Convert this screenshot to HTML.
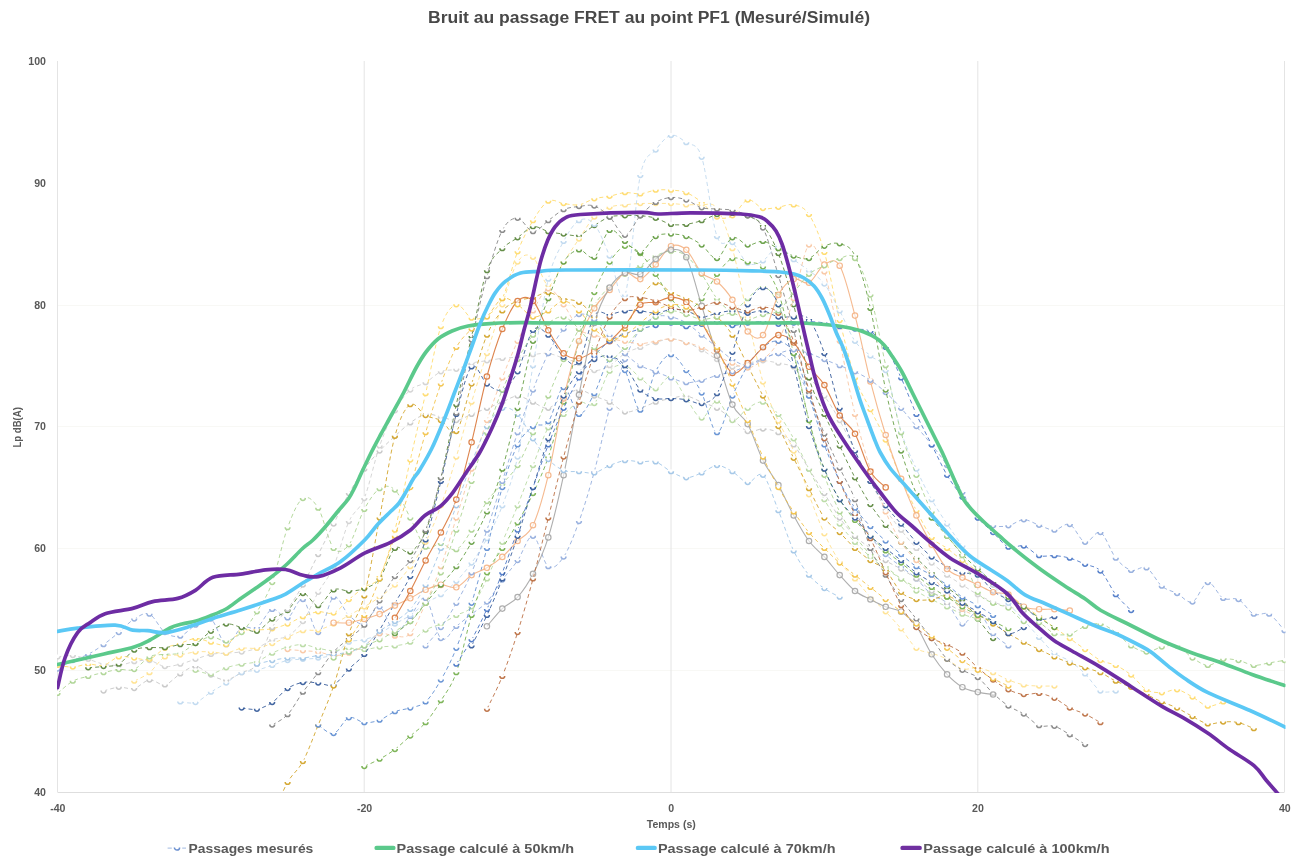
<!DOCTYPE html>
<html><head><meta charset="utf-8"><title>Chart</title>
<style>
html,body{margin:0;padding:0;background:#fff;}
body{width:1299px;height:866px;overflow:hidden;position:relative;font-family:"Liberation Sans",sans-serif;}
svg{position:absolute;left:0;top:0;will-change:transform;}
text{font-family:"Liberation Sans",sans-serif;font-weight:bold;fill:#595959;}
</style></head><body>
<svg width="1299" height="866" viewBox="0 0 1299 866">
<defs><clipPath id="cp"><rect x="57" y="40" width="1228.5" height="753"/></clipPath></defs>
<g clip-path="url(#cp)">
<line x1="57.5" x2="1284.5" y1="670.5" y2="670.5" stroke="#f8f8f5" stroke-width="1"/>
<line x1="57.5" x2="1284.5" y1="548.5" y2="548.5" stroke="#f8f8f5" stroke-width="1"/>
<line x1="57.5" x2="1284.5" y1="426.5" y2="426.5" stroke="#f8f8f5" stroke-width="1"/>
<line x1="57.5" x2="1284.5" y1="305.5" y2="305.5" stroke="#f8f8f5" stroke-width="1"/>
<line x1="57.5" x2="57.5" y1="61.0" y2="792.0" stroke="#e4e4e4" stroke-width="1"/>
<line x1="364.2" x2="364.2" y1="61.0" y2="792.0" stroke="#e4e4e4" stroke-width="1"/>
<line x1="671.0" x2="671.0" y1="61.0" y2="792.0" stroke="#e4e4e4" stroke-width="1"/>
<line x1="977.8" x2="977.8" y1="61.0" y2="792.0" stroke="#e4e4e4" stroke-width="1"/>
<line x1="1284.5" x2="1284.5" y1="61.0" y2="792.0" stroke="#e4e4e4" stroke-width="1"/>
<line x1="57.5" x2="1284.5" y1="792.5" y2="792.5" stroke="#dedede" stroke-width="1"/>
<path d="M57.5,668.9C60.1,667.5 67.7,662.9 72.8,660.4C78.0,658.0 83.1,657.0 88.2,654.3C93.3,651.7 98.4,648.2 103.5,644.6C108.6,640.9 113.7,636.7 118.8,632.4C124.0,628.1 129.1,622.0 134.2,619.0C139.3,616.0 144.4,611.9 149.5,614.1C154.6,616.4 159.8,628.7 164.9,632.4C170.0,636.1 175.1,637.3 180.2,636.1C185.3,634.8 190.4,627.9 195.5,625.1C200.7,622.2 205.8,615.7 210.9,619.0C216.0,622.2 221.1,643.2 226.2,644.6C231.3,646.0 236.4,630.4 241.6,627.5C246.7,624.7 251.8,630.6 256.9,627.5C262.0,624.5 267.1,610.9 272.2,609.2C277.3,607.6 282.4,619.4 287.6,617.8C292.7,616.2 297.8,597.1 302.9,599.5C308.0,601.9 313.1,632.8 318.2,632.4C323.4,632.0 328.5,599.9 333.6,597.1C338.7,594.2 343.8,610.9 348.9,615.3C354.0,619.8 359.1,625.3 364.2,623.9C369.4,622.4 374.5,605.4 379.6,606.8C384.7,608.2 389.8,630.8 394.9,632.4C400.0,634.0 405.1,622.2 410.3,616.6C415.4,610.9 420.5,594.6 425.6,598.3C430.7,601.9 435.8,633.8 440.9,638.5C446.1,643.2 451.2,630.4 456.3,626.3C461.4,622.2 466.5,618.2 471.6,614.1C476.7,610.1 481.8,607.6 486.9,601.9C492.1,596.3 497.2,586.9 502.3,580.0C507.4,573.1 512.5,567.8 517.6,560.5C522.7,553.2 527.9,535.1 533.0,536.1C538.1,537.2 543.2,563.2 548.3,566.6C553.4,570.1 558.5,564.4 563.6,556.9C568.8,549.3 573.9,535.7 579.0,521.5C584.1,507.3 589.2,490.5 594.3,471.6C599.4,452.7 604.5,426.9 609.6,408.2C614.8,389.5 619.9,372.7 625.0,359.5C630.1,346.3 635.2,336.1 640.3,329.0C645.4,321.9 650.6,318.9 655.7,316.9C660.8,314.8 665.9,315.8 671.0,316.9C676.1,317.9 681.2,319.9 686.3,322.9C691.4,326.0 696.6,331.1 701.7,335.1C706.8,339.2 711.9,343.2 717.0,347.3C722.1,351.4 727.2,356.4 732.4,359.5C737.5,362.5 742.6,365.6 747.7,365.6C752.8,365.6 757.9,361.5 763.0,359.5C768.1,357.5 773.2,352.4 778.4,353.4C783.5,354.4 788.6,358.5 793.7,365.6C798.8,372.7 803.9,383.9 809.0,396.0C814.1,408.2 819.3,424.5 824.4,438.7C829.5,452.9 834.6,469.1 839.7,481.3C844.8,493.5 849.9,502.6 855.0,511.8C860.2,520.9 865.3,529.0 870.4,536.1C875.5,543.3 880.6,549.3 885.7,554.4C890.8,559.5 896.0,562.5 901.1,566.6C906.2,570.7 911.3,574.1 916.4,578.8C921.5,583.5 926.6,590.6 931.7,594.6C936.8,598.7 942.0,598.3 947.1,603.2C952.2,608.0 957.3,622.4 962.4,623.9C967.5,625.3 972.6,610.1 977.8,611.7C982.9,613.3 988.0,627.9 993.1,633.6C998.2,639.3 1005.9,643.8 1008.4,645.8" fill="none" stroke="#8faadc" stroke-width="0.95" stroke-dasharray="4 3" stroke-opacity="0.9"/>
<circle cx="57.5" cy="668.9" r="2.3" fill="#fff"/><path d="M55.1,668.5a2.4,2.4 0 0 0 4.8,0" fill="none" stroke="#8faadc" stroke-width="1.5" stroke-opacity="0.9"/>
<circle cx="72.8" cy="660.4" r="2.3" fill="#fff"/><path d="M70.4,660.0a2.4,2.4 0 0 0 4.8,0" fill="none" stroke="#8faadc" stroke-width="1.5" stroke-opacity="0.9"/>
<circle cx="88.2" cy="654.3" r="2.3" fill="#fff"/><path d="M85.8,653.9a2.4,2.4 0 0 0 4.8,0" fill="none" stroke="#8faadc" stroke-width="1.5" stroke-opacity="0.9"/>
<circle cx="103.5" cy="644.6" r="2.3" fill="#fff"/><path d="M101.1,644.2a2.4,2.4 0 0 0 4.8,0" fill="none" stroke="#8faadc" stroke-width="1.5" stroke-opacity="0.9"/>
<circle cx="118.8" cy="632.4" r="2.3" fill="#fff"/><path d="M116.4,632.0a2.4,2.4 0 0 0 4.8,0" fill="none" stroke="#8faadc" stroke-width="1.5" stroke-opacity="0.9"/>
<circle cx="134.2" cy="619.0" r="2.3" fill="#fff"/><path d="M131.8,618.6a2.4,2.4 0 0 0 4.8,0" fill="none" stroke="#8faadc" stroke-width="1.5" stroke-opacity="0.9"/>
<circle cx="149.5" cy="614.1" r="2.3" fill="#fff"/><path d="M147.1,613.7a2.4,2.4 0 0 0 4.8,0" fill="none" stroke="#8faadc" stroke-width="1.5" stroke-opacity="0.9"/>
<circle cx="164.9" cy="632.4" r="2.3" fill="#fff"/><path d="M162.5,632.0a2.4,2.4 0 0 0 4.8,0" fill="none" stroke="#8faadc" stroke-width="1.5" stroke-opacity="0.9"/>
<circle cx="180.2" cy="636.1" r="2.3" fill="#fff"/><path d="M177.8,635.7a2.4,2.4 0 0 0 4.8,0" fill="none" stroke="#8faadc" stroke-width="1.5" stroke-opacity="0.9"/>
<circle cx="195.5" cy="625.1" r="2.3" fill="#fff"/><path d="M193.1,624.7a2.4,2.4 0 0 0 4.8,0" fill="none" stroke="#8faadc" stroke-width="1.5" stroke-opacity="0.9"/>
<circle cx="210.9" cy="619.0" r="2.3" fill="#fff"/><path d="M208.5,618.6a2.4,2.4 0 0 0 4.8,0" fill="none" stroke="#8faadc" stroke-width="1.5" stroke-opacity="0.9"/>
<circle cx="226.2" cy="644.6" r="2.3" fill="#fff"/><path d="M223.8,644.2a2.4,2.4 0 0 0 4.8,0" fill="none" stroke="#8faadc" stroke-width="1.5" stroke-opacity="0.9"/>
<circle cx="241.6" cy="627.5" r="2.3" fill="#fff"/><path d="M239.2,627.1a2.4,2.4 0 0 0 4.8,0" fill="none" stroke="#8faadc" stroke-width="1.5" stroke-opacity="0.9"/>
<circle cx="256.9" cy="627.5" r="2.3" fill="#fff"/><path d="M254.5,627.1a2.4,2.4 0 0 0 4.8,0" fill="none" stroke="#8faadc" stroke-width="1.5" stroke-opacity="0.9"/>
<circle cx="272.2" cy="609.2" r="2.3" fill="#fff"/><path d="M269.8,608.9a2.4,2.4 0 0 0 4.8,0" fill="none" stroke="#8faadc" stroke-width="1.5" stroke-opacity="0.9"/>
<circle cx="287.6" cy="617.8" r="2.3" fill="#fff"/><path d="M285.2,617.4a2.4,2.4 0 0 0 4.8,0" fill="none" stroke="#8faadc" stroke-width="1.5" stroke-opacity="0.9"/>
<circle cx="302.9" cy="599.5" r="2.3" fill="#fff"/><path d="M300.5,599.1a2.4,2.4 0 0 0 4.8,0" fill="none" stroke="#8faadc" stroke-width="1.5" stroke-opacity="0.9"/>
<circle cx="318.2" cy="632.4" r="2.3" fill="#fff"/><path d="M315.8,632.0a2.4,2.4 0 0 0 4.8,0" fill="none" stroke="#8faadc" stroke-width="1.5" stroke-opacity="0.9"/>
<circle cx="333.6" cy="597.1" r="2.3" fill="#fff"/><path d="M331.2,596.7a2.4,2.4 0 0 0 4.8,0" fill="none" stroke="#8faadc" stroke-width="1.5" stroke-opacity="0.9"/>
<circle cx="348.9" cy="615.3" r="2.3" fill="#fff"/><path d="M346.5,614.9a2.4,2.4 0 0 0 4.8,0" fill="none" stroke="#8faadc" stroke-width="1.5" stroke-opacity="0.9"/>
<circle cx="364.2" cy="623.9" r="2.3" fill="#fff"/><path d="M361.9,623.5a2.4,2.4 0 0 0 4.8,0" fill="none" stroke="#8faadc" stroke-width="1.5" stroke-opacity="0.9"/>
<circle cx="379.6" cy="606.8" r="2.3" fill="#fff"/><path d="M377.2,606.4a2.4,2.4 0 0 0 4.8,0" fill="none" stroke="#8faadc" stroke-width="1.5" stroke-opacity="0.9"/>
<circle cx="394.9" cy="632.4" r="2.3" fill="#fff"/><path d="M392.5,632.0a2.4,2.4 0 0 0 4.8,0" fill="none" stroke="#8faadc" stroke-width="1.5" stroke-opacity="0.9"/>
<circle cx="410.3" cy="616.6" r="2.3" fill="#fff"/><path d="M407.9,616.2a2.4,2.4 0 0 0 4.8,0" fill="none" stroke="#8faadc" stroke-width="1.5" stroke-opacity="0.9"/>
<circle cx="425.6" cy="598.3" r="2.3" fill="#fff"/><path d="M423.2,597.9a2.4,2.4 0 0 0 4.8,0" fill="none" stroke="#8faadc" stroke-width="1.5" stroke-opacity="0.9"/>
<circle cx="440.9" cy="638.5" r="2.3" fill="#fff"/><path d="M438.5,638.1a2.4,2.4 0 0 0 4.8,0" fill="none" stroke="#8faadc" stroke-width="1.5" stroke-opacity="0.9"/>
<circle cx="456.3" cy="626.3" r="2.3" fill="#fff"/><path d="M453.9,625.9a2.4,2.4 0 0 0 4.8,0" fill="none" stroke="#8faadc" stroke-width="1.5" stroke-opacity="0.9"/>
<circle cx="471.6" cy="614.1" r="2.3" fill="#fff"/><path d="M469.2,613.7a2.4,2.4 0 0 0 4.8,0" fill="none" stroke="#8faadc" stroke-width="1.5" stroke-opacity="0.9"/>
<circle cx="486.9" cy="601.9" r="2.3" fill="#fff"/><path d="M484.6,601.5a2.4,2.4 0 0 0 4.8,0" fill="none" stroke="#8faadc" stroke-width="1.5" stroke-opacity="0.9"/>
<circle cx="502.3" cy="580.0" r="2.3" fill="#fff"/><path d="M499.9,579.6a2.4,2.4 0 0 0 4.8,0" fill="none" stroke="#8faadc" stroke-width="1.5" stroke-opacity="0.9"/>
<circle cx="517.6" cy="560.5" r="2.3" fill="#fff"/><path d="M515.2,560.1a2.4,2.4 0 0 0 4.8,0" fill="none" stroke="#8faadc" stroke-width="1.5" stroke-opacity="0.9"/>
<circle cx="533.0" cy="536.1" r="2.3" fill="#fff"/><path d="M530.6,535.8a2.4,2.4 0 0 0 4.8,0" fill="none" stroke="#8faadc" stroke-width="1.5" stroke-opacity="0.9"/>
<circle cx="548.3" cy="566.6" r="2.3" fill="#fff"/><path d="M545.9,566.2a2.4,2.4 0 0 0 4.8,0" fill="none" stroke="#8faadc" stroke-width="1.5" stroke-opacity="0.9"/>
<circle cx="563.6" cy="556.9" r="2.3" fill="#fff"/><path d="M561.2,556.5a2.4,2.4 0 0 0 4.8,0" fill="none" stroke="#8faadc" stroke-width="1.5" stroke-opacity="0.9"/>
<circle cx="579.0" cy="521.5" r="2.3" fill="#fff"/><path d="M576.6,521.1a2.4,2.4 0 0 0 4.8,0" fill="none" stroke="#8faadc" stroke-width="1.5" stroke-opacity="0.9"/>
<circle cx="594.3" cy="471.6" r="2.3" fill="#fff"/><path d="M591.9,471.2a2.4,2.4 0 0 0 4.8,0" fill="none" stroke="#8faadc" stroke-width="1.5" stroke-opacity="0.9"/>
<circle cx="609.6" cy="408.2" r="2.3" fill="#fff"/><path d="M607.2,407.8a2.4,2.4 0 0 0 4.8,0" fill="none" stroke="#8faadc" stroke-width="1.5" stroke-opacity="0.9"/>
<circle cx="625.0" cy="359.5" r="2.3" fill="#fff"/><path d="M622.6,359.1a2.4,2.4 0 0 0 4.8,0" fill="none" stroke="#8faadc" stroke-width="1.5" stroke-opacity="0.9"/>
<circle cx="640.3" cy="329.0" r="2.3" fill="#fff"/><path d="M637.9,328.6a2.4,2.4 0 0 0 4.8,0" fill="none" stroke="#8faadc" stroke-width="1.5" stroke-opacity="0.9"/>
<circle cx="655.7" cy="316.9" r="2.3" fill="#fff"/><path d="M653.3,316.5a2.4,2.4 0 0 0 4.8,0" fill="none" stroke="#8faadc" stroke-width="1.5" stroke-opacity="0.9"/>
<circle cx="671.0" cy="316.9" r="2.3" fill="#fff"/><path d="M668.6,316.5a2.4,2.4 0 0 0 4.8,0" fill="none" stroke="#8faadc" stroke-width="1.5" stroke-opacity="0.9"/>
<circle cx="686.3" cy="322.9" r="2.3" fill="#fff"/><path d="M683.9,322.5a2.4,2.4 0 0 0 4.8,0" fill="none" stroke="#8faadc" stroke-width="1.5" stroke-opacity="0.9"/>
<circle cx="701.7" cy="335.1" r="2.3" fill="#fff"/><path d="M699.3,334.7a2.4,2.4 0 0 0 4.8,0" fill="none" stroke="#8faadc" stroke-width="1.5" stroke-opacity="0.9"/>
<circle cx="717.0" cy="347.3" r="2.3" fill="#fff"/><path d="M714.6,346.9a2.4,2.4 0 0 0 4.8,0" fill="none" stroke="#8faadc" stroke-width="1.5" stroke-opacity="0.9"/>
<circle cx="732.4" cy="359.5" r="2.3" fill="#fff"/><path d="M730.0,359.1a2.4,2.4 0 0 0 4.8,0" fill="none" stroke="#8faadc" stroke-width="1.5" stroke-opacity="0.9"/>
<circle cx="747.7" cy="365.6" r="2.3" fill="#fff"/><path d="M745.3,365.2a2.4,2.4 0 0 0 4.8,0" fill="none" stroke="#8faadc" stroke-width="1.5" stroke-opacity="0.9"/>
<circle cx="763.0" cy="359.5" r="2.3" fill="#fff"/><path d="M760.6,359.1a2.4,2.4 0 0 0 4.8,0" fill="none" stroke="#8faadc" stroke-width="1.5" stroke-opacity="0.9"/>
<circle cx="778.4" cy="353.4" r="2.3" fill="#fff"/><path d="M776.0,353.0a2.4,2.4 0 0 0 4.8,0" fill="none" stroke="#8faadc" stroke-width="1.5" stroke-opacity="0.9"/>
<circle cx="793.7" cy="365.6" r="2.3" fill="#fff"/><path d="M791.3,365.2a2.4,2.4 0 0 0 4.8,0" fill="none" stroke="#8faadc" stroke-width="1.5" stroke-opacity="0.9"/>
<circle cx="809.0" cy="396.0" r="2.3" fill="#fff"/><path d="M806.6,395.6a2.4,2.4 0 0 0 4.8,0" fill="none" stroke="#8faadc" stroke-width="1.5" stroke-opacity="0.9"/>
<circle cx="824.4" cy="438.7" r="2.3" fill="#fff"/><path d="M822.0,438.3a2.4,2.4 0 0 0 4.8,0" fill="none" stroke="#8faadc" stroke-width="1.5" stroke-opacity="0.9"/>
<circle cx="839.7" cy="481.3" r="2.3" fill="#fff"/><path d="M837.3,480.9a2.4,2.4 0 0 0 4.8,0" fill="none" stroke="#8faadc" stroke-width="1.5" stroke-opacity="0.9"/>
<circle cx="855.0" cy="511.8" r="2.3" fill="#fff"/><path d="M852.6,511.4a2.4,2.4 0 0 0 4.8,0" fill="none" stroke="#8faadc" stroke-width="1.5" stroke-opacity="0.9"/>
<circle cx="870.4" cy="536.1" r="2.3" fill="#fff"/><path d="M868.0,535.8a2.4,2.4 0 0 0 4.8,0" fill="none" stroke="#8faadc" stroke-width="1.5" stroke-opacity="0.9"/>
<circle cx="885.7" cy="554.4" r="2.3" fill="#fff"/><path d="M883.3,554.0a2.4,2.4 0 0 0 4.8,0" fill="none" stroke="#8faadc" stroke-width="1.5" stroke-opacity="0.9"/>
<circle cx="901.1" cy="566.6" r="2.3" fill="#fff"/><path d="M898.7,566.2a2.4,2.4 0 0 0 4.8,0" fill="none" stroke="#8faadc" stroke-width="1.5" stroke-opacity="0.9"/>
<circle cx="916.4" cy="578.8" r="2.3" fill="#fff"/><path d="M914.0,578.4a2.4,2.4 0 0 0 4.8,0" fill="none" stroke="#8faadc" stroke-width="1.5" stroke-opacity="0.9"/>
<circle cx="931.7" cy="594.6" r="2.3" fill="#fff"/><path d="M929.3,594.2a2.4,2.4 0 0 0 4.8,0" fill="none" stroke="#8faadc" stroke-width="1.5" stroke-opacity="0.9"/>
<circle cx="947.1" cy="603.2" r="2.3" fill="#fff"/><path d="M944.7,602.8a2.4,2.4 0 0 0 4.8,0" fill="none" stroke="#8faadc" stroke-width="1.5" stroke-opacity="0.9"/>
<circle cx="962.4" cy="623.9" r="2.3" fill="#fff"/><path d="M960.0,623.5a2.4,2.4 0 0 0 4.8,0" fill="none" stroke="#8faadc" stroke-width="1.5" stroke-opacity="0.9"/>
<circle cx="977.8" cy="611.7" r="2.3" fill="#fff"/><path d="M975.4,611.3a2.4,2.4 0 0 0 4.8,0" fill="none" stroke="#8faadc" stroke-width="1.5" stroke-opacity="0.9"/>
<circle cx="993.1" cy="633.6" r="2.3" fill="#fff"/><path d="M990.7,633.2a2.4,2.4 0 0 0 4.8,0" fill="none" stroke="#8faadc" stroke-width="1.5" stroke-opacity="0.9"/>
<circle cx="1008.4" cy="645.8" r="2.3" fill="#fff"/><path d="M1006.0,645.4a2.4,2.4 0 0 0 4.8,0" fill="none" stroke="#8faadc" stroke-width="1.5" stroke-opacity="0.9"/>
<path d="M57.5,656.8C60.1,656.6 67.7,655.1 72.8,655.5C78.0,656.0 83.1,657.8 88.2,659.2C93.3,660.6 98.4,663.1 103.5,664.1C108.6,665.1 113.7,665.7 118.8,665.3C124.0,664.9 129.1,662.5 134.2,661.6C139.3,660.8 144.4,659.6 149.5,660.4C154.6,661.2 159.8,665.9 164.9,666.5C170.0,667.1 175.1,665.3 180.2,664.1C185.3,662.9 190.4,660.8 195.5,659.2C200.7,657.6 205.8,655.3 210.9,654.3C216.0,653.3 221.1,653.5 226.2,653.1C231.3,652.7 236.4,652.7 241.6,651.9C246.7,651.1 251.8,650.3 256.9,648.2C262.0,646.2 267.1,641.7 272.2,639.7C277.3,637.7 282.4,639.1 287.6,636.1C292.7,633.0 297.8,628.7 302.9,621.4C308.0,614.1 313.1,601.3 318.2,592.2C323.4,583.1 328.5,578.4 333.6,566.6C338.7,554.8 343.8,532.9 348.9,521.5C354.0,510.2 359.1,511.0 364.2,498.4C369.4,485.8 374.5,460.6 379.6,446.0C384.7,431.4 389.8,420.0 394.9,410.7C400.0,401.3 405.1,394.6 410.3,389.9C415.4,385.3 420.5,385.7 425.6,382.6C430.7,379.6 435.8,373.9 440.9,371.7C446.1,369.4 451.2,370.7 456.3,369.2C461.4,367.8 466.5,364.6 471.6,363.1C476.7,361.7 481.8,361.5 486.9,360.7C492.1,359.9 497.2,358.9 502.3,358.3C507.4,357.7 512.5,357.7 517.6,357.1C522.7,356.4 527.9,355.2 533.0,354.6C538.1,354.0 543.2,352.8 548.3,353.4C553.4,354.0 558.5,356.6 563.6,358.3C568.8,359.9 573.9,361.1 579.0,363.1C584.1,365.2 589.2,370.1 594.3,370.5C599.4,370.9 604.5,368.4 609.6,365.6C614.8,362.7 619.9,356.4 625.0,353.4C630.1,350.4 635.2,349.1 640.3,347.3C645.4,345.5 650.6,343.9 655.7,342.4C660.8,341.0 665.9,338.8 671.0,338.8C676.1,338.8 681.2,340.6 686.3,342.4C691.4,344.3 696.6,346.9 701.7,349.7C706.8,352.6 711.9,356.6 717.0,359.5C722.1,362.3 727.2,366.2 732.4,366.8C737.5,367.4 742.6,364.2 747.7,363.1C752.8,362.1 757.9,360.7 763.0,360.7C768.1,360.7 773.2,362.1 778.4,363.1C783.5,364.2 788.6,364.4 793.7,366.8C798.8,369.2 803.9,372.9 809.0,377.8C814.1,382.6 819.3,388.9 824.4,396.0C829.5,403.1 834.6,411.3 839.7,420.4C844.8,429.5 849.9,440.7 855.0,450.9C860.2,461.0 865.3,471.6 870.4,481.3C875.5,491.1 880.6,501.2 885.7,509.3C890.8,517.5 896.0,523.6 901.1,530.1C906.2,536.6 911.3,542.9 916.4,548.3C921.5,553.8 926.6,558.5 931.7,563.0C936.8,567.4 942.0,571.5 947.1,575.1C952.2,578.8 957.3,581.6 962.4,584.9C967.5,588.1 972.6,591.8 977.8,594.6C982.9,597.5 988.0,599.9 993.1,601.9C998.2,604.0 1003.3,605.4 1008.4,606.8C1013.5,608.2 1018.7,609.0 1023.8,610.5C1028.9,611.9 1036.5,614.5 1039.1,615.3" fill="none" stroke="#cfcfcf" stroke-width="0.95" stroke-dasharray="4 3" stroke-opacity="0.9"/>
<circle cx="57.5" cy="656.8" r="2.3" fill="#fff"/><path d="M55.1,656.4a2.4,2.4 0 0 0 4.8,0" fill="none" stroke="#cfcfcf" stroke-width="1.5" stroke-opacity="0.9"/>
<circle cx="72.8" cy="655.5" r="2.3" fill="#fff"/><path d="M70.4,655.1a2.4,2.4 0 0 0 4.8,0" fill="none" stroke="#cfcfcf" stroke-width="1.5" stroke-opacity="0.9"/>
<circle cx="88.2" cy="659.2" r="2.3" fill="#fff"/><path d="M85.8,658.8a2.4,2.4 0 0 0 4.8,0" fill="none" stroke="#cfcfcf" stroke-width="1.5" stroke-opacity="0.9"/>
<circle cx="103.5" cy="664.1" r="2.3" fill="#fff"/><path d="M101.1,663.7a2.4,2.4 0 0 0 4.8,0" fill="none" stroke="#cfcfcf" stroke-width="1.5" stroke-opacity="0.9"/>
<circle cx="118.8" cy="665.3" r="2.3" fill="#fff"/><path d="M116.4,664.9a2.4,2.4 0 0 0 4.8,0" fill="none" stroke="#cfcfcf" stroke-width="1.5" stroke-opacity="0.9"/>
<circle cx="134.2" cy="661.6" r="2.3" fill="#fff"/><path d="M131.8,661.2a2.4,2.4 0 0 0 4.8,0" fill="none" stroke="#cfcfcf" stroke-width="1.5" stroke-opacity="0.9"/>
<circle cx="149.5" cy="660.4" r="2.3" fill="#fff"/><path d="M147.1,660.0a2.4,2.4 0 0 0 4.8,0" fill="none" stroke="#cfcfcf" stroke-width="1.5" stroke-opacity="0.9"/>
<circle cx="164.9" cy="666.5" r="2.3" fill="#fff"/><path d="M162.5,666.1a2.4,2.4 0 0 0 4.8,0" fill="none" stroke="#cfcfcf" stroke-width="1.5" stroke-opacity="0.9"/>
<circle cx="180.2" cy="664.1" r="2.3" fill="#fff"/><path d="M177.8,663.7a2.4,2.4 0 0 0 4.8,0" fill="none" stroke="#cfcfcf" stroke-width="1.5" stroke-opacity="0.9"/>
<circle cx="195.5" cy="659.2" r="2.3" fill="#fff"/><path d="M193.1,658.8a2.4,2.4 0 0 0 4.8,0" fill="none" stroke="#cfcfcf" stroke-width="1.5" stroke-opacity="0.9"/>
<circle cx="210.9" cy="654.3" r="2.3" fill="#fff"/><path d="M208.5,653.9a2.4,2.4 0 0 0 4.8,0" fill="none" stroke="#cfcfcf" stroke-width="1.5" stroke-opacity="0.9"/>
<circle cx="226.2" cy="653.1" r="2.3" fill="#fff"/><path d="M223.8,652.7a2.4,2.4 0 0 0 4.8,0" fill="none" stroke="#cfcfcf" stroke-width="1.5" stroke-opacity="0.9"/>
<circle cx="241.6" cy="651.9" r="2.3" fill="#fff"/><path d="M239.2,651.5a2.4,2.4 0 0 0 4.8,0" fill="none" stroke="#cfcfcf" stroke-width="1.5" stroke-opacity="0.9"/>
<circle cx="256.9" cy="648.2" r="2.3" fill="#fff"/><path d="M254.5,647.8a2.4,2.4 0 0 0 4.8,0" fill="none" stroke="#cfcfcf" stroke-width="1.5" stroke-opacity="0.9"/>
<circle cx="272.2" cy="639.7" r="2.3" fill="#fff"/><path d="M269.8,639.3a2.4,2.4 0 0 0 4.8,0" fill="none" stroke="#cfcfcf" stroke-width="1.5" stroke-opacity="0.9"/>
<circle cx="287.6" cy="636.1" r="2.3" fill="#fff"/><path d="M285.2,635.7a2.4,2.4 0 0 0 4.8,0" fill="none" stroke="#cfcfcf" stroke-width="1.5" stroke-opacity="0.9"/>
<circle cx="302.9" cy="621.4" r="2.3" fill="#fff"/><path d="M300.5,621.0a2.4,2.4 0 0 0 4.8,0" fill="none" stroke="#cfcfcf" stroke-width="1.5" stroke-opacity="0.9"/>
<circle cx="318.2" cy="592.2" r="2.3" fill="#fff"/><path d="M315.8,591.8a2.4,2.4 0 0 0 4.8,0" fill="none" stroke="#cfcfcf" stroke-width="1.5" stroke-opacity="0.9"/>
<circle cx="333.6" cy="566.6" r="2.3" fill="#fff"/><path d="M331.2,566.2a2.4,2.4 0 0 0 4.8,0" fill="none" stroke="#cfcfcf" stroke-width="1.5" stroke-opacity="0.9"/>
<circle cx="348.9" cy="521.5" r="2.3" fill="#fff"/><path d="M346.5,521.1a2.4,2.4 0 0 0 4.8,0" fill="none" stroke="#cfcfcf" stroke-width="1.5" stroke-opacity="0.9"/>
<circle cx="364.2" cy="498.4" r="2.3" fill="#fff"/><path d="M361.9,498.0a2.4,2.4 0 0 0 4.8,0" fill="none" stroke="#cfcfcf" stroke-width="1.5" stroke-opacity="0.9"/>
<circle cx="379.6" cy="446.0" r="2.3" fill="#fff"/><path d="M377.2,445.6a2.4,2.4 0 0 0 4.8,0" fill="none" stroke="#cfcfcf" stroke-width="1.5" stroke-opacity="0.9"/>
<circle cx="394.9" cy="410.7" r="2.3" fill="#fff"/><path d="M392.5,410.3a2.4,2.4 0 0 0 4.8,0" fill="none" stroke="#cfcfcf" stroke-width="1.5" stroke-opacity="0.9"/>
<circle cx="410.3" cy="389.9" r="2.3" fill="#fff"/><path d="M407.9,389.6a2.4,2.4 0 0 0 4.8,0" fill="none" stroke="#cfcfcf" stroke-width="1.5" stroke-opacity="0.9"/>
<circle cx="425.6" cy="382.6" r="2.3" fill="#fff"/><path d="M423.2,382.2a2.4,2.4 0 0 0 4.8,0" fill="none" stroke="#cfcfcf" stroke-width="1.5" stroke-opacity="0.9"/>
<circle cx="440.9" cy="371.7" r="2.3" fill="#fff"/><path d="M438.5,371.3a2.4,2.4 0 0 0 4.8,0" fill="none" stroke="#cfcfcf" stroke-width="1.5" stroke-opacity="0.9"/>
<circle cx="456.3" cy="369.2" r="2.3" fill="#fff"/><path d="M453.9,368.8a2.4,2.4 0 0 0 4.8,0" fill="none" stroke="#cfcfcf" stroke-width="1.5" stroke-opacity="0.9"/>
<circle cx="471.6" cy="363.1" r="2.3" fill="#fff"/><path d="M469.2,362.7a2.4,2.4 0 0 0 4.8,0" fill="none" stroke="#cfcfcf" stroke-width="1.5" stroke-opacity="0.9"/>
<circle cx="486.9" cy="360.7" r="2.3" fill="#fff"/><path d="M484.6,360.3a2.4,2.4 0 0 0 4.8,0" fill="none" stroke="#cfcfcf" stroke-width="1.5" stroke-opacity="0.9"/>
<circle cx="502.3" cy="358.3" r="2.3" fill="#fff"/><path d="M499.9,357.9a2.4,2.4 0 0 0 4.8,0" fill="none" stroke="#cfcfcf" stroke-width="1.5" stroke-opacity="0.9"/>
<circle cx="517.6" cy="357.1" r="2.3" fill="#fff"/><path d="M515.2,356.7a2.4,2.4 0 0 0 4.8,0" fill="none" stroke="#cfcfcf" stroke-width="1.5" stroke-opacity="0.9"/>
<circle cx="533.0" cy="354.6" r="2.3" fill="#fff"/><path d="M530.6,354.2a2.4,2.4 0 0 0 4.8,0" fill="none" stroke="#cfcfcf" stroke-width="1.5" stroke-opacity="0.9"/>
<circle cx="548.3" cy="353.4" r="2.3" fill="#fff"/><path d="M545.9,353.0a2.4,2.4 0 0 0 4.8,0" fill="none" stroke="#cfcfcf" stroke-width="1.5" stroke-opacity="0.9"/>
<circle cx="563.6" cy="358.3" r="2.3" fill="#fff"/><path d="M561.2,357.9a2.4,2.4 0 0 0 4.8,0" fill="none" stroke="#cfcfcf" stroke-width="1.5" stroke-opacity="0.9"/>
<circle cx="579.0" cy="363.1" r="2.3" fill="#fff"/><path d="M576.6,362.7a2.4,2.4 0 0 0 4.8,0" fill="none" stroke="#cfcfcf" stroke-width="1.5" stroke-opacity="0.9"/>
<circle cx="594.3" cy="370.5" r="2.3" fill="#fff"/><path d="M591.9,370.1a2.4,2.4 0 0 0 4.8,0" fill="none" stroke="#cfcfcf" stroke-width="1.5" stroke-opacity="0.9"/>
<circle cx="609.6" cy="365.6" r="2.3" fill="#fff"/><path d="M607.2,365.2a2.4,2.4 0 0 0 4.8,0" fill="none" stroke="#cfcfcf" stroke-width="1.5" stroke-opacity="0.9"/>
<circle cx="625.0" cy="353.4" r="2.3" fill="#fff"/><path d="M622.6,353.0a2.4,2.4 0 0 0 4.8,0" fill="none" stroke="#cfcfcf" stroke-width="1.5" stroke-opacity="0.9"/>
<circle cx="640.3" cy="347.3" r="2.3" fill="#fff"/><path d="M637.9,346.9a2.4,2.4 0 0 0 4.8,0" fill="none" stroke="#cfcfcf" stroke-width="1.5" stroke-opacity="0.9"/>
<circle cx="655.7" cy="342.4" r="2.3" fill="#fff"/><path d="M653.3,342.0a2.4,2.4 0 0 0 4.8,0" fill="none" stroke="#cfcfcf" stroke-width="1.5" stroke-opacity="0.9"/>
<circle cx="671.0" cy="338.8" r="2.3" fill="#fff"/><path d="M668.6,338.4a2.4,2.4 0 0 0 4.8,0" fill="none" stroke="#cfcfcf" stroke-width="1.5" stroke-opacity="0.9"/>
<circle cx="686.3" cy="342.4" r="2.3" fill="#fff"/><path d="M683.9,342.0a2.4,2.4 0 0 0 4.8,0" fill="none" stroke="#cfcfcf" stroke-width="1.5" stroke-opacity="0.9"/>
<circle cx="701.7" cy="349.7" r="2.3" fill="#fff"/><path d="M699.3,349.3a2.4,2.4 0 0 0 4.8,0" fill="none" stroke="#cfcfcf" stroke-width="1.5" stroke-opacity="0.9"/>
<circle cx="717.0" cy="359.5" r="2.3" fill="#fff"/><path d="M714.6,359.1a2.4,2.4 0 0 0 4.8,0" fill="none" stroke="#cfcfcf" stroke-width="1.5" stroke-opacity="0.9"/>
<circle cx="732.4" cy="366.8" r="2.3" fill="#fff"/><path d="M730.0,366.4a2.4,2.4 0 0 0 4.8,0" fill="none" stroke="#cfcfcf" stroke-width="1.5" stroke-opacity="0.9"/>
<circle cx="747.7" cy="363.1" r="2.3" fill="#fff"/><path d="M745.3,362.7a2.4,2.4 0 0 0 4.8,0" fill="none" stroke="#cfcfcf" stroke-width="1.5" stroke-opacity="0.9"/>
<circle cx="763.0" cy="360.7" r="2.3" fill="#fff"/><path d="M760.6,360.3a2.4,2.4 0 0 0 4.8,0" fill="none" stroke="#cfcfcf" stroke-width="1.5" stroke-opacity="0.9"/>
<circle cx="778.4" cy="363.1" r="2.3" fill="#fff"/><path d="M776.0,362.7a2.4,2.4 0 0 0 4.8,0" fill="none" stroke="#cfcfcf" stroke-width="1.5" stroke-opacity="0.9"/>
<circle cx="793.7" cy="366.8" r="2.3" fill="#fff"/><path d="M791.3,366.4a2.4,2.4 0 0 0 4.8,0" fill="none" stroke="#cfcfcf" stroke-width="1.5" stroke-opacity="0.9"/>
<circle cx="809.0" cy="377.8" r="2.3" fill="#fff"/><path d="M806.6,377.4a2.4,2.4 0 0 0 4.8,0" fill="none" stroke="#cfcfcf" stroke-width="1.5" stroke-opacity="0.9"/>
<circle cx="824.4" cy="396.0" r="2.3" fill="#fff"/><path d="M822.0,395.6a2.4,2.4 0 0 0 4.8,0" fill="none" stroke="#cfcfcf" stroke-width="1.5" stroke-opacity="0.9"/>
<circle cx="839.7" cy="420.4" r="2.3" fill="#fff"/><path d="M837.3,420.0a2.4,2.4 0 0 0 4.8,0" fill="none" stroke="#cfcfcf" stroke-width="1.5" stroke-opacity="0.9"/>
<circle cx="855.0" cy="450.9" r="2.3" fill="#fff"/><path d="M852.6,450.5a2.4,2.4 0 0 0 4.8,0" fill="none" stroke="#cfcfcf" stroke-width="1.5" stroke-opacity="0.9"/>
<circle cx="870.4" cy="481.3" r="2.3" fill="#fff"/><path d="M868.0,480.9a2.4,2.4 0 0 0 4.8,0" fill="none" stroke="#cfcfcf" stroke-width="1.5" stroke-opacity="0.9"/>
<circle cx="885.7" cy="509.3" r="2.3" fill="#fff"/><path d="M883.3,508.9a2.4,2.4 0 0 0 4.8,0" fill="none" stroke="#cfcfcf" stroke-width="1.5" stroke-opacity="0.9"/>
<circle cx="901.1" cy="530.1" r="2.3" fill="#fff"/><path d="M898.7,529.7a2.4,2.4 0 0 0 4.8,0" fill="none" stroke="#cfcfcf" stroke-width="1.5" stroke-opacity="0.9"/>
<circle cx="916.4" cy="548.3" r="2.3" fill="#fff"/><path d="M914.0,547.9a2.4,2.4 0 0 0 4.8,0" fill="none" stroke="#cfcfcf" stroke-width="1.5" stroke-opacity="0.9"/>
<circle cx="931.7" cy="563.0" r="2.3" fill="#fff"/><path d="M929.3,562.6a2.4,2.4 0 0 0 4.8,0" fill="none" stroke="#cfcfcf" stroke-width="1.5" stroke-opacity="0.9"/>
<circle cx="947.1" cy="575.1" r="2.3" fill="#fff"/><path d="M944.7,574.7a2.4,2.4 0 0 0 4.8,0" fill="none" stroke="#cfcfcf" stroke-width="1.5" stroke-opacity="0.9"/>
<circle cx="962.4" cy="584.9" r="2.3" fill="#fff"/><path d="M960.0,584.5a2.4,2.4 0 0 0 4.8,0" fill="none" stroke="#cfcfcf" stroke-width="1.5" stroke-opacity="0.9"/>
<circle cx="977.8" cy="594.6" r="2.3" fill="#fff"/><path d="M975.4,594.2a2.4,2.4 0 0 0 4.8,0" fill="none" stroke="#cfcfcf" stroke-width="1.5" stroke-opacity="0.9"/>
<circle cx="993.1" cy="601.9" r="2.3" fill="#fff"/><path d="M990.7,601.5a2.4,2.4 0 0 0 4.8,0" fill="none" stroke="#cfcfcf" stroke-width="1.5" stroke-opacity="0.9"/>
<circle cx="1008.4" cy="606.8" r="2.3" fill="#fff"/><path d="M1006.0,606.4a2.4,2.4 0 0 0 4.8,0" fill="none" stroke="#cfcfcf" stroke-width="1.5" stroke-opacity="0.9"/>
<circle cx="1023.8" cy="610.5" r="2.3" fill="#fff"/><path d="M1021.4,610.1a2.4,2.4 0 0 0 4.8,0" fill="none" stroke="#cfcfcf" stroke-width="1.5" stroke-opacity="0.9"/>
<circle cx="1039.1" cy="615.3" r="2.3" fill="#fff"/><path d="M1036.7,614.9a2.4,2.4 0 0 0 4.8,0" fill="none" stroke="#cfcfcf" stroke-width="1.5" stroke-opacity="0.9"/>
<path d="M57.5,665.3C60.1,665.6 67.7,667.2 72.8,667.0C78.0,666.8 83.1,664.4 88.2,664.1C93.3,663.8 98.4,666.5 103.5,665.3C108.6,664.1 113.7,658.0 118.8,656.8C124.0,655.5 129.1,657.6 134.2,658.0C139.3,658.4 144.4,660.8 149.5,659.2C154.6,657.6 159.8,650.9 164.9,648.2C170.0,645.6 175.1,645.0 180.2,643.4C185.3,641.7 190.4,638.7 195.5,638.5C200.7,638.3 205.8,641.1 210.9,642.1C216.0,643.2 221.1,646.4 226.2,644.6C231.3,642.8 236.4,633.6 241.6,631.2C246.7,628.7 251.8,630.4 256.9,630.0C262.0,629.6 267.1,629.8 272.2,628.7C277.3,627.7 282.4,625.9 287.6,623.9C292.7,621.8 297.8,618.6 302.9,616.6C308.0,614.5 313.1,612.3 318.2,611.7C323.4,611.1 328.5,614.9 333.6,612.9C338.7,610.9 343.8,603.8 348.9,599.5C354.0,595.2 359.1,591.2 364.2,587.3C369.4,583.5 374.5,585.9 379.6,576.4C384.7,566.8 389.8,549.5 394.9,530.1C400.0,510.7 405.1,482.7 410.3,460.0C415.4,437.3 420.5,415.8 425.6,393.6C430.7,371.4 435.8,341.4 440.9,326.6C446.1,311.8 451.2,306.1 456.3,304.7C461.4,303.2 466.5,316.2 471.6,318.1C476.7,319.9 481.8,318.9 486.9,315.6C492.1,312.4 497.2,309.2 502.3,298.6C507.4,287.9 512.5,264.7 517.6,251.7C522.7,238.7 527.9,229.0 533.0,220.6C538.1,212.2 543.2,204.0 548.3,201.1C553.4,198.3 558.5,202.9 563.6,203.5C568.8,204.2 573.9,205.6 579.0,204.8C584.1,204.0 589.2,200.1 594.3,198.7C599.4,197.3 604.5,197.3 609.6,196.2C614.8,195.2 619.9,193.0 625.0,192.6C630.1,192.2 635.2,194.2 640.3,193.8C645.4,193.4 650.6,190.8 655.7,190.1C660.8,189.5 665.9,189.7 671.0,190.1C676.1,190.5 681.2,190.5 686.3,192.6C691.4,194.6 696.6,198.3 701.7,202.3C706.8,206.4 711.9,214.7 717.0,216.9C722.1,219.2 727.2,218.6 732.4,215.7C737.5,212.9 742.6,201.1 747.7,199.9C752.8,198.7 757.9,207.2 763.0,208.4C768.1,209.6 773.2,207.8 778.4,207.2C783.5,206.6 788.6,203.5 793.7,204.8C798.8,206.0 803.9,206.6 809.0,214.5C814.1,222.4 819.3,234.6 824.4,252.3C829.5,269.9 834.6,299.6 839.7,320.5C844.8,341.4 849.9,362.9 855.0,377.8C860.2,392.6 865.3,399.1 870.4,409.4C875.5,419.8 880.6,428.3 885.7,439.9C890.8,451.5 896.0,467.1 901.1,478.9C906.2,490.7 911.3,500.8 916.4,510.6C921.5,520.3 926.6,531.1 931.7,537.4C936.8,543.7 942.0,544.5 947.1,548.3C952.2,552.2 957.3,556.7 962.4,560.5C967.5,564.4 972.6,567.4 977.8,571.5C982.9,575.5 988.0,581.0 993.1,584.9C998.2,588.7 1003.3,591.2 1008.4,594.6C1013.5,598.1 1018.7,601.9 1023.8,605.6C1028.9,609.2 1034.0,612.9 1039.1,616.6C1044.2,620.2 1049.3,623.9 1054.4,627.5C1059.5,631.2 1064.7,634.8 1069.8,638.5C1074.9,642.1 1080.0,645.8 1085.1,649.5C1090.2,653.1 1095.3,657.8 1100.5,660.4C1105.6,663.1 1110.7,662.9 1115.8,665.3C1120.9,667.7 1126.0,671.0 1131.1,675.0C1136.2,679.1 1141.4,686.7 1146.5,689.7C1151.6,692.6 1156.7,692.7 1161.8,692.7C1166.9,692.7 1172.0,688.9 1177.1,689.7C1182.2,690.4 1187.4,694.2 1192.5,697.0C1197.6,699.7 1202.7,705.3 1207.8,706.1C1212.9,706.9 1220.6,702.6 1223.2,701.8" fill="none" stroke="#ffd966" stroke-width="0.95" stroke-dasharray="4 3" stroke-opacity="0.9"/>
<circle cx="57.5" cy="665.3" r="2.3" fill="#fff"/><path d="M55.1,664.9a2.4,2.4 0 0 0 4.8,0" fill="none" stroke="#ffd966" stroke-width="1.5" stroke-opacity="0.9"/>
<circle cx="72.8" cy="667.0" r="2.3" fill="#fff"/><path d="M70.4,666.6a2.4,2.4 0 0 0 4.8,0" fill="none" stroke="#ffd966" stroke-width="1.5" stroke-opacity="0.9"/>
<circle cx="88.2" cy="664.1" r="2.3" fill="#fff"/><path d="M85.8,663.7a2.4,2.4 0 0 0 4.8,0" fill="none" stroke="#ffd966" stroke-width="1.5" stroke-opacity="0.9"/>
<circle cx="103.5" cy="665.3" r="2.3" fill="#fff"/><path d="M101.1,664.9a2.4,2.4 0 0 0 4.8,0" fill="none" stroke="#ffd966" stroke-width="1.5" stroke-opacity="0.9"/>
<circle cx="118.8" cy="656.8" r="2.3" fill="#fff"/><path d="M116.4,656.4a2.4,2.4 0 0 0 4.8,0" fill="none" stroke="#ffd966" stroke-width="1.5" stroke-opacity="0.9"/>
<circle cx="134.2" cy="658.0" r="2.3" fill="#fff"/><path d="M131.8,657.6a2.4,2.4 0 0 0 4.8,0" fill="none" stroke="#ffd966" stroke-width="1.5" stroke-opacity="0.9"/>
<circle cx="149.5" cy="659.2" r="2.3" fill="#fff"/><path d="M147.1,658.8a2.4,2.4 0 0 0 4.8,0" fill="none" stroke="#ffd966" stroke-width="1.5" stroke-opacity="0.9"/>
<circle cx="164.9" cy="648.2" r="2.3" fill="#fff"/><path d="M162.5,647.8a2.4,2.4 0 0 0 4.8,0" fill="none" stroke="#ffd966" stroke-width="1.5" stroke-opacity="0.9"/>
<circle cx="180.2" cy="643.4" r="2.3" fill="#fff"/><path d="M177.8,643.0a2.4,2.4 0 0 0 4.8,0" fill="none" stroke="#ffd966" stroke-width="1.5" stroke-opacity="0.9"/>
<circle cx="195.5" cy="638.5" r="2.3" fill="#fff"/><path d="M193.1,638.1a2.4,2.4 0 0 0 4.8,0" fill="none" stroke="#ffd966" stroke-width="1.5" stroke-opacity="0.9"/>
<circle cx="210.9" cy="642.1" r="2.3" fill="#fff"/><path d="M208.5,641.7a2.4,2.4 0 0 0 4.8,0" fill="none" stroke="#ffd966" stroke-width="1.5" stroke-opacity="0.9"/>
<circle cx="226.2" cy="644.6" r="2.3" fill="#fff"/><path d="M223.8,644.2a2.4,2.4 0 0 0 4.8,0" fill="none" stroke="#ffd966" stroke-width="1.5" stroke-opacity="0.9"/>
<circle cx="241.6" cy="631.2" r="2.3" fill="#fff"/><path d="M239.2,630.8a2.4,2.4 0 0 0 4.8,0" fill="none" stroke="#ffd966" stroke-width="1.5" stroke-opacity="0.9"/>
<circle cx="256.9" cy="630.0" r="2.3" fill="#fff"/><path d="M254.5,629.6a2.4,2.4 0 0 0 4.8,0" fill="none" stroke="#ffd966" stroke-width="1.5" stroke-opacity="0.9"/>
<circle cx="272.2" cy="628.7" r="2.3" fill="#fff"/><path d="M269.8,628.3a2.4,2.4 0 0 0 4.8,0" fill="none" stroke="#ffd966" stroke-width="1.5" stroke-opacity="0.9"/>
<circle cx="287.6" cy="623.9" r="2.3" fill="#fff"/><path d="M285.2,623.5a2.4,2.4 0 0 0 4.8,0" fill="none" stroke="#ffd966" stroke-width="1.5" stroke-opacity="0.9"/>
<circle cx="302.9" cy="616.6" r="2.3" fill="#fff"/><path d="M300.5,616.2a2.4,2.4 0 0 0 4.8,0" fill="none" stroke="#ffd966" stroke-width="1.5" stroke-opacity="0.9"/>
<circle cx="318.2" cy="611.7" r="2.3" fill="#fff"/><path d="M315.8,611.3a2.4,2.4 0 0 0 4.8,0" fill="none" stroke="#ffd966" stroke-width="1.5" stroke-opacity="0.9"/>
<circle cx="333.6" cy="612.9" r="2.3" fill="#fff"/><path d="M331.2,612.5a2.4,2.4 0 0 0 4.8,0" fill="none" stroke="#ffd966" stroke-width="1.5" stroke-opacity="0.9"/>
<circle cx="348.9" cy="599.5" r="2.3" fill="#fff"/><path d="M346.5,599.1a2.4,2.4 0 0 0 4.8,0" fill="none" stroke="#ffd966" stroke-width="1.5" stroke-opacity="0.9"/>
<circle cx="364.2" cy="587.3" r="2.3" fill="#fff"/><path d="M361.9,586.9a2.4,2.4 0 0 0 4.8,0" fill="none" stroke="#ffd966" stroke-width="1.5" stroke-opacity="0.9"/>
<circle cx="379.6" cy="576.4" r="2.3" fill="#fff"/><path d="M377.2,576.0a2.4,2.4 0 0 0 4.8,0" fill="none" stroke="#ffd966" stroke-width="1.5" stroke-opacity="0.9"/>
<circle cx="394.9" cy="530.1" r="2.3" fill="#fff"/><path d="M392.5,529.7a2.4,2.4 0 0 0 4.8,0" fill="none" stroke="#ffd966" stroke-width="1.5" stroke-opacity="0.9"/>
<circle cx="410.3" cy="460.0" r="2.3" fill="#fff"/><path d="M407.9,459.6a2.4,2.4 0 0 0 4.8,0" fill="none" stroke="#ffd966" stroke-width="1.5" stroke-opacity="0.9"/>
<circle cx="425.6" cy="393.6" r="2.3" fill="#fff"/><path d="M423.2,393.2a2.4,2.4 0 0 0 4.8,0" fill="none" stroke="#ffd966" stroke-width="1.5" stroke-opacity="0.9"/>
<circle cx="440.9" cy="326.6" r="2.3" fill="#fff"/><path d="M438.5,326.2a2.4,2.4 0 0 0 4.8,0" fill="none" stroke="#ffd966" stroke-width="1.5" stroke-opacity="0.9"/>
<circle cx="456.3" cy="304.7" r="2.3" fill="#fff"/><path d="M453.9,304.3a2.4,2.4 0 0 0 4.8,0" fill="none" stroke="#ffd966" stroke-width="1.5" stroke-opacity="0.9"/>
<circle cx="471.6" cy="318.1" r="2.3" fill="#fff"/><path d="M469.2,317.7a2.4,2.4 0 0 0 4.8,0" fill="none" stroke="#ffd966" stroke-width="1.5" stroke-opacity="0.9"/>
<circle cx="486.9" cy="315.6" r="2.3" fill="#fff"/><path d="M484.6,315.2a2.4,2.4 0 0 0 4.8,0" fill="none" stroke="#ffd966" stroke-width="1.5" stroke-opacity="0.9"/>
<circle cx="502.3" cy="298.6" r="2.3" fill="#fff"/><path d="M499.9,298.2a2.4,2.4 0 0 0 4.8,0" fill="none" stroke="#ffd966" stroke-width="1.5" stroke-opacity="0.9"/>
<circle cx="517.6" cy="251.7" r="2.3" fill="#fff"/><path d="M515.2,251.3a2.4,2.4 0 0 0 4.8,0" fill="none" stroke="#ffd966" stroke-width="1.5" stroke-opacity="0.9"/>
<circle cx="533.0" cy="220.6" r="2.3" fill="#fff"/><path d="M530.6,220.2a2.4,2.4 0 0 0 4.8,0" fill="none" stroke="#ffd966" stroke-width="1.5" stroke-opacity="0.9"/>
<circle cx="548.3" cy="201.1" r="2.3" fill="#fff"/><path d="M545.9,200.7a2.4,2.4 0 0 0 4.8,0" fill="none" stroke="#ffd966" stroke-width="1.5" stroke-opacity="0.9"/>
<circle cx="563.6" cy="203.5" r="2.3" fill="#fff"/><path d="M561.2,203.1a2.4,2.4 0 0 0 4.8,0" fill="none" stroke="#ffd966" stroke-width="1.5" stroke-opacity="0.9"/>
<circle cx="579.0" cy="204.8" r="2.3" fill="#fff"/><path d="M576.6,204.4a2.4,2.4 0 0 0 4.8,0" fill="none" stroke="#ffd966" stroke-width="1.5" stroke-opacity="0.9"/>
<circle cx="594.3" cy="198.7" r="2.3" fill="#fff"/><path d="M591.9,198.3a2.4,2.4 0 0 0 4.8,0" fill="none" stroke="#ffd966" stroke-width="1.5" stroke-opacity="0.9"/>
<circle cx="609.6" cy="196.2" r="2.3" fill="#fff"/><path d="M607.2,195.8a2.4,2.4 0 0 0 4.8,0" fill="none" stroke="#ffd966" stroke-width="1.5" stroke-opacity="0.9"/>
<circle cx="625.0" cy="192.6" r="2.3" fill="#fff"/><path d="M622.6,192.2a2.4,2.4 0 0 0 4.8,0" fill="none" stroke="#ffd966" stroke-width="1.5" stroke-opacity="0.9"/>
<circle cx="640.3" cy="193.8" r="2.3" fill="#fff"/><path d="M637.9,193.4a2.4,2.4 0 0 0 4.8,0" fill="none" stroke="#ffd966" stroke-width="1.5" stroke-opacity="0.9"/>
<circle cx="655.7" cy="190.1" r="2.3" fill="#fff"/><path d="M653.3,189.7a2.4,2.4 0 0 0 4.8,0" fill="none" stroke="#ffd966" stroke-width="1.5" stroke-opacity="0.9"/>
<circle cx="671.0" cy="190.1" r="2.3" fill="#fff"/><path d="M668.6,189.7a2.4,2.4 0 0 0 4.8,0" fill="none" stroke="#ffd966" stroke-width="1.5" stroke-opacity="0.9"/>
<circle cx="686.3" cy="192.6" r="2.3" fill="#fff"/><path d="M683.9,192.2a2.4,2.4 0 0 0 4.8,0" fill="none" stroke="#ffd966" stroke-width="1.5" stroke-opacity="0.9"/>
<circle cx="701.7" cy="202.3" r="2.3" fill="#fff"/><path d="M699.3,201.9a2.4,2.4 0 0 0 4.8,0" fill="none" stroke="#ffd966" stroke-width="1.5" stroke-opacity="0.9"/>
<circle cx="717.0" cy="216.9" r="2.3" fill="#fff"/><path d="M714.6,216.5a2.4,2.4 0 0 0 4.8,0" fill="none" stroke="#ffd966" stroke-width="1.5" stroke-opacity="0.9"/>
<circle cx="732.4" cy="215.7" r="2.3" fill="#fff"/><path d="M730.0,215.3a2.4,2.4 0 0 0 4.8,0" fill="none" stroke="#ffd966" stroke-width="1.5" stroke-opacity="0.9"/>
<circle cx="747.7" cy="199.9" r="2.3" fill="#fff"/><path d="M745.3,199.5a2.4,2.4 0 0 0 4.8,0" fill="none" stroke="#ffd966" stroke-width="1.5" stroke-opacity="0.9"/>
<circle cx="763.0" cy="208.4" r="2.3" fill="#fff"/><path d="M760.6,208.0a2.4,2.4 0 0 0 4.8,0" fill="none" stroke="#ffd966" stroke-width="1.5" stroke-opacity="0.9"/>
<circle cx="778.4" cy="207.2" r="2.3" fill="#fff"/><path d="M776.0,206.8a2.4,2.4 0 0 0 4.8,0" fill="none" stroke="#ffd966" stroke-width="1.5" stroke-opacity="0.9"/>
<circle cx="793.7" cy="204.8" r="2.3" fill="#fff"/><path d="M791.3,204.4a2.4,2.4 0 0 0 4.8,0" fill="none" stroke="#ffd966" stroke-width="1.5" stroke-opacity="0.9"/>
<circle cx="809.0" cy="214.5" r="2.3" fill="#fff"/><path d="M806.6,214.1a2.4,2.4 0 0 0 4.8,0" fill="none" stroke="#ffd966" stroke-width="1.5" stroke-opacity="0.9"/>
<circle cx="824.4" cy="252.3" r="2.3" fill="#fff"/><path d="M822.0,251.9a2.4,2.4 0 0 0 4.8,0" fill="none" stroke="#ffd966" stroke-width="1.5" stroke-opacity="0.9"/>
<circle cx="839.7" cy="320.5" r="2.3" fill="#fff"/><path d="M837.3,320.1a2.4,2.4 0 0 0 4.8,0" fill="none" stroke="#ffd966" stroke-width="1.5" stroke-opacity="0.9"/>
<circle cx="855.0" cy="377.8" r="2.3" fill="#fff"/><path d="M852.6,377.4a2.4,2.4 0 0 0 4.8,0" fill="none" stroke="#ffd966" stroke-width="1.5" stroke-opacity="0.9"/>
<circle cx="870.4" cy="409.4" r="2.3" fill="#fff"/><path d="M868.0,409.0a2.4,2.4 0 0 0 4.8,0" fill="none" stroke="#ffd966" stroke-width="1.5" stroke-opacity="0.9"/>
<circle cx="885.7" cy="439.9" r="2.3" fill="#fff"/><path d="M883.3,439.5a2.4,2.4 0 0 0 4.8,0" fill="none" stroke="#ffd966" stroke-width="1.5" stroke-opacity="0.9"/>
<circle cx="901.1" cy="478.9" r="2.3" fill="#fff"/><path d="M898.7,478.5a2.4,2.4 0 0 0 4.8,0" fill="none" stroke="#ffd966" stroke-width="1.5" stroke-opacity="0.9"/>
<circle cx="916.4" cy="510.6" r="2.3" fill="#fff"/><path d="M914.0,510.2a2.4,2.4 0 0 0 4.8,0" fill="none" stroke="#ffd966" stroke-width="1.5" stroke-opacity="0.9"/>
<circle cx="931.7" cy="537.4" r="2.3" fill="#fff"/><path d="M929.3,537.0a2.4,2.4 0 0 0 4.8,0" fill="none" stroke="#ffd966" stroke-width="1.5" stroke-opacity="0.9"/>
<circle cx="947.1" cy="548.3" r="2.3" fill="#fff"/><path d="M944.7,547.9a2.4,2.4 0 0 0 4.8,0" fill="none" stroke="#ffd966" stroke-width="1.5" stroke-opacity="0.9"/>
<circle cx="962.4" cy="560.5" r="2.3" fill="#fff"/><path d="M960.0,560.1a2.4,2.4 0 0 0 4.8,0" fill="none" stroke="#ffd966" stroke-width="1.5" stroke-opacity="0.9"/>
<circle cx="977.8" cy="571.5" r="2.3" fill="#fff"/><path d="M975.4,571.1a2.4,2.4 0 0 0 4.8,0" fill="none" stroke="#ffd966" stroke-width="1.5" stroke-opacity="0.9"/>
<circle cx="993.1" cy="584.9" r="2.3" fill="#fff"/><path d="M990.7,584.5a2.4,2.4 0 0 0 4.8,0" fill="none" stroke="#ffd966" stroke-width="1.5" stroke-opacity="0.9"/>
<circle cx="1008.4" cy="594.6" r="2.3" fill="#fff"/><path d="M1006.0,594.2a2.4,2.4 0 0 0 4.8,0" fill="none" stroke="#ffd966" stroke-width="1.5" stroke-opacity="0.9"/>
<circle cx="1023.8" cy="605.6" r="2.3" fill="#fff"/><path d="M1021.4,605.2a2.4,2.4 0 0 0 4.8,0" fill="none" stroke="#ffd966" stroke-width="1.5" stroke-opacity="0.9"/>
<circle cx="1039.1" cy="616.6" r="2.3" fill="#fff"/><path d="M1036.7,616.2a2.4,2.4 0 0 0 4.8,0" fill="none" stroke="#ffd966" stroke-width="1.5" stroke-opacity="0.9"/>
<circle cx="1054.4" cy="627.5" r="2.3" fill="#fff"/><path d="M1052.0,627.1a2.4,2.4 0 0 0 4.8,0" fill="none" stroke="#ffd966" stroke-width="1.5" stroke-opacity="0.9"/>
<circle cx="1069.8" cy="638.5" r="2.3" fill="#fff"/><path d="M1067.4,638.1a2.4,2.4 0 0 0 4.8,0" fill="none" stroke="#ffd966" stroke-width="1.5" stroke-opacity="0.9"/>
<circle cx="1085.1" cy="649.5" r="2.3" fill="#fff"/><path d="M1082.7,649.1a2.4,2.4 0 0 0 4.8,0" fill="none" stroke="#ffd966" stroke-width="1.5" stroke-opacity="0.9"/>
<circle cx="1100.5" cy="660.4" r="2.3" fill="#fff"/><path d="M1098.0,660.0a2.4,2.4 0 0 0 4.8,0" fill="none" stroke="#ffd966" stroke-width="1.5" stroke-opacity="0.9"/>
<circle cx="1115.8" cy="665.3" r="2.3" fill="#fff"/><path d="M1113.4,664.9a2.4,2.4 0 0 0 4.8,0" fill="none" stroke="#ffd966" stroke-width="1.5" stroke-opacity="0.9"/>
<circle cx="1131.1" cy="675.0" r="2.3" fill="#fff"/><path d="M1128.7,674.6a2.4,2.4 0 0 0 4.8,0" fill="none" stroke="#ffd966" stroke-width="1.5" stroke-opacity="0.9"/>
<circle cx="1146.5" cy="689.7" r="2.3" fill="#fff"/><path d="M1144.1,689.3a2.4,2.4 0 0 0 4.8,0" fill="none" stroke="#ffd966" stroke-width="1.5" stroke-opacity="0.9"/>
<circle cx="1161.8" cy="692.7" r="2.3" fill="#fff"/><path d="M1159.4,692.3a2.4,2.4 0 0 0 4.8,0" fill="none" stroke="#ffd966" stroke-width="1.5" stroke-opacity="0.9"/>
<circle cx="1177.1" cy="689.7" r="2.3" fill="#fff"/><path d="M1174.7,689.3a2.4,2.4 0 0 0 4.8,0" fill="none" stroke="#ffd966" stroke-width="1.5" stroke-opacity="0.9"/>
<circle cx="1192.5" cy="697.0" r="2.3" fill="#fff"/><path d="M1190.1,696.6a2.4,2.4 0 0 0 4.8,0" fill="none" stroke="#ffd966" stroke-width="1.5" stroke-opacity="0.9"/>
<circle cx="1207.8" cy="706.1" r="2.3" fill="#fff"/><path d="M1205.4,705.7a2.4,2.4 0 0 0 4.8,0" fill="none" stroke="#ffd966" stroke-width="1.5" stroke-opacity="0.9"/>
<circle cx="1223.2" cy="701.8" r="2.3" fill="#fff"/><path d="M1220.8,701.4a2.4,2.4 0 0 0 4.8,0" fill="none" stroke="#ffd966" stroke-width="1.5" stroke-opacity="0.9"/>
<path d="M57.5,693.3C60.1,691.3 67.7,684.0 72.8,681.1C78.0,678.3 83.1,677.7 88.2,676.3C93.3,674.8 98.4,673.7 103.5,672.6C108.6,671.5 113.7,670.0 118.8,669.4C124.0,668.9 129.1,671.5 134.2,669.4C139.3,667.3 144.4,659.3 149.5,656.8C154.6,654.2 159.8,654.9 164.9,654.3C170.0,653.7 175.1,654.9 180.2,653.1C185.3,651.3 190.4,646.1 195.5,643.4C200.7,640.6 205.8,637.1 210.9,636.7C216.0,636.3 221.1,641.6 226.2,640.9C231.3,640.2 236.4,637.3 241.6,632.4C246.7,627.5 251.8,620.0 256.9,611.7C262.0,603.4 267.1,596.5 272.2,582.4C277.3,568.4 282.4,541.6 287.6,527.6C292.7,513.6 297.8,501.6 302.9,498.4C308.0,495.1 313.1,499.8 318.2,508.1C323.4,516.5 328.5,542.2 333.6,548.3C338.7,554.4 343.8,551.2 348.9,544.7C354.0,538.2 359.1,518.7 364.2,509.3C369.4,500.0 374.5,491.9 379.6,488.6C384.7,485.4 389.8,485.0 394.9,489.9C400.0,494.7 405.1,508.3 410.3,517.9C415.4,527.4 420.5,542.9 425.6,547.1C430.7,551.4 435.8,543.1 440.9,543.5C446.1,543.9 451.2,551.8 456.3,549.6C461.4,547.3 466.5,538.1 471.6,530.1C476.7,522.0 481.8,509.1 486.9,501.4C492.1,493.7 497.2,489.8 502.3,483.8C507.4,477.8 512.5,474.0 517.6,465.5C522.7,457.0 527.9,444.2 533.0,432.6C538.1,421.0 543.2,408.2 548.3,396.0C553.4,383.9 558.5,370.7 563.6,359.5C568.8,348.3 573.9,338.2 579.0,329.0C584.1,319.9 589.2,311.8 594.3,304.7C599.4,297.6 604.5,291.5 609.6,286.4C614.8,281.3 619.9,277.7 625.0,274.2C630.1,270.8 635.2,268.7 640.3,265.7C645.4,262.6 650.6,258.4 655.7,255.9C660.8,253.5 665.9,251.1 671.0,251.1C676.1,251.1 681.2,252.1 686.3,255.9C691.4,259.8 696.6,267.1 701.7,274.2C706.8,281.3 711.9,292.5 717.0,298.6C722.1,304.7 727.2,310.8 732.4,310.8C737.5,310.8 742.6,302.6 747.7,298.6C752.8,294.5 757.9,285.4 763.0,286.4C768.1,287.4 773.2,293.5 778.4,304.7C783.5,315.8 788.6,334.1 793.7,353.4C798.8,372.7 803.9,400.1 809.0,420.4C814.1,440.7 819.3,460.0 824.4,475.2C829.5,490.5 834.6,501.6 839.7,511.8C844.8,521.9 849.9,529.0 855.0,536.1C860.2,543.3 865.3,549.3 870.4,554.4C875.5,559.5 880.6,562.5 885.7,566.6C890.8,570.7 896.0,575.3 901.1,578.8C906.2,582.2 911.3,584.9 916.4,587.3C921.5,589.8 926.6,591.8 931.7,593.4C936.8,595.0 942.0,595.2 947.1,597.1C952.2,598.9 959.9,603.2 962.4,604.4" fill="none" stroke="#a9d18e" stroke-width="0.95" stroke-dasharray="4 3" stroke-opacity="0.9"/>
<circle cx="57.5" cy="693.3" r="2.3" fill="#fff"/><path d="M55.1,692.9a2.4,2.4 0 0 0 4.8,0" fill="none" stroke="#a9d18e" stroke-width="1.5" stroke-opacity="0.9"/>
<circle cx="72.8" cy="681.1" r="2.3" fill="#fff"/><path d="M70.4,680.7a2.4,2.4 0 0 0 4.8,0" fill="none" stroke="#a9d18e" stroke-width="1.5" stroke-opacity="0.9"/>
<circle cx="88.2" cy="676.3" r="2.3" fill="#fff"/><path d="M85.8,675.9a2.4,2.4 0 0 0 4.8,0" fill="none" stroke="#a9d18e" stroke-width="1.5" stroke-opacity="0.9"/>
<circle cx="103.5" cy="672.6" r="2.3" fill="#fff"/><path d="M101.1,672.2a2.4,2.4 0 0 0 4.8,0" fill="none" stroke="#a9d18e" stroke-width="1.5" stroke-opacity="0.9"/>
<circle cx="118.8" cy="669.4" r="2.3" fill="#fff"/><path d="M116.4,669.0a2.4,2.4 0 0 0 4.8,0" fill="none" stroke="#a9d18e" stroke-width="1.5" stroke-opacity="0.9"/>
<circle cx="134.2" cy="669.4" r="2.3" fill="#fff"/><path d="M131.8,669.0a2.4,2.4 0 0 0 4.8,0" fill="none" stroke="#a9d18e" stroke-width="1.5" stroke-opacity="0.9"/>
<circle cx="149.5" cy="656.8" r="2.3" fill="#fff"/><path d="M147.1,656.4a2.4,2.4 0 0 0 4.8,0" fill="none" stroke="#a9d18e" stroke-width="1.5" stroke-opacity="0.9"/>
<circle cx="164.9" cy="654.3" r="2.3" fill="#fff"/><path d="M162.5,653.9a2.4,2.4 0 0 0 4.8,0" fill="none" stroke="#a9d18e" stroke-width="1.5" stroke-opacity="0.9"/>
<circle cx="180.2" cy="653.1" r="2.3" fill="#fff"/><path d="M177.8,652.7a2.4,2.4 0 0 0 4.8,0" fill="none" stroke="#a9d18e" stroke-width="1.5" stroke-opacity="0.9"/>
<circle cx="195.5" cy="643.4" r="2.3" fill="#fff"/><path d="M193.1,643.0a2.4,2.4 0 0 0 4.8,0" fill="none" stroke="#a9d18e" stroke-width="1.5" stroke-opacity="0.9"/>
<circle cx="210.9" cy="636.7" r="2.3" fill="#fff"/><path d="M208.5,636.3a2.4,2.4 0 0 0 4.8,0" fill="none" stroke="#a9d18e" stroke-width="1.5" stroke-opacity="0.9"/>
<circle cx="226.2" cy="640.9" r="2.3" fill="#fff"/><path d="M223.8,640.5a2.4,2.4 0 0 0 4.8,0" fill="none" stroke="#a9d18e" stroke-width="1.5" stroke-opacity="0.9"/>
<circle cx="241.6" cy="632.4" r="2.3" fill="#fff"/><path d="M239.2,632.0a2.4,2.4 0 0 0 4.8,0" fill="none" stroke="#a9d18e" stroke-width="1.5" stroke-opacity="0.9"/>
<circle cx="256.9" cy="611.7" r="2.3" fill="#fff"/><path d="M254.5,611.3a2.4,2.4 0 0 0 4.8,0" fill="none" stroke="#a9d18e" stroke-width="1.5" stroke-opacity="0.9"/>
<circle cx="272.2" cy="582.4" r="2.3" fill="#fff"/><path d="M269.8,582.0a2.4,2.4 0 0 0 4.8,0" fill="none" stroke="#a9d18e" stroke-width="1.5" stroke-opacity="0.9"/>
<circle cx="287.6" cy="527.6" r="2.3" fill="#fff"/><path d="M285.2,527.2a2.4,2.4 0 0 0 4.8,0" fill="none" stroke="#a9d18e" stroke-width="1.5" stroke-opacity="0.9"/>
<circle cx="302.9" cy="498.4" r="2.3" fill="#fff"/><path d="M300.5,498.0a2.4,2.4 0 0 0 4.8,0" fill="none" stroke="#a9d18e" stroke-width="1.5" stroke-opacity="0.9"/>
<circle cx="318.2" cy="508.1" r="2.3" fill="#fff"/><path d="M315.8,507.7a2.4,2.4 0 0 0 4.8,0" fill="none" stroke="#a9d18e" stroke-width="1.5" stroke-opacity="0.9"/>
<circle cx="333.6" cy="548.3" r="2.3" fill="#fff"/><path d="M331.2,547.9a2.4,2.4 0 0 0 4.8,0" fill="none" stroke="#a9d18e" stroke-width="1.5" stroke-opacity="0.9"/>
<circle cx="348.9" cy="544.7" r="2.3" fill="#fff"/><path d="M346.5,544.3a2.4,2.4 0 0 0 4.8,0" fill="none" stroke="#a9d18e" stroke-width="1.5" stroke-opacity="0.9"/>
<circle cx="364.2" cy="509.3" r="2.3" fill="#fff"/><path d="M361.9,508.9a2.4,2.4 0 0 0 4.8,0" fill="none" stroke="#a9d18e" stroke-width="1.5" stroke-opacity="0.9"/>
<circle cx="379.6" cy="488.6" r="2.3" fill="#fff"/><path d="M377.2,488.2a2.4,2.4 0 0 0 4.8,0" fill="none" stroke="#a9d18e" stroke-width="1.5" stroke-opacity="0.9"/>
<circle cx="394.9" cy="489.9" r="2.3" fill="#fff"/><path d="M392.5,489.5a2.4,2.4 0 0 0 4.8,0" fill="none" stroke="#a9d18e" stroke-width="1.5" stroke-opacity="0.9"/>
<circle cx="410.3" cy="517.9" r="2.3" fill="#fff"/><path d="M407.9,517.5a2.4,2.4 0 0 0 4.8,0" fill="none" stroke="#a9d18e" stroke-width="1.5" stroke-opacity="0.9"/>
<circle cx="425.6" cy="547.1" r="2.3" fill="#fff"/><path d="M423.2,546.7a2.4,2.4 0 0 0 4.8,0" fill="none" stroke="#a9d18e" stroke-width="1.5" stroke-opacity="0.9"/>
<circle cx="440.9" cy="543.5" r="2.3" fill="#fff"/><path d="M438.5,543.1a2.4,2.4 0 0 0 4.8,0" fill="none" stroke="#a9d18e" stroke-width="1.5" stroke-opacity="0.9"/>
<circle cx="456.3" cy="549.6" r="2.3" fill="#fff"/><path d="M453.9,549.2a2.4,2.4 0 0 0 4.8,0" fill="none" stroke="#a9d18e" stroke-width="1.5" stroke-opacity="0.9"/>
<circle cx="471.6" cy="530.1" r="2.3" fill="#fff"/><path d="M469.2,529.7a2.4,2.4 0 0 0 4.8,0" fill="none" stroke="#a9d18e" stroke-width="1.5" stroke-opacity="0.9"/>
<circle cx="486.9" cy="501.4" r="2.3" fill="#fff"/><path d="M484.6,501.0a2.4,2.4 0 0 0 4.8,0" fill="none" stroke="#a9d18e" stroke-width="1.5" stroke-opacity="0.9"/>
<circle cx="502.3" cy="483.8" r="2.3" fill="#fff"/><path d="M499.9,483.4a2.4,2.4 0 0 0 4.8,0" fill="none" stroke="#a9d18e" stroke-width="1.5" stroke-opacity="0.9"/>
<circle cx="517.6" cy="465.5" r="2.3" fill="#fff"/><path d="M515.2,465.1a2.4,2.4 0 0 0 4.8,0" fill="none" stroke="#a9d18e" stroke-width="1.5" stroke-opacity="0.9"/>
<circle cx="533.0" cy="432.6" r="2.3" fill="#fff"/><path d="M530.6,432.2a2.4,2.4 0 0 0 4.8,0" fill="none" stroke="#a9d18e" stroke-width="1.5" stroke-opacity="0.9"/>
<circle cx="548.3" cy="396.0" r="2.3" fill="#fff"/><path d="M545.9,395.6a2.4,2.4 0 0 0 4.8,0" fill="none" stroke="#a9d18e" stroke-width="1.5" stroke-opacity="0.9"/>
<circle cx="563.6" cy="359.5" r="2.3" fill="#fff"/><path d="M561.2,359.1a2.4,2.4 0 0 0 4.8,0" fill="none" stroke="#a9d18e" stroke-width="1.5" stroke-opacity="0.9"/>
<circle cx="579.0" cy="329.0" r="2.3" fill="#fff"/><path d="M576.6,328.6a2.4,2.4 0 0 0 4.8,0" fill="none" stroke="#a9d18e" stroke-width="1.5" stroke-opacity="0.9"/>
<circle cx="594.3" cy="304.7" r="2.3" fill="#fff"/><path d="M591.9,304.3a2.4,2.4 0 0 0 4.8,0" fill="none" stroke="#a9d18e" stroke-width="1.5" stroke-opacity="0.9"/>
<circle cx="609.6" cy="286.4" r="2.3" fill="#fff"/><path d="M607.2,286.0a2.4,2.4 0 0 0 4.8,0" fill="none" stroke="#a9d18e" stroke-width="1.5" stroke-opacity="0.9"/>
<circle cx="625.0" cy="274.2" r="2.3" fill="#fff"/><path d="M622.6,273.8a2.4,2.4 0 0 0 4.8,0" fill="none" stroke="#a9d18e" stroke-width="1.5" stroke-opacity="0.9"/>
<circle cx="640.3" cy="265.7" r="2.3" fill="#fff"/><path d="M637.9,265.3a2.4,2.4 0 0 0 4.8,0" fill="none" stroke="#a9d18e" stroke-width="1.5" stroke-opacity="0.9"/>
<circle cx="655.7" cy="255.9" r="2.3" fill="#fff"/><path d="M653.3,255.5a2.4,2.4 0 0 0 4.8,0" fill="none" stroke="#a9d18e" stroke-width="1.5" stroke-opacity="0.9"/>
<circle cx="671.0" cy="251.1" r="2.3" fill="#fff"/><path d="M668.6,250.7a2.4,2.4 0 0 0 4.8,0" fill="none" stroke="#a9d18e" stroke-width="1.5" stroke-opacity="0.9"/>
<circle cx="686.3" cy="255.9" r="2.3" fill="#fff"/><path d="M683.9,255.5a2.4,2.4 0 0 0 4.8,0" fill="none" stroke="#a9d18e" stroke-width="1.5" stroke-opacity="0.9"/>
<circle cx="701.7" cy="274.2" r="2.3" fill="#fff"/><path d="M699.3,273.8a2.4,2.4 0 0 0 4.8,0" fill="none" stroke="#a9d18e" stroke-width="1.5" stroke-opacity="0.9"/>
<circle cx="717.0" cy="298.6" r="2.3" fill="#fff"/><path d="M714.6,298.2a2.4,2.4 0 0 0 4.8,0" fill="none" stroke="#a9d18e" stroke-width="1.5" stroke-opacity="0.9"/>
<circle cx="732.4" cy="310.8" r="2.3" fill="#fff"/><path d="M730.0,310.4a2.4,2.4 0 0 0 4.8,0" fill="none" stroke="#a9d18e" stroke-width="1.5" stroke-opacity="0.9"/>
<circle cx="747.7" cy="298.6" r="2.3" fill="#fff"/><path d="M745.3,298.2a2.4,2.4 0 0 0 4.8,0" fill="none" stroke="#a9d18e" stroke-width="1.5" stroke-opacity="0.9"/>
<circle cx="763.0" cy="286.4" r="2.3" fill="#fff"/><path d="M760.6,286.0a2.4,2.4 0 0 0 4.8,0" fill="none" stroke="#a9d18e" stroke-width="1.5" stroke-opacity="0.9"/>
<circle cx="778.4" cy="304.7" r="2.3" fill="#fff"/><path d="M776.0,304.3a2.4,2.4 0 0 0 4.8,0" fill="none" stroke="#a9d18e" stroke-width="1.5" stroke-opacity="0.9"/>
<circle cx="793.7" cy="353.4" r="2.3" fill="#fff"/><path d="M791.3,353.0a2.4,2.4 0 0 0 4.8,0" fill="none" stroke="#a9d18e" stroke-width="1.5" stroke-opacity="0.9"/>
<circle cx="809.0" cy="420.4" r="2.3" fill="#fff"/><path d="M806.6,420.0a2.4,2.4 0 0 0 4.8,0" fill="none" stroke="#a9d18e" stroke-width="1.5" stroke-opacity="0.9"/>
<circle cx="824.4" cy="475.2" r="2.3" fill="#fff"/><path d="M822.0,474.8a2.4,2.4 0 0 0 4.8,0" fill="none" stroke="#a9d18e" stroke-width="1.5" stroke-opacity="0.9"/>
<circle cx="839.7" cy="511.8" r="2.3" fill="#fff"/><path d="M837.3,511.4a2.4,2.4 0 0 0 4.8,0" fill="none" stroke="#a9d18e" stroke-width="1.5" stroke-opacity="0.9"/>
<circle cx="855.0" cy="536.1" r="2.3" fill="#fff"/><path d="M852.6,535.8a2.4,2.4 0 0 0 4.8,0" fill="none" stroke="#a9d18e" stroke-width="1.5" stroke-opacity="0.9"/>
<circle cx="870.4" cy="554.4" r="2.3" fill="#fff"/><path d="M868.0,554.0a2.4,2.4 0 0 0 4.8,0" fill="none" stroke="#a9d18e" stroke-width="1.5" stroke-opacity="0.9"/>
<circle cx="885.7" cy="566.6" r="2.3" fill="#fff"/><path d="M883.3,566.2a2.4,2.4 0 0 0 4.8,0" fill="none" stroke="#a9d18e" stroke-width="1.5" stroke-opacity="0.9"/>
<circle cx="901.1" cy="578.8" r="2.3" fill="#fff"/><path d="M898.7,578.4a2.4,2.4 0 0 0 4.8,0" fill="none" stroke="#a9d18e" stroke-width="1.5" stroke-opacity="0.9"/>
<circle cx="916.4" cy="587.3" r="2.3" fill="#fff"/><path d="M914.0,586.9a2.4,2.4 0 0 0 4.8,0" fill="none" stroke="#a9d18e" stroke-width="1.5" stroke-opacity="0.9"/>
<circle cx="931.7" cy="593.4" r="2.3" fill="#fff"/><path d="M929.3,593.0a2.4,2.4 0 0 0 4.8,0" fill="none" stroke="#a9d18e" stroke-width="1.5" stroke-opacity="0.9"/>
<circle cx="947.1" cy="597.1" r="2.3" fill="#fff"/><path d="M944.7,596.7a2.4,2.4 0 0 0 4.8,0" fill="none" stroke="#a9d18e" stroke-width="1.5" stroke-opacity="0.9"/>
<circle cx="962.4" cy="604.4" r="2.3" fill="#fff"/><path d="M960.0,604.0a2.4,2.4 0 0 0 4.8,0" fill="none" stroke="#a9d18e" stroke-width="1.5" stroke-opacity="0.9"/>
<path d="M88.2,667.7C90.7,667.5 98.4,667.1 103.5,666.5C108.6,665.9 113.7,666.8 118.8,664.1C124.0,661.3 129.1,652.8 134.2,650.1C139.3,647.3 144.4,648.0 149.5,647.6C154.6,647.2 159.8,648.1 164.9,647.6C170.0,647.1 175.1,645.3 180.2,644.6C185.3,643.9 190.4,645.6 195.5,643.4C200.7,641.1 205.8,634.4 210.9,631.2C216.0,627.9 221.1,624.5 226.2,623.9C231.3,623.3 236.4,626.3 241.6,627.5C246.7,628.7 251.8,632.6 256.9,631.2C262.0,629.8 267.1,622.4 272.2,619.0C277.3,615.5 282.4,614.7 287.6,610.5C292.7,606.2 297.8,594.2 302.9,593.4C308.0,592.6 313.1,606.2 318.2,605.6C323.4,605.0 328.5,592.2 333.6,589.8C338.7,587.3 343.8,591.2 348.9,591.0C354.0,590.8 359.1,590.6 364.2,588.5C369.4,586.5 374.5,585.5 379.6,578.8C384.7,572.1 389.8,552.8 394.9,548.3C400.0,543.9 405.1,554.8 410.3,552.0C415.4,549.1 420.5,543.7 425.6,531.3C430.7,518.9 435.8,498.8 440.9,477.7C446.1,456.6 451.2,428.1 456.3,404.6C461.4,381.0 466.5,358.7 471.6,336.3C476.7,314.0 481.8,285.2 486.9,270.6C492.1,255.9 497.2,254.1 502.3,248.6C507.4,243.1 512.5,241.3 517.6,237.7C522.7,234.0 527.9,227.7 533.0,226.7C538.1,225.7 543.2,230.3 548.3,231.6C553.4,232.8 558.5,233.4 563.6,234.0C568.8,234.6 573.9,236.6 579.0,235.2C584.1,233.8 589.2,228.5 594.3,225.5C599.4,222.4 604.5,218.6 609.6,216.9C614.8,215.3 619.9,215.9 625.0,215.7C630.1,215.5 635.2,215.3 640.3,215.7C645.4,216.1 650.6,216.7 655.7,218.2C660.8,219.6 665.9,223.2 671.0,224.3C676.1,225.3 681.2,224.9 686.3,224.3C691.4,223.6 696.6,222.2 701.7,220.6C706.8,219.0 711.9,215.7 717.0,214.5C722.1,213.3 727.2,213.1 732.4,213.3C737.5,213.5 742.6,213.7 747.7,215.7C752.8,217.8 757.9,219.2 763.0,225.5C768.1,231.8 773.2,240.3 778.4,253.5C783.5,266.7 788.6,284.0 793.7,304.7C798.8,325.4 803.9,359.5 809.0,377.8C814.1,396.0 819.3,402.9 824.4,414.3C829.5,425.7 834.6,435.4 839.7,446.0C844.8,456.6 849.9,467.9 855.0,477.7C860.2,487.4 865.3,496.6 870.4,504.5C875.5,512.4 880.6,518.9 885.7,525.2C890.8,531.5 896.0,536.8 901.1,542.2C906.2,547.7 911.3,553.0 916.4,558.1C921.5,563.2 926.6,567.8 931.7,572.7C936.8,577.6 942.0,582.9 947.1,587.3C952.2,591.8 957.3,594.2 962.4,599.5C967.5,604.8 972.6,612.5 977.8,619.0C982.9,625.5 990.5,635.2 993.1,638.5" fill="none" stroke="#548235" stroke-width="0.95" stroke-dasharray="4 3" stroke-opacity="0.9"/>
<circle cx="88.2" cy="667.7" r="2.3" fill="#fff"/><path d="M85.8,667.3a2.4,2.4 0 0 0 4.8,0" fill="none" stroke="#548235" stroke-width="1.5" stroke-opacity="0.9"/>
<circle cx="103.5" cy="666.5" r="2.3" fill="#fff"/><path d="M101.1,666.1a2.4,2.4 0 0 0 4.8,0" fill="none" stroke="#548235" stroke-width="1.5" stroke-opacity="0.9"/>
<circle cx="118.8" cy="664.1" r="2.3" fill="#fff"/><path d="M116.4,663.7a2.4,2.4 0 0 0 4.8,0" fill="none" stroke="#548235" stroke-width="1.5" stroke-opacity="0.9"/>
<circle cx="134.2" cy="650.1" r="2.3" fill="#fff"/><path d="M131.8,649.7a2.4,2.4 0 0 0 4.8,0" fill="none" stroke="#548235" stroke-width="1.5" stroke-opacity="0.9"/>
<circle cx="149.5" cy="647.6" r="2.3" fill="#fff"/><path d="M147.1,647.2a2.4,2.4 0 0 0 4.8,0" fill="none" stroke="#548235" stroke-width="1.5" stroke-opacity="0.9"/>
<circle cx="164.9" cy="647.6" r="2.3" fill="#fff"/><path d="M162.5,647.2a2.4,2.4 0 0 0 4.8,0" fill="none" stroke="#548235" stroke-width="1.5" stroke-opacity="0.9"/>
<circle cx="180.2" cy="644.6" r="2.3" fill="#fff"/><path d="M177.8,644.2a2.4,2.4 0 0 0 4.8,0" fill="none" stroke="#548235" stroke-width="1.5" stroke-opacity="0.9"/>
<circle cx="195.5" cy="643.4" r="2.3" fill="#fff"/><path d="M193.1,643.0a2.4,2.4 0 0 0 4.8,0" fill="none" stroke="#548235" stroke-width="1.5" stroke-opacity="0.9"/>
<circle cx="210.9" cy="631.2" r="2.3" fill="#fff"/><path d="M208.5,630.8a2.4,2.4 0 0 0 4.8,0" fill="none" stroke="#548235" stroke-width="1.5" stroke-opacity="0.9"/>
<circle cx="226.2" cy="623.9" r="2.3" fill="#fff"/><path d="M223.8,623.5a2.4,2.4 0 0 0 4.8,0" fill="none" stroke="#548235" stroke-width="1.5" stroke-opacity="0.9"/>
<circle cx="241.6" cy="627.5" r="2.3" fill="#fff"/><path d="M239.2,627.1a2.4,2.4 0 0 0 4.8,0" fill="none" stroke="#548235" stroke-width="1.5" stroke-opacity="0.9"/>
<circle cx="256.9" cy="631.2" r="2.3" fill="#fff"/><path d="M254.5,630.8a2.4,2.4 0 0 0 4.8,0" fill="none" stroke="#548235" stroke-width="1.5" stroke-opacity="0.9"/>
<circle cx="272.2" cy="619.0" r="2.3" fill="#fff"/><path d="M269.8,618.6a2.4,2.4 0 0 0 4.8,0" fill="none" stroke="#548235" stroke-width="1.5" stroke-opacity="0.9"/>
<circle cx="287.6" cy="610.5" r="2.3" fill="#fff"/><path d="M285.2,610.1a2.4,2.4 0 0 0 4.8,0" fill="none" stroke="#548235" stroke-width="1.5" stroke-opacity="0.9"/>
<circle cx="302.9" cy="593.4" r="2.3" fill="#fff"/><path d="M300.5,593.0a2.4,2.4 0 0 0 4.8,0" fill="none" stroke="#548235" stroke-width="1.5" stroke-opacity="0.9"/>
<circle cx="318.2" cy="605.6" r="2.3" fill="#fff"/><path d="M315.8,605.2a2.4,2.4 0 0 0 4.8,0" fill="none" stroke="#548235" stroke-width="1.5" stroke-opacity="0.9"/>
<circle cx="333.6" cy="589.8" r="2.3" fill="#fff"/><path d="M331.2,589.4a2.4,2.4 0 0 0 4.8,0" fill="none" stroke="#548235" stroke-width="1.5" stroke-opacity="0.9"/>
<circle cx="348.9" cy="591.0" r="2.3" fill="#fff"/><path d="M346.5,590.6a2.4,2.4 0 0 0 4.8,0" fill="none" stroke="#548235" stroke-width="1.5" stroke-opacity="0.9"/>
<circle cx="364.2" cy="588.5" r="2.3" fill="#fff"/><path d="M361.9,588.1a2.4,2.4 0 0 0 4.8,0" fill="none" stroke="#548235" stroke-width="1.5" stroke-opacity="0.9"/>
<circle cx="379.6" cy="578.8" r="2.3" fill="#fff"/><path d="M377.2,578.4a2.4,2.4 0 0 0 4.8,0" fill="none" stroke="#548235" stroke-width="1.5" stroke-opacity="0.9"/>
<circle cx="394.9" cy="548.3" r="2.3" fill="#fff"/><path d="M392.5,547.9a2.4,2.4 0 0 0 4.8,0" fill="none" stroke="#548235" stroke-width="1.5" stroke-opacity="0.9"/>
<circle cx="410.3" cy="552.0" r="2.3" fill="#fff"/><path d="M407.9,551.6a2.4,2.4 0 0 0 4.8,0" fill="none" stroke="#548235" stroke-width="1.5" stroke-opacity="0.9"/>
<circle cx="425.6" cy="531.3" r="2.3" fill="#fff"/><path d="M423.2,530.9a2.4,2.4 0 0 0 4.8,0" fill="none" stroke="#548235" stroke-width="1.5" stroke-opacity="0.9"/>
<circle cx="440.9" cy="477.7" r="2.3" fill="#fff"/><path d="M438.5,477.3a2.4,2.4 0 0 0 4.8,0" fill="none" stroke="#548235" stroke-width="1.5" stroke-opacity="0.9"/>
<circle cx="456.3" cy="404.6" r="2.3" fill="#fff"/><path d="M453.9,404.2a2.4,2.4 0 0 0 4.8,0" fill="none" stroke="#548235" stroke-width="1.5" stroke-opacity="0.9"/>
<circle cx="471.6" cy="336.3" r="2.3" fill="#fff"/><path d="M469.2,335.9a2.4,2.4 0 0 0 4.8,0" fill="none" stroke="#548235" stroke-width="1.5" stroke-opacity="0.9"/>
<circle cx="486.9" cy="270.6" r="2.3" fill="#fff"/><path d="M484.6,270.2a2.4,2.4 0 0 0 4.8,0" fill="none" stroke="#548235" stroke-width="1.5" stroke-opacity="0.9"/>
<circle cx="502.3" cy="248.6" r="2.3" fill="#fff"/><path d="M499.9,248.2a2.4,2.4 0 0 0 4.8,0" fill="none" stroke="#548235" stroke-width="1.5" stroke-opacity="0.9"/>
<circle cx="517.6" cy="237.7" r="2.3" fill="#fff"/><path d="M515.2,237.3a2.4,2.4 0 0 0 4.8,0" fill="none" stroke="#548235" stroke-width="1.5" stroke-opacity="0.9"/>
<circle cx="533.0" cy="226.7" r="2.3" fill="#fff"/><path d="M530.6,226.3a2.4,2.4 0 0 0 4.8,0" fill="none" stroke="#548235" stroke-width="1.5" stroke-opacity="0.9"/>
<circle cx="548.3" cy="231.6" r="2.3" fill="#fff"/><path d="M545.9,231.2a2.4,2.4 0 0 0 4.8,0" fill="none" stroke="#548235" stroke-width="1.5" stroke-opacity="0.9"/>
<circle cx="563.6" cy="234.0" r="2.3" fill="#fff"/><path d="M561.2,233.6a2.4,2.4 0 0 0 4.8,0" fill="none" stroke="#548235" stroke-width="1.5" stroke-opacity="0.9"/>
<circle cx="579.0" cy="235.2" r="2.3" fill="#fff"/><path d="M576.6,234.8a2.4,2.4 0 0 0 4.8,0" fill="none" stroke="#548235" stroke-width="1.5" stroke-opacity="0.9"/>
<circle cx="594.3" cy="225.5" r="2.3" fill="#fff"/><path d="M591.9,225.1a2.4,2.4 0 0 0 4.8,0" fill="none" stroke="#548235" stroke-width="1.5" stroke-opacity="0.9"/>
<circle cx="609.6" cy="216.9" r="2.3" fill="#fff"/><path d="M607.2,216.5a2.4,2.4 0 0 0 4.8,0" fill="none" stroke="#548235" stroke-width="1.5" stroke-opacity="0.9"/>
<circle cx="625.0" cy="215.7" r="2.3" fill="#fff"/><path d="M622.6,215.3a2.4,2.4 0 0 0 4.8,0" fill="none" stroke="#548235" stroke-width="1.5" stroke-opacity="0.9"/>
<circle cx="640.3" cy="215.7" r="2.3" fill="#fff"/><path d="M637.9,215.3a2.4,2.4 0 0 0 4.8,0" fill="none" stroke="#548235" stroke-width="1.5" stroke-opacity="0.9"/>
<circle cx="655.7" cy="218.2" r="2.3" fill="#fff"/><path d="M653.3,217.8a2.4,2.4 0 0 0 4.8,0" fill="none" stroke="#548235" stroke-width="1.5" stroke-opacity="0.9"/>
<circle cx="671.0" cy="224.3" r="2.3" fill="#fff"/><path d="M668.6,223.9a2.4,2.4 0 0 0 4.8,0" fill="none" stroke="#548235" stroke-width="1.5" stroke-opacity="0.9"/>
<circle cx="686.3" cy="224.3" r="2.3" fill="#fff"/><path d="M683.9,223.9a2.4,2.4 0 0 0 4.8,0" fill="none" stroke="#548235" stroke-width="1.5" stroke-opacity="0.9"/>
<circle cx="701.7" cy="220.6" r="2.3" fill="#fff"/><path d="M699.3,220.2a2.4,2.4 0 0 0 4.8,0" fill="none" stroke="#548235" stroke-width="1.5" stroke-opacity="0.9"/>
<circle cx="717.0" cy="214.5" r="2.3" fill="#fff"/><path d="M714.6,214.1a2.4,2.4 0 0 0 4.8,0" fill="none" stroke="#548235" stroke-width="1.5" stroke-opacity="0.9"/>
<circle cx="732.4" cy="213.3" r="2.3" fill="#fff"/><path d="M730.0,212.9a2.4,2.4 0 0 0 4.8,0" fill="none" stroke="#548235" stroke-width="1.5" stroke-opacity="0.9"/>
<circle cx="747.7" cy="215.7" r="2.3" fill="#fff"/><path d="M745.3,215.3a2.4,2.4 0 0 0 4.8,0" fill="none" stroke="#548235" stroke-width="1.5" stroke-opacity="0.9"/>
<circle cx="763.0" cy="225.5" r="2.3" fill="#fff"/><path d="M760.6,225.1a2.4,2.4 0 0 0 4.8,0" fill="none" stroke="#548235" stroke-width="1.5" stroke-opacity="0.9"/>
<circle cx="778.4" cy="253.5" r="2.3" fill="#fff"/><path d="M776.0,253.1a2.4,2.4 0 0 0 4.8,0" fill="none" stroke="#548235" stroke-width="1.5" stroke-opacity="0.9"/>
<circle cx="793.7" cy="304.7" r="2.3" fill="#fff"/><path d="M791.3,304.3a2.4,2.4 0 0 0 4.8,0" fill="none" stroke="#548235" stroke-width="1.5" stroke-opacity="0.9"/>
<circle cx="809.0" cy="377.8" r="2.3" fill="#fff"/><path d="M806.6,377.4a2.4,2.4 0 0 0 4.8,0" fill="none" stroke="#548235" stroke-width="1.5" stroke-opacity="0.9"/>
<circle cx="824.4" cy="414.3" r="2.3" fill="#fff"/><path d="M822.0,413.9a2.4,2.4 0 0 0 4.8,0" fill="none" stroke="#548235" stroke-width="1.5" stroke-opacity="0.9"/>
<circle cx="839.7" cy="446.0" r="2.3" fill="#fff"/><path d="M837.3,445.6a2.4,2.4 0 0 0 4.8,0" fill="none" stroke="#548235" stroke-width="1.5" stroke-opacity="0.9"/>
<circle cx="855.0" cy="477.7" r="2.3" fill="#fff"/><path d="M852.6,477.3a2.4,2.4 0 0 0 4.8,0" fill="none" stroke="#548235" stroke-width="1.5" stroke-opacity="0.9"/>
<circle cx="870.4" cy="504.5" r="2.3" fill="#fff"/><path d="M868.0,504.1a2.4,2.4 0 0 0 4.8,0" fill="none" stroke="#548235" stroke-width="1.5" stroke-opacity="0.9"/>
<circle cx="885.7" cy="525.2" r="2.3" fill="#fff"/><path d="M883.3,524.8a2.4,2.4 0 0 0 4.8,0" fill="none" stroke="#548235" stroke-width="1.5" stroke-opacity="0.9"/>
<circle cx="901.1" cy="542.2" r="2.3" fill="#fff"/><path d="M898.7,541.8a2.4,2.4 0 0 0 4.8,0" fill="none" stroke="#548235" stroke-width="1.5" stroke-opacity="0.9"/>
<circle cx="916.4" cy="558.1" r="2.3" fill="#fff"/><path d="M914.0,557.7a2.4,2.4 0 0 0 4.8,0" fill="none" stroke="#548235" stroke-width="1.5" stroke-opacity="0.9"/>
<circle cx="931.7" cy="572.7" r="2.3" fill="#fff"/><path d="M929.3,572.3a2.4,2.4 0 0 0 4.8,0" fill="none" stroke="#548235" stroke-width="1.5" stroke-opacity="0.9"/>
<circle cx="947.1" cy="587.3" r="2.3" fill="#fff"/><path d="M944.7,586.9a2.4,2.4 0 0 0 4.8,0" fill="none" stroke="#548235" stroke-width="1.5" stroke-opacity="0.9"/>
<circle cx="962.4" cy="599.5" r="2.3" fill="#fff"/><path d="M960.0,599.1a2.4,2.4 0 0 0 4.8,0" fill="none" stroke="#548235" stroke-width="1.5" stroke-opacity="0.9"/>
<circle cx="977.8" cy="619.0" r="2.3" fill="#fff"/><path d="M975.4,618.6a2.4,2.4 0 0 0 4.8,0" fill="none" stroke="#548235" stroke-width="1.5" stroke-opacity="0.9"/>
<circle cx="993.1" cy="638.5" r="2.3" fill="#fff"/><path d="M990.7,638.1a2.4,2.4 0 0 0 4.8,0" fill="none" stroke="#548235" stroke-width="1.5" stroke-opacity="0.9"/>
<path d="M103.5,690.9C106.1,690.3 113.7,687.6 118.8,687.2C124.0,686.8 129.1,689.7 134.2,688.4C139.3,687.2 144.4,680.5 149.5,679.9C154.6,679.3 159.8,685.8 164.9,684.8C170.0,683.8 175.1,676.9 180.2,673.8C185.3,670.8 190.4,666.3 195.5,666.5C200.7,666.7 205.8,672.8 210.9,675.0C216.0,677.3 221.1,680.3 226.2,679.9C231.3,679.5 236.4,675.2 241.6,672.6C246.7,670.0 251.8,671.6 256.9,664.1C262.0,656.6 267.1,636.7 272.2,627.5C277.3,618.4 282.4,616.4 287.6,609.2C292.7,602.1 297.8,594.0 302.9,584.9C308.0,575.7 313.1,564.6 318.2,554.4C323.4,544.3 328.5,534.1 333.6,524.0C338.7,513.8 343.8,502.6 348.9,493.5C354.0,484.4 359.1,476.2 364.2,469.1C369.4,462.0 374.5,456.3 379.6,450.9C384.7,445.4 389.8,440.9 394.9,436.2C400.0,431.6 405.1,426.5 410.3,422.8C415.4,419.2 420.5,415.3 425.6,414.3C430.7,413.3 435.8,415.7 440.9,416.8C446.1,417.8 451.2,420.8 456.3,420.4C461.4,420.0 466.5,416.3 471.6,414.3C476.7,412.3 481.8,410.3 486.9,408.2C492.1,406.2 497.2,404.2 502.3,402.1C507.4,400.1 512.5,396.0 517.6,396.0C522.7,396.0 527.9,400.1 533.0,402.1C538.1,404.2 543.2,409.2 548.3,408.2C553.4,407.2 558.5,399.1 563.6,396.0C568.8,393.0 573.9,389.9 579.0,389.9C584.1,389.9 589.2,394.0 594.3,396.0C599.4,398.1 604.5,399.5 609.6,402.1C614.8,404.8 619.9,410.9 625.0,411.9C630.1,412.9 635.2,409.8 640.3,408.2C645.4,406.6 650.6,403.8 655.7,402.1C660.8,400.5 665.9,399.5 671.0,398.5C676.1,397.5 681.2,395.4 686.3,396.0C691.4,396.7 696.6,400.1 701.7,402.1C706.8,404.2 711.9,405.4 717.0,408.2C722.1,411.1 727.2,415.3 732.4,419.2C737.5,423.0 742.6,429.7 747.7,431.4C752.8,433.0 757.9,428.7 763.0,428.9C768.1,429.1 773.2,430.0 778.4,432.6C783.5,435.2 788.6,438.7 793.7,444.8C798.8,450.9 803.9,461.0 809.0,469.1C814.1,477.3 819.3,485.4 824.4,493.5C829.5,501.6 834.6,510.8 839.7,517.9C844.8,525.0 849.9,531.1 855.0,536.1C860.2,541.2 865.3,544.3 870.4,548.3C875.5,552.4 880.6,557.1 885.7,560.5C890.8,564.0 896.0,566.0 901.1,569.0C906.2,572.1 911.3,575.1 916.4,578.8C921.5,582.4 926.6,586.9 931.7,591.0C936.8,595.0 942.0,599.7 947.1,603.2C952.2,606.6 959.9,610.3 962.4,611.7" fill="none" stroke="#c4c4c4" stroke-width="0.95" stroke-dasharray="4 3" stroke-opacity="0.9"/>
<circle cx="103.5" cy="690.9" r="2.3" fill="#fff"/><path d="M101.1,690.5a2.4,2.4 0 0 0 4.8,0" fill="none" stroke="#c4c4c4" stroke-width="1.5" stroke-opacity="0.9"/>
<circle cx="118.8" cy="687.2" r="2.3" fill="#fff"/><path d="M116.4,686.8a2.4,2.4 0 0 0 4.8,0" fill="none" stroke="#c4c4c4" stroke-width="1.5" stroke-opacity="0.9"/>
<circle cx="134.2" cy="688.4" r="2.3" fill="#fff"/><path d="M131.8,688.0a2.4,2.4 0 0 0 4.8,0" fill="none" stroke="#c4c4c4" stroke-width="1.5" stroke-opacity="0.9"/>
<circle cx="149.5" cy="679.9" r="2.3" fill="#fff"/><path d="M147.1,679.5a2.4,2.4 0 0 0 4.8,0" fill="none" stroke="#c4c4c4" stroke-width="1.5" stroke-opacity="0.9"/>
<circle cx="164.9" cy="684.8" r="2.3" fill="#fff"/><path d="M162.5,684.4a2.4,2.4 0 0 0 4.8,0" fill="none" stroke="#c4c4c4" stroke-width="1.5" stroke-opacity="0.9"/>
<circle cx="180.2" cy="673.8" r="2.3" fill="#fff"/><path d="M177.8,673.4a2.4,2.4 0 0 0 4.8,0" fill="none" stroke="#c4c4c4" stroke-width="1.5" stroke-opacity="0.9"/>
<circle cx="195.5" cy="666.5" r="2.3" fill="#fff"/><path d="M193.1,666.1a2.4,2.4 0 0 0 4.8,0" fill="none" stroke="#c4c4c4" stroke-width="1.5" stroke-opacity="0.9"/>
<circle cx="210.9" cy="675.0" r="2.3" fill="#fff"/><path d="M208.5,674.6a2.4,2.4 0 0 0 4.8,0" fill="none" stroke="#c4c4c4" stroke-width="1.5" stroke-opacity="0.9"/>
<circle cx="226.2" cy="679.9" r="2.3" fill="#fff"/><path d="M223.8,679.5a2.4,2.4 0 0 0 4.8,0" fill="none" stroke="#c4c4c4" stroke-width="1.5" stroke-opacity="0.9"/>
<circle cx="241.6" cy="672.6" r="2.3" fill="#fff"/><path d="M239.2,672.2a2.4,2.4 0 0 0 4.8,0" fill="none" stroke="#c4c4c4" stroke-width="1.5" stroke-opacity="0.9"/>
<circle cx="256.9" cy="664.1" r="2.3" fill="#fff"/><path d="M254.5,663.7a2.4,2.4 0 0 0 4.8,0" fill="none" stroke="#c4c4c4" stroke-width="1.5" stroke-opacity="0.9"/>
<circle cx="272.2" cy="627.5" r="2.3" fill="#fff"/><path d="M269.8,627.1a2.4,2.4 0 0 0 4.8,0" fill="none" stroke="#c4c4c4" stroke-width="1.5" stroke-opacity="0.9"/>
<circle cx="287.6" cy="609.2" r="2.3" fill="#fff"/><path d="M285.2,608.9a2.4,2.4 0 0 0 4.8,0" fill="none" stroke="#c4c4c4" stroke-width="1.5" stroke-opacity="0.9"/>
<circle cx="302.9" cy="584.9" r="2.3" fill="#fff"/><path d="M300.5,584.5a2.4,2.4 0 0 0 4.8,0" fill="none" stroke="#c4c4c4" stroke-width="1.5" stroke-opacity="0.9"/>
<circle cx="318.2" cy="554.4" r="2.3" fill="#fff"/><path d="M315.8,554.0a2.4,2.4 0 0 0 4.8,0" fill="none" stroke="#c4c4c4" stroke-width="1.5" stroke-opacity="0.9"/>
<circle cx="333.6" cy="524.0" r="2.3" fill="#fff"/><path d="M331.2,523.6a2.4,2.4 0 0 0 4.8,0" fill="none" stroke="#c4c4c4" stroke-width="1.5" stroke-opacity="0.9"/>
<circle cx="348.9" cy="493.5" r="2.3" fill="#fff"/><path d="M346.5,493.1a2.4,2.4 0 0 0 4.8,0" fill="none" stroke="#c4c4c4" stroke-width="1.5" stroke-opacity="0.9"/>
<circle cx="364.2" cy="469.1" r="2.3" fill="#fff"/><path d="M361.9,468.7a2.4,2.4 0 0 0 4.8,0" fill="none" stroke="#c4c4c4" stroke-width="1.5" stroke-opacity="0.9"/>
<circle cx="379.6" cy="450.9" r="2.3" fill="#fff"/><path d="M377.2,450.5a2.4,2.4 0 0 0 4.8,0" fill="none" stroke="#c4c4c4" stroke-width="1.5" stroke-opacity="0.9"/>
<circle cx="394.9" cy="436.2" r="2.3" fill="#fff"/><path d="M392.5,435.8a2.4,2.4 0 0 0 4.8,0" fill="none" stroke="#c4c4c4" stroke-width="1.5" stroke-opacity="0.9"/>
<circle cx="410.3" cy="422.8" r="2.3" fill="#fff"/><path d="M407.9,422.4a2.4,2.4 0 0 0 4.8,0" fill="none" stroke="#c4c4c4" stroke-width="1.5" stroke-opacity="0.9"/>
<circle cx="425.6" cy="414.3" r="2.3" fill="#fff"/><path d="M423.2,413.9a2.4,2.4 0 0 0 4.8,0" fill="none" stroke="#c4c4c4" stroke-width="1.5" stroke-opacity="0.9"/>
<circle cx="440.9" cy="416.8" r="2.3" fill="#fff"/><path d="M438.5,416.4a2.4,2.4 0 0 0 4.8,0" fill="none" stroke="#c4c4c4" stroke-width="1.5" stroke-opacity="0.9"/>
<circle cx="456.3" cy="420.4" r="2.3" fill="#fff"/><path d="M453.9,420.0a2.4,2.4 0 0 0 4.8,0" fill="none" stroke="#c4c4c4" stroke-width="1.5" stroke-opacity="0.9"/>
<circle cx="471.6" cy="414.3" r="2.3" fill="#fff"/><path d="M469.2,413.9a2.4,2.4 0 0 0 4.8,0" fill="none" stroke="#c4c4c4" stroke-width="1.5" stroke-opacity="0.9"/>
<circle cx="486.9" cy="408.2" r="2.3" fill="#fff"/><path d="M484.6,407.8a2.4,2.4 0 0 0 4.8,0" fill="none" stroke="#c4c4c4" stroke-width="1.5" stroke-opacity="0.9"/>
<circle cx="502.3" cy="402.1" r="2.3" fill="#fff"/><path d="M499.9,401.7a2.4,2.4 0 0 0 4.8,0" fill="none" stroke="#c4c4c4" stroke-width="1.5" stroke-opacity="0.9"/>
<circle cx="517.6" cy="396.0" r="2.3" fill="#fff"/><path d="M515.2,395.6a2.4,2.4 0 0 0 4.8,0" fill="none" stroke="#c4c4c4" stroke-width="1.5" stroke-opacity="0.9"/>
<circle cx="533.0" cy="402.1" r="2.3" fill="#fff"/><path d="M530.6,401.7a2.4,2.4 0 0 0 4.8,0" fill="none" stroke="#c4c4c4" stroke-width="1.5" stroke-opacity="0.9"/>
<circle cx="548.3" cy="408.2" r="2.3" fill="#fff"/><path d="M545.9,407.8a2.4,2.4 0 0 0 4.8,0" fill="none" stroke="#c4c4c4" stroke-width="1.5" stroke-opacity="0.9"/>
<circle cx="563.6" cy="396.0" r="2.3" fill="#fff"/><path d="M561.2,395.6a2.4,2.4 0 0 0 4.8,0" fill="none" stroke="#c4c4c4" stroke-width="1.5" stroke-opacity="0.9"/>
<circle cx="579.0" cy="389.9" r="2.3" fill="#fff"/><path d="M576.6,389.6a2.4,2.4 0 0 0 4.8,0" fill="none" stroke="#c4c4c4" stroke-width="1.5" stroke-opacity="0.9"/>
<circle cx="594.3" cy="396.0" r="2.3" fill="#fff"/><path d="M591.9,395.6a2.4,2.4 0 0 0 4.8,0" fill="none" stroke="#c4c4c4" stroke-width="1.5" stroke-opacity="0.9"/>
<circle cx="609.6" cy="402.1" r="2.3" fill="#fff"/><path d="M607.2,401.7a2.4,2.4 0 0 0 4.8,0" fill="none" stroke="#c4c4c4" stroke-width="1.5" stroke-opacity="0.9"/>
<circle cx="625.0" cy="411.9" r="2.3" fill="#fff"/><path d="M622.6,411.5a2.4,2.4 0 0 0 4.8,0" fill="none" stroke="#c4c4c4" stroke-width="1.5" stroke-opacity="0.9"/>
<circle cx="640.3" cy="408.2" r="2.3" fill="#fff"/><path d="M637.9,407.8a2.4,2.4 0 0 0 4.8,0" fill="none" stroke="#c4c4c4" stroke-width="1.5" stroke-opacity="0.9"/>
<circle cx="655.7" cy="402.1" r="2.3" fill="#fff"/><path d="M653.3,401.7a2.4,2.4 0 0 0 4.8,0" fill="none" stroke="#c4c4c4" stroke-width="1.5" stroke-opacity="0.9"/>
<circle cx="671.0" cy="398.5" r="2.3" fill="#fff"/><path d="M668.6,398.1a2.4,2.4 0 0 0 4.8,0" fill="none" stroke="#c4c4c4" stroke-width="1.5" stroke-opacity="0.9"/>
<circle cx="686.3" cy="396.0" r="2.3" fill="#fff"/><path d="M683.9,395.6a2.4,2.4 0 0 0 4.8,0" fill="none" stroke="#c4c4c4" stroke-width="1.5" stroke-opacity="0.9"/>
<circle cx="701.7" cy="402.1" r="2.3" fill="#fff"/><path d="M699.3,401.7a2.4,2.4 0 0 0 4.8,0" fill="none" stroke="#c4c4c4" stroke-width="1.5" stroke-opacity="0.9"/>
<circle cx="717.0" cy="408.2" r="2.3" fill="#fff"/><path d="M714.6,407.8a2.4,2.4 0 0 0 4.8,0" fill="none" stroke="#c4c4c4" stroke-width="1.5" stroke-opacity="0.9"/>
<circle cx="732.4" cy="419.2" r="2.3" fill="#fff"/><path d="M730.0,418.8a2.4,2.4 0 0 0 4.8,0" fill="none" stroke="#c4c4c4" stroke-width="1.5" stroke-opacity="0.9"/>
<circle cx="747.7" cy="431.4" r="2.3" fill="#fff"/><path d="M745.3,431.0a2.4,2.4 0 0 0 4.8,0" fill="none" stroke="#c4c4c4" stroke-width="1.5" stroke-opacity="0.9"/>
<circle cx="763.0" cy="428.9" r="2.3" fill="#fff"/><path d="M760.6,428.5a2.4,2.4 0 0 0 4.8,0" fill="none" stroke="#c4c4c4" stroke-width="1.5" stroke-opacity="0.9"/>
<circle cx="778.4" cy="432.6" r="2.3" fill="#fff"/><path d="M776.0,432.2a2.4,2.4 0 0 0 4.8,0" fill="none" stroke="#c4c4c4" stroke-width="1.5" stroke-opacity="0.9"/>
<circle cx="793.7" cy="444.8" r="2.3" fill="#fff"/><path d="M791.3,444.4a2.4,2.4 0 0 0 4.8,0" fill="none" stroke="#c4c4c4" stroke-width="1.5" stroke-opacity="0.9"/>
<circle cx="809.0" cy="469.1" r="2.3" fill="#fff"/><path d="M806.6,468.7a2.4,2.4 0 0 0 4.8,0" fill="none" stroke="#c4c4c4" stroke-width="1.5" stroke-opacity="0.9"/>
<circle cx="824.4" cy="493.5" r="2.3" fill="#fff"/><path d="M822.0,493.1a2.4,2.4 0 0 0 4.8,0" fill="none" stroke="#c4c4c4" stroke-width="1.5" stroke-opacity="0.9"/>
<circle cx="839.7" cy="517.9" r="2.3" fill="#fff"/><path d="M837.3,517.5a2.4,2.4 0 0 0 4.8,0" fill="none" stroke="#c4c4c4" stroke-width="1.5" stroke-opacity="0.9"/>
<circle cx="855.0" cy="536.1" r="2.3" fill="#fff"/><path d="M852.6,535.8a2.4,2.4 0 0 0 4.8,0" fill="none" stroke="#c4c4c4" stroke-width="1.5" stroke-opacity="0.9"/>
<circle cx="870.4" cy="548.3" r="2.3" fill="#fff"/><path d="M868.0,547.9a2.4,2.4 0 0 0 4.8,0" fill="none" stroke="#c4c4c4" stroke-width="1.5" stroke-opacity="0.9"/>
<circle cx="885.7" cy="560.5" r="2.3" fill="#fff"/><path d="M883.3,560.1a2.4,2.4 0 0 0 4.8,0" fill="none" stroke="#c4c4c4" stroke-width="1.5" stroke-opacity="0.9"/>
<circle cx="901.1" cy="569.0" r="2.3" fill="#fff"/><path d="M898.7,568.6a2.4,2.4 0 0 0 4.8,0" fill="none" stroke="#c4c4c4" stroke-width="1.5" stroke-opacity="0.9"/>
<circle cx="916.4" cy="578.8" r="2.3" fill="#fff"/><path d="M914.0,578.4a2.4,2.4 0 0 0 4.8,0" fill="none" stroke="#c4c4c4" stroke-width="1.5" stroke-opacity="0.9"/>
<circle cx="931.7" cy="591.0" r="2.3" fill="#fff"/><path d="M929.3,590.6a2.4,2.4 0 0 0 4.8,0" fill="none" stroke="#c4c4c4" stroke-width="1.5" stroke-opacity="0.9"/>
<circle cx="947.1" cy="603.2" r="2.3" fill="#fff"/><path d="M944.7,602.8a2.4,2.4 0 0 0 4.8,0" fill="none" stroke="#c4c4c4" stroke-width="1.5" stroke-opacity="0.9"/>
<circle cx="962.4" cy="611.7" r="2.3" fill="#fff"/><path d="M960.0,611.3a2.4,2.4 0 0 0 4.8,0" fill="none" stroke="#c4c4c4" stroke-width="1.5" stroke-opacity="0.9"/>
<path d="M134.2,681.1C136.7,679.7 144.4,676.7 149.5,672.6C154.6,668.5 159.8,659.7 164.9,656.8C170.0,653.8 175.1,655.7 180.2,654.9C185.3,654.1 190.4,652.4 195.5,651.9C200.7,651.4 205.8,651.7 210.9,651.9C216.0,652.1 221.1,653.7 226.2,653.1C231.3,652.5 236.4,649.0 241.6,648.2C246.7,647.4 251.8,649.0 256.9,648.2C262.0,647.4 267.1,645.2 272.2,643.4C277.3,641.5 282.4,639.4 287.6,637.3C292.7,635.1 297.8,631.8 302.9,630.6C308.0,629.4 313.1,631.1 318.2,630.0C323.4,628.8 328.5,626.3 333.6,623.9C338.7,621.4 343.8,618.2 348.9,615.3C354.0,612.5 359.1,609.9 364.2,606.8C369.4,603.8 374.5,600.7 379.6,597.1C384.7,593.4 389.8,590.0 394.9,584.9C400.0,579.8 405.1,573.7 410.3,566.6C415.4,559.5 420.5,552.4 425.6,542.2C430.7,532.1 435.8,519.9 440.9,505.7C446.1,491.5 451.2,474.2 456.3,457.0C461.4,439.7 466.5,419.4 471.6,402.1C476.7,384.9 481.8,369.6 486.9,353.4C492.1,337.2 497.2,319.9 502.3,304.7C507.4,289.4 512.5,269.9 517.6,262.0C522.7,254.1 527.9,253.3 533.0,257.2C538.1,261.0 543.2,284.4 548.3,285.2C553.4,286.0 558.5,269.7 563.6,262.0C568.8,254.3 573.9,246.4 579.0,238.9C584.1,231.4 589.2,222.2 594.3,216.9C599.4,211.7 604.5,209.2 609.6,207.2C614.8,205.2 619.9,205.4 625.0,204.8C630.1,204.2 635.2,203.7 640.3,203.5C645.4,203.3 650.6,203.5 655.7,203.5C660.8,203.5 665.9,203.3 671.0,203.5C676.1,203.7 681.2,204.6 686.3,204.8C691.4,205.0 696.6,204.2 701.7,204.8C706.8,205.4 711.9,201.1 717.0,208.4C722.1,215.7 727.2,230.6 732.4,248.6C737.5,266.7 742.6,294.6 747.7,316.9C752.8,339.1 757.9,364.7 763.0,382.0C768.1,399.4 773.2,409.5 778.4,421.0C783.5,432.5 788.6,438.6 793.7,450.9C798.8,463.2 803.9,480.9 809.0,494.7C814.1,508.5 819.3,522.5 824.4,533.7C829.5,544.9 834.6,554.2 839.7,561.7C844.8,569.2 849.9,572.9 855.0,578.8C860.2,584.7 865.3,591.6 870.4,597.1C875.5,602.5 880.6,606.4 885.7,611.7C890.8,617.0 896.0,622.7 901.1,628.7C906.2,634.8 911.3,644.2 916.4,648.2C921.5,652.3 926.6,651.3 931.7,653.1C936.8,654.9 942.0,656.6 947.1,659.2C952.2,661.8 957.3,667.5 962.4,668.9C967.5,670.4 972.6,667.1 977.8,667.7C982.9,668.3 988.0,670.6 993.1,672.6C998.2,674.6 1003.3,677.9 1008.4,679.9C1013.5,681.9 1018.7,683.8 1023.8,684.8C1028.9,685.8 1034.0,685.8 1039.1,686.0C1044.2,686.2 1051.9,686.0 1054.4,686.0" fill="none" stroke="#ffe08a" stroke-width="0.95" stroke-dasharray="4 3" stroke-opacity="0.9"/>
<circle cx="134.2" cy="681.1" r="2.3" fill="#fff"/><path d="M131.8,680.7a2.4,2.4 0 0 0 4.8,0" fill="none" stroke="#ffe08a" stroke-width="1.5" stroke-opacity="0.9"/>
<circle cx="149.5" cy="672.6" r="2.3" fill="#fff"/><path d="M147.1,672.2a2.4,2.4 0 0 0 4.8,0" fill="none" stroke="#ffe08a" stroke-width="1.5" stroke-opacity="0.9"/>
<circle cx="164.9" cy="656.8" r="2.3" fill="#fff"/><path d="M162.5,656.4a2.4,2.4 0 0 0 4.8,0" fill="none" stroke="#ffe08a" stroke-width="1.5" stroke-opacity="0.9"/>
<circle cx="180.2" cy="654.9" r="2.3" fill="#fff"/><path d="M177.8,654.5a2.4,2.4 0 0 0 4.8,0" fill="none" stroke="#ffe08a" stroke-width="1.5" stroke-opacity="0.9"/>
<circle cx="195.5" cy="651.9" r="2.3" fill="#fff"/><path d="M193.1,651.5a2.4,2.4 0 0 0 4.8,0" fill="none" stroke="#ffe08a" stroke-width="1.5" stroke-opacity="0.9"/>
<circle cx="210.9" cy="651.9" r="2.3" fill="#fff"/><path d="M208.5,651.5a2.4,2.4 0 0 0 4.8,0" fill="none" stroke="#ffe08a" stroke-width="1.5" stroke-opacity="0.9"/>
<circle cx="226.2" cy="653.1" r="2.3" fill="#fff"/><path d="M223.8,652.7a2.4,2.4 0 0 0 4.8,0" fill="none" stroke="#ffe08a" stroke-width="1.5" stroke-opacity="0.9"/>
<circle cx="241.6" cy="648.2" r="2.3" fill="#fff"/><path d="M239.2,647.8a2.4,2.4 0 0 0 4.8,0" fill="none" stroke="#ffe08a" stroke-width="1.5" stroke-opacity="0.9"/>
<circle cx="256.9" cy="648.2" r="2.3" fill="#fff"/><path d="M254.5,647.8a2.4,2.4 0 0 0 4.8,0" fill="none" stroke="#ffe08a" stroke-width="1.5" stroke-opacity="0.9"/>
<circle cx="272.2" cy="643.4" r="2.3" fill="#fff"/><path d="M269.8,643.0a2.4,2.4 0 0 0 4.8,0" fill="none" stroke="#ffe08a" stroke-width="1.5" stroke-opacity="0.9"/>
<circle cx="287.6" cy="637.3" r="2.3" fill="#fff"/><path d="M285.2,636.9a2.4,2.4 0 0 0 4.8,0" fill="none" stroke="#ffe08a" stroke-width="1.5" stroke-opacity="0.9"/>
<circle cx="302.9" cy="630.6" r="2.3" fill="#fff"/><path d="M300.5,630.2a2.4,2.4 0 0 0 4.8,0" fill="none" stroke="#ffe08a" stroke-width="1.5" stroke-opacity="0.9"/>
<circle cx="318.2" cy="630.0" r="2.3" fill="#fff"/><path d="M315.8,629.6a2.4,2.4 0 0 0 4.8,0" fill="none" stroke="#ffe08a" stroke-width="1.5" stroke-opacity="0.9"/>
<circle cx="333.6" cy="623.9" r="2.3" fill="#fff"/><path d="M331.2,623.5a2.4,2.4 0 0 0 4.8,0" fill="none" stroke="#ffe08a" stroke-width="1.5" stroke-opacity="0.9"/>
<circle cx="348.9" cy="615.3" r="2.3" fill="#fff"/><path d="M346.5,614.9a2.4,2.4 0 0 0 4.8,0" fill="none" stroke="#ffe08a" stroke-width="1.5" stroke-opacity="0.9"/>
<circle cx="364.2" cy="606.8" r="2.3" fill="#fff"/><path d="M361.9,606.4a2.4,2.4 0 0 0 4.8,0" fill="none" stroke="#ffe08a" stroke-width="1.5" stroke-opacity="0.9"/>
<circle cx="379.6" cy="597.1" r="2.3" fill="#fff"/><path d="M377.2,596.7a2.4,2.4 0 0 0 4.8,0" fill="none" stroke="#ffe08a" stroke-width="1.5" stroke-opacity="0.9"/>
<circle cx="394.9" cy="584.9" r="2.3" fill="#fff"/><path d="M392.5,584.5a2.4,2.4 0 0 0 4.8,0" fill="none" stroke="#ffe08a" stroke-width="1.5" stroke-opacity="0.9"/>
<circle cx="410.3" cy="566.6" r="2.3" fill="#fff"/><path d="M407.9,566.2a2.4,2.4 0 0 0 4.8,0" fill="none" stroke="#ffe08a" stroke-width="1.5" stroke-opacity="0.9"/>
<circle cx="425.6" cy="542.2" r="2.3" fill="#fff"/><path d="M423.2,541.8a2.4,2.4 0 0 0 4.8,0" fill="none" stroke="#ffe08a" stroke-width="1.5" stroke-opacity="0.9"/>
<circle cx="440.9" cy="505.7" r="2.3" fill="#fff"/><path d="M438.5,505.3a2.4,2.4 0 0 0 4.8,0" fill="none" stroke="#ffe08a" stroke-width="1.5" stroke-opacity="0.9"/>
<circle cx="456.3" cy="457.0" r="2.3" fill="#fff"/><path d="M453.9,456.6a2.4,2.4 0 0 0 4.8,0" fill="none" stroke="#ffe08a" stroke-width="1.5" stroke-opacity="0.9"/>
<circle cx="471.6" cy="402.1" r="2.3" fill="#fff"/><path d="M469.2,401.7a2.4,2.4 0 0 0 4.8,0" fill="none" stroke="#ffe08a" stroke-width="1.5" stroke-opacity="0.9"/>
<circle cx="486.9" cy="353.4" r="2.3" fill="#fff"/><path d="M484.6,353.0a2.4,2.4 0 0 0 4.8,0" fill="none" stroke="#ffe08a" stroke-width="1.5" stroke-opacity="0.9"/>
<circle cx="502.3" cy="304.7" r="2.3" fill="#fff"/><path d="M499.9,304.3a2.4,2.4 0 0 0 4.8,0" fill="none" stroke="#ffe08a" stroke-width="1.5" stroke-opacity="0.9"/>
<circle cx="517.6" cy="262.0" r="2.3" fill="#fff"/><path d="M515.2,261.6a2.4,2.4 0 0 0 4.8,0" fill="none" stroke="#ffe08a" stroke-width="1.5" stroke-opacity="0.9"/>
<circle cx="533.0" cy="257.2" r="2.3" fill="#fff"/><path d="M530.6,256.8a2.4,2.4 0 0 0 4.8,0" fill="none" stroke="#ffe08a" stroke-width="1.5" stroke-opacity="0.9"/>
<circle cx="548.3" cy="285.2" r="2.3" fill="#fff"/><path d="M545.9,284.8a2.4,2.4 0 0 0 4.8,0" fill="none" stroke="#ffe08a" stroke-width="1.5" stroke-opacity="0.9"/>
<circle cx="563.6" cy="262.0" r="2.3" fill="#fff"/><path d="M561.2,261.6a2.4,2.4 0 0 0 4.8,0" fill="none" stroke="#ffe08a" stroke-width="1.5" stroke-opacity="0.9"/>
<circle cx="579.0" cy="238.9" r="2.3" fill="#fff"/><path d="M576.6,238.5a2.4,2.4 0 0 0 4.8,0" fill="none" stroke="#ffe08a" stroke-width="1.5" stroke-opacity="0.9"/>
<circle cx="594.3" cy="216.9" r="2.3" fill="#fff"/><path d="M591.9,216.5a2.4,2.4 0 0 0 4.8,0" fill="none" stroke="#ffe08a" stroke-width="1.5" stroke-opacity="0.9"/>
<circle cx="609.6" cy="207.2" r="2.3" fill="#fff"/><path d="M607.2,206.8a2.4,2.4 0 0 0 4.8,0" fill="none" stroke="#ffe08a" stroke-width="1.5" stroke-opacity="0.9"/>
<circle cx="625.0" cy="204.8" r="2.3" fill="#fff"/><path d="M622.6,204.4a2.4,2.4 0 0 0 4.8,0" fill="none" stroke="#ffe08a" stroke-width="1.5" stroke-opacity="0.9"/>
<circle cx="640.3" cy="203.5" r="2.3" fill="#fff"/><path d="M637.9,203.1a2.4,2.4 0 0 0 4.8,0" fill="none" stroke="#ffe08a" stroke-width="1.5" stroke-opacity="0.9"/>
<circle cx="655.7" cy="203.5" r="2.3" fill="#fff"/><path d="M653.3,203.1a2.4,2.4 0 0 0 4.8,0" fill="none" stroke="#ffe08a" stroke-width="1.5" stroke-opacity="0.9"/>
<circle cx="671.0" cy="203.5" r="2.3" fill="#fff"/><path d="M668.6,203.1a2.4,2.4 0 0 0 4.8,0" fill="none" stroke="#ffe08a" stroke-width="1.5" stroke-opacity="0.9"/>
<circle cx="686.3" cy="204.8" r="2.3" fill="#fff"/><path d="M683.9,204.4a2.4,2.4 0 0 0 4.8,0" fill="none" stroke="#ffe08a" stroke-width="1.5" stroke-opacity="0.9"/>
<circle cx="701.7" cy="204.8" r="2.3" fill="#fff"/><path d="M699.3,204.4a2.4,2.4 0 0 0 4.8,0" fill="none" stroke="#ffe08a" stroke-width="1.5" stroke-opacity="0.9"/>
<circle cx="717.0" cy="208.4" r="2.3" fill="#fff"/><path d="M714.6,208.0a2.4,2.4 0 0 0 4.8,0" fill="none" stroke="#ffe08a" stroke-width="1.5" stroke-opacity="0.9"/>
<circle cx="732.4" cy="248.6" r="2.3" fill="#fff"/><path d="M730.0,248.2a2.4,2.4 0 0 0 4.8,0" fill="none" stroke="#ffe08a" stroke-width="1.5" stroke-opacity="0.9"/>
<circle cx="747.7" cy="316.9" r="2.3" fill="#fff"/><path d="M745.3,316.5a2.4,2.4 0 0 0 4.8,0" fill="none" stroke="#ffe08a" stroke-width="1.5" stroke-opacity="0.9"/>
<circle cx="763.0" cy="382.0" r="2.3" fill="#fff"/><path d="M760.6,381.6a2.4,2.4 0 0 0 4.8,0" fill="none" stroke="#ffe08a" stroke-width="1.5" stroke-opacity="0.9"/>
<circle cx="778.4" cy="421.0" r="2.3" fill="#fff"/><path d="M776.0,420.6a2.4,2.4 0 0 0 4.8,0" fill="none" stroke="#ffe08a" stroke-width="1.5" stroke-opacity="0.9"/>
<circle cx="793.7" cy="450.9" r="2.3" fill="#fff"/><path d="M791.3,450.5a2.4,2.4 0 0 0 4.8,0" fill="none" stroke="#ffe08a" stroke-width="1.5" stroke-opacity="0.9"/>
<circle cx="809.0" cy="494.7" r="2.3" fill="#fff"/><path d="M806.6,494.3a2.4,2.4 0 0 0 4.8,0" fill="none" stroke="#ffe08a" stroke-width="1.5" stroke-opacity="0.9"/>
<circle cx="824.4" cy="533.7" r="2.3" fill="#fff"/><path d="M822.0,533.3a2.4,2.4 0 0 0 4.8,0" fill="none" stroke="#ffe08a" stroke-width="1.5" stroke-opacity="0.9"/>
<circle cx="839.7" cy="561.7" r="2.3" fill="#fff"/><path d="M837.3,561.3a2.4,2.4 0 0 0 4.8,0" fill="none" stroke="#ffe08a" stroke-width="1.5" stroke-opacity="0.9"/>
<circle cx="855.0" cy="578.8" r="2.3" fill="#fff"/><path d="M852.6,578.4a2.4,2.4 0 0 0 4.8,0" fill="none" stroke="#ffe08a" stroke-width="1.5" stroke-opacity="0.9"/>
<circle cx="870.4" cy="597.1" r="2.3" fill="#fff"/><path d="M868.0,596.7a2.4,2.4 0 0 0 4.8,0" fill="none" stroke="#ffe08a" stroke-width="1.5" stroke-opacity="0.9"/>
<circle cx="885.7" cy="611.7" r="2.3" fill="#fff"/><path d="M883.3,611.3a2.4,2.4 0 0 0 4.8,0" fill="none" stroke="#ffe08a" stroke-width="1.5" stroke-opacity="0.9"/>
<circle cx="901.1" cy="628.7" r="2.3" fill="#fff"/><path d="M898.7,628.3a2.4,2.4 0 0 0 4.8,0" fill="none" stroke="#ffe08a" stroke-width="1.5" stroke-opacity="0.9"/>
<circle cx="916.4" cy="648.2" r="2.3" fill="#fff"/><path d="M914.0,647.8a2.4,2.4 0 0 0 4.8,0" fill="none" stroke="#ffe08a" stroke-width="1.5" stroke-opacity="0.9"/>
<circle cx="931.7" cy="653.1" r="2.3" fill="#fff"/><path d="M929.3,652.7a2.4,2.4 0 0 0 4.8,0" fill="none" stroke="#ffe08a" stroke-width="1.5" stroke-opacity="0.9"/>
<circle cx="947.1" cy="659.2" r="2.3" fill="#fff"/><path d="M944.7,658.8a2.4,2.4 0 0 0 4.8,0" fill="none" stroke="#ffe08a" stroke-width="1.5" stroke-opacity="0.9"/>
<circle cx="962.4" cy="668.9" r="2.3" fill="#fff"/><path d="M960.0,668.5a2.4,2.4 0 0 0 4.8,0" fill="none" stroke="#ffe08a" stroke-width="1.5" stroke-opacity="0.9"/>
<circle cx="977.8" cy="667.7" r="2.3" fill="#fff"/><path d="M975.4,667.3a2.4,2.4 0 0 0 4.8,0" fill="none" stroke="#ffe08a" stroke-width="1.5" stroke-opacity="0.9"/>
<circle cx="993.1" cy="672.6" r="2.3" fill="#fff"/><path d="M990.7,672.2a2.4,2.4 0 0 0 4.8,0" fill="none" stroke="#ffe08a" stroke-width="1.5" stroke-opacity="0.9"/>
<circle cx="1008.4" cy="679.9" r="2.3" fill="#fff"/><path d="M1006.0,679.5a2.4,2.4 0 0 0 4.8,0" fill="none" stroke="#ffe08a" stroke-width="1.5" stroke-opacity="0.9"/>
<circle cx="1023.8" cy="684.8" r="2.3" fill="#fff"/><path d="M1021.4,684.4a2.4,2.4 0 0 0 4.8,0" fill="none" stroke="#ffe08a" stroke-width="1.5" stroke-opacity="0.9"/>
<circle cx="1039.1" cy="686.0" r="2.3" fill="#fff"/><path d="M1036.7,685.6a2.4,2.4 0 0 0 4.8,0" fill="none" stroke="#ffe08a" stroke-width="1.5" stroke-opacity="0.9"/>
<circle cx="1054.4" cy="686.0" r="2.3" fill="#fff"/><path d="M1052.0,685.6a2.4,2.4 0 0 0 4.8,0" fill="none" stroke="#ffe08a" stroke-width="1.5" stroke-opacity="0.9"/>
<path d="M180.2,701.8C182.8,701.9 190.4,704.1 195.5,702.5C200.7,700.8 205.8,695.3 210.9,692.1C216.0,688.8 221.1,686.2 226.2,683.0C231.3,679.7 236.4,674.7 241.6,672.6C246.7,670.5 251.8,671.4 256.9,670.2C262.0,668.9 267.1,666.9 272.2,665.3C277.3,663.7 282.4,661.4 287.6,660.4C292.7,659.4 297.8,659.6 302.9,659.2C308.0,658.8 313.1,658.8 318.2,658.0C323.4,657.2 328.5,657.0 333.6,654.3C338.7,651.7 343.8,644.6 348.9,642.1C354.0,639.7 359.1,641.1 364.2,639.7C369.4,638.3 374.5,636.3 379.6,633.6C384.7,631.0 389.8,626.9 394.9,623.9C400.0,620.8 405.1,618.8 410.3,615.3C415.4,611.9 420.5,606.6 425.6,603.2C430.7,599.7 435.8,598.3 440.9,594.6C446.1,591.0 451.2,586.5 456.3,581.2C461.4,575.9 466.5,570.1 471.6,563.0C476.7,555.8 481.8,548.1 486.9,538.6C492.1,529.0 497.2,519.3 502.3,505.7C507.4,492.1 512.5,480.3 517.6,457.0C522.7,433.6 527.9,395.2 533.0,365.6C538.1,335.9 543.2,299.8 548.3,279.1C553.4,258.4 558.5,251.1 563.6,241.3C568.8,231.6 573.9,223.4 579.0,220.6C584.1,217.8 589.2,218.4 594.3,224.3C599.4,230.1 604.5,244.2 609.6,255.9C614.8,267.7 619.9,308.3 625.0,294.9C630.1,281.5 635.2,199.7 640.3,175.5C645.4,151.4 650.6,156.6 655.7,149.9C660.8,143.2 665.9,136.5 671.0,135.3C676.1,134.1 681.2,139.0 686.3,142.6C691.4,146.3 696.6,141.6 701.7,157.2C706.8,172.9 711.9,222.2 717.0,236.4C722.1,250.7 727.2,238.1 732.4,242.5C737.5,247.0 742.6,260.2 747.7,263.2C752.8,266.3 757.9,263.6 763.0,260.8C768.1,258.0 773.2,246.4 778.4,246.2C783.5,246.0 788.6,255.5 793.7,259.6C798.8,263.6 803.9,266.5 809.0,270.6C814.1,274.6 819.3,277.3 824.4,284.0C829.5,290.7 834.6,301.2 839.7,310.8C844.8,320.3 849.9,333.7 855.0,341.2C860.2,348.7 865.3,351.0 870.4,355.8C875.5,360.7 880.6,357.9 885.7,370.5C890.8,383.0 896.0,414.9 901.1,431.4C906.2,447.8 911.3,457.8 916.4,469.1C921.5,480.5 926.6,490.5 931.7,499.6C936.8,508.7 942.0,516.3 947.1,524.0C952.2,531.7 957.3,538.8 962.4,545.9C967.5,553.0 972.6,560.1 977.8,566.6C982.9,573.1 988.0,578.8 993.1,584.9C998.2,591.0 1003.3,597.3 1008.4,603.2C1013.5,609.0 1018.7,614.5 1023.8,620.2C1028.9,625.9 1034.0,631.8 1039.1,637.3C1044.2,642.8 1049.3,649.2 1054.4,653.1C1059.5,657.1 1064.7,657.6 1069.8,661.0C1074.9,664.5 1080.0,668.8 1085.1,673.8C1090.2,678.8 1095.3,688.0 1100.5,690.9C1105.6,693.7 1113.2,690.9 1115.8,690.9" fill="none" stroke="#bdd7ee" stroke-width="0.95" stroke-dasharray="4 3" stroke-opacity="0.9"/>
<circle cx="180.2" cy="701.8" r="2.3" fill="#fff"/><path d="M177.8,701.4a2.4,2.4 0 0 0 4.8,0" fill="none" stroke="#bdd7ee" stroke-width="1.5" stroke-opacity="0.9"/>
<circle cx="195.5" cy="702.5" r="2.3" fill="#fff"/><path d="M193.1,702.1a2.4,2.4 0 0 0 4.8,0" fill="none" stroke="#bdd7ee" stroke-width="1.5" stroke-opacity="0.9"/>
<circle cx="210.9" cy="692.1" r="2.3" fill="#fff"/><path d="M208.5,691.7a2.4,2.4 0 0 0 4.8,0" fill="none" stroke="#bdd7ee" stroke-width="1.5" stroke-opacity="0.9"/>
<circle cx="226.2" cy="683.0" r="2.3" fill="#fff"/><path d="M223.8,682.6a2.4,2.4 0 0 0 4.8,0" fill="none" stroke="#bdd7ee" stroke-width="1.5" stroke-opacity="0.9"/>
<circle cx="241.6" cy="672.6" r="2.3" fill="#fff"/><path d="M239.2,672.2a2.4,2.4 0 0 0 4.8,0" fill="none" stroke="#bdd7ee" stroke-width="1.5" stroke-opacity="0.9"/>
<circle cx="256.9" cy="670.2" r="2.3" fill="#fff"/><path d="M254.5,669.8a2.4,2.4 0 0 0 4.8,0" fill="none" stroke="#bdd7ee" stroke-width="1.5" stroke-opacity="0.9"/>
<circle cx="272.2" cy="665.3" r="2.3" fill="#fff"/><path d="M269.8,664.9a2.4,2.4 0 0 0 4.8,0" fill="none" stroke="#bdd7ee" stroke-width="1.5" stroke-opacity="0.9"/>
<circle cx="287.6" cy="660.4" r="2.3" fill="#fff"/><path d="M285.2,660.0a2.4,2.4 0 0 0 4.8,0" fill="none" stroke="#bdd7ee" stroke-width="1.5" stroke-opacity="0.9"/>
<circle cx="302.9" cy="659.2" r="2.3" fill="#fff"/><path d="M300.5,658.8a2.4,2.4 0 0 0 4.8,0" fill="none" stroke="#bdd7ee" stroke-width="1.5" stroke-opacity="0.9"/>
<circle cx="318.2" cy="658.0" r="2.3" fill="#fff"/><path d="M315.8,657.6a2.4,2.4 0 0 0 4.8,0" fill="none" stroke="#bdd7ee" stroke-width="1.5" stroke-opacity="0.9"/>
<circle cx="333.6" cy="654.3" r="2.3" fill="#fff"/><path d="M331.2,653.9a2.4,2.4 0 0 0 4.8,0" fill="none" stroke="#bdd7ee" stroke-width="1.5" stroke-opacity="0.9"/>
<circle cx="348.9" cy="642.1" r="2.3" fill="#fff"/><path d="M346.5,641.7a2.4,2.4 0 0 0 4.8,0" fill="none" stroke="#bdd7ee" stroke-width="1.5" stroke-opacity="0.9"/>
<circle cx="364.2" cy="639.7" r="2.3" fill="#fff"/><path d="M361.9,639.3a2.4,2.4 0 0 0 4.8,0" fill="none" stroke="#bdd7ee" stroke-width="1.5" stroke-opacity="0.9"/>
<circle cx="379.6" cy="633.6" r="2.3" fill="#fff"/><path d="M377.2,633.2a2.4,2.4 0 0 0 4.8,0" fill="none" stroke="#bdd7ee" stroke-width="1.5" stroke-opacity="0.9"/>
<circle cx="394.9" cy="623.9" r="2.3" fill="#fff"/><path d="M392.5,623.5a2.4,2.4 0 0 0 4.8,0" fill="none" stroke="#bdd7ee" stroke-width="1.5" stroke-opacity="0.9"/>
<circle cx="410.3" cy="615.3" r="2.3" fill="#fff"/><path d="M407.9,614.9a2.4,2.4 0 0 0 4.8,0" fill="none" stroke="#bdd7ee" stroke-width="1.5" stroke-opacity="0.9"/>
<circle cx="425.6" cy="603.2" r="2.3" fill="#fff"/><path d="M423.2,602.8a2.4,2.4 0 0 0 4.8,0" fill="none" stroke="#bdd7ee" stroke-width="1.5" stroke-opacity="0.9"/>
<circle cx="440.9" cy="594.6" r="2.3" fill="#fff"/><path d="M438.5,594.2a2.4,2.4 0 0 0 4.8,0" fill="none" stroke="#bdd7ee" stroke-width="1.5" stroke-opacity="0.9"/>
<circle cx="456.3" cy="581.2" r="2.3" fill="#fff"/><path d="M453.9,580.8a2.4,2.4 0 0 0 4.8,0" fill="none" stroke="#bdd7ee" stroke-width="1.5" stroke-opacity="0.9"/>
<circle cx="471.6" cy="563.0" r="2.3" fill="#fff"/><path d="M469.2,562.6a2.4,2.4 0 0 0 4.8,0" fill="none" stroke="#bdd7ee" stroke-width="1.5" stroke-opacity="0.9"/>
<circle cx="486.9" cy="538.6" r="2.3" fill="#fff"/><path d="M484.6,538.2a2.4,2.4 0 0 0 4.8,0" fill="none" stroke="#bdd7ee" stroke-width="1.5" stroke-opacity="0.9"/>
<circle cx="502.3" cy="505.7" r="2.3" fill="#fff"/><path d="M499.9,505.3a2.4,2.4 0 0 0 4.8,0" fill="none" stroke="#bdd7ee" stroke-width="1.5" stroke-opacity="0.9"/>
<circle cx="517.6" cy="457.0" r="2.3" fill="#fff"/><path d="M515.2,456.6a2.4,2.4 0 0 0 4.8,0" fill="none" stroke="#bdd7ee" stroke-width="1.5" stroke-opacity="0.9"/>
<circle cx="533.0" cy="365.6" r="2.3" fill="#fff"/><path d="M530.6,365.2a2.4,2.4 0 0 0 4.8,0" fill="none" stroke="#bdd7ee" stroke-width="1.5" stroke-opacity="0.9"/>
<circle cx="548.3" cy="279.1" r="2.3" fill="#fff"/><path d="M545.9,278.7a2.4,2.4 0 0 0 4.8,0" fill="none" stroke="#bdd7ee" stroke-width="1.5" stroke-opacity="0.9"/>
<circle cx="563.6" cy="241.3" r="2.3" fill="#fff"/><path d="M561.2,240.9a2.4,2.4 0 0 0 4.8,0" fill="none" stroke="#bdd7ee" stroke-width="1.5" stroke-opacity="0.9"/>
<circle cx="579.0" cy="220.6" r="2.3" fill="#fff"/><path d="M576.6,220.2a2.4,2.4 0 0 0 4.8,0" fill="none" stroke="#bdd7ee" stroke-width="1.5" stroke-opacity="0.9"/>
<circle cx="594.3" cy="224.3" r="2.3" fill="#fff"/><path d="M591.9,223.9a2.4,2.4 0 0 0 4.8,0" fill="none" stroke="#bdd7ee" stroke-width="1.5" stroke-opacity="0.9"/>
<circle cx="609.6" cy="255.9" r="2.3" fill="#fff"/><path d="M607.2,255.5a2.4,2.4 0 0 0 4.8,0" fill="none" stroke="#bdd7ee" stroke-width="1.5" stroke-opacity="0.9"/>
<circle cx="625.0" cy="294.9" r="2.3" fill="#fff"/><path d="M622.6,294.5a2.4,2.4 0 0 0 4.8,0" fill="none" stroke="#bdd7ee" stroke-width="1.5" stroke-opacity="0.9"/>
<circle cx="640.3" cy="175.5" r="2.3" fill="#fff"/><path d="M637.9,175.1a2.4,2.4 0 0 0 4.8,0" fill="none" stroke="#bdd7ee" stroke-width="1.5" stroke-opacity="0.9"/>
<circle cx="655.7" cy="149.9" r="2.3" fill="#fff"/><path d="M653.3,149.5a2.4,2.4 0 0 0 4.8,0" fill="none" stroke="#bdd7ee" stroke-width="1.5" stroke-opacity="0.9"/>
<circle cx="671.0" cy="135.3" r="2.3" fill="#fff"/><path d="M668.6,134.9a2.4,2.4 0 0 0 4.8,0" fill="none" stroke="#bdd7ee" stroke-width="1.5" stroke-opacity="0.9"/>
<circle cx="686.3" cy="142.6" r="2.3" fill="#fff"/><path d="M683.9,142.2a2.4,2.4 0 0 0 4.8,0" fill="none" stroke="#bdd7ee" stroke-width="1.5" stroke-opacity="0.9"/>
<circle cx="701.7" cy="157.2" r="2.3" fill="#fff"/><path d="M699.3,156.8a2.4,2.4 0 0 0 4.8,0" fill="none" stroke="#bdd7ee" stroke-width="1.5" stroke-opacity="0.9"/>
<circle cx="717.0" cy="236.4" r="2.3" fill="#fff"/><path d="M714.6,236.0a2.4,2.4 0 0 0 4.8,0" fill="none" stroke="#bdd7ee" stroke-width="1.5" stroke-opacity="0.9"/>
<circle cx="732.4" cy="242.5" r="2.3" fill="#fff"/><path d="M730.0,242.1a2.4,2.4 0 0 0 4.8,0" fill="none" stroke="#bdd7ee" stroke-width="1.5" stroke-opacity="0.9"/>
<circle cx="747.7" cy="263.2" r="2.3" fill="#fff"/><path d="M745.3,262.8a2.4,2.4 0 0 0 4.8,0" fill="none" stroke="#bdd7ee" stroke-width="1.5" stroke-opacity="0.9"/>
<circle cx="763.0" cy="260.8" r="2.3" fill="#fff"/><path d="M760.6,260.4a2.4,2.4 0 0 0 4.8,0" fill="none" stroke="#bdd7ee" stroke-width="1.5" stroke-opacity="0.9"/>
<circle cx="778.4" cy="246.2" r="2.3" fill="#fff"/><path d="M776.0,245.8a2.4,2.4 0 0 0 4.8,0" fill="none" stroke="#bdd7ee" stroke-width="1.5" stroke-opacity="0.9"/>
<circle cx="793.7" cy="259.6" r="2.3" fill="#fff"/><path d="M791.3,259.2a2.4,2.4 0 0 0 4.8,0" fill="none" stroke="#bdd7ee" stroke-width="1.5" stroke-opacity="0.9"/>
<circle cx="809.0" cy="270.6" r="2.3" fill="#fff"/><path d="M806.6,270.2a2.4,2.4 0 0 0 4.8,0" fill="none" stroke="#bdd7ee" stroke-width="1.5" stroke-opacity="0.9"/>
<circle cx="824.4" cy="284.0" r="2.3" fill="#fff"/><path d="M822.0,283.6a2.4,2.4 0 0 0 4.8,0" fill="none" stroke="#bdd7ee" stroke-width="1.5" stroke-opacity="0.9"/>
<circle cx="839.7" cy="310.8" r="2.3" fill="#fff"/><path d="M837.3,310.4a2.4,2.4 0 0 0 4.8,0" fill="none" stroke="#bdd7ee" stroke-width="1.5" stroke-opacity="0.9"/>
<circle cx="855.0" cy="341.2" r="2.3" fill="#fff"/><path d="M852.6,340.8a2.4,2.4 0 0 0 4.8,0" fill="none" stroke="#bdd7ee" stroke-width="1.5" stroke-opacity="0.9"/>
<circle cx="870.4" cy="355.8" r="2.3" fill="#fff"/><path d="M868.0,355.4a2.4,2.4 0 0 0 4.8,0" fill="none" stroke="#bdd7ee" stroke-width="1.5" stroke-opacity="0.9"/>
<circle cx="885.7" cy="370.5" r="2.3" fill="#fff"/><path d="M883.3,370.1a2.4,2.4 0 0 0 4.8,0" fill="none" stroke="#bdd7ee" stroke-width="1.5" stroke-opacity="0.9"/>
<circle cx="901.1" cy="431.4" r="2.3" fill="#fff"/><path d="M898.7,431.0a2.4,2.4 0 0 0 4.8,0" fill="none" stroke="#bdd7ee" stroke-width="1.5" stroke-opacity="0.9"/>
<circle cx="916.4" cy="469.1" r="2.3" fill="#fff"/><path d="M914.0,468.7a2.4,2.4 0 0 0 4.8,0" fill="none" stroke="#bdd7ee" stroke-width="1.5" stroke-opacity="0.9"/>
<circle cx="931.7" cy="499.6" r="2.3" fill="#fff"/><path d="M929.3,499.2a2.4,2.4 0 0 0 4.8,0" fill="none" stroke="#bdd7ee" stroke-width="1.5" stroke-opacity="0.9"/>
<circle cx="947.1" cy="524.0" r="2.3" fill="#fff"/><path d="M944.7,523.6a2.4,2.4 0 0 0 4.8,0" fill="none" stroke="#bdd7ee" stroke-width="1.5" stroke-opacity="0.9"/>
<circle cx="962.4" cy="545.9" r="2.3" fill="#fff"/><path d="M960.0,545.5a2.4,2.4 0 0 0 4.8,0" fill="none" stroke="#bdd7ee" stroke-width="1.5" stroke-opacity="0.9"/>
<circle cx="977.8" cy="566.6" r="2.3" fill="#fff"/><path d="M975.4,566.2a2.4,2.4 0 0 0 4.8,0" fill="none" stroke="#bdd7ee" stroke-width="1.5" stroke-opacity="0.9"/>
<circle cx="993.1" cy="584.9" r="2.3" fill="#fff"/><path d="M990.7,584.5a2.4,2.4 0 0 0 4.8,0" fill="none" stroke="#bdd7ee" stroke-width="1.5" stroke-opacity="0.9"/>
<circle cx="1008.4" cy="603.2" r="2.3" fill="#fff"/><path d="M1006.0,602.8a2.4,2.4 0 0 0 4.8,0" fill="none" stroke="#bdd7ee" stroke-width="1.5" stroke-opacity="0.9"/>
<circle cx="1023.8" cy="620.2" r="2.3" fill="#fff"/><path d="M1021.4,619.8a2.4,2.4 0 0 0 4.8,0" fill="none" stroke="#bdd7ee" stroke-width="1.5" stroke-opacity="0.9"/>
<circle cx="1039.1" cy="637.3" r="2.3" fill="#fff"/><path d="M1036.7,636.9a2.4,2.4 0 0 0 4.8,0" fill="none" stroke="#bdd7ee" stroke-width="1.5" stroke-opacity="0.9"/>
<circle cx="1054.4" cy="653.1" r="2.3" fill="#fff"/><path d="M1052.0,652.7a2.4,2.4 0 0 0 4.8,0" fill="none" stroke="#bdd7ee" stroke-width="1.5" stroke-opacity="0.9"/>
<circle cx="1069.8" cy="661.0" r="2.3" fill="#fff"/><path d="M1067.4,660.6a2.4,2.4 0 0 0 4.8,0" fill="none" stroke="#bdd7ee" stroke-width="1.5" stroke-opacity="0.9"/>
<circle cx="1085.1" cy="673.8" r="2.3" fill="#fff"/><path d="M1082.7,673.4a2.4,2.4 0 0 0 4.8,0" fill="none" stroke="#bdd7ee" stroke-width="1.5" stroke-opacity="0.9"/>
<circle cx="1100.5" cy="690.9" r="2.3" fill="#fff"/><path d="M1098.0,690.5a2.4,2.4 0 0 0 4.8,0" fill="none" stroke="#bdd7ee" stroke-width="1.5" stroke-opacity="0.9"/>
<circle cx="1115.8" cy="690.9" r="2.3" fill="#fff"/><path d="M1113.4,690.5a2.4,2.4 0 0 0 4.8,0" fill="none" stroke="#bdd7ee" stroke-width="1.5" stroke-opacity="0.9"/>
<path d="M195.5,670.2C198.1,670.8 205.8,674.2 210.9,673.8C216.0,673.4 221.1,669.4 226.2,667.7C231.3,666.1 236.4,665.1 241.6,664.1C246.7,663.1 251.8,663.5 256.9,661.6C262.0,659.8 267.1,655.5 272.2,653.1C277.3,650.7 282.4,648.4 287.6,647.0C292.7,645.6 297.8,644.4 302.9,644.6C308.0,644.8 313.1,647.2 318.2,648.2C323.4,649.3 328.5,650.7 333.6,650.7C338.7,650.7 343.8,648.4 348.9,648.2C354.0,648.0 359.1,649.7 364.2,649.5C369.4,649.3 374.5,647.6 379.6,647.0C384.7,646.4 389.8,646.6 394.9,645.8C400.0,645.0 405.1,644.8 410.3,642.1C415.4,639.5 420.5,633.0 425.6,630.0C430.7,626.9 435.8,626.3 440.9,623.9C446.1,621.4 451.2,618.2 456.3,615.3C461.4,612.5 466.5,612.9 471.6,606.8C476.7,600.7 481.8,589.6 486.9,578.8C492.1,568.0 497.2,554.4 502.3,542.2C507.4,530.1 512.5,518.5 517.6,505.7C522.7,492.9 527.9,478.5 533.0,465.5C538.1,452.5 543.2,436.2 548.3,427.7C553.4,419.2 558.5,418.6 563.6,414.3C568.8,410.1 573.9,404.0 579.0,402.1C584.1,400.3 589.2,408.5 594.3,403.4C599.4,398.2 604.5,377.4 609.6,371.1C614.8,364.8 619.9,364.5 625.0,365.6C630.1,366.7 635.2,373.9 640.3,377.8C645.4,381.6 650.6,388.9 655.7,388.7C660.8,388.5 665.9,374.9 671.0,376.5C676.1,378.2 681.2,391.6 686.3,398.5C691.4,405.4 696.6,417.6 701.7,418.0C706.8,418.4 711.9,400.5 717.0,400.9C722.1,401.3 727.2,419.2 732.4,420.4C737.5,421.6 742.6,411.3 747.7,408.2C752.8,405.2 757.9,401.1 763.0,402.1C768.1,403.1 773.2,408.2 778.4,414.3C783.5,420.4 788.6,429.5 793.7,438.7C798.8,447.8 803.9,459.0 809.0,469.1C814.1,479.3 819.3,490.5 824.4,499.6C829.5,508.7 834.6,516.9 839.7,524.0C844.8,531.1 849.9,536.8 855.0,542.2C860.2,547.7 865.3,552.4 870.4,556.9C875.5,561.3 880.6,565.4 885.7,569.0C890.8,572.7 896.0,575.1 901.1,578.8C906.2,582.4 911.3,587.5 916.4,591.0C921.5,594.4 926.6,596.9 931.7,599.5C936.8,602.1 942.0,604.4 947.1,606.8C952.2,609.2 957.3,612.1 962.4,614.1C967.5,616.2 975.2,618.2 977.8,619.0" fill="none" stroke="#b5d89f" stroke-width="0.95" stroke-dasharray="4 3" stroke-opacity="0.9"/>
<circle cx="195.5" cy="670.2" r="2.3" fill="#fff"/><path d="M193.1,669.8a2.4,2.4 0 0 0 4.8,0" fill="none" stroke="#b5d89f" stroke-width="1.5" stroke-opacity="0.9"/>
<circle cx="210.9" cy="673.8" r="2.3" fill="#fff"/><path d="M208.5,673.4a2.4,2.4 0 0 0 4.8,0" fill="none" stroke="#b5d89f" stroke-width="1.5" stroke-opacity="0.9"/>
<circle cx="226.2" cy="667.7" r="2.3" fill="#fff"/><path d="M223.8,667.3a2.4,2.4 0 0 0 4.8,0" fill="none" stroke="#b5d89f" stroke-width="1.5" stroke-opacity="0.9"/>
<circle cx="241.6" cy="664.1" r="2.3" fill="#fff"/><path d="M239.2,663.7a2.4,2.4 0 0 0 4.8,0" fill="none" stroke="#b5d89f" stroke-width="1.5" stroke-opacity="0.9"/>
<circle cx="256.9" cy="661.6" r="2.3" fill="#fff"/><path d="M254.5,661.2a2.4,2.4 0 0 0 4.8,0" fill="none" stroke="#b5d89f" stroke-width="1.5" stroke-opacity="0.9"/>
<circle cx="272.2" cy="653.1" r="2.3" fill="#fff"/><path d="M269.8,652.7a2.4,2.4 0 0 0 4.8,0" fill="none" stroke="#b5d89f" stroke-width="1.5" stroke-opacity="0.9"/>
<circle cx="287.6" cy="647.0" r="2.3" fill="#fff"/><path d="M285.2,646.6a2.4,2.4 0 0 0 4.8,0" fill="none" stroke="#b5d89f" stroke-width="1.5" stroke-opacity="0.9"/>
<circle cx="302.9" cy="644.6" r="2.3" fill="#fff"/><path d="M300.5,644.2a2.4,2.4 0 0 0 4.8,0" fill="none" stroke="#b5d89f" stroke-width="1.5" stroke-opacity="0.9"/>
<circle cx="318.2" cy="648.2" r="2.3" fill="#fff"/><path d="M315.8,647.8a2.4,2.4 0 0 0 4.8,0" fill="none" stroke="#b5d89f" stroke-width="1.5" stroke-opacity="0.9"/>
<circle cx="333.6" cy="650.7" r="2.3" fill="#fff"/><path d="M331.2,650.3a2.4,2.4 0 0 0 4.8,0" fill="none" stroke="#b5d89f" stroke-width="1.5" stroke-opacity="0.9"/>
<circle cx="348.9" cy="648.2" r="2.3" fill="#fff"/><path d="M346.5,647.8a2.4,2.4 0 0 0 4.8,0" fill="none" stroke="#b5d89f" stroke-width="1.5" stroke-opacity="0.9"/>
<circle cx="364.2" cy="649.5" r="2.3" fill="#fff"/><path d="M361.9,649.1a2.4,2.4 0 0 0 4.8,0" fill="none" stroke="#b5d89f" stroke-width="1.5" stroke-opacity="0.9"/>
<circle cx="379.6" cy="647.0" r="2.3" fill="#fff"/><path d="M377.2,646.6a2.4,2.4 0 0 0 4.8,0" fill="none" stroke="#b5d89f" stroke-width="1.5" stroke-opacity="0.9"/>
<circle cx="394.9" cy="645.8" r="2.3" fill="#fff"/><path d="M392.5,645.4a2.4,2.4 0 0 0 4.8,0" fill="none" stroke="#b5d89f" stroke-width="1.5" stroke-opacity="0.9"/>
<circle cx="410.3" cy="642.1" r="2.3" fill="#fff"/><path d="M407.9,641.7a2.4,2.4 0 0 0 4.8,0" fill="none" stroke="#b5d89f" stroke-width="1.5" stroke-opacity="0.9"/>
<circle cx="425.6" cy="630.0" r="2.3" fill="#fff"/><path d="M423.2,629.6a2.4,2.4 0 0 0 4.8,0" fill="none" stroke="#b5d89f" stroke-width="1.5" stroke-opacity="0.9"/>
<circle cx="440.9" cy="623.9" r="2.3" fill="#fff"/><path d="M438.5,623.5a2.4,2.4 0 0 0 4.8,0" fill="none" stroke="#b5d89f" stroke-width="1.5" stroke-opacity="0.9"/>
<circle cx="456.3" cy="615.3" r="2.3" fill="#fff"/><path d="M453.9,614.9a2.4,2.4 0 0 0 4.8,0" fill="none" stroke="#b5d89f" stroke-width="1.5" stroke-opacity="0.9"/>
<circle cx="471.6" cy="606.8" r="2.3" fill="#fff"/><path d="M469.2,606.4a2.4,2.4 0 0 0 4.8,0" fill="none" stroke="#b5d89f" stroke-width="1.5" stroke-opacity="0.9"/>
<circle cx="486.9" cy="578.8" r="2.3" fill="#fff"/><path d="M484.6,578.4a2.4,2.4 0 0 0 4.8,0" fill="none" stroke="#b5d89f" stroke-width="1.5" stroke-opacity="0.9"/>
<circle cx="502.3" cy="542.2" r="2.3" fill="#fff"/><path d="M499.9,541.8a2.4,2.4 0 0 0 4.8,0" fill="none" stroke="#b5d89f" stroke-width="1.5" stroke-opacity="0.9"/>
<circle cx="517.6" cy="505.7" r="2.3" fill="#fff"/><path d="M515.2,505.3a2.4,2.4 0 0 0 4.8,0" fill="none" stroke="#b5d89f" stroke-width="1.5" stroke-opacity="0.9"/>
<circle cx="533.0" cy="465.5" r="2.3" fill="#fff"/><path d="M530.6,465.1a2.4,2.4 0 0 0 4.8,0" fill="none" stroke="#b5d89f" stroke-width="1.5" stroke-opacity="0.9"/>
<circle cx="548.3" cy="427.7" r="2.3" fill="#fff"/><path d="M545.9,427.3a2.4,2.4 0 0 0 4.8,0" fill="none" stroke="#b5d89f" stroke-width="1.5" stroke-opacity="0.9"/>
<circle cx="563.6" cy="414.3" r="2.3" fill="#fff"/><path d="M561.2,413.9a2.4,2.4 0 0 0 4.8,0" fill="none" stroke="#b5d89f" stroke-width="1.5" stroke-opacity="0.9"/>
<circle cx="579.0" cy="402.1" r="2.3" fill="#fff"/><path d="M576.6,401.7a2.4,2.4 0 0 0 4.8,0" fill="none" stroke="#b5d89f" stroke-width="1.5" stroke-opacity="0.9"/>
<circle cx="594.3" cy="403.4" r="2.3" fill="#fff"/><path d="M591.9,403.0a2.4,2.4 0 0 0 4.8,0" fill="none" stroke="#b5d89f" stroke-width="1.5" stroke-opacity="0.9"/>
<circle cx="609.6" cy="371.1" r="2.3" fill="#fff"/><path d="M607.2,370.7a2.4,2.4 0 0 0 4.8,0" fill="none" stroke="#b5d89f" stroke-width="1.5" stroke-opacity="0.9"/>
<circle cx="625.0" cy="365.6" r="2.3" fill="#fff"/><path d="M622.6,365.2a2.4,2.4 0 0 0 4.8,0" fill="none" stroke="#b5d89f" stroke-width="1.5" stroke-opacity="0.9"/>
<circle cx="640.3" cy="377.8" r="2.3" fill="#fff"/><path d="M637.9,377.4a2.4,2.4 0 0 0 4.8,0" fill="none" stroke="#b5d89f" stroke-width="1.5" stroke-opacity="0.9"/>
<circle cx="655.7" cy="388.7" r="2.3" fill="#fff"/><path d="M653.3,388.3a2.4,2.4 0 0 0 4.8,0" fill="none" stroke="#b5d89f" stroke-width="1.5" stroke-opacity="0.9"/>
<circle cx="671.0" cy="376.5" r="2.3" fill="#fff"/><path d="M668.6,376.1a2.4,2.4 0 0 0 4.8,0" fill="none" stroke="#b5d89f" stroke-width="1.5" stroke-opacity="0.9"/>
<circle cx="686.3" cy="398.5" r="2.3" fill="#fff"/><path d="M683.9,398.1a2.4,2.4 0 0 0 4.8,0" fill="none" stroke="#b5d89f" stroke-width="1.5" stroke-opacity="0.9"/>
<circle cx="701.7" cy="418.0" r="2.3" fill="#fff"/><path d="M699.3,417.6a2.4,2.4 0 0 0 4.8,0" fill="none" stroke="#b5d89f" stroke-width="1.5" stroke-opacity="0.9"/>
<circle cx="717.0" cy="400.9" r="2.3" fill="#fff"/><path d="M714.6,400.5a2.4,2.4 0 0 0 4.8,0" fill="none" stroke="#b5d89f" stroke-width="1.5" stroke-opacity="0.9"/>
<circle cx="732.4" cy="420.4" r="2.3" fill="#fff"/><path d="M730.0,420.0a2.4,2.4 0 0 0 4.8,0" fill="none" stroke="#b5d89f" stroke-width="1.5" stroke-opacity="0.9"/>
<circle cx="747.7" cy="408.2" r="2.3" fill="#fff"/><path d="M745.3,407.8a2.4,2.4 0 0 0 4.8,0" fill="none" stroke="#b5d89f" stroke-width="1.5" stroke-opacity="0.9"/>
<circle cx="763.0" cy="402.1" r="2.3" fill="#fff"/><path d="M760.6,401.7a2.4,2.4 0 0 0 4.8,0" fill="none" stroke="#b5d89f" stroke-width="1.5" stroke-opacity="0.9"/>
<circle cx="778.4" cy="414.3" r="2.3" fill="#fff"/><path d="M776.0,413.9a2.4,2.4 0 0 0 4.8,0" fill="none" stroke="#b5d89f" stroke-width="1.5" stroke-opacity="0.9"/>
<circle cx="793.7" cy="438.7" r="2.3" fill="#fff"/><path d="M791.3,438.3a2.4,2.4 0 0 0 4.8,0" fill="none" stroke="#b5d89f" stroke-width="1.5" stroke-opacity="0.9"/>
<circle cx="809.0" cy="469.1" r="2.3" fill="#fff"/><path d="M806.6,468.7a2.4,2.4 0 0 0 4.8,0" fill="none" stroke="#b5d89f" stroke-width="1.5" stroke-opacity="0.9"/>
<circle cx="824.4" cy="499.6" r="2.3" fill="#fff"/><path d="M822.0,499.2a2.4,2.4 0 0 0 4.8,0" fill="none" stroke="#b5d89f" stroke-width="1.5" stroke-opacity="0.9"/>
<circle cx="839.7" cy="524.0" r="2.3" fill="#fff"/><path d="M837.3,523.6a2.4,2.4 0 0 0 4.8,0" fill="none" stroke="#b5d89f" stroke-width="1.5" stroke-opacity="0.9"/>
<circle cx="855.0" cy="542.2" r="2.3" fill="#fff"/><path d="M852.6,541.8a2.4,2.4 0 0 0 4.8,0" fill="none" stroke="#b5d89f" stroke-width="1.5" stroke-opacity="0.9"/>
<circle cx="870.4" cy="556.9" r="2.3" fill="#fff"/><path d="M868.0,556.5a2.4,2.4 0 0 0 4.8,0" fill="none" stroke="#b5d89f" stroke-width="1.5" stroke-opacity="0.9"/>
<circle cx="885.7" cy="569.0" r="2.3" fill="#fff"/><path d="M883.3,568.6a2.4,2.4 0 0 0 4.8,0" fill="none" stroke="#b5d89f" stroke-width="1.5" stroke-opacity="0.9"/>
<circle cx="901.1" cy="578.8" r="2.3" fill="#fff"/><path d="M898.7,578.4a2.4,2.4 0 0 0 4.8,0" fill="none" stroke="#b5d89f" stroke-width="1.5" stroke-opacity="0.9"/>
<circle cx="916.4" cy="591.0" r="2.3" fill="#fff"/><path d="M914.0,590.6a2.4,2.4 0 0 0 4.8,0" fill="none" stroke="#b5d89f" stroke-width="1.5" stroke-opacity="0.9"/>
<circle cx="931.7" cy="599.5" r="2.3" fill="#fff"/><path d="M929.3,599.1a2.4,2.4 0 0 0 4.8,0" fill="none" stroke="#b5d89f" stroke-width="1.5" stroke-opacity="0.9"/>
<circle cx="947.1" cy="606.8" r="2.3" fill="#fff"/><path d="M944.7,606.4a2.4,2.4 0 0 0 4.8,0" fill="none" stroke="#b5d89f" stroke-width="1.5" stroke-opacity="0.9"/>
<circle cx="962.4" cy="614.1" r="2.3" fill="#fff"/><path d="M960.0,613.7a2.4,2.4 0 0 0 4.8,0" fill="none" stroke="#b5d89f" stroke-width="1.5" stroke-opacity="0.9"/>
<circle cx="977.8" cy="619.0" r="2.3" fill="#fff"/><path d="M975.4,618.6a2.4,2.4 0 0 0 4.8,0" fill="none" stroke="#b5d89f" stroke-width="1.5" stroke-opacity="0.9"/>
<path d="M241.6,707.9C244.1,708.1 251.8,710.1 256.9,709.2C262.0,708.2 267.1,705.9 272.2,702.5C277.3,699.0 282.4,691.8 287.6,688.4C292.7,685.1 297.8,683.3 302.9,682.4C308.0,681.4 313.1,682.6 318.2,683.0C323.4,683.4 328.5,687.1 333.6,684.8C338.7,682.5 343.8,674.0 348.9,668.9C354.0,663.9 359.1,660.8 364.2,654.3C369.4,647.8 374.5,638.5 379.6,630.0C384.7,621.4 389.8,612.1 394.9,603.2C400.0,594.2 405.1,586.9 410.3,576.4C415.4,565.8 420.5,555.6 425.6,539.8C430.7,524.0 435.8,502.2 440.9,481.3C446.1,460.4 451.2,433.4 456.3,414.3C461.4,395.2 466.5,371.9 471.6,366.8C476.7,361.7 481.8,380.0 486.9,383.9C492.1,387.7 497.2,392.0 502.3,389.9C507.4,387.9 512.5,381.6 517.6,371.7C522.7,361.7 527.9,336.3 533.0,330.3C538.1,324.2 543.2,330.7 548.3,335.1C553.4,339.6 558.5,352.6 563.6,357.1C568.8,361.5 573.9,368.8 579.0,361.9C584.1,355.0 589.2,323.6 594.3,315.6C599.4,307.7 604.5,315.2 609.6,314.4C614.8,313.6 619.9,311.4 625.0,310.8C630.1,310.1 635.2,310.4 640.3,310.8C645.4,311.2 650.6,313.4 655.7,313.2C660.8,313.0 665.9,309.9 671.0,309.5C676.1,309.1 681.2,309.5 686.3,310.8C691.4,312.0 696.6,316.4 701.7,316.9C706.8,317.3 711.9,314.2 717.0,313.2C722.1,312.2 727.2,310.8 732.4,310.8C737.5,310.8 742.6,313.2 747.7,313.2C752.8,313.2 757.9,310.1 763.0,310.8C768.1,311.4 773.2,315.8 778.4,316.9C783.5,317.9 788.6,316.4 793.7,316.9C798.8,317.3 803.9,313.2 809.0,319.3C814.1,325.4 819.3,338.6 824.4,353.4C829.5,368.2 834.6,392.0 839.7,408.2C844.8,424.5 849.9,438.7 855.0,450.9C860.2,463.1 865.3,472.2 870.4,481.3C875.5,490.5 880.6,498.6 885.7,505.7C890.8,512.8 896.0,517.9 901.1,524.0C906.2,530.1 911.3,536.8 916.4,542.2C921.5,547.7 926.6,552.8 931.7,556.9C936.8,560.9 942.0,564.0 947.1,566.6C952.2,569.2 957.3,571.3 962.4,572.7C967.5,574.1 972.6,572.1 977.8,575.1C982.9,578.2 988.0,586.9 993.1,591.0C998.2,595.0 1003.3,597.1 1008.4,599.5C1013.5,601.9 1018.7,602.3 1023.8,605.6C1028.9,608.8 1034.0,617.2 1039.1,619.0C1044.2,620.8 1051.9,617.0 1054.4,616.6" fill="none" stroke="#2f5597" stroke-width="0.95" stroke-dasharray="4 3" stroke-opacity="0.9"/>
<circle cx="241.6" cy="707.9" r="2.3" fill="#fff"/><path d="M239.2,707.5a2.4,2.4 0 0 0 4.8,0" fill="none" stroke="#2f5597" stroke-width="1.5" stroke-opacity="0.9"/>
<circle cx="256.9" cy="709.2" r="2.3" fill="#fff"/><path d="M254.5,708.8a2.4,2.4 0 0 0 4.8,0" fill="none" stroke="#2f5597" stroke-width="1.5" stroke-opacity="0.9"/>
<circle cx="272.2" cy="702.5" r="2.3" fill="#fff"/><path d="M269.8,702.1a2.4,2.4 0 0 0 4.8,0" fill="none" stroke="#2f5597" stroke-width="1.5" stroke-opacity="0.9"/>
<circle cx="287.6" cy="688.4" r="2.3" fill="#fff"/><path d="M285.2,688.0a2.4,2.4 0 0 0 4.8,0" fill="none" stroke="#2f5597" stroke-width="1.5" stroke-opacity="0.9"/>
<circle cx="302.9" cy="682.4" r="2.3" fill="#fff"/><path d="M300.5,682.0a2.4,2.4 0 0 0 4.8,0" fill="none" stroke="#2f5597" stroke-width="1.5" stroke-opacity="0.9"/>
<circle cx="318.2" cy="683.0" r="2.3" fill="#fff"/><path d="M315.8,682.6a2.4,2.4 0 0 0 4.8,0" fill="none" stroke="#2f5597" stroke-width="1.5" stroke-opacity="0.9"/>
<circle cx="333.6" cy="684.8" r="2.3" fill="#fff"/><path d="M331.2,684.4a2.4,2.4 0 0 0 4.8,0" fill="none" stroke="#2f5597" stroke-width="1.5" stroke-opacity="0.9"/>
<circle cx="348.9" cy="668.9" r="2.3" fill="#fff"/><path d="M346.5,668.5a2.4,2.4 0 0 0 4.8,0" fill="none" stroke="#2f5597" stroke-width="1.5" stroke-opacity="0.9"/>
<circle cx="364.2" cy="654.3" r="2.3" fill="#fff"/><path d="M361.9,653.9a2.4,2.4 0 0 0 4.8,0" fill="none" stroke="#2f5597" stroke-width="1.5" stroke-opacity="0.9"/>
<circle cx="379.6" cy="630.0" r="2.3" fill="#fff"/><path d="M377.2,629.6a2.4,2.4 0 0 0 4.8,0" fill="none" stroke="#2f5597" stroke-width="1.5" stroke-opacity="0.9"/>
<circle cx="394.9" cy="603.2" r="2.3" fill="#fff"/><path d="M392.5,602.8a2.4,2.4 0 0 0 4.8,0" fill="none" stroke="#2f5597" stroke-width="1.5" stroke-opacity="0.9"/>
<circle cx="410.3" cy="576.4" r="2.3" fill="#fff"/><path d="M407.9,576.0a2.4,2.4 0 0 0 4.8,0" fill="none" stroke="#2f5597" stroke-width="1.5" stroke-opacity="0.9"/>
<circle cx="425.6" cy="539.8" r="2.3" fill="#fff"/><path d="M423.2,539.4a2.4,2.4 0 0 0 4.8,0" fill="none" stroke="#2f5597" stroke-width="1.5" stroke-opacity="0.9"/>
<circle cx="440.9" cy="481.3" r="2.3" fill="#fff"/><path d="M438.5,480.9a2.4,2.4 0 0 0 4.8,0" fill="none" stroke="#2f5597" stroke-width="1.5" stroke-opacity="0.9"/>
<circle cx="456.3" cy="414.3" r="2.3" fill="#fff"/><path d="M453.9,413.9a2.4,2.4 0 0 0 4.8,0" fill="none" stroke="#2f5597" stroke-width="1.5" stroke-opacity="0.9"/>
<circle cx="471.6" cy="366.8" r="2.3" fill="#fff"/><path d="M469.2,366.4a2.4,2.4 0 0 0 4.8,0" fill="none" stroke="#2f5597" stroke-width="1.5" stroke-opacity="0.9"/>
<circle cx="486.9" cy="383.9" r="2.3" fill="#fff"/><path d="M484.6,383.5a2.4,2.4 0 0 0 4.8,0" fill="none" stroke="#2f5597" stroke-width="1.5" stroke-opacity="0.9"/>
<circle cx="502.3" cy="389.9" r="2.3" fill="#fff"/><path d="M499.9,389.6a2.4,2.4 0 0 0 4.8,0" fill="none" stroke="#2f5597" stroke-width="1.5" stroke-opacity="0.9"/>
<circle cx="517.6" cy="371.7" r="2.3" fill="#fff"/><path d="M515.2,371.3a2.4,2.4 0 0 0 4.8,0" fill="none" stroke="#2f5597" stroke-width="1.5" stroke-opacity="0.9"/>
<circle cx="533.0" cy="330.3" r="2.3" fill="#fff"/><path d="M530.6,329.9a2.4,2.4 0 0 0 4.8,0" fill="none" stroke="#2f5597" stroke-width="1.5" stroke-opacity="0.9"/>
<circle cx="548.3" cy="335.1" r="2.3" fill="#fff"/><path d="M545.9,334.7a2.4,2.4 0 0 0 4.8,0" fill="none" stroke="#2f5597" stroke-width="1.5" stroke-opacity="0.9"/>
<circle cx="563.6" cy="357.1" r="2.3" fill="#fff"/><path d="M561.2,356.7a2.4,2.4 0 0 0 4.8,0" fill="none" stroke="#2f5597" stroke-width="1.5" stroke-opacity="0.9"/>
<circle cx="579.0" cy="361.9" r="2.3" fill="#fff"/><path d="M576.6,361.5a2.4,2.4 0 0 0 4.8,0" fill="none" stroke="#2f5597" stroke-width="1.5" stroke-opacity="0.9"/>
<circle cx="594.3" cy="315.6" r="2.3" fill="#fff"/><path d="M591.9,315.2a2.4,2.4 0 0 0 4.8,0" fill="none" stroke="#2f5597" stroke-width="1.5" stroke-opacity="0.9"/>
<circle cx="609.6" cy="314.4" r="2.3" fill="#fff"/><path d="M607.2,314.0a2.4,2.4 0 0 0 4.8,0" fill="none" stroke="#2f5597" stroke-width="1.5" stroke-opacity="0.9"/>
<circle cx="625.0" cy="310.8" r="2.3" fill="#fff"/><path d="M622.6,310.4a2.4,2.4 0 0 0 4.8,0" fill="none" stroke="#2f5597" stroke-width="1.5" stroke-opacity="0.9"/>
<circle cx="640.3" cy="310.8" r="2.3" fill="#fff"/><path d="M637.9,310.4a2.4,2.4 0 0 0 4.8,0" fill="none" stroke="#2f5597" stroke-width="1.5" stroke-opacity="0.9"/>
<circle cx="655.7" cy="313.2" r="2.3" fill="#fff"/><path d="M653.3,312.8a2.4,2.4 0 0 0 4.8,0" fill="none" stroke="#2f5597" stroke-width="1.5" stroke-opacity="0.9"/>
<circle cx="671.0" cy="309.5" r="2.3" fill="#fff"/><path d="M668.6,309.1a2.4,2.4 0 0 0 4.8,0" fill="none" stroke="#2f5597" stroke-width="1.5" stroke-opacity="0.9"/>
<circle cx="686.3" cy="310.8" r="2.3" fill="#fff"/><path d="M683.9,310.4a2.4,2.4 0 0 0 4.8,0" fill="none" stroke="#2f5597" stroke-width="1.5" stroke-opacity="0.9"/>
<circle cx="701.7" cy="316.9" r="2.3" fill="#fff"/><path d="M699.3,316.5a2.4,2.4 0 0 0 4.8,0" fill="none" stroke="#2f5597" stroke-width="1.5" stroke-opacity="0.9"/>
<circle cx="717.0" cy="313.2" r="2.3" fill="#fff"/><path d="M714.6,312.8a2.4,2.4 0 0 0 4.8,0" fill="none" stroke="#2f5597" stroke-width="1.5" stroke-opacity="0.9"/>
<circle cx="732.4" cy="310.8" r="2.3" fill="#fff"/><path d="M730.0,310.4a2.4,2.4 0 0 0 4.8,0" fill="none" stroke="#2f5597" stroke-width="1.5" stroke-opacity="0.9"/>
<circle cx="747.7" cy="313.2" r="2.3" fill="#fff"/><path d="M745.3,312.8a2.4,2.4 0 0 0 4.8,0" fill="none" stroke="#2f5597" stroke-width="1.5" stroke-opacity="0.9"/>
<circle cx="763.0" cy="310.8" r="2.3" fill="#fff"/><path d="M760.6,310.4a2.4,2.4 0 0 0 4.8,0" fill="none" stroke="#2f5597" stroke-width="1.5" stroke-opacity="0.9"/>
<circle cx="778.4" cy="316.9" r="2.3" fill="#fff"/><path d="M776.0,316.5a2.4,2.4 0 0 0 4.8,0" fill="none" stroke="#2f5597" stroke-width="1.5" stroke-opacity="0.9"/>
<circle cx="793.7" cy="316.9" r="2.3" fill="#fff"/><path d="M791.3,316.5a2.4,2.4 0 0 0 4.8,0" fill="none" stroke="#2f5597" stroke-width="1.5" stroke-opacity="0.9"/>
<circle cx="809.0" cy="319.3" r="2.3" fill="#fff"/><path d="M806.6,318.9a2.4,2.4 0 0 0 4.8,0" fill="none" stroke="#2f5597" stroke-width="1.5" stroke-opacity="0.9"/>
<circle cx="824.4" cy="353.4" r="2.3" fill="#fff"/><path d="M822.0,353.0a2.4,2.4 0 0 0 4.8,0" fill="none" stroke="#2f5597" stroke-width="1.5" stroke-opacity="0.9"/>
<circle cx="839.7" cy="408.2" r="2.3" fill="#fff"/><path d="M837.3,407.8a2.4,2.4 0 0 0 4.8,0" fill="none" stroke="#2f5597" stroke-width="1.5" stroke-opacity="0.9"/>
<circle cx="855.0" cy="450.9" r="2.3" fill="#fff"/><path d="M852.6,450.5a2.4,2.4 0 0 0 4.8,0" fill="none" stroke="#2f5597" stroke-width="1.5" stroke-opacity="0.9"/>
<circle cx="870.4" cy="481.3" r="2.3" fill="#fff"/><path d="M868.0,480.9a2.4,2.4 0 0 0 4.8,0" fill="none" stroke="#2f5597" stroke-width="1.5" stroke-opacity="0.9"/>
<circle cx="885.7" cy="505.7" r="2.3" fill="#fff"/><path d="M883.3,505.3a2.4,2.4 0 0 0 4.8,0" fill="none" stroke="#2f5597" stroke-width="1.5" stroke-opacity="0.9"/>
<circle cx="901.1" cy="524.0" r="2.3" fill="#fff"/><path d="M898.7,523.6a2.4,2.4 0 0 0 4.8,0" fill="none" stroke="#2f5597" stroke-width="1.5" stroke-opacity="0.9"/>
<circle cx="916.4" cy="542.2" r="2.3" fill="#fff"/><path d="M914.0,541.8a2.4,2.4 0 0 0 4.8,0" fill="none" stroke="#2f5597" stroke-width="1.5" stroke-opacity="0.9"/>
<circle cx="931.7" cy="556.9" r="2.3" fill="#fff"/><path d="M929.3,556.5a2.4,2.4 0 0 0 4.8,0" fill="none" stroke="#2f5597" stroke-width="1.5" stroke-opacity="0.9"/>
<circle cx="947.1" cy="566.6" r="2.3" fill="#fff"/><path d="M944.7,566.2a2.4,2.4 0 0 0 4.8,0" fill="none" stroke="#2f5597" stroke-width="1.5" stroke-opacity="0.9"/>
<circle cx="962.4" cy="572.7" r="2.3" fill="#fff"/><path d="M960.0,572.3a2.4,2.4 0 0 0 4.8,0" fill="none" stroke="#2f5597" stroke-width="1.5" stroke-opacity="0.9"/>
<circle cx="977.8" cy="575.1" r="2.3" fill="#fff"/><path d="M975.4,574.7a2.4,2.4 0 0 0 4.8,0" fill="none" stroke="#2f5597" stroke-width="1.5" stroke-opacity="0.9"/>
<circle cx="993.1" cy="591.0" r="2.3" fill="#fff"/><path d="M990.7,590.6a2.4,2.4 0 0 0 4.8,0" fill="none" stroke="#2f5597" stroke-width="1.5" stroke-opacity="0.9"/>
<circle cx="1008.4" cy="599.5" r="2.3" fill="#fff"/><path d="M1006.0,599.1a2.4,2.4 0 0 0 4.8,0" fill="none" stroke="#2f5597" stroke-width="1.5" stroke-opacity="0.9"/>
<circle cx="1023.8" cy="605.6" r="2.3" fill="#fff"/><path d="M1021.4,605.2a2.4,2.4 0 0 0 4.8,0" fill="none" stroke="#2f5597" stroke-width="1.5" stroke-opacity="0.9"/>
<circle cx="1039.1" cy="619.0" r="2.3" fill="#fff"/><path d="M1036.7,618.6a2.4,2.4 0 0 0 4.8,0" fill="none" stroke="#2f5597" stroke-width="1.5" stroke-opacity="0.9"/>
<circle cx="1054.4" cy="616.6" r="2.3" fill="#fff"/><path d="M1052.0,616.2a2.4,2.4 0 0 0 4.8,0" fill="none" stroke="#2f5597" stroke-width="1.5" stroke-opacity="0.9"/>
<path d="M272.2,725.0C274.8,723.3 282.4,720.1 287.6,714.6C292.7,709.2 297.8,699.1 302.9,692.1C308.0,685.1 313.1,679.3 318.2,672.6C323.4,665.9 328.5,657.6 333.6,651.9C338.7,646.2 343.8,643.0 348.9,638.5C354.0,634.0 359.1,631.4 364.2,625.1C369.4,618.8 374.5,608.8 379.6,600.7C384.7,592.6 389.8,583.1 394.9,576.4C400.0,569.7 405.1,568.2 410.3,560.5C415.4,552.8 420.5,543.9 425.6,530.1C430.7,516.3 435.8,497.2 440.9,477.7C446.1,458.2 451.2,436.0 456.3,413.1C461.4,390.2 466.5,362.7 471.6,340.0C476.7,317.3 481.8,294.9 486.9,276.6C492.1,258.4 497.2,240.1 502.3,230.3C507.4,220.6 512.5,218.0 517.6,218.2C522.7,218.4 527.9,231.2 533.0,231.6C538.1,232.0 543.2,224.3 548.3,220.6C553.4,216.9 558.5,212.0 563.6,209.6C568.8,207.3 573.9,207.1 579.0,206.5C584.1,205.9 589.2,204.2 594.3,206.0C599.4,207.7 604.5,212.1 609.6,216.9C614.8,221.8 619.9,235.4 625.0,235.2C630.1,235.0 635.2,221.2 640.3,215.7C645.4,210.2 650.6,205.4 655.7,202.3C660.8,199.3 665.9,197.9 671.0,197.5C676.1,197.0 681.2,198.2 686.3,199.9C691.4,201.6 696.6,206.2 701.7,207.7C706.8,209.2 711.9,208.6 717.0,209.0C722.1,209.5 727.2,209.1 732.4,210.2C737.5,211.4 742.6,212.8 747.7,215.7C752.8,218.7 757.9,218.0 763.0,227.9C768.1,237.9 773.2,258.4 778.4,275.4C783.5,292.5 788.6,310.8 793.7,330.3C798.8,349.7 803.9,375.1 809.0,392.4C814.1,409.6 819.3,421.2 824.4,433.8C829.5,446.4 834.6,457.0 839.7,467.9C844.8,478.9 849.9,486.2 855.0,499.6C860.2,513.0 865.3,535.7 870.4,548.3C875.5,560.9 880.6,566.6 885.7,575.1C890.8,583.7 896.0,592.2 901.1,599.5C906.2,606.8 911.3,612.5 916.4,619.0C921.5,625.5 926.6,631.8 931.7,638.5C936.8,645.2 942.0,653.9 947.1,659.2C952.2,664.5 957.3,667.1 962.4,670.2C967.5,673.2 972.6,673.6 977.8,677.5C982.9,681.3 988.0,688.6 993.1,693.3C998.2,698.1 1003.3,702.5 1008.4,706.0C1013.5,709.4 1018.7,710.8 1023.8,714.0C1028.9,717.3 1034.0,723.6 1039.1,725.6C1044.2,727.6 1049.3,724.7 1054.4,726.2C1059.5,727.7 1064.7,731.7 1069.8,734.7C1074.9,737.8 1082.6,742.9 1085.1,744.5" fill="none" stroke="#7f7f7f" stroke-width="0.95" stroke-dasharray="4 3" stroke-opacity="0.9"/>
<circle cx="272.2" cy="725.0" r="2.3" fill="#fff"/><path d="M269.8,724.6a2.4,2.4 0 0 0 4.8,0" fill="none" stroke="#7f7f7f" stroke-width="1.5" stroke-opacity="0.9"/>
<circle cx="287.6" cy="714.6" r="2.3" fill="#fff"/><path d="M285.2,714.2a2.4,2.4 0 0 0 4.8,0" fill="none" stroke="#7f7f7f" stroke-width="1.5" stroke-opacity="0.9"/>
<circle cx="302.9" cy="692.1" r="2.3" fill="#fff"/><path d="M300.5,691.7a2.4,2.4 0 0 0 4.8,0" fill="none" stroke="#7f7f7f" stroke-width="1.5" stroke-opacity="0.9"/>
<circle cx="318.2" cy="672.6" r="2.3" fill="#fff"/><path d="M315.8,672.2a2.4,2.4 0 0 0 4.8,0" fill="none" stroke="#7f7f7f" stroke-width="1.5" stroke-opacity="0.9"/>
<circle cx="333.6" cy="651.9" r="2.3" fill="#fff"/><path d="M331.2,651.5a2.4,2.4 0 0 0 4.8,0" fill="none" stroke="#7f7f7f" stroke-width="1.5" stroke-opacity="0.9"/>
<circle cx="348.9" cy="638.5" r="2.3" fill="#fff"/><path d="M346.5,638.1a2.4,2.4 0 0 0 4.8,0" fill="none" stroke="#7f7f7f" stroke-width="1.5" stroke-opacity="0.9"/>
<circle cx="364.2" cy="625.1" r="2.3" fill="#fff"/><path d="M361.9,624.7a2.4,2.4 0 0 0 4.8,0" fill="none" stroke="#7f7f7f" stroke-width="1.5" stroke-opacity="0.9"/>
<circle cx="379.6" cy="600.7" r="2.3" fill="#fff"/><path d="M377.2,600.3a2.4,2.4 0 0 0 4.8,0" fill="none" stroke="#7f7f7f" stroke-width="1.5" stroke-opacity="0.9"/>
<circle cx="394.9" cy="576.4" r="2.3" fill="#fff"/><path d="M392.5,576.0a2.4,2.4 0 0 0 4.8,0" fill="none" stroke="#7f7f7f" stroke-width="1.5" stroke-opacity="0.9"/>
<circle cx="410.3" cy="560.5" r="2.3" fill="#fff"/><path d="M407.9,560.1a2.4,2.4 0 0 0 4.8,0" fill="none" stroke="#7f7f7f" stroke-width="1.5" stroke-opacity="0.9"/>
<circle cx="425.6" cy="530.1" r="2.3" fill="#fff"/><path d="M423.2,529.7a2.4,2.4 0 0 0 4.8,0" fill="none" stroke="#7f7f7f" stroke-width="1.5" stroke-opacity="0.9"/>
<circle cx="440.9" cy="477.7" r="2.3" fill="#fff"/><path d="M438.5,477.3a2.4,2.4 0 0 0 4.8,0" fill="none" stroke="#7f7f7f" stroke-width="1.5" stroke-opacity="0.9"/>
<circle cx="456.3" cy="413.1" r="2.3" fill="#fff"/><path d="M453.9,412.7a2.4,2.4 0 0 0 4.8,0" fill="none" stroke="#7f7f7f" stroke-width="1.5" stroke-opacity="0.9"/>
<circle cx="471.6" cy="340.0" r="2.3" fill="#fff"/><path d="M469.2,339.6a2.4,2.4 0 0 0 4.8,0" fill="none" stroke="#7f7f7f" stroke-width="1.5" stroke-opacity="0.9"/>
<circle cx="486.9" cy="276.6" r="2.3" fill="#fff"/><path d="M484.6,276.2a2.4,2.4 0 0 0 4.8,0" fill="none" stroke="#7f7f7f" stroke-width="1.5" stroke-opacity="0.9"/>
<circle cx="502.3" cy="230.3" r="2.3" fill="#fff"/><path d="M499.9,229.9a2.4,2.4 0 0 0 4.8,0" fill="none" stroke="#7f7f7f" stroke-width="1.5" stroke-opacity="0.9"/>
<circle cx="517.6" cy="218.2" r="2.3" fill="#fff"/><path d="M515.2,217.8a2.4,2.4 0 0 0 4.8,0" fill="none" stroke="#7f7f7f" stroke-width="1.5" stroke-opacity="0.9"/>
<circle cx="533.0" cy="231.6" r="2.3" fill="#fff"/><path d="M530.6,231.2a2.4,2.4 0 0 0 4.8,0" fill="none" stroke="#7f7f7f" stroke-width="1.5" stroke-opacity="0.9"/>
<circle cx="548.3" cy="220.6" r="2.3" fill="#fff"/><path d="M545.9,220.2a2.4,2.4 0 0 0 4.8,0" fill="none" stroke="#7f7f7f" stroke-width="1.5" stroke-opacity="0.9"/>
<circle cx="563.6" cy="209.6" r="2.3" fill="#fff"/><path d="M561.2,209.2a2.4,2.4 0 0 0 4.8,0" fill="none" stroke="#7f7f7f" stroke-width="1.5" stroke-opacity="0.9"/>
<circle cx="579.0" cy="206.5" r="2.3" fill="#fff"/><path d="M576.6,206.1a2.4,2.4 0 0 0 4.8,0" fill="none" stroke="#7f7f7f" stroke-width="1.5" stroke-opacity="0.9"/>
<circle cx="594.3" cy="206.0" r="2.3" fill="#fff"/><path d="M591.9,205.6a2.4,2.4 0 0 0 4.8,0" fill="none" stroke="#7f7f7f" stroke-width="1.5" stroke-opacity="0.9"/>
<circle cx="609.6" cy="216.9" r="2.3" fill="#fff"/><path d="M607.2,216.5a2.4,2.4 0 0 0 4.8,0" fill="none" stroke="#7f7f7f" stroke-width="1.5" stroke-opacity="0.9"/>
<circle cx="625.0" cy="235.2" r="2.3" fill="#fff"/><path d="M622.6,234.8a2.4,2.4 0 0 0 4.8,0" fill="none" stroke="#7f7f7f" stroke-width="1.5" stroke-opacity="0.9"/>
<circle cx="640.3" cy="215.7" r="2.3" fill="#fff"/><path d="M637.9,215.3a2.4,2.4 0 0 0 4.8,0" fill="none" stroke="#7f7f7f" stroke-width="1.5" stroke-opacity="0.9"/>
<circle cx="655.7" cy="202.3" r="2.3" fill="#fff"/><path d="M653.3,201.9a2.4,2.4 0 0 0 4.8,0" fill="none" stroke="#7f7f7f" stroke-width="1.5" stroke-opacity="0.9"/>
<circle cx="671.0" cy="197.5" r="2.3" fill="#fff"/><path d="M668.6,197.1a2.4,2.4 0 0 0 4.8,0" fill="none" stroke="#7f7f7f" stroke-width="1.5" stroke-opacity="0.9"/>
<circle cx="686.3" cy="199.9" r="2.3" fill="#fff"/><path d="M683.9,199.5a2.4,2.4 0 0 0 4.8,0" fill="none" stroke="#7f7f7f" stroke-width="1.5" stroke-opacity="0.9"/>
<circle cx="701.7" cy="207.7" r="2.3" fill="#fff"/><path d="M699.3,207.3a2.4,2.4 0 0 0 4.8,0" fill="none" stroke="#7f7f7f" stroke-width="1.5" stroke-opacity="0.9"/>
<circle cx="717.0" cy="209.0" r="2.3" fill="#fff"/><path d="M714.6,208.6a2.4,2.4 0 0 0 4.8,0" fill="none" stroke="#7f7f7f" stroke-width="1.5" stroke-opacity="0.9"/>
<circle cx="732.4" cy="210.2" r="2.3" fill="#fff"/><path d="M730.0,209.8a2.4,2.4 0 0 0 4.8,0" fill="none" stroke="#7f7f7f" stroke-width="1.5" stroke-opacity="0.9"/>
<circle cx="747.7" cy="215.7" r="2.3" fill="#fff"/><path d="M745.3,215.3a2.4,2.4 0 0 0 4.8,0" fill="none" stroke="#7f7f7f" stroke-width="1.5" stroke-opacity="0.9"/>
<circle cx="763.0" cy="227.9" r="2.3" fill="#fff"/><path d="M760.6,227.5a2.4,2.4 0 0 0 4.8,0" fill="none" stroke="#7f7f7f" stroke-width="1.5" stroke-opacity="0.9"/>
<circle cx="778.4" cy="275.4" r="2.3" fill="#fff"/><path d="M776.0,275.0a2.4,2.4 0 0 0 4.8,0" fill="none" stroke="#7f7f7f" stroke-width="1.5" stroke-opacity="0.9"/>
<circle cx="793.7" cy="330.3" r="2.3" fill="#fff"/><path d="M791.3,329.9a2.4,2.4 0 0 0 4.8,0" fill="none" stroke="#7f7f7f" stroke-width="1.5" stroke-opacity="0.9"/>
<circle cx="809.0" cy="392.4" r="2.3" fill="#fff"/><path d="M806.6,392.0a2.4,2.4 0 0 0 4.8,0" fill="none" stroke="#7f7f7f" stroke-width="1.5" stroke-opacity="0.9"/>
<circle cx="824.4" cy="433.8" r="2.3" fill="#fff"/><path d="M822.0,433.4a2.4,2.4 0 0 0 4.8,0" fill="none" stroke="#7f7f7f" stroke-width="1.5" stroke-opacity="0.9"/>
<circle cx="839.7" cy="467.9" r="2.3" fill="#fff"/><path d="M837.3,467.5a2.4,2.4 0 0 0 4.8,0" fill="none" stroke="#7f7f7f" stroke-width="1.5" stroke-opacity="0.9"/>
<circle cx="855.0" cy="499.6" r="2.3" fill="#fff"/><path d="M852.6,499.2a2.4,2.4 0 0 0 4.8,0" fill="none" stroke="#7f7f7f" stroke-width="1.5" stroke-opacity="0.9"/>
<circle cx="870.4" cy="548.3" r="2.3" fill="#fff"/><path d="M868.0,547.9a2.4,2.4 0 0 0 4.8,0" fill="none" stroke="#7f7f7f" stroke-width="1.5" stroke-opacity="0.9"/>
<circle cx="885.7" cy="575.1" r="2.3" fill="#fff"/><path d="M883.3,574.7a2.4,2.4 0 0 0 4.8,0" fill="none" stroke="#7f7f7f" stroke-width="1.5" stroke-opacity="0.9"/>
<circle cx="901.1" cy="599.5" r="2.3" fill="#fff"/><path d="M898.7,599.1a2.4,2.4 0 0 0 4.8,0" fill="none" stroke="#7f7f7f" stroke-width="1.5" stroke-opacity="0.9"/>
<circle cx="916.4" cy="619.0" r="2.3" fill="#fff"/><path d="M914.0,618.6a2.4,2.4 0 0 0 4.8,0" fill="none" stroke="#7f7f7f" stroke-width="1.5" stroke-opacity="0.9"/>
<circle cx="931.7" cy="638.5" r="2.3" fill="#fff"/><path d="M929.3,638.1a2.4,2.4 0 0 0 4.8,0" fill="none" stroke="#7f7f7f" stroke-width="1.5" stroke-opacity="0.9"/>
<circle cx="947.1" cy="659.2" r="2.3" fill="#fff"/><path d="M944.7,658.8a2.4,2.4 0 0 0 4.8,0" fill="none" stroke="#7f7f7f" stroke-width="1.5" stroke-opacity="0.9"/>
<circle cx="962.4" cy="670.2" r="2.3" fill="#fff"/><path d="M960.0,669.8a2.4,2.4 0 0 0 4.8,0" fill="none" stroke="#7f7f7f" stroke-width="1.5" stroke-opacity="0.9"/>
<circle cx="977.8" cy="677.5" r="2.3" fill="#fff"/><path d="M975.4,677.1a2.4,2.4 0 0 0 4.8,0" fill="none" stroke="#7f7f7f" stroke-width="1.5" stroke-opacity="0.9"/>
<circle cx="993.1" cy="693.3" r="2.3" fill="#fff"/><path d="M990.7,692.9a2.4,2.4 0 0 0 4.8,0" fill="none" stroke="#7f7f7f" stroke-width="1.5" stroke-opacity="0.9"/>
<circle cx="1008.4" cy="706.0" r="2.3" fill="#fff"/><path d="M1006.0,705.6a2.4,2.4 0 0 0 4.8,0" fill="none" stroke="#7f7f7f" stroke-width="1.5" stroke-opacity="0.9"/>
<circle cx="1023.8" cy="714.0" r="2.3" fill="#fff"/><path d="M1021.4,713.6a2.4,2.4 0 0 0 4.8,0" fill="none" stroke="#7f7f7f" stroke-width="1.5" stroke-opacity="0.9"/>
<circle cx="1039.1" cy="725.6" r="2.3" fill="#fff"/><path d="M1036.7,725.2a2.4,2.4 0 0 0 4.8,0" fill="none" stroke="#7f7f7f" stroke-width="1.5" stroke-opacity="0.9"/>
<circle cx="1054.4" cy="726.2" r="2.3" fill="#fff"/><path d="M1052.0,725.8a2.4,2.4 0 0 0 4.8,0" fill="none" stroke="#7f7f7f" stroke-width="1.5" stroke-opacity="0.9"/>
<circle cx="1069.8" cy="734.7" r="2.3" fill="#fff"/><path d="M1067.4,734.3a2.4,2.4 0 0 0 4.8,0" fill="none" stroke="#7f7f7f" stroke-width="1.5" stroke-opacity="0.9"/>
<circle cx="1085.1" cy="744.5" r="2.3" fill="#fff"/><path d="M1082.7,744.1a2.4,2.4 0 0 0 4.8,0" fill="none" stroke="#7f7f7f" stroke-width="1.5" stroke-opacity="0.9"/>
<path d="M272.2,816.4C274.8,810.7 282.4,791.4 287.6,782.3C292.7,773.1 297.8,771.1 302.9,761.5C308.0,752.0 313.1,737.6 318.2,725.0C323.4,712.4 328.5,701.2 333.6,686.0C338.7,670.8 343.8,648.6 348.9,633.6C354.0,618.6 359.1,615.1 364.2,595.8C369.4,576.6 374.5,544.5 379.6,517.9C384.7,491.3 389.8,455.1 394.9,436.2C400.0,417.4 405.1,408.0 410.3,404.6C415.4,401.1 420.5,412.9 425.6,415.5C430.7,418.2 435.8,417.8 440.9,420.4C446.1,423.0 451.2,437.5 456.3,431.4C461.4,425.3 466.5,399.9 471.6,383.9C476.7,367.8 481.8,347.3 486.9,335.1C492.1,322.9 497.2,316.4 502.3,310.8C507.4,305.1 512.5,303.2 517.6,301.0C522.7,298.8 527.9,298.8 533.0,297.4C538.1,295.9 543.2,292.3 548.3,292.5C553.4,292.7 558.5,297.0 563.6,298.6C568.8,300.2 573.9,299.2 579.0,302.2C584.1,305.3 589.2,310.4 594.3,316.9C599.4,323.3 604.5,339.2 609.6,341.2C614.8,343.2 619.9,336.1 625.0,329.0C630.1,321.9 635.2,306.3 640.3,298.6C645.4,290.9 650.6,283.8 655.7,282.7C660.8,281.7 665.9,289.8 671.0,292.5C676.1,295.1 681.2,296.1 686.3,298.6C691.4,301.0 696.6,304.1 701.7,307.1C706.8,310.1 711.9,312.2 717.0,316.9C722.1,321.5 727.2,327.0 732.4,335.1C737.5,343.2 742.6,355.4 747.7,365.6C752.8,375.7 757.9,385.9 763.0,396.0C768.1,406.2 773.2,416.1 778.4,426.5C783.5,436.9 788.6,447.8 793.7,458.2C798.8,468.5 803.9,478.7 809.0,488.6C814.1,498.6 819.3,510.6 824.4,517.9C829.5,525.2 834.6,527.4 839.7,532.5C844.8,537.6 849.9,543.7 855.0,548.3C860.2,553.0 865.3,556.9 870.4,560.5C875.5,564.2 880.6,565.0 885.7,570.3C890.8,575.5 896.0,587.3 901.1,592.2C906.2,597.1 911.3,598.3 916.4,599.5C921.5,600.7 926.6,600.1 931.7,599.5C936.8,598.9 942.0,595.0 947.1,595.8C952.2,596.7 957.3,601.3 962.4,604.4C967.5,607.4 972.6,610.9 977.8,614.1C982.9,617.4 988.0,620.6 993.1,623.9C998.2,627.1 1003.3,630.6 1008.4,633.6C1013.5,636.7 1018.7,639.5 1023.8,642.1C1028.9,644.8 1034.0,647.0 1039.1,649.5C1044.2,651.9 1049.3,654.5 1054.4,656.8C1059.5,659.0 1064.7,661.0 1069.8,662.9C1074.9,664.7 1080.0,666.1 1085.1,667.7C1090.2,669.4 1095.3,670.4 1100.5,672.6C1105.6,674.8 1110.7,678.7 1115.8,681.1C1120.9,683.6 1126.0,685.0 1131.1,687.2C1136.2,689.5 1141.4,692.1 1146.5,694.5C1151.6,697.0 1156.7,699.6 1161.8,701.8C1166.9,704.1 1172.0,705.5 1177.1,707.9C1182.2,710.4 1187.4,713.8 1192.5,716.5C1197.6,719.1 1202.7,722.9 1207.8,723.8C1212.9,724.7 1218.0,722.1 1223.2,721.9C1228.3,721.7 1233.4,721.4 1238.5,722.6C1243.6,723.7 1251.3,727.6 1253.8,728.6" fill="none" stroke="#d0a020" stroke-width="0.95" stroke-dasharray="4 3" stroke-opacity="0.9"/>
<circle cx="287.6" cy="782.3" r="2.3" fill="#fff"/><path d="M285.2,781.9a2.4,2.4 0 0 0 4.8,0" fill="none" stroke="#d0a020" stroke-width="1.5" stroke-opacity="0.9"/>
<circle cx="302.9" cy="761.5" r="2.3" fill="#fff"/><path d="M300.5,761.1a2.4,2.4 0 0 0 4.8,0" fill="none" stroke="#d0a020" stroke-width="1.5" stroke-opacity="0.9"/>
<circle cx="318.2" cy="725.0" r="2.3" fill="#fff"/><path d="M315.8,724.6a2.4,2.4 0 0 0 4.8,0" fill="none" stroke="#d0a020" stroke-width="1.5" stroke-opacity="0.9"/>
<circle cx="333.6" cy="686.0" r="2.3" fill="#fff"/><path d="M331.2,685.6a2.4,2.4 0 0 0 4.8,0" fill="none" stroke="#d0a020" stroke-width="1.5" stroke-opacity="0.9"/>
<circle cx="348.9" cy="633.6" r="2.3" fill="#fff"/><path d="M346.5,633.2a2.4,2.4 0 0 0 4.8,0" fill="none" stroke="#d0a020" stroke-width="1.5" stroke-opacity="0.9"/>
<circle cx="364.2" cy="595.8" r="2.3" fill="#fff"/><path d="M361.9,595.4a2.4,2.4 0 0 0 4.8,0" fill="none" stroke="#d0a020" stroke-width="1.5" stroke-opacity="0.9"/>
<circle cx="379.6" cy="517.9" r="2.3" fill="#fff"/><path d="M377.2,517.5a2.4,2.4 0 0 0 4.8,0" fill="none" stroke="#d0a020" stroke-width="1.5" stroke-opacity="0.9"/>
<circle cx="394.9" cy="436.2" r="2.3" fill="#fff"/><path d="M392.5,435.8a2.4,2.4 0 0 0 4.8,0" fill="none" stroke="#d0a020" stroke-width="1.5" stroke-opacity="0.9"/>
<circle cx="410.3" cy="404.6" r="2.3" fill="#fff"/><path d="M407.9,404.2a2.4,2.4 0 0 0 4.8,0" fill="none" stroke="#d0a020" stroke-width="1.5" stroke-opacity="0.9"/>
<circle cx="425.6" cy="415.5" r="2.3" fill="#fff"/><path d="M423.2,415.1a2.4,2.4 0 0 0 4.8,0" fill="none" stroke="#d0a020" stroke-width="1.5" stroke-opacity="0.9"/>
<circle cx="440.9" cy="420.4" r="2.3" fill="#fff"/><path d="M438.5,420.0a2.4,2.4 0 0 0 4.8,0" fill="none" stroke="#d0a020" stroke-width="1.5" stroke-opacity="0.9"/>
<circle cx="456.3" cy="431.4" r="2.3" fill="#fff"/><path d="M453.9,431.0a2.4,2.4 0 0 0 4.8,0" fill="none" stroke="#d0a020" stroke-width="1.5" stroke-opacity="0.9"/>
<circle cx="471.6" cy="383.9" r="2.3" fill="#fff"/><path d="M469.2,383.5a2.4,2.4 0 0 0 4.8,0" fill="none" stroke="#d0a020" stroke-width="1.5" stroke-opacity="0.9"/>
<circle cx="486.9" cy="335.1" r="2.3" fill="#fff"/><path d="M484.6,334.7a2.4,2.4 0 0 0 4.8,0" fill="none" stroke="#d0a020" stroke-width="1.5" stroke-opacity="0.9"/>
<circle cx="502.3" cy="310.8" r="2.3" fill="#fff"/><path d="M499.9,310.4a2.4,2.4 0 0 0 4.8,0" fill="none" stroke="#d0a020" stroke-width="1.5" stroke-opacity="0.9"/>
<circle cx="517.6" cy="301.0" r="2.3" fill="#fff"/><path d="M515.2,300.6a2.4,2.4 0 0 0 4.8,0" fill="none" stroke="#d0a020" stroke-width="1.5" stroke-opacity="0.9"/>
<circle cx="533.0" cy="297.4" r="2.3" fill="#fff"/><path d="M530.6,297.0a2.4,2.4 0 0 0 4.8,0" fill="none" stroke="#d0a020" stroke-width="1.5" stroke-opacity="0.9"/>
<circle cx="548.3" cy="292.5" r="2.3" fill="#fff"/><path d="M545.9,292.1a2.4,2.4 0 0 0 4.8,0" fill="none" stroke="#d0a020" stroke-width="1.5" stroke-opacity="0.9"/>
<circle cx="563.6" cy="298.6" r="2.3" fill="#fff"/><path d="M561.2,298.2a2.4,2.4 0 0 0 4.8,0" fill="none" stroke="#d0a020" stroke-width="1.5" stroke-opacity="0.9"/>
<circle cx="579.0" cy="302.2" r="2.3" fill="#fff"/><path d="M576.6,301.8a2.4,2.4 0 0 0 4.8,0" fill="none" stroke="#d0a020" stroke-width="1.5" stroke-opacity="0.9"/>
<circle cx="594.3" cy="316.9" r="2.3" fill="#fff"/><path d="M591.9,316.5a2.4,2.4 0 0 0 4.8,0" fill="none" stroke="#d0a020" stroke-width="1.5" stroke-opacity="0.9"/>
<circle cx="609.6" cy="341.2" r="2.3" fill="#fff"/><path d="M607.2,340.8a2.4,2.4 0 0 0 4.8,0" fill="none" stroke="#d0a020" stroke-width="1.5" stroke-opacity="0.9"/>
<circle cx="625.0" cy="329.0" r="2.3" fill="#fff"/><path d="M622.6,328.6a2.4,2.4 0 0 0 4.8,0" fill="none" stroke="#d0a020" stroke-width="1.5" stroke-opacity="0.9"/>
<circle cx="640.3" cy="298.6" r="2.3" fill="#fff"/><path d="M637.9,298.2a2.4,2.4 0 0 0 4.8,0" fill="none" stroke="#d0a020" stroke-width="1.5" stroke-opacity="0.9"/>
<circle cx="655.7" cy="282.7" r="2.3" fill="#fff"/><path d="M653.3,282.3a2.4,2.4 0 0 0 4.8,0" fill="none" stroke="#d0a020" stroke-width="1.5" stroke-opacity="0.9"/>
<circle cx="671.0" cy="292.5" r="2.3" fill="#fff"/><path d="M668.6,292.1a2.4,2.4 0 0 0 4.8,0" fill="none" stroke="#d0a020" stroke-width="1.5" stroke-opacity="0.9"/>
<circle cx="686.3" cy="298.6" r="2.3" fill="#fff"/><path d="M683.9,298.2a2.4,2.4 0 0 0 4.8,0" fill="none" stroke="#d0a020" stroke-width="1.5" stroke-opacity="0.9"/>
<circle cx="701.7" cy="307.1" r="2.3" fill="#fff"/><path d="M699.3,306.7a2.4,2.4 0 0 0 4.8,0" fill="none" stroke="#d0a020" stroke-width="1.5" stroke-opacity="0.9"/>
<circle cx="717.0" cy="316.9" r="2.3" fill="#fff"/><path d="M714.6,316.5a2.4,2.4 0 0 0 4.8,0" fill="none" stroke="#d0a020" stroke-width="1.5" stroke-opacity="0.9"/>
<circle cx="732.4" cy="335.1" r="2.3" fill="#fff"/><path d="M730.0,334.7a2.4,2.4 0 0 0 4.8,0" fill="none" stroke="#d0a020" stroke-width="1.5" stroke-opacity="0.9"/>
<circle cx="747.7" cy="365.6" r="2.3" fill="#fff"/><path d="M745.3,365.2a2.4,2.4 0 0 0 4.8,0" fill="none" stroke="#d0a020" stroke-width="1.5" stroke-opacity="0.9"/>
<circle cx="763.0" cy="396.0" r="2.3" fill="#fff"/><path d="M760.6,395.6a2.4,2.4 0 0 0 4.8,0" fill="none" stroke="#d0a020" stroke-width="1.5" stroke-opacity="0.9"/>
<circle cx="778.4" cy="426.5" r="2.3" fill="#fff"/><path d="M776.0,426.1a2.4,2.4 0 0 0 4.8,0" fill="none" stroke="#d0a020" stroke-width="1.5" stroke-opacity="0.9"/>
<circle cx="793.7" cy="458.2" r="2.3" fill="#fff"/><path d="M791.3,457.8a2.4,2.4 0 0 0 4.8,0" fill="none" stroke="#d0a020" stroke-width="1.5" stroke-opacity="0.9"/>
<circle cx="809.0" cy="488.6" r="2.3" fill="#fff"/><path d="M806.6,488.2a2.4,2.4 0 0 0 4.8,0" fill="none" stroke="#d0a020" stroke-width="1.5" stroke-opacity="0.9"/>
<circle cx="824.4" cy="517.9" r="2.3" fill="#fff"/><path d="M822.0,517.5a2.4,2.4 0 0 0 4.8,0" fill="none" stroke="#d0a020" stroke-width="1.5" stroke-opacity="0.9"/>
<circle cx="839.7" cy="532.5" r="2.3" fill="#fff"/><path d="M837.3,532.1a2.4,2.4 0 0 0 4.8,0" fill="none" stroke="#d0a020" stroke-width="1.5" stroke-opacity="0.9"/>
<circle cx="855.0" cy="548.3" r="2.3" fill="#fff"/><path d="M852.6,547.9a2.4,2.4 0 0 0 4.8,0" fill="none" stroke="#d0a020" stroke-width="1.5" stroke-opacity="0.9"/>
<circle cx="870.4" cy="560.5" r="2.3" fill="#fff"/><path d="M868.0,560.1a2.4,2.4 0 0 0 4.8,0" fill="none" stroke="#d0a020" stroke-width="1.5" stroke-opacity="0.9"/>
<circle cx="885.7" cy="570.3" r="2.3" fill="#fff"/><path d="M883.3,569.9a2.4,2.4 0 0 0 4.8,0" fill="none" stroke="#d0a020" stroke-width="1.5" stroke-opacity="0.9"/>
<circle cx="901.1" cy="592.2" r="2.3" fill="#fff"/><path d="M898.7,591.8a2.4,2.4 0 0 0 4.8,0" fill="none" stroke="#d0a020" stroke-width="1.5" stroke-opacity="0.9"/>
<circle cx="916.4" cy="599.5" r="2.3" fill="#fff"/><path d="M914.0,599.1a2.4,2.4 0 0 0 4.8,0" fill="none" stroke="#d0a020" stroke-width="1.5" stroke-opacity="0.9"/>
<circle cx="931.7" cy="599.5" r="2.3" fill="#fff"/><path d="M929.3,599.1a2.4,2.4 0 0 0 4.8,0" fill="none" stroke="#d0a020" stroke-width="1.5" stroke-opacity="0.9"/>
<circle cx="947.1" cy="595.8" r="2.3" fill="#fff"/><path d="M944.7,595.4a2.4,2.4 0 0 0 4.8,0" fill="none" stroke="#d0a020" stroke-width="1.5" stroke-opacity="0.9"/>
<circle cx="962.4" cy="604.4" r="2.3" fill="#fff"/><path d="M960.0,604.0a2.4,2.4 0 0 0 4.8,0" fill="none" stroke="#d0a020" stroke-width="1.5" stroke-opacity="0.9"/>
<circle cx="977.8" cy="614.1" r="2.3" fill="#fff"/><path d="M975.4,613.7a2.4,2.4 0 0 0 4.8,0" fill="none" stroke="#d0a020" stroke-width="1.5" stroke-opacity="0.9"/>
<circle cx="993.1" cy="623.9" r="2.3" fill="#fff"/><path d="M990.7,623.5a2.4,2.4 0 0 0 4.8,0" fill="none" stroke="#d0a020" stroke-width="1.5" stroke-opacity="0.9"/>
<circle cx="1008.4" cy="633.6" r="2.3" fill="#fff"/><path d="M1006.0,633.2a2.4,2.4 0 0 0 4.8,0" fill="none" stroke="#d0a020" stroke-width="1.5" stroke-opacity="0.9"/>
<circle cx="1023.8" cy="642.1" r="2.3" fill="#fff"/><path d="M1021.4,641.7a2.4,2.4 0 0 0 4.8,0" fill="none" stroke="#d0a020" stroke-width="1.5" stroke-opacity="0.9"/>
<circle cx="1039.1" cy="649.5" r="2.3" fill="#fff"/><path d="M1036.7,649.1a2.4,2.4 0 0 0 4.8,0" fill="none" stroke="#d0a020" stroke-width="1.5" stroke-opacity="0.9"/>
<circle cx="1054.4" cy="656.8" r="2.3" fill="#fff"/><path d="M1052.0,656.4a2.4,2.4 0 0 0 4.8,0" fill="none" stroke="#d0a020" stroke-width="1.5" stroke-opacity="0.9"/>
<circle cx="1069.8" cy="662.9" r="2.3" fill="#fff"/><path d="M1067.4,662.5a2.4,2.4 0 0 0 4.8,0" fill="none" stroke="#d0a020" stroke-width="1.5" stroke-opacity="0.9"/>
<circle cx="1085.1" cy="667.7" r="2.3" fill="#fff"/><path d="M1082.7,667.3a2.4,2.4 0 0 0 4.8,0" fill="none" stroke="#d0a020" stroke-width="1.5" stroke-opacity="0.9"/>
<circle cx="1100.5" cy="672.6" r="2.3" fill="#fff"/><path d="M1098.0,672.2a2.4,2.4 0 0 0 4.8,0" fill="none" stroke="#d0a020" stroke-width="1.5" stroke-opacity="0.9"/>
<circle cx="1115.8" cy="681.1" r="2.3" fill="#fff"/><path d="M1113.4,680.7a2.4,2.4 0 0 0 4.8,0" fill="none" stroke="#d0a020" stroke-width="1.5" stroke-opacity="0.9"/>
<circle cx="1131.1" cy="687.2" r="2.3" fill="#fff"/><path d="M1128.7,686.8a2.4,2.4 0 0 0 4.8,0" fill="none" stroke="#d0a020" stroke-width="1.5" stroke-opacity="0.9"/>
<circle cx="1146.5" cy="694.5" r="2.3" fill="#fff"/><path d="M1144.1,694.1a2.4,2.4 0 0 0 4.8,0" fill="none" stroke="#d0a020" stroke-width="1.5" stroke-opacity="0.9"/>
<circle cx="1161.8" cy="701.8" r="2.3" fill="#fff"/><path d="M1159.4,701.4a2.4,2.4 0 0 0 4.8,0" fill="none" stroke="#d0a020" stroke-width="1.5" stroke-opacity="0.9"/>
<circle cx="1177.1" cy="707.9" r="2.3" fill="#fff"/><path d="M1174.7,707.5a2.4,2.4 0 0 0 4.8,0" fill="none" stroke="#d0a020" stroke-width="1.5" stroke-opacity="0.9"/>
<circle cx="1192.5" cy="716.5" r="2.3" fill="#fff"/><path d="M1190.1,716.1a2.4,2.4 0 0 0 4.8,0" fill="none" stroke="#d0a020" stroke-width="1.5" stroke-opacity="0.9"/>
<circle cx="1207.8" cy="723.8" r="2.3" fill="#fff"/><path d="M1205.4,723.4a2.4,2.4 0 0 0 4.8,0" fill="none" stroke="#d0a020" stroke-width="1.5" stroke-opacity="0.9"/>
<circle cx="1223.2" cy="721.9" r="2.3" fill="#fff"/><path d="M1220.8,721.5a2.4,2.4 0 0 0 4.8,0" fill="none" stroke="#d0a020" stroke-width="1.5" stroke-opacity="0.9"/>
<circle cx="1238.5" cy="722.6" r="2.3" fill="#fff"/><path d="M1236.1,722.2a2.4,2.4 0 0 0 4.8,0" fill="none" stroke="#d0a020" stroke-width="1.5" stroke-opacity="0.9"/>
<circle cx="1253.8" cy="728.6" r="2.3" fill="#fff"/><path d="M1251.4,728.2a2.4,2.4 0 0 0 4.8,0" fill="none" stroke="#d0a020" stroke-width="1.5" stroke-opacity="0.9"/>
<path d="M287.6,649.5C290.1,649.7 297.8,650.3 302.9,650.7C308.0,651.1 313.1,651.1 318.2,651.9C323.4,652.7 328.5,655.3 333.6,655.5C338.7,655.7 343.8,654.7 348.9,653.1C354.0,651.5 359.1,649.0 364.2,645.8C369.4,642.6 374.5,635.2 379.6,633.6C384.7,632.0 389.8,636.1 394.9,636.1C400.0,636.1 405.1,639.1 410.3,633.6C415.4,628.1 420.5,614.3 425.6,603.2C430.7,592.0 435.8,580.8 440.9,566.6C446.1,552.4 451.2,534.1 456.3,517.9C461.4,501.6 466.5,485.4 471.6,469.1C476.7,452.9 481.8,435.6 486.9,420.4C492.1,405.2 497.2,391.0 502.3,377.8C507.4,364.6 512.5,352.4 517.6,341.2C522.7,330.0 527.9,319.5 533.0,310.8C538.1,302.0 543.2,289.8 548.3,288.8C553.4,287.8 558.5,298.0 563.6,304.7C568.8,311.4 573.9,324.0 579.0,329.0C584.1,334.1 589.2,333.5 594.3,335.1C599.4,336.7 604.5,337.8 609.6,338.8C614.8,339.8 619.9,340.4 625.0,341.2C630.1,342.0 635.2,343.7 640.3,343.7C645.4,343.7 650.6,342.0 655.7,341.2C660.8,340.4 665.9,338.6 671.0,338.8C676.1,339.0 681.2,341.0 686.3,342.4C691.4,343.9 696.6,345.1 701.7,347.3C706.8,349.5 711.9,353.2 717.0,355.8C722.1,358.5 727.2,361.1 732.4,363.1C737.5,365.2 742.6,368.6 747.7,368.0C752.8,367.4 757.9,364.0 763.0,359.5C768.1,355.0 773.2,351.4 778.4,341.2C783.5,331.1 788.6,314.6 793.7,298.6C798.8,282.5 803.9,249.4 809.0,245.0C814.1,240.5 819.3,255.7 824.4,271.8C829.5,287.8 834.6,317.5 839.7,341.2C844.8,365.0 849.9,393.0 855.0,414.3C860.2,435.6 865.3,452.9 870.4,469.1C875.5,485.4 880.6,499.6 885.7,511.8C890.8,524.0 896.0,534.1 901.1,542.2C906.2,550.4 911.3,555.0 916.4,560.5C921.5,566.0 926.6,569.5 931.7,575.1C936.8,580.8 942.0,588.9 947.1,594.6C952.2,600.3 957.3,605.6 962.4,609.2C967.5,612.9 975.2,615.3 977.8,616.6" fill="none" stroke="#f8c4a0" stroke-width="0.95" stroke-dasharray="4 3" stroke-opacity="0.9"/>
<circle cx="287.6" cy="649.5" r="2.3" fill="#fff"/><path d="M285.2,649.1a2.4,2.4 0 0 0 4.8,0" fill="none" stroke="#f8c4a0" stroke-width="1.5" stroke-opacity="0.9"/>
<circle cx="302.9" cy="650.7" r="2.3" fill="#fff"/><path d="M300.5,650.3a2.4,2.4 0 0 0 4.8,0" fill="none" stroke="#f8c4a0" stroke-width="1.5" stroke-opacity="0.9"/>
<circle cx="318.2" cy="651.9" r="2.3" fill="#fff"/><path d="M315.8,651.5a2.4,2.4 0 0 0 4.8,0" fill="none" stroke="#f8c4a0" stroke-width="1.5" stroke-opacity="0.9"/>
<circle cx="333.6" cy="655.5" r="2.3" fill="#fff"/><path d="M331.2,655.1a2.4,2.4 0 0 0 4.8,0" fill="none" stroke="#f8c4a0" stroke-width="1.5" stroke-opacity="0.9"/>
<circle cx="348.9" cy="653.1" r="2.3" fill="#fff"/><path d="M346.5,652.7a2.4,2.4 0 0 0 4.8,0" fill="none" stroke="#f8c4a0" stroke-width="1.5" stroke-opacity="0.9"/>
<circle cx="364.2" cy="645.8" r="2.3" fill="#fff"/><path d="M361.9,645.4a2.4,2.4 0 0 0 4.8,0" fill="none" stroke="#f8c4a0" stroke-width="1.5" stroke-opacity="0.9"/>
<circle cx="379.6" cy="633.6" r="2.3" fill="#fff"/><path d="M377.2,633.2a2.4,2.4 0 0 0 4.8,0" fill="none" stroke="#f8c4a0" stroke-width="1.5" stroke-opacity="0.9"/>
<circle cx="394.9" cy="636.1" r="2.3" fill="#fff"/><path d="M392.5,635.7a2.4,2.4 0 0 0 4.8,0" fill="none" stroke="#f8c4a0" stroke-width="1.5" stroke-opacity="0.9"/>
<circle cx="410.3" cy="633.6" r="2.3" fill="#fff"/><path d="M407.9,633.2a2.4,2.4 0 0 0 4.8,0" fill="none" stroke="#f8c4a0" stroke-width="1.5" stroke-opacity="0.9"/>
<circle cx="425.6" cy="603.2" r="2.3" fill="#fff"/><path d="M423.2,602.8a2.4,2.4 0 0 0 4.8,0" fill="none" stroke="#f8c4a0" stroke-width="1.5" stroke-opacity="0.9"/>
<circle cx="440.9" cy="566.6" r="2.3" fill="#fff"/><path d="M438.5,566.2a2.4,2.4 0 0 0 4.8,0" fill="none" stroke="#f8c4a0" stroke-width="1.5" stroke-opacity="0.9"/>
<circle cx="456.3" cy="517.9" r="2.3" fill="#fff"/><path d="M453.9,517.5a2.4,2.4 0 0 0 4.8,0" fill="none" stroke="#f8c4a0" stroke-width="1.5" stroke-opacity="0.9"/>
<circle cx="471.6" cy="469.1" r="2.3" fill="#fff"/><path d="M469.2,468.7a2.4,2.4 0 0 0 4.8,0" fill="none" stroke="#f8c4a0" stroke-width="1.5" stroke-opacity="0.9"/>
<circle cx="486.9" cy="420.4" r="2.3" fill="#fff"/><path d="M484.6,420.0a2.4,2.4 0 0 0 4.8,0" fill="none" stroke="#f8c4a0" stroke-width="1.5" stroke-opacity="0.9"/>
<circle cx="502.3" cy="377.8" r="2.3" fill="#fff"/><path d="M499.9,377.4a2.4,2.4 0 0 0 4.8,0" fill="none" stroke="#f8c4a0" stroke-width="1.5" stroke-opacity="0.9"/>
<circle cx="517.6" cy="341.2" r="2.3" fill="#fff"/><path d="M515.2,340.8a2.4,2.4 0 0 0 4.8,0" fill="none" stroke="#f8c4a0" stroke-width="1.5" stroke-opacity="0.9"/>
<circle cx="533.0" cy="310.8" r="2.3" fill="#fff"/><path d="M530.6,310.4a2.4,2.4 0 0 0 4.8,0" fill="none" stroke="#f8c4a0" stroke-width="1.5" stroke-opacity="0.9"/>
<circle cx="548.3" cy="288.8" r="2.3" fill="#fff"/><path d="M545.9,288.4a2.4,2.4 0 0 0 4.8,0" fill="none" stroke="#f8c4a0" stroke-width="1.5" stroke-opacity="0.9"/>
<circle cx="563.6" cy="304.7" r="2.3" fill="#fff"/><path d="M561.2,304.3a2.4,2.4 0 0 0 4.8,0" fill="none" stroke="#f8c4a0" stroke-width="1.5" stroke-opacity="0.9"/>
<circle cx="579.0" cy="329.0" r="2.3" fill="#fff"/><path d="M576.6,328.6a2.4,2.4 0 0 0 4.8,0" fill="none" stroke="#f8c4a0" stroke-width="1.5" stroke-opacity="0.9"/>
<circle cx="594.3" cy="335.1" r="2.3" fill="#fff"/><path d="M591.9,334.7a2.4,2.4 0 0 0 4.8,0" fill="none" stroke="#f8c4a0" stroke-width="1.5" stroke-opacity="0.9"/>
<circle cx="609.6" cy="338.8" r="2.3" fill="#fff"/><path d="M607.2,338.4a2.4,2.4 0 0 0 4.8,0" fill="none" stroke="#f8c4a0" stroke-width="1.5" stroke-opacity="0.9"/>
<circle cx="625.0" cy="341.2" r="2.3" fill="#fff"/><path d="M622.6,340.8a2.4,2.4 0 0 0 4.8,0" fill="none" stroke="#f8c4a0" stroke-width="1.5" stroke-opacity="0.9"/>
<circle cx="640.3" cy="343.7" r="2.3" fill="#fff"/><path d="M637.9,343.3a2.4,2.4 0 0 0 4.8,0" fill="none" stroke="#f8c4a0" stroke-width="1.5" stroke-opacity="0.9"/>
<circle cx="655.7" cy="341.2" r="2.3" fill="#fff"/><path d="M653.3,340.8a2.4,2.4 0 0 0 4.8,0" fill="none" stroke="#f8c4a0" stroke-width="1.5" stroke-opacity="0.9"/>
<circle cx="671.0" cy="338.8" r="2.3" fill="#fff"/><path d="M668.6,338.4a2.4,2.4 0 0 0 4.8,0" fill="none" stroke="#f8c4a0" stroke-width="1.5" stroke-opacity="0.9"/>
<circle cx="686.3" cy="342.4" r="2.3" fill="#fff"/><path d="M683.9,342.0a2.4,2.4 0 0 0 4.8,0" fill="none" stroke="#f8c4a0" stroke-width="1.5" stroke-opacity="0.9"/>
<circle cx="701.7" cy="347.3" r="2.3" fill="#fff"/><path d="M699.3,346.9a2.4,2.4 0 0 0 4.8,0" fill="none" stroke="#f8c4a0" stroke-width="1.5" stroke-opacity="0.9"/>
<circle cx="717.0" cy="355.8" r="2.3" fill="#fff"/><path d="M714.6,355.4a2.4,2.4 0 0 0 4.8,0" fill="none" stroke="#f8c4a0" stroke-width="1.5" stroke-opacity="0.9"/>
<circle cx="732.4" cy="363.1" r="2.3" fill="#fff"/><path d="M730.0,362.7a2.4,2.4 0 0 0 4.8,0" fill="none" stroke="#f8c4a0" stroke-width="1.5" stroke-opacity="0.9"/>
<circle cx="747.7" cy="368.0" r="2.3" fill="#fff"/><path d="M745.3,367.6a2.4,2.4 0 0 0 4.8,0" fill="none" stroke="#f8c4a0" stroke-width="1.5" stroke-opacity="0.9"/>
<circle cx="763.0" cy="359.5" r="2.3" fill="#fff"/><path d="M760.6,359.1a2.4,2.4 0 0 0 4.8,0" fill="none" stroke="#f8c4a0" stroke-width="1.5" stroke-opacity="0.9"/>
<circle cx="778.4" cy="341.2" r="2.3" fill="#fff"/><path d="M776.0,340.8a2.4,2.4 0 0 0 4.8,0" fill="none" stroke="#f8c4a0" stroke-width="1.5" stroke-opacity="0.9"/>
<circle cx="793.7" cy="298.6" r="2.3" fill="#fff"/><path d="M791.3,298.2a2.4,2.4 0 0 0 4.8,0" fill="none" stroke="#f8c4a0" stroke-width="1.5" stroke-opacity="0.9"/>
<circle cx="809.0" cy="245.0" r="2.3" fill="#fff"/><path d="M806.6,244.6a2.4,2.4 0 0 0 4.8,0" fill="none" stroke="#f8c4a0" stroke-width="1.5" stroke-opacity="0.9"/>
<circle cx="824.4" cy="271.8" r="2.3" fill="#fff"/><path d="M822.0,271.4a2.4,2.4 0 0 0 4.8,0" fill="none" stroke="#f8c4a0" stroke-width="1.5" stroke-opacity="0.9"/>
<circle cx="839.7" cy="341.2" r="2.3" fill="#fff"/><path d="M837.3,340.8a2.4,2.4 0 0 0 4.8,0" fill="none" stroke="#f8c4a0" stroke-width="1.5" stroke-opacity="0.9"/>
<circle cx="855.0" cy="414.3" r="2.3" fill="#fff"/><path d="M852.6,413.9a2.4,2.4 0 0 0 4.8,0" fill="none" stroke="#f8c4a0" stroke-width="1.5" stroke-opacity="0.9"/>
<circle cx="870.4" cy="469.1" r="2.3" fill="#fff"/><path d="M868.0,468.7a2.4,2.4 0 0 0 4.8,0" fill="none" stroke="#f8c4a0" stroke-width="1.5" stroke-opacity="0.9"/>
<circle cx="885.7" cy="511.8" r="2.3" fill="#fff"/><path d="M883.3,511.4a2.4,2.4 0 0 0 4.8,0" fill="none" stroke="#f8c4a0" stroke-width="1.5" stroke-opacity="0.9"/>
<circle cx="901.1" cy="542.2" r="2.3" fill="#fff"/><path d="M898.7,541.8a2.4,2.4 0 0 0 4.8,0" fill="none" stroke="#f8c4a0" stroke-width="1.5" stroke-opacity="0.9"/>
<circle cx="916.4" cy="560.5" r="2.3" fill="#fff"/><path d="M914.0,560.1a2.4,2.4 0 0 0 4.8,0" fill="none" stroke="#f8c4a0" stroke-width="1.5" stroke-opacity="0.9"/>
<circle cx="931.7" cy="575.1" r="2.3" fill="#fff"/><path d="M929.3,574.7a2.4,2.4 0 0 0 4.8,0" fill="none" stroke="#f8c4a0" stroke-width="1.5" stroke-opacity="0.9"/>
<circle cx="947.1" cy="594.6" r="2.3" fill="#fff"/><path d="M944.7,594.2a2.4,2.4 0 0 0 4.8,0" fill="none" stroke="#f8c4a0" stroke-width="1.5" stroke-opacity="0.9"/>
<circle cx="962.4" cy="609.2" r="2.3" fill="#fff"/><path d="M960.0,608.9a2.4,2.4 0 0 0 4.8,0" fill="none" stroke="#f8c4a0" stroke-width="1.5" stroke-opacity="0.9"/>
<circle cx="977.8" cy="616.6" r="2.3" fill="#fff"/><path d="M975.4,616.2a2.4,2.4 0 0 0 4.8,0" fill="none" stroke="#f8c4a0" stroke-width="1.5" stroke-opacity="0.9"/>
<path d="M318.2,725.0C320.8,726.4 328.5,734.7 333.6,733.5C338.7,732.3 343.8,719.5 348.9,717.7C354.0,715.9 359.1,722.1 364.2,722.6C369.4,723.0 374.5,721.9 379.6,720.1C384.7,718.3 389.8,713.6 394.9,711.6C400.0,709.6 405.1,709.6 410.3,707.9C415.4,706.3 420.5,706.5 425.6,701.8C430.7,697.2 435.8,688.8 440.9,679.9C446.1,671.0 451.2,661.0 456.3,648.2C461.4,635.4 466.5,619.8 471.6,603.2C476.7,586.5 481.8,567.6 486.9,548.3C492.1,529.0 497.2,504.7 502.3,487.4C507.4,470.2 512.5,454.9 517.6,444.8C522.7,434.6 527.9,430.4 533.0,426.5C538.1,422.6 543.2,428.1 548.3,421.6C553.4,415.1 558.5,388.7 563.6,387.5C568.8,386.3 573.9,413.3 579.0,414.3C584.1,415.3 589.2,402.7 594.3,393.6C599.4,384.5 604.5,363.3 609.6,359.5C614.8,355.6 619.9,362.0 625.0,370.5C630.1,378.9 635.2,410.0 640.3,410.1C645.4,410.2 650.6,380.3 655.7,371.1C660.8,361.8 665.9,354.7 671.0,354.6C676.1,354.5 681.2,364.1 686.3,370.5C691.4,376.9 696.6,382.6 701.7,393.0C706.8,403.4 711.9,432.1 717.0,432.6C722.1,433.1 727.2,407.2 732.4,396.0C737.5,384.9 742.6,373.7 747.7,365.6C752.8,357.5 757.9,351.4 763.0,347.3C768.1,343.2 773.2,340.2 778.4,341.2C783.5,342.2 788.6,344.3 793.7,353.4C798.8,362.5 803.9,380.8 809.0,396.0C814.1,411.3 819.3,430.6 824.4,444.8C829.5,459.0 834.6,470.8 839.7,481.3C844.8,491.9 849.9,500.6 855.0,508.1C860.2,515.6 865.3,520.9 870.4,526.4C875.5,531.9 880.6,536.4 885.7,541.0C890.8,545.7 896.0,550.2 901.1,554.4C906.2,558.7 911.3,563.2 916.4,566.6C921.5,570.1 926.6,572.1 931.7,575.1C936.8,578.2 942.0,581.2 947.1,584.9C952.2,588.5 957.3,593.6 962.4,597.1C967.5,600.5 972.6,602.5 977.8,605.6C982.9,608.6 990.5,613.7 993.1,615.3" fill="none" stroke="#5b8bd0" stroke-width="0.95" stroke-dasharray="4 3" stroke-opacity="0.9"/>
<circle cx="318.2" cy="725.0" r="2.3" fill="#fff"/><path d="M315.8,724.6a2.4,2.4 0 0 0 4.8,0" fill="none" stroke="#5b8bd0" stroke-width="1.5" stroke-opacity="0.9"/>
<circle cx="333.6" cy="733.5" r="2.3" fill="#fff"/><path d="M331.2,733.1a2.4,2.4 0 0 0 4.8,0" fill="none" stroke="#5b8bd0" stroke-width="1.5" stroke-opacity="0.9"/>
<circle cx="348.9" cy="717.7" r="2.3" fill="#fff"/><path d="M346.5,717.3a2.4,2.4 0 0 0 4.8,0" fill="none" stroke="#5b8bd0" stroke-width="1.5" stroke-opacity="0.9"/>
<circle cx="364.2" cy="722.6" r="2.3" fill="#fff"/><path d="M361.9,722.2a2.4,2.4 0 0 0 4.8,0" fill="none" stroke="#5b8bd0" stroke-width="1.5" stroke-opacity="0.9"/>
<circle cx="379.6" cy="720.1" r="2.3" fill="#fff"/><path d="M377.2,719.7a2.4,2.4 0 0 0 4.8,0" fill="none" stroke="#5b8bd0" stroke-width="1.5" stroke-opacity="0.9"/>
<circle cx="394.9" cy="711.6" r="2.3" fill="#fff"/><path d="M392.5,711.2a2.4,2.4 0 0 0 4.8,0" fill="none" stroke="#5b8bd0" stroke-width="1.5" stroke-opacity="0.9"/>
<circle cx="410.3" cy="707.9" r="2.3" fill="#fff"/><path d="M407.9,707.5a2.4,2.4 0 0 0 4.8,0" fill="none" stroke="#5b8bd0" stroke-width="1.5" stroke-opacity="0.9"/>
<circle cx="425.6" cy="701.8" r="2.3" fill="#fff"/><path d="M423.2,701.4a2.4,2.4 0 0 0 4.8,0" fill="none" stroke="#5b8bd0" stroke-width="1.5" stroke-opacity="0.9"/>
<circle cx="440.9" cy="679.9" r="2.3" fill="#fff"/><path d="M438.5,679.5a2.4,2.4 0 0 0 4.8,0" fill="none" stroke="#5b8bd0" stroke-width="1.5" stroke-opacity="0.9"/>
<circle cx="456.3" cy="648.2" r="2.3" fill="#fff"/><path d="M453.9,647.8a2.4,2.4 0 0 0 4.8,0" fill="none" stroke="#5b8bd0" stroke-width="1.5" stroke-opacity="0.9"/>
<circle cx="471.6" cy="603.2" r="2.3" fill="#fff"/><path d="M469.2,602.8a2.4,2.4 0 0 0 4.8,0" fill="none" stroke="#5b8bd0" stroke-width="1.5" stroke-opacity="0.9"/>
<circle cx="486.9" cy="548.3" r="2.3" fill="#fff"/><path d="M484.6,547.9a2.4,2.4 0 0 0 4.8,0" fill="none" stroke="#5b8bd0" stroke-width="1.5" stroke-opacity="0.9"/>
<circle cx="502.3" cy="487.4" r="2.3" fill="#fff"/><path d="M499.9,487.0a2.4,2.4 0 0 0 4.8,0" fill="none" stroke="#5b8bd0" stroke-width="1.5" stroke-opacity="0.9"/>
<circle cx="517.6" cy="444.8" r="2.3" fill="#fff"/><path d="M515.2,444.4a2.4,2.4 0 0 0 4.8,0" fill="none" stroke="#5b8bd0" stroke-width="1.5" stroke-opacity="0.9"/>
<circle cx="533.0" cy="426.5" r="2.3" fill="#fff"/><path d="M530.6,426.1a2.4,2.4 0 0 0 4.8,0" fill="none" stroke="#5b8bd0" stroke-width="1.5" stroke-opacity="0.9"/>
<circle cx="548.3" cy="421.6" r="2.3" fill="#fff"/><path d="M545.9,421.2a2.4,2.4 0 0 0 4.8,0" fill="none" stroke="#5b8bd0" stroke-width="1.5" stroke-opacity="0.9"/>
<circle cx="563.6" cy="387.5" r="2.3" fill="#fff"/><path d="M561.2,387.1a2.4,2.4 0 0 0 4.8,0" fill="none" stroke="#5b8bd0" stroke-width="1.5" stroke-opacity="0.9"/>
<circle cx="579.0" cy="414.3" r="2.3" fill="#fff"/><path d="M576.6,413.9a2.4,2.4 0 0 0 4.8,0" fill="none" stroke="#5b8bd0" stroke-width="1.5" stroke-opacity="0.9"/>
<circle cx="594.3" cy="393.6" r="2.3" fill="#fff"/><path d="M591.9,393.2a2.4,2.4 0 0 0 4.8,0" fill="none" stroke="#5b8bd0" stroke-width="1.5" stroke-opacity="0.9"/>
<circle cx="609.6" cy="359.5" r="2.3" fill="#fff"/><path d="M607.2,359.1a2.4,2.4 0 0 0 4.8,0" fill="none" stroke="#5b8bd0" stroke-width="1.5" stroke-opacity="0.9"/>
<circle cx="625.0" cy="370.5" r="2.3" fill="#fff"/><path d="M622.6,370.1a2.4,2.4 0 0 0 4.8,0" fill="none" stroke="#5b8bd0" stroke-width="1.5" stroke-opacity="0.9"/>
<circle cx="640.3" cy="410.1" r="2.3" fill="#fff"/><path d="M637.9,409.7a2.4,2.4 0 0 0 4.8,0" fill="none" stroke="#5b8bd0" stroke-width="1.5" stroke-opacity="0.9"/>
<circle cx="655.7" cy="371.1" r="2.3" fill="#fff"/><path d="M653.3,370.7a2.4,2.4 0 0 0 4.8,0" fill="none" stroke="#5b8bd0" stroke-width="1.5" stroke-opacity="0.9"/>
<circle cx="671.0" cy="354.6" r="2.3" fill="#fff"/><path d="M668.6,354.2a2.4,2.4 0 0 0 4.8,0" fill="none" stroke="#5b8bd0" stroke-width="1.5" stroke-opacity="0.9"/>
<circle cx="686.3" cy="370.5" r="2.3" fill="#fff"/><path d="M683.9,370.1a2.4,2.4 0 0 0 4.8,0" fill="none" stroke="#5b8bd0" stroke-width="1.5" stroke-opacity="0.9"/>
<circle cx="701.7" cy="393.0" r="2.3" fill="#fff"/><path d="M699.3,392.6a2.4,2.4 0 0 0 4.8,0" fill="none" stroke="#5b8bd0" stroke-width="1.5" stroke-opacity="0.9"/>
<circle cx="717.0" cy="432.6" r="2.3" fill="#fff"/><path d="M714.6,432.2a2.4,2.4 0 0 0 4.8,0" fill="none" stroke="#5b8bd0" stroke-width="1.5" stroke-opacity="0.9"/>
<circle cx="732.4" cy="396.0" r="2.3" fill="#fff"/><path d="M730.0,395.6a2.4,2.4 0 0 0 4.8,0" fill="none" stroke="#5b8bd0" stroke-width="1.5" stroke-opacity="0.9"/>
<circle cx="747.7" cy="365.6" r="2.3" fill="#fff"/><path d="M745.3,365.2a2.4,2.4 0 0 0 4.8,0" fill="none" stroke="#5b8bd0" stroke-width="1.5" stroke-opacity="0.9"/>
<circle cx="763.0" cy="347.3" r="2.3" fill="#fff"/><path d="M760.6,346.9a2.4,2.4 0 0 0 4.8,0" fill="none" stroke="#5b8bd0" stroke-width="1.5" stroke-opacity="0.9"/>
<circle cx="778.4" cy="341.2" r="2.3" fill="#fff"/><path d="M776.0,340.8a2.4,2.4 0 0 0 4.8,0" fill="none" stroke="#5b8bd0" stroke-width="1.5" stroke-opacity="0.9"/>
<circle cx="793.7" cy="353.4" r="2.3" fill="#fff"/><path d="M791.3,353.0a2.4,2.4 0 0 0 4.8,0" fill="none" stroke="#5b8bd0" stroke-width="1.5" stroke-opacity="0.9"/>
<circle cx="809.0" cy="396.0" r="2.3" fill="#fff"/><path d="M806.6,395.6a2.4,2.4 0 0 0 4.8,0" fill="none" stroke="#5b8bd0" stroke-width="1.5" stroke-opacity="0.9"/>
<circle cx="824.4" cy="444.8" r="2.3" fill="#fff"/><path d="M822.0,444.4a2.4,2.4 0 0 0 4.8,0" fill="none" stroke="#5b8bd0" stroke-width="1.5" stroke-opacity="0.9"/>
<circle cx="839.7" cy="481.3" r="2.3" fill="#fff"/><path d="M837.3,480.9a2.4,2.4 0 0 0 4.8,0" fill="none" stroke="#5b8bd0" stroke-width="1.5" stroke-opacity="0.9"/>
<circle cx="855.0" cy="508.1" r="2.3" fill="#fff"/><path d="M852.6,507.7a2.4,2.4 0 0 0 4.8,0" fill="none" stroke="#5b8bd0" stroke-width="1.5" stroke-opacity="0.9"/>
<circle cx="870.4" cy="526.4" r="2.3" fill="#fff"/><path d="M868.0,526.0a2.4,2.4 0 0 0 4.8,0" fill="none" stroke="#5b8bd0" stroke-width="1.5" stroke-opacity="0.9"/>
<circle cx="885.7" cy="541.0" r="2.3" fill="#fff"/><path d="M883.3,540.6a2.4,2.4 0 0 0 4.8,0" fill="none" stroke="#5b8bd0" stroke-width="1.5" stroke-opacity="0.9"/>
<circle cx="901.1" cy="554.4" r="2.3" fill="#fff"/><path d="M898.7,554.0a2.4,2.4 0 0 0 4.8,0" fill="none" stroke="#5b8bd0" stroke-width="1.5" stroke-opacity="0.9"/>
<circle cx="916.4" cy="566.6" r="2.3" fill="#fff"/><path d="M914.0,566.2a2.4,2.4 0 0 0 4.8,0" fill="none" stroke="#5b8bd0" stroke-width="1.5" stroke-opacity="0.9"/>
<circle cx="931.7" cy="575.1" r="2.3" fill="#fff"/><path d="M929.3,574.7a2.4,2.4 0 0 0 4.8,0" fill="none" stroke="#5b8bd0" stroke-width="1.5" stroke-opacity="0.9"/>
<circle cx="947.1" cy="584.9" r="2.3" fill="#fff"/><path d="M944.7,584.5a2.4,2.4 0 0 0 4.8,0" fill="none" stroke="#5b8bd0" stroke-width="1.5" stroke-opacity="0.9"/>
<circle cx="962.4" cy="597.1" r="2.3" fill="#fff"/><path d="M960.0,596.7a2.4,2.4 0 0 0 4.8,0" fill="none" stroke="#5b8bd0" stroke-width="1.5" stroke-opacity="0.9"/>
<circle cx="977.8" cy="605.6" r="2.3" fill="#fff"/><path d="M975.4,605.2a2.4,2.4 0 0 0 4.8,0" fill="none" stroke="#5b8bd0" stroke-width="1.5" stroke-opacity="0.9"/>
<circle cx="993.1" cy="615.3" r="2.3" fill="#fff"/><path d="M990.7,614.9a2.4,2.4 0 0 0 4.8,0" fill="none" stroke="#5b8bd0" stroke-width="1.5" stroke-opacity="0.9"/>
<path d="M364.2,766.4C366.8,765.2 374.5,761.9 379.6,759.1C384.7,756.3 389.8,753.2 394.9,749.4C400.0,745.5 405.1,740.4 410.3,736.0C415.4,731.5 420.5,728.4 425.6,722.6C430.7,716.7 435.8,709.0 440.9,700.6C446.1,692.3 451.2,686.8 456.3,672.6C461.4,658.4 466.5,632.0 471.6,615.3C476.7,598.7 481.8,583.9 486.9,572.7C492.1,561.5 497.2,556.7 502.3,548.3C507.4,540.0 512.5,531.9 517.6,522.7C522.7,513.6 527.9,504.5 533.0,493.5C538.1,482.5 543.2,472.2 548.3,457.0C553.4,441.7 558.5,421.4 563.6,402.1C568.8,382.8 573.9,359.5 579.0,341.2C584.1,322.9 589.2,305.7 594.3,292.5C599.4,279.3 604.5,269.7 609.6,262.0C614.8,254.3 619.9,247.6 625.0,246.2C630.1,244.8 635.2,248.8 640.3,253.5C645.4,258.2 650.6,266.7 655.7,274.2C660.8,281.7 665.9,292.5 671.0,298.6C676.1,304.7 681.2,310.8 686.3,310.8C691.4,310.8 696.6,304.7 701.7,298.6C706.8,292.5 711.9,280.9 717.0,274.2C722.1,267.5 727.2,260.4 732.4,258.4C737.5,256.3 742.6,260.6 747.7,262.0C752.8,263.4 757.9,261.8 763.0,266.9C768.1,272.0 773.2,278.1 778.4,292.5C783.5,306.9 788.6,332.1 793.7,353.4C798.8,374.7 803.9,401.1 809.0,420.4C814.1,439.7 819.3,455.9 824.4,469.1C829.5,482.3 834.6,491.1 839.7,499.6C844.8,508.1 849.9,514.2 855.0,520.3C860.2,526.4 865.3,531.1 870.4,536.1C875.5,541.2 880.6,546.3 885.7,550.8C890.8,555.2 896.0,558.9 901.1,563.0C906.2,567.0 911.3,571.1 916.4,575.1C921.5,579.2 926.6,583.7 931.7,587.3C936.8,591.0 942.0,593.8 947.1,597.1C952.2,600.3 957.3,603.8 962.4,606.8C967.5,609.9 972.6,612.9 977.8,615.3C982.9,617.8 988.0,619.2 993.1,621.4C998.2,623.7 1005.9,627.5 1008.4,628.7" fill="none" stroke="#70ad47" stroke-width="0.95" stroke-dasharray="4 3" stroke-opacity="0.9"/>
<circle cx="364.2" cy="766.4" r="2.3" fill="#fff"/><path d="M361.9,766.0a2.4,2.4 0 0 0 4.8,0" fill="none" stroke="#70ad47" stroke-width="1.5" stroke-opacity="0.9"/>
<circle cx="379.6" cy="759.1" r="2.3" fill="#fff"/><path d="M377.2,758.7a2.4,2.4 0 0 0 4.8,0" fill="none" stroke="#70ad47" stroke-width="1.5" stroke-opacity="0.9"/>
<circle cx="394.9" cy="749.4" r="2.3" fill="#fff"/><path d="M392.5,749.0a2.4,2.4 0 0 0 4.8,0" fill="none" stroke="#70ad47" stroke-width="1.5" stroke-opacity="0.9"/>
<circle cx="410.3" cy="736.0" r="2.3" fill="#fff"/><path d="M407.9,735.6a2.4,2.4 0 0 0 4.8,0" fill="none" stroke="#70ad47" stroke-width="1.5" stroke-opacity="0.9"/>
<circle cx="425.6" cy="722.6" r="2.3" fill="#fff"/><path d="M423.2,722.2a2.4,2.4 0 0 0 4.8,0" fill="none" stroke="#70ad47" stroke-width="1.5" stroke-opacity="0.9"/>
<circle cx="440.9" cy="700.6" r="2.3" fill="#fff"/><path d="M438.5,700.2a2.4,2.4 0 0 0 4.8,0" fill="none" stroke="#70ad47" stroke-width="1.5" stroke-opacity="0.9"/>
<circle cx="456.3" cy="672.6" r="2.3" fill="#fff"/><path d="M453.9,672.2a2.4,2.4 0 0 0 4.8,0" fill="none" stroke="#70ad47" stroke-width="1.5" stroke-opacity="0.9"/>
<circle cx="471.6" cy="615.3" r="2.3" fill="#fff"/><path d="M469.2,614.9a2.4,2.4 0 0 0 4.8,0" fill="none" stroke="#70ad47" stroke-width="1.5" stroke-opacity="0.9"/>
<circle cx="486.9" cy="572.7" r="2.3" fill="#fff"/><path d="M484.6,572.3a2.4,2.4 0 0 0 4.8,0" fill="none" stroke="#70ad47" stroke-width="1.5" stroke-opacity="0.9"/>
<circle cx="502.3" cy="548.3" r="2.3" fill="#fff"/><path d="M499.9,547.9a2.4,2.4 0 0 0 4.8,0" fill="none" stroke="#70ad47" stroke-width="1.5" stroke-opacity="0.9"/>
<circle cx="517.6" cy="522.7" r="2.3" fill="#fff"/><path d="M515.2,522.3a2.4,2.4 0 0 0 4.8,0" fill="none" stroke="#70ad47" stroke-width="1.5" stroke-opacity="0.9"/>
<circle cx="533.0" cy="493.5" r="2.3" fill="#fff"/><path d="M530.6,493.1a2.4,2.4 0 0 0 4.8,0" fill="none" stroke="#70ad47" stroke-width="1.5" stroke-opacity="0.9"/>
<circle cx="548.3" cy="457.0" r="2.3" fill="#fff"/><path d="M545.9,456.6a2.4,2.4 0 0 0 4.8,0" fill="none" stroke="#70ad47" stroke-width="1.5" stroke-opacity="0.9"/>
<circle cx="563.6" cy="402.1" r="2.3" fill="#fff"/><path d="M561.2,401.7a2.4,2.4 0 0 0 4.8,0" fill="none" stroke="#70ad47" stroke-width="1.5" stroke-opacity="0.9"/>
<circle cx="579.0" cy="341.2" r="2.3" fill="#fff"/><path d="M576.6,340.8a2.4,2.4 0 0 0 4.8,0" fill="none" stroke="#70ad47" stroke-width="1.5" stroke-opacity="0.9"/>
<circle cx="594.3" cy="292.5" r="2.3" fill="#fff"/><path d="M591.9,292.1a2.4,2.4 0 0 0 4.8,0" fill="none" stroke="#70ad47" stroke-width="1.5" stroke-opacity="0.9"/>
<circle cx="609.6" cy="262.0" r="2.3" fill="#fff"/><path d="M607.2,261.6a2.4,2.4 0 0 0 4.8,0" fill="none" stroke="#70ad47" stroke-width="1.5" stroke-opacity="0.9"/>
<circle cx="625.0" cy="246.2" r="2.3" fill="#fff"/><path d="M622.6,245.8a2.4,2.4 0 0 0 4.8,0" fill="none" stroke="#70ad47" stroke-width="1.5" stroke-opacity="0.9"/>
<circle cx="640.3" cy="253.5" r="2.3" fill="#fff"/><path d="M637.9,253.1a2.4,2.4 0 0 0 4.8,0" fill="none" stroke="#70ad47" stroke-width="1.5" stroke-opacity="0.9"/>
<circle cx="655.7" cy="274.2" r="2.3" fill="#fff"/><path d="M653.3,273.8a2.4,2.4 0 0 0 4.8,0" fill="none" stroke="#70ad47" stroke-width="1.5" stroke-opacity="0.9"/>
<circle cx="671.0" cy="298.6" r="2.3" fill="#fff"/><path d="M668.6,298.2a2.4,2.4 0 0 0 4.8,0" fill="none" stroke="#70ad47" stroke-width="1.5" stroke-opacity="0.9"/>
<circle cx="686.3" cy="310.8" r="2.3" fill="#fff"/><path d="M683.9,310.4a2.4,2.4 0 0 0 4.8,0" fill="none" stroke="#70ad47" stroke-width="1.5" stroke-opacity="0.9"/>
<circle cx="701.7" cy="298.6" r="2.3" fill="#fff"/><path d="M699.3,298.2a2.4,2.4 0 0 0 4.8,0" fill="none" stroke="#70ad47" stroke-width="1.5" stroke-opacity="0.9"/>
<circle cx="717.0" cy="274.2" r="2.3" fill="#fff"/><path d="M714.6,273.8a2.4,2.4 0 0 0 4.8,0" fill="none" stroke="#70ad47" stroke-width="1.5" stroke-opacity="0.9"/>
<circle cx="732.4" cy="258.4" r="2.3" fill="#fff"/><path d="M730.0,258.0a2.4,2.4 0 0 0 4.8,0" fill="none" stroke="#70ad47" stroke-width="1.5" stroke-opacity="0.9"/>
<circle cx="747.7" cy="262.0" r="2.3" fill="#fff"/><path d="M745.3,261.6a2.4,2.4 0 0 0 4.8,0" fill="none" stroke="#70ad47" stroke-width="1.5" stroke-opacity="0.9"/>
<circle cx="763.0" cy="266.9" r="2.3" fill="#fff"/><path d="M760.6,266.5a2.4,2.4 0 0 0 4.8,0" fill="none" stroke="#70ad47" stroke-width="1.5" stroke-opacity="0.9"/>
<circle cx="778.4" cy="292.5" r="2.3" fill="#fff"/><path d="M776.0,292.1a2.4,2.4 0 0 0 4.8,0" fill="none" stroke="#70ad47" stroke-width="1.5" stroke-opacity="0.9"/>
<circle cx="793.7" cy="353.4" r="2.3" fill="#fff"/><path d="M791.3,353.0a2.4,2.4 0 0 0 4.8,0" fill="none" stroke="#70ad47" stroke-width="1.5" stroke-opacity="0.9"/>
<circle cx="809.0" cy="420.4" r="2.3" fill="#fff"/><path d="M806.6,420.0a2.4,2.4 0 0 0 4.8,0" fill="none" stroke="#70ad47" stroke-width="1.5" stroke-opacity="0.9"/>
<circle cx="824.4" cy="469.1" r="2.3" fill="#fff"/><path d="M822.0,468.7a2.4,2.4 0 0 0 4.8,0" fill="none" stroke="#70ad47" stroke-width="1.5" stroke-opacity="0.9"/>
<circle cx="839.7" cy="499.6" r="2.3" fill="#fff"/><path d="M837.3,499.2a2.4,2.4 0 0 0 4.8,0" fill="none" stroke="#70ad47" stroke-width="1.5" stroke-opacity="0.9"/>
<circle cx="855.0" cy="520.3" r="2.3" fill="#fff"/><path d="M852.6,519.9a2.4,2.4 0 0 0 4.8,0" fill="none" stroke="#70ad47" stroke-width="1.5" stroke-opacity="0.9"/>
<circle cx="870.4" cy="536.1" r="2.3" fill="#fff"/><path d="M868.0,535.8a2.4,2.4 0 0 0 4.8,0" fill="none" stroke="#70ad47" stroke-width="1.5" stroke-opacity="0.9"/>
<circle cx="885.7" cy="550.8" r="2.3" fill="#fff"/><path d="M883.3,550.4a2.4,2.4 0 0 0 4.8,0" fill="none" stroke="#70ad47" stroke-width="1.5" stroke-opacity="0.9"/>
<circle cx="901.1" cy="563.0" r="2.3" fill="#fff"/><path d="M898.7,562.6a2.4,2.4 0 0 0 4.8,0" fill="none" stroke="#70ad47" stroke-width="1.5" stroke-opacity="0.9"/>
<circle cx="916.4" cy="575.1" r="2.3" fill="#fff"/><path d="M914.0,574.7a2.4,2.4 0 0 0 4.8,0" fill="none" stroke="#70ad47" stroke-width="1.5" stroke-opacity="0.9"/>
<circle cx="931.7" cy="587.3" r="2.3" fill="#fff"/><path d="M929.3,586.9a2.4,2.4 0 0 0 4.8,0" fill="none" stroke="#70ad47" stroke-width="1.5" stroke-opacity="0.9"/>
<circle cx="947.1" cy="597.1" r="2.3" fill="#fff"/><path d="M944.7,596.7a2.4,2.4 0 0 0 4.8,0" fill="none" stroke="#70ad47" stroke-width="1.5" stroke-opacity="0.9"/>
<circle cx="962.4" cy="606.8" r="2.3" fill="#fff"/><path d="M960.0,606.4a2.4,2.4 0 0 0 4.8,0" fill="none" stroke="#70ad47" stroke-width="1.5" stroke-opacity="0.9"/>
<circle cx="977.8" cy="615.3" r="2.3" fill="#fff"/><path d="M975.4,614.9a2.4,2.4 0 0 0 4.8,0" fill="none" stroke="#70ad47" stroke-width="1.5" stroke-opacity="0.9"/>
<circle cx="993.1" cy="621.4" r="2.3" fill="#fff"/><path d="M990.7,621.0a2.4,2.4 0 0 0 4.8,0" fill="none" stroke="#70ad47" stroke-width="1.5" stroke-opacity="0.9"/>
<circle cx="1008.4" cy="628.7" r="2.3" fill="#fff"/><path d="M1006.0,628.3a2.4,2.4 0 0 0 4.8,0" fill="none" stroke="#70ad47" stroke-width="1.5" stroke-opacity="0.9"/>
<path d="M333.6,622.7C336.1,622.7 343.8,623.3 348.9,622.7C354.0,622.0 359.1,620.4 364.2,619.0C369.4,617.6 374.5,616.4 379.6,614.1C384.7,611.9 389.8,608.2 394.9,605.6C400.0,603.0 405.1,600.9 410.3,598.3C415.4,595.6 420.5,592.0 425.6,589.8C430.7,587.5 435.8,585.3 440.9,584.9C446.1,584.5 451.2,588.9 456.3,587.3C461.4,585.7 466.5,578.4 471.6,575.1C476.7,571.9 481.8,570.9 486.9,567.8C492.1,564.8 497.2,561.3 502.3,556.9C507.4,552.4 512.5,546.3 517.6,541.0C522.7,535.7 527.9,536.1 533.0,525.2C538.1,514.2 543.2,496.4 548.3,475.2C553.4,454.1 558.5,420.8 563.6,398.5C568.8,376.1 573.9,356.2 579.0,341.2C584.1,326.2 589.2,316.8 594.3,308.3C599.4,299.8 604.5,295.9 609.6,290.0C614.8,284.2 619.9,274.8 625.0,273.0C630.1,271.2 635.2,280.5 640.3,279.1C645.4,277.7 650.6,269.9 655.7,264.5C660.8,259.0 665.9,248.6 671.0,246.2C676.1,243.8 681.2,245.4 686.3,249.8C691.4,254.3 696.6,267.7 701.7,273.0C706.8,278.3 711.9,277.1 717.0,281.5C722.1,286.0 727.2,291.5 732.4,299.8C737.5,308.1 742.6,325.6 747.7,331.5C752.8,337.4 757.9,341.2 763.0,335.1C768.1,329.0 773.2,304.3 778.4,294.9C783.5,285.6 788.6,281.1 793.7,279.1C798.8,277.1 803.9,285.2 809.0,282.7C814.1,280.3 819.3,267.3 824.4,264.5C829.5,261.6 834.6,257.2 839.7,265.7C844.8,274.2 849.9,296.3 855.0,315.6C860.2,334.9 865.3,361.5 870.4,381.4C875.5,401.3 880.6,418.8 885.7,435.0C890.8,451.3 896.0,465.5 901.1,478.9C906.2,492.3 911.3,504.5 916.4,515.4C921.5,526.4 926.6,535.7 931.7,544.7C936.8,553.6 942.0,563.6 947.1,569.0C952.2,574.5 957.3,574.9 962.4,577.6C967.5,580.2 972.6,582.4 977.8,584.9C982.9,587.3 988.0,590.6 993.1,592.2C998.2,593.8 1003.3,592.2 1008.4,594.6C1013.5,597.1 1018.7,604.4 1023.8,606.8C1028.9,609.2 1034.0,608.8 1039.1,609.2C1044.2,609.7 1049.3,609.0 1054.4,609.2C1059.5,609.5 1067.2,610.3 1069.8,610.5" fill="none" stroke="#f4b183" stroke-width="1.1" stroke-opacity="0.9"/>
<circle cx="333.6" cy="622.7" r="2.7" fill="#fff" fill-opacity="0.6" stroke="#f4b183" stroke-width="1.2" stroke-opacity="0.9"/>
<circle cx="348.9" cy="622.7" r="2.7" fill="#fff" fill-opacity="0.6" stroke="#f4b183" stroke-width="1.2" stroke-opacity="0.9"/>
<circle cx="364.2" cy="619.0" r="2.7" fill="#fff" fill-opacity="0.6" stroke="#f4b183" stroke-width="1.2" stroke-opacity="0.9"/>
<circle cx="379.6" cy="614.1" r="2.7" fill="#fff" fill-opacity="0.6" stroke="#f4b183" stroke-width="1.2" stroke-opacity="0.9"/>
<circle cx="394.9" cy="605.6" r="2.7" fill="#fff" fill-opacity="0.6" stroke="#f4b183" stroke-width="1.2" stroke-opacity="0.9"/>
<circle cx="410.3" cy="598.3" r="2.7" fill="#fff" fill-opacity="0.6" stroke="#f4b183" stroke-width="1.2" stroke-opacity="0.9"/>
<circle cx="425.6" cy="589.8" r="2.7" fill="#fff" fill-opacity="0.6" stroke="#f4b183" stroke-width="1.2" stroke-opacity="0.9"/>
<circle cx="440.9" cy="584.9" r="2.7" fill="#fff" fill-opacity="0.6" stroke="#f4b183" stroke-width="1.2" stroke-opacity="0.9"/>
<circle cx="456.3" cy="587.3" r="2.7" fill="#fff" fill-opacity="0.6" stroke="#f4b183" stroke-width="1.2" stroke-opacity="0.9"/>
<circle cx="471.6" cy="575.1" r="2.7" fill="#fff" fill-opacity="0.6" stroke="#f4b183" stroke-width="1.2" stroke-opacity="0.9"/>
<circle cx="486.9" cy="567.8" r="2.7" fill="#fff" fill-opacity="0.6" stroke="#f4b183" stroke-width="1.2" stroke-opacity="0.9"/>
<circle cx="502.3" cy="556.9" r="2.7" fill="#fff" fill-opacity="0.6" stroke="#f4b183" stroke-width="1.2" stroke-opacity="0.9"/>
<circle cx="517.6" cy="541.0" r="2.7" fill="#fff" fill-opacity="0.6" stroke="#f4b183" stroke-width="1.2" stroke-opacity="0.9"/>
<circle cx="533.0" cy="525.2" r="2.7" fill="#fff" fill-opacity="0.6" stroke="#f4b183" stroke-width="1.2" stroke-opacity="0.9"/>
<circle cx="548.3" cy="475.2" r="2.7" fill="#fff" fill-opacity="0.6" stroke="#f4b183" stroke-width="1.2" stroke-opacity="0.9"/>
<circle cx="563.6" cy="398.5" r="2.7" fill="#fff" fill-opacity="0.6" stroke="#f4b183" stroke-width="1.2" stroke-opacity="0.9"/>
<circle cx="579.0" cy="341.2" r="2.7" fill="#fff" fill-opacity="0.6" stroke="#f4b183" stroke-width="1.2" stroke-opacity="0.9"/>
<circle cx="594.3" cy="308.3" r="2.7" fill="#fff" fill-opacity="0.6" stroke="#f4b183" stroke-width="1.2" stroke-opacity="0.9"/>
<circle cx="609.6" cy="290.0" r="2.7" fill="#fff" fill-opacity="0.6" stroke="#f4b183" stroke-width="1.2" stroke-opacity="0.9"/>
<circle cx="625.0" cy="273.0" r="2.7" fill="#fff" fill-opacity="0.6" stroke="#f4b183" stroke-width="1.2" stroke-opacity="0.9"/>
<circle cx="640.3" cy="279.1" r="2.7" fill="#fff" fill-opacity="0.6" stroke="#f4b183" stroke-width="1.2" stroke-opacity="0.9"/>
<circle cx="655.7" cy="264.5" r="2.7" fill="#fff" fill-opacity="0.6" stroke="#f4b183" stroke-width="1.2" stroke-opacity="0.9"/>
<circle cx="671.0" cy="246.2" r="2.7" fill="#fff" fill-opacity="0.6" stroke="#f4b183" stroke-width="1.2" stroke-opacity="0.9"/>
<circle cx="686.3" cy="249.8" r="2.7" fill="#fff" fill-opacity="0.6" stroke="#f4b183" stroke-width="1.2" stroke-opacity="0.9"/>
<circle cx="701.7" cy="273.0" r="2.7" fill="#fff" fill-opacity="0.6" stroke="#f4b183" stroke-width="1.2" stroke-opacity="0.9"/>
<circle cx="717.0" cy="281.5" r="2.7" fill="#fff" fill-opacity="0.6" stroke="#f4b183" stroke-width="1.2" stroke-opacity="0.9"/>
<circle cx="732.4" cy="299.8" r="2.7" fill="#fff" fill-opacity="0.6" stroke="#f4b183" stroke-width="1.2" stroke-opacity="0.9"/>
<circle cx="747.7" cy="331.5" r="2.7" fill="#fff" fill-opacity="0.6" stroke="#f4b183" stroke-width="1.2" stroke-opacity="0.9"/>
<circle cx="763.0" cy="335.1" r="2.7" fill="#fff" fill-opacity="0.6" stroke="#f4b183" stroke-width="1.2" stroke-opacity="0.9"/>
<circle cx="778.4" cy="294.9" r="2.7" fill="#fff" fill-opacity="0.6" stroke="#f4b183" stroke-width="1.2" stroke-opacity="0.9"/>
<circle cx="793.7" cy="279.1" r="2.7" fill="#fff" fill-opacity="0.6" stroke="#f4b183" stroke-width="1.2" stroke-opacity="0.9"/>
<circle cx="809.0" cy="282.7" r="2.7" fill="#fff" fill-opacity="0.6" stroke="#f4b183" stroke-width="1.2" stroke-opacity="0.9"/>
<circle cx="824.4" cy="264.5" r="2.7" fill="#fff" fill-opacity="0.6" stroke="#f4b183" stroke-width="1.2" stroke-opacity="0.9"/>
<circle cx="839.7" cy="265.7" r="2.7" fill="#fff" fill-opacity="0.6" stroke="#f4b183" stroke-width="1.2" stroke-opacity="0.9"/>
<circle cx="855.0" cy="315.6" r="2.7" fill="#fff" fill-opacity="0.6" stroke="#f4b183" stroke-width="1.2" stroke-opacity="0.9"/>
<circle cx="870.4" cy="381.4" r="2.7" fill="#fff" fill-opacity="0.6" stroke="#f4b183" stroke-width="1.2" stroke-opacity="0.9"/>
<circle cx="885.7" cy="435.0" r="2.7" fill="#fff" fill-opacity="0.6" stroke="#f4b183" stroke-width="1.2" stroke-opacity="0.9"/>
<circle cx="901.1" cy="478.9" r="2.7" fill="#fff" fill-opacity="0.6" stroke="#f4b183" stroke-width="1.2" stroke-opacity="0.9"/>
<circle cx="916.4" cy="515.4" r="2.7" fill="#fff" fill-opacity="0.6" stroke="#f4b183" stroke-width="1.2" stroke-opacity="0.9"/>
<circle cx="931.7" cy="544.7" r="2.7" fill="#fff" fill-opacity="0.6" stroke="#f4b183" stroke-width="1.2" stroke-opacity="0.9"/>
<circle cx="947.1" cy="569.0" r="2.7" fill="#fff" fill-opacity="0.6" stroke="#f4b183" stroke-width="1.2" stroke-opacity="0.9"/>
<circle cx="962.4" cy="577.6" r="2.7" fill="#fff" fill-opacity="0.6" stroke="#f4b183" stroke-width="1.2" stroke-opacity="0.9"/>
<circle cx="977.8" cy="584.9" r="2.7" fill="#fff" fill-opacity="0.6" stroke="#f4b183" stroke-width="1.2" stroke-opacity="0.9"/>
<circle cx="993.1" cy="592.2" r="2.7" fill="#fff" fill-opacity="0.6" stroke="#f4b183" stroke-width="1.2" stroke-opacity="0.9"/>
<circle cx="1008.4" cy="594.6" r="2.7" fill="#fff" fill-opacity="0.6" stroke="#f4b183" stroke-width="1.2" stroke-opacity="0.9"/>
<circle cx="1023.8" cy="606.8" r="2.7" fill="#fff" fill-opacity="0.6" stroke="#f4b183" stroke-width="1.2" stroke-opacity="0.9"/>
<circle cx="1039.1" cy="609.2" r="2.7" fill="#fff" fill-opacity="0.6" stroke="#f4b183" stroke-width="1.2" stroke-opacity="0.9"/>
<circle cx="1054.4" cy="609.2" r="2.7" fill="#fff" fill-opacity="0.6" stroke="#f4b183" stroke-width="1.2" stroke-opacity="0.9"/>
<circle cx="1069.8" cy="610.5" r="2.7" fill="#fff" fill-opacity="0.6" stroke="#f4b183" stroke-width="1.2" stroke-opacity="0.9"/>
<path d="M394.9,617.8C397.5,613.3 405.1,600.5 410.3,591.0C415.4,581.4 420.5,570.3 425.6,560.5C430.7,550.8 435.8,542.6 440.9,532.5C446.1,522.3 451.2,514.6 456.3,499.6C461.4,484.6 466.5,462.8 471.6,442.3C476.7,421.8 481.8,395.4 486.9,376.5C492.1,357.7 497.2,341.6 502.3,329.0C507.4,316.4 512.5,305.7 517.6,301.0C522.7,296.3 527.9,296.1 533.0,301.0C538.1,305.9 543.2,321.5 548.3,330.3C553.4,339.0 558.5,348.7 563.6,353.4C568.8,358.1 573.9,358.7 579.0,358.3C584.1,357.9 589.2,353.8 594.3,351.0C599.4,348.1 604.5,345.5 609.6,341.2C614.8,337.0 619.9,331.5 625.0,325.4C630.1,319.3 635.2,308.5 640.3,304.7C645.4,300.8 650.6,303.4 655.7,302.2C660.8,301.0 665.9,297.4 671.0,297.4C676.1,297.4 681.2,298.0 686.3,302.2C691.4,306.5 696.6,315.0 701.7,322.9C706.8,330.9 711.9,341.4 717.0,349.7C722.1,358.1 727.2,370.7 732.4,372.9C737.5,375.1 742.6,367.4 747.7,363.1C752.8,358.9 757.9,352.0 763.0,347.3C768.1,342.6 773.2,335.9 778.4,335.1C783.5,334.3 788.6,337.2 793.7,342.4C798.8,347.7 803.9,359.7 809.0,366.8C814.1,373.9 819.3,377.0 824.4,385.1C829.5,393.2 834.6,407.4 839.7,415.5C844.8,423.7 849.9,424.5 855.0,433.8C860.2,443.2 865.3,462.6 870.4,471.6C875.5,480.5 883.2,484.8 885.7,487.4" fill="none" stroke="#d9773a" stroke-width="1.1" stroke-opacity="0.9"/>
<circle cx="394.9" cy="617.8" r="2.7" fill="#fff" fill-opacity="0.6" stroke="#d9773a" stroke-width="1.2" stroke-opacity="0.9"/>
<circle cx="410.3" cy="591.0" r="2.7" fill="#fff" fill-opacity="0.6" stroke="#d9773a" stroke-width="1.2" stroke-opacity="0.9"/>
<circle cx="425.6" cy="560.5" r="2.7" fill="#fff" fill-opacity="0.6" stroke="#d9773a" stroke-width="1.2" stroke-opacity="0.9"/>
<circle cx="440.9" cy="532.5" r="2.7" fill="#fff" fill-opacity="0.6" stroke="#d9773a" stroke-width="1.2" stroke-opacity="0.9"/>
<circle cx="456.3" cy="499.6" r="2.7" fill="#fff" fill-opacity="0.6" stroke="#d9773a" stroke-width="1.2" stroke-opacity="0.9"/>
<circle cx="471.6" cy="442.3" r="2.7" fill="#fff" fill-opacity="0.6" stroke="#d9773a" stroke-width="1.2" stroke-opacity="0.9"/>
<circle cx="486.9" cy="376.5" r="2.7" fill="#fff" fill-opacity="0.6" stroke="#d9773a" stroke-width="1.2" stroke-opacity="0.9"/>
<circle cx="502.3" cy="329.0" r="2.7" fill="#fff" fill-opacity="0.6" stroke="#d9773a" stroke-width="1.2" stroke-opacity="0.9"/>
<circle cx="517.6" cy="301.0" r="2.7" fill="#fff" fill-opacity="0.6" stroke="#d9773a" stroke-width="1.2" stroke-opacity="0.9"/>
<circle cx="533.0" cy="301.0" r="2.7" fill="#fff" fill-opacity="0.6" stroke="#d9773a" stroke-width="1.2" stroke-opacity="0.9"/>
<circle cx="548.3" cy="330.3" r="2.7" fill="#fff" fill-opacity="0.6" stroke="#d9773a" stroke-width="1.2" stroke-opacity="0.9"/>
<circle cx="563.6" cy="353.4" r="2.7" fill="#fff" fill-opacity="0.6" stroke="#d9773a" stroke-width="1.2" stroke-opacity="0.9"/>
<circle cx="579.0" cy="358.3" r="2.7" fill="#fff" fill-opacity="0.6" stroke="#d9773a" stroke-width="1.2" stroke-opacity="0.9"/>
<circle cx="594.3" cy="351.0" r="2.7" fill="#fff" fill-opacity="0.6" stroke="#d9773a" stroke-width="1.2" stroke-opacity="0.9"/>
<circle cx="609.6" cy="341.2" r="2.7" fill="#fff" fill-opacity="0.6" stroke="#d9773a" stroke-width="1.2" stroke-opacity="0.9"/>
<circle cx="625.0" cy="325.4" r="2.7" fill="#fff" fill-opacity="0.6" stroke="#d9773a" stroke-width="1.2" stroke-opacity="0.9"/>
<circle cx="640.3" cy="304.7" r="2.7" fill="#fff" fill-opacity="0.6" stroke="#d9773a" stroke-width="1.2" stroke-opacity="0.9"/>
<circle cx="655.7" cy="302.2" r="2.7" fill="#fff" fill-opacity="0.6" stroke="#d9773a" stroke-width="1.2" stroke-opacity="0.9"/>
<circle cx="671.0" cy="297.4" r="2.7" fill="#fff" fill-opacity="0.6" stroke="#d9773a" stroke-width="1.2" stroke-opacity="0.9"/>
<circle cx="686.3" cy="302.2" r="2.7" fill="#fff" fill-opacity="0.6" stroke="#d9773a" stroke-width="1.2" stroke-opacity="0.9"/>
<circle cx="701.7" cy="322.9" r="2.7" fill="#fff" fill-opacity="0.6" stroke="#d9773a" stroke-width="1.2" stroke-opacity="0.9"/>
<circle cx="717.0" cy="349.7" r="2.7" fill="#fff" fill-opacity="0.6" stroke="#d9773a" stroke-width="1.2" stroke-opacity="0.9"/>
<circle cx="732.4" cy="372.9" r="2.7" fill="#fff" fill-opacity="0.6" stroke="#d9773a" stroke-width="1.2" stroke-opacity="0.9"/>
<circle cx="747.7" cy="363.1" r="2.7" fill="#fff" fill-opacity="0.6" stroke="#d9773a" stroke-width="1.2" stroke-opacity="0.9"/>
<circle cx="763.0" cy="347.3" r="2.7" fill="#fff" fill-opacity="0.6" stroke="#d9773a" stroke-width="1.2" stroke-opacity="0.9"/>
<circle cx="778.4" cy="335.1" r="2.7" fill="#fff" fill-opacity="0.6" stroke="#d9773a" stroke-width="1.2" stroke-opacity="0.9"/>
<circle cx="793.7" cy="342.4" r="2.7" fill="#fff" fill-opacity="0.6" stroke="#d9773a" stroke-width="1.2" stroke-opacity="0.9"/>
<circle cx="809.0" cy="366.8" r="2.7" fill="#fff" fill-opacity="0.6" stroke="#d9773a" stroke-width="1.2" stroke-opacity="0.9"/>
<circle cx="824.4" cy="385.1" r="2.7" fill="#fff" fill-opacity="0.6" stroke="#d9773a" stroke-width="1.2" stroke-opacity="0.9"/>
<circle cx="839.7" cy="415.5" r="2.7" fill="#fff" fill-opacity="0.6" stroke="#d9773a" stroke-width="1.2" stroke-opacity="0.9"/>
<circle cx="855.0" cy="433.8" r="2.7" fill="#fff" fill-opacity="0.6" stroke="#d9773a" stroke-width="1.2" stroke-opacity="0.9"/>
<circle cx="870.4" cy="471.6" r="2.7" fill="#fff" fill-opacity="0.6" stroke="#d9773a" stroke-width="1.2" stroke-opacity="0.9"/>
<circle cx="885.7" cy="487.4" r="2.7" fill="#fff" fill-opacity="0.6" stroke="#d9773a" stroke-width="1.2" stroke-opacity="0.9"/>
<path d="M486.9,626.3C489.5,623.4 497.2,613.5 502.3,608.6C507.4,603.8 512.5,602.9 517.6,597.1C522.7,591.3 527.9,583.9 533.0,573.9C538.1,564.0 543.2,553.8 548.3,537.4C553.4,520.9 558.5,499.0 563.6,475.2C568.8,451.5 573.9,420.2 579.0,394.8C584.1,369.4 589.2,340.8 594.3,322.9C599.4,305.1 604.5,295.9 609.6,287.6C614.8,279.3 619.9,275.2 625.0,273.0C630.1,270.8 635.2,276.5 640.3,274.2C645.4,271.9 650.6,263.0 655.7,259.0C660.8,254.9 665.9,250.1 671.0,249.8C676.1,249.5 681.2,247.8 686.3,257.2C691.4,266.5 696.6,289.4 701.7,305.9C706.8,322.3 711.9,339.4 717.0,355.8C722.1,372.3 727.2,393.2 732.4,404.6C737.5,415.9 742.6,414.7 747.7,424.1C752.8,433.4 757.9,450.5 763.0,460.6C768.1,470.8 773.2,475.8 778.4,485.0C783.5,494.1 788.6,506.1 793.7,515.4C798.8,524.8 803.9,534.1 809.0,541.0C814.1,547.9 819.3,551.2 824.4,556.9C829.5,562.5 834.6,569.5 839.7,575.1C844.8,580.8 849.9,586.9 855.0,591.0C860.2,595.0 865.3,596.9 870.4,599.5C875.5,602.1 880.6,604.8 885.7,606.8C890.8,608.8 896.0,608.4 901.1,611.7C906.2,614.9 911.3,619.2 916.4,626.3C921.5,633.4 926.6,646.3 931.7,654.3C936.8,662.3 942.0,668.9 947.1,674.4C952.2,679.9 957.3,684.3 962.4,687.2C967.5,690.2 972.6,690.9 977.8,692.1C982.9,693.3 990.5,694.1 993.1,694.5" fill="none" stroke="#a5a5a5" stroke-width="1.1" stroke-opacity="0.9"/>
<circle cx="486.9" cy="626.3" r="2.7" fill="#fff" fill-opacity="0.6" stroke="#a5a5a5" stroke-width="1.2" stroke-opacity="0.9"/>
<circle cx="502.3" cy="608.6" r="2.7" fill="#fff" fill-opacity="0.6" stroke="#a5a5a5" stroke-width="1.2" stroke-opacity="0.9"/>
<circle cx="517.6" cy="597.1" r="2.7" fill="#fff" fill-opacity="0.6" stroke="#a5a5a5" stroke-width="1.2" stroke-opacity="0.9"/>
<circle cx="533.0" cy="573.9" r="2.7" fill="#fff" fill-opacity="0.6" stroke="#a5a5a5" stroke-width="1.2" stroke-opacity="0.9"/>
<circle cx="548.3" cy="537.4" r="2.7" fill="#fff" fill-opacity="0.6" stroke="#a5a5a5" stroke-width="1.2" stroke-opacity="0.9"/>
<circle cx="563.6" cy="475.2" r="2.7" fill="#fff" fill-opacity="0.6" stroke="#a5a5a5" stroke-width="1.2" stroke-opacity="0.9"/>
<circle cx="579.0" cy="394.8" r="2.7" fill="#fff" fill-opacity="0.6" stroke="#a5a5a5" stroke-width="1.2" stroke-opacity="0.9"/>
<circle cx="594.3" cy="322.9" r="2.7" fill="#fff" fill-opacity="0.6" stroke="#a5a5a5" stroke-width="1.2" stroke-opacity="0.9"/>
<circle cx="609.6" cy="287.6" r="2.7" fill="#fff" fill-opacity="0.6" stroke="#a5a5a5" stroke-width="1.2" stroke-opacity="0.9"/>
<circle cx="625.0" cy="273.0" r="2.7" fill="#fff" fill-opacity="0.6" stroke="#a5a5a5" stroke-width="1.2" stroke-opacity="0.9"/>
<circle cx="640.3" cy="274.2" r="2.7" fill="#fff" fill-opacity="0.6" stroke="#a5a5a5" stroke-width="1.2" stroke-opacity="0.9"/>
<circle cx="655.7" cy="259.0" r="2.7" fill="#fff" fill-opacity="0.6" stroke="#a5a5a5" stroke-width="1.2" stroke-opacity="0.9"/>
<circle cx="671.0" cy="249.8" r="2.7" fill="#fff" fill-opacity="0.6" stroke="#a5a5a5" stroke-width="1.2" stroke-opacity="0.9"/>
<circle cx="686.3" cy="257.2" r="2.7" fill="#fff" fill-opacity="0.6" stroke="#a5a5a5" stroke-width="1.2" stroke-opacity="0.9"/>
<circle cx="701.7" cy="305.9" r="2.7" fill="#fff" fill-opacity="0.6" stroke="#a5a5a5" stroke-width="1.2" stroke-opacity="0.9"/>
<circle cx="717.0" cy="355.8" r="2.7" fill="#fff" fill-opacity="0.6" stroke="#a5a5a5" stroke-width="1.2" stroke-opacity="0.9"/>
<circle cx="732.4" cy="404.6" r="2.7" fill="#fff" fill-opacity="0.6" stroke="#a5a5a5" stroke-width="1.2" stroke-opacity="0.9"/>
<circle cx="747.7" cy="424.1" r="2.7" fill="#fff" fill-opacity="0.6" stroke="#a5a5a5" stroke-width="1.2" stroke-opacity="0.9"/>
<circle cx="763.0" cy="460.6" r="2.7" fill="#fff" fill-opacity="0.6" stroke="#a5a5a5" stroke-width="1.2" stroke-opacity="0.9"/>
<circle cx="778.4" cy="485.0" r="2.7" fill="#fff" fill-opacity="0.6" stroke="#a5a5a5" stroke-width="1.2" stroke-opacity="0.9"/>
<circle cx="793.7" cy="515.4" r="2.7" fill="#fff" fill-opacity="0.6" stroke="#a5a5a5" stroke-width="1.2" stroke-opacity="0.9"/>
<circle cx="809.0" cy="541.0" r="2.7" fill="#fff" fill-opacity="0.6" stroke="#a5a5a5" stroke-width="1.2" stroke-opacity="0.9"/>
<circle cx="824.4" cy="556.9" r="2.7" fill="#fff" fill-opacity="0.6" stroke="#a5a5a5" stroke-width="1.2" stroke-opacity="0.9"/>
<circle cx="839.7" cy="575.1" r="2.7" fill="#fff" fill-opacity="0.6" stroke="#a5a5a5" stroke-width="1.2" stroke-opacity="0.9"/>
<circle cx="855.0" cy="591.0" r="2.7" fill="#fff" fill-opacity="0.6" stroke="#a5a5a5" stroke-width="1.2" stroke-opacity="0.9"/>
<circle cx="870.4" cy="599.5" r="2.7" fill="#fff" fill-opacity="0.6" stroke="#a5a5a5" stroke-width="1.2" stroke-opacity="0.9"/>
<circle cx="885.7" cy="606.8" r="2.7" fill="#fff" fill-opacity="0.6" stroke="#a5a5a5" stroke-width="1.2" stroke-opacity="0.9"/>
<circle cx="901.1" cy="611.7" r="2.7" fill="#fff" fill-opacity="0.6" stroke="#a5a5a5" stroke-width="1.2" stroke-opacity="0.9"/>
<circle cx="916.4" cy="626.3" r="2.7" fill="#fff" fill-opacity="0.6" stroke="#a5a5a5" stroke-width="1.2" stroke-opacity="0.9"/>
<circle cx="931.7" cy="654.3" r="2.7" fill="#fff" fill-opacity="0.6" stroke="#a5a5a5" stroke-width="1.2" stroke-opacity="0.9"/>
<circle cx="947.1" cy="674.4" r="2.7" fill="#fff" fill-opacity="0.6" stroke="#a5a5a5" stroke-width="1.2" stroke-opacity="0.9"/>
<circle cx="962.4" cy="687.2" r="2.7" fill="#fff" fill-opacity="0.6" stroke="#a5a5a5" stroke-width="1.2" stroke-opacity="0.9"/>
<circle cx="977.8" cy="692.1" r="2.7" fill="#fff" fill-opacity="0.6" stroke="#a5a5a5" stroke-width="1.2" stroke-opacity="0.9"/>
<circle cx="993.1" cy="694.5" r="2.7" fill="#fff" fill-opacity="0.6" stroke="#a5a5a5" stroke-width="1.2" stroke-opacity="0.9"/>
<path d="M486.9,709.2C489.5,703.7 497.2,689.1 502.3,676.3C507.4,663.5 512.5,648.6 517.6,632.4C522.7,616.2 527.9,597.9 533.0,578.8C538.1,559.7 543.2,538.2 548.3,517.9C553.4,497.6 558.5,476.2 563.6,457.0C568.8,437.7 573.9,419.4 579.0,402.1C584.1,384.9 589.2,367.6 594.3,353.4C599.4,339.2 604.5,326.0 609.6,316.9C614.8,307.7 619.9,301.8 625.0,298.6C630.1,295.3 635.2,297.0 640.3,297.4C645.4,297.8 650.6,299.4 655.7,301.0C660.8,302.6 665.9,305.5 671.0,307.1C676.1,308.7 681.2,310.8 686.3,310.8C691.4,310.8 696.6,308.5 701.7,307.1C706.8,305.7 711.9,302.2 717.0,302.2C722.1,302.2 727.2,305.7 732.4,307.1C737.5,308.5 742.6,310.8 747.7,310.8C752.8,310.8 757.9,306.7 763.0,307.1C768.1,307.5 773.2,307.5 778.4,313.2C783.5,318.9 788.6,328.4 793.7,341.2C798.8,354.0 803.9,373.7 809.0,389.9C814.1,406.2 819.3,423.5 824.4,438.7C829.5,453.9 834.6,468.7 839.7,481.3C844.8,493.9 849.9,504.7 855.0,514.2C860.2,523.8 865.3,528.8 870.4,538.6C875.5,548.3 880.6,561.5 885.7,572.7C890.8,583.9 896.0,596.5 901.1,605.6C906.2,614.7 911.3,622.0 916.4,627.5C921.5,633.0 926.6,635.6 931.7,638.5C936.8,641.3 942.0,642.1 947.1,644.6C952.2,647.0 957.3,649.3 962.4,653.1C967.5,657.0 972.6,663.3 977.8,667.7C982.9,672.2 988.0,676.3 993.1,679.9C998.2,683.6 1003.3,687.2 1008.4,689.7C1013.5,692.1 1018.7,693.9 1023.8,694.5C1028.9,695.1 1034.0,692.7 1039.1,693.3C1044.2,693.9 1049.3,695.8 1054.4,698.2C1059.5,700.6 1064.7,705.3 1069.8,707.9C1074.9,710.6 1080.0,711.6 1085.1,714.0C1090.2,716.5 1097.9,721.1 1100.5,722.6" fill="none" stroke="#b8683a" stroke-width="0.95" stroke-dasharray="4 3" stroke-opacity="0.9"/>
<circle cx="486.9" cy="709.2" r="2.3" fill="#fff"/><path d="M484.6,708.8a2.4,2.4 0 0 0 4.8,0" fill="none" stroke="#b8683a" stroke-width="1.5" stroke-opacity="0.9"/>
<circle cx="502.3" cy="676.3" r="2.3" fill="#fff"/><path d="M499.9,675.9a2.4,2.4 0 0 0 4.8,0" fill="none" stroke="#b8683a" stroke-width="1.5" stroke-opacity="0.9"/>
<circle cx="517.6" cy="632.4" r="2.3" fill="#fff"/><path d="M515.2,632.0a2.4,2.4 0 0 0 4.8,0" fill="none" stroke="#b8683a" stroke-width="1.5" stroke-opacity="0.9"/>
<circle cx="533.0" cy="578.8" r="2.3" fill="#fff"/><path d="M530.6,578.4a2.4,2.4 0 0 0 4.8,0" fill="none" stroke="#b8683a" stroke-width="1.5" stroke-opacity="0.9"/>
<circle cx="548.3" cy="517.9" r="2.3" fill="#fff"/><path d="M545.9,517.5a2.4,2.4 0 0 0 4.8,0" fill="none" stroke="#b8683a" stroke-width="1.5" stroke-opacity="0.9"/>
<circle cx="563.6" cy="457.0" r="2.3" fill="#fff"/><path d="M561.2,456.6a2.4,2.4 0 0 0 4.8,0" fill="none" stroke="#b8683a" stroke-width="1.5" stroke-opacity="0.9"/>
<circle cx="579.0" cy="402.1" r="2.3" fill="#fff"/><path d="M576.6,401.7a2.4,2.4 0 0 0 4.8,0" fill="none" stroke="#b8683a" stroke-width="1.5" stroke-opacity="0.9"/>
<circle cx="594.3" cy="353.4" r="2.3" fill="#fff"/><path d="M591.9,353.0a2.4,2.4 0 0 0 4.8,0" fill="none" stroke="#b8683a" stroke-width="1.5" stroke-opacity="0.9"/>
<circle cx="609.6" cy="316.9" r="2.3" fill="#fff"/><path d="M607.2,316.5a2.4,2.4 0 0 0 4.8,0" fill="none" stroke="#b8683a" stroke-width="1.5" stroke-opacity="0.9"/>
<circle cx="625.0" cy="298.6" r="2.3" fill="#fff"/><path d="M622.6,298.2a2.4,2.4 0 0 0 4.8,0" fill="none" stroke="#b8683a" stroke-width="1.5" stroke-opacity="0.9"/>
<circle cx="640.3" cy="297.4" r="2.3" fill="#fff"/><path d="M637.9,297.0a2.4,2.4 0 0 0 4.8,0" fill="none" stroke="#b8683a" stroke-width="1.5" stroke-opacity="0.9"/>
<circle cx="655.7" cy="301.0" r="2.3" fill="#fff"/><path d="M653.3,300.6a2.4,2.4 0 0 0 4.8,0" fill="none" stroke="#b8683a" stroke-width="1.5" stroke-opacity="0.9"/>
<circle cx="671.0" cy="307.1" r="2.3" fill="#fff"/><path d="M668.6,306.7a2.4,2.4 0 0 0 4.8,0" fill="none" stroke="#b8683a" stroke-width="1.5" stroke-opacity="0.9"/>
<circle cx="686.3" cy="310.8" r="2.3" fill="#fff"/><path d="M683.9,310.4a2.4,2.4 0 0 0 4.8,0" fill="none" stroke="#b8683a" stroke-width="1.5" stroke-opacity="0.9"/>
<circle cx="701.7" cy="307.1" r="2.3" fill="#fff"/><path d="M699.3,306.7a2.4,2.4 0 0 0 4.8,0" fill="none" stroke="#b8683a" stroke-width="1.5" stroke-opacity="0.9"/>
<circle cx="717.0" cy="302.2" r="2.3" fill="#fff"/><path d="M714.6,301.8a2.4,2.4 0 0 0 4.8,0" fill="none" stroke="#b8683a" stroke-width="1.5" stroke-opacity="0.9"/>
<circle cx="732.4" cy="307.1" r="2.3" fill="#fff"/><path d="M730.0,306.7a2.4,2.4 0 0 0 4.8,0" fill="none" stroke="#b8683a" stroke-width="1.5" stroke-opacity="0.9"/>
<circle cx="747.7" cy="310.8" r="2.3" fill="#fff"/><path d="M745.3,310.4a2.4,2.4 0 0 0 4.8,0" fill="none" stroke="#b8683a" stroke-width="1.5" stroke-opacity="0.9"/>
<circle cx="763.0" cy="307.1" r="2.3" fill="#fff"/><path d="M760.6,306.7a2.4,2.4 0 0 0 4.8,0" fill="none" stroke="#b8683a" stroke-width="1.5" stroke-opacity="0.9"/>
<circle cx="778.4" cy="313.2" r="2.3" fill="#fff"/><path d="M776.0,312.8a2.4,2.4 0 0 0 4.8,0" fill="none" stroke="#b8683a" stroke-width="1.5" stroke-opacity="0.9"/>
<circle cx="793.7" cy="341.2" r="2.3" fill="#fff"/><path d="M791.3,340.8a2.4,2.4 0 0 0 4.8,0" fill="none" stroke="#b8683a" stroke-width="1.5" stroke-opacity="0.9"/>
<circle cx="809.0" cy="389.9" r="2.3" fill="#fff"/><path d="M806.6,389.6a2.4,2.4 0 0 0 4.8,0" fill="none" stroke="#b8683a" stroke-width="1.5" stroke-opacity="0.9"/>
<circle cx="824.4" cy="438.7" r="2.3" fill="#fff"/><path d="M822.0,438.3a2.4,2.4 0 0 0 4.8,0" fill="none" stroke="#b8683a" stroke-width="1.5" stroke-opacity="0.9"/>
<circle cx="839.7" cy="481.3" r="2.3" fill="#fff"/><path d="M837.3,480.9a2.4,2.4 0 0 0 4.8,0" fill="none" stroke="#b8683a" stroke-width="1.5" stroke-opacity="0.9"/>
<circle cx="855.0" cy="514.2" r="2.3" fill="#fff"/><path d="M852.6,513.8a2.4,2.4 0 0 0 4.8,0" fill="none" stroke="#b8683a" stroke-width="1.5" stroke-opacity="0.9"/>
<circle cx="870.4" cy="538.6" r="2.3" fill="#fff"/><path d="M868.0,538.2a2.4,2.4 0 0 0 4.8,0" fill="none" stroke="#b8683a" stroke-width="1.5" stroke-opacity="0.9"/>
<circle cx="885.7" cy="572.7" r="2.3" fill="#fff"/><path d="M883.3,572.3a2.4,2.4 0 0 0 4.8,0" fill="none" stroke="#b8683a" stroke-width="1.5" stroke-opacity="0.9"/>
<circle cx="901.1" cy="605.6" r="2.3" fill="#fff"/><path d="M898.7,605.2a2.4,2.4 0 0 0 4.8,0" fill="none" stroke="#b8683a" stroke-width="1.5" stroke-opacity="0.9"/>
<circle cx="916.4" cy="627.5" r="2.3" fill="#fff"/><path d="M914.0,627.1a2.4,2.4 0 0 0 4.8,0" fill="none" stroke="#b8683a" stroke-width="1.5" stroke-opacity="0.9"/>
<circle cx="931.7" cy="638.5" r="2.3" fill="#fff"/><path d="M929.3,638.1a2.4,2.4 0 0 0 4.8,0" fill="none" stroke="#b8683a" stroke-width="1.5" stroke-opacity="0.9"/>
<circle cx="947.1" cy="644.6" r="2.3" fill="#fff"/><path d="M944.7,644.2a2.4,2.4 0 0 0 4.8,0" fill="none" stroke="#b8683a" stroke-width="1.5" stroke-opacity="0.9"/>
<circle cx="962.4" cy="653.1" r="2.3" fill="#fff"/><path d="M960.0,652.7a2.4,2.4 0 0 0 4.8,0" fill="none" stroke="#b8683a" stroke-width="1.5" stroke-opacity="0.9"/>
<circle cx="977.8" cy="667.7" r="2.3" fill="#fff"/><path d="M975.4,667.3a2.4,2.4 0 0 0 4.8,0" fill="none" stroke="#b8683a" stroke-width="1.5" stroke-opacity="0.9"/>
<circle cx="993.1" cy="679.9" r="2.3" fill="#fff"/><path d="M990.7,679.5a2.4,2.4 0 0 0 4.8,0" fill="none" stroke="#b8683a" stroke-width="1.5" stroke-opacity="0.9"/>
<circle cx="1008.4" cy="689.7" r="2.3" fill="#fff"/><path d="M1006.0,689.3a2.4,2.4 0 0 0 4.8,0" fill="none" stroke="#b8683a" stroke-width="1.5" stroke-opacity="0.9"/>
<circle cx="1023.8" cy="694.5" r="2.3" fill="#fff"/><path d="M1021.4,694.1a2.4,2.4 0 0 0 4.8,0" fill="none" stroke="#b8683a" stroke-width="1.5" stroke-opacity="0.9"/>
<circle cx="1039.1" cy="693.3" r="2.3" fill="#fff"/><path d="M1036.7,692.9a2.4,2.4 0 0 0 4.8,0" fill="none" stroke="#b8683a" stroke-width="1.5" stroke-opacity="0.9"/>
<circle cx="1054.4" cy="698.2" r="2.3" fill="#fff"/><path d="M1052.0,697.8a2.4,2.4 0 0 0 4.8,0" fill="none" stroke="#b8683a" stroke-width="1.5" stroke-opacity="0.9"/>
<circle cx="1069.8" cy="707.9" r="2.3" fill="#fff"/><path d="M1067.4,707.5a2.4,2.4 0 0 0 4.8,0" fill="none" stroke="#b8683a" stroke-width="1.5" stroke-opacity="0.9"/>
<circle cx="1085.1" cy="714.0" r="2.3" fill="#fff"/><path d="M1082.7,713.6a2.4,2.4 0 0 0 4.8,0" fill="none" stroke="#b8683a" stroke-width="1.5" stroke-opacity="0.9"/>
<circle cx="1100.5" cy="722.6" r="2.3" fill="#fff"/><path d="M1098.0,722.2a2.4,2.4 0 0 0 4.8,0" fill="none" stroke="#b8683a" stroke-width="1.5" stroke-opacity="0.9"/>
<path d="M425.6,645.8C428.2,642.8 435.8,634.6 440.9,627.5C446.1,620.4 451.2,612.3 456.3,603.2C461.4,594.0 466.5,584.9 471.6,572.7C476.7,560.5 481.8,545.3 486.9,530.1C492.1,514.8 497.2,497.6 502.3,481.3C507.4,465.1 512.5,447.8 517.6,432.6C522.7,417.4 527.9,403.1 533.0,389.9C538.1,376.8 543.2,363.6 548.3,353.4C553.4,343.2 558.5,335.5 563.6,329.0C568.8,322.5 573.9,316.0 579.0,314.4C584.1,312.8 589.2,315.8 594.3,319.3C599.4,322.7 604.5,329.4 609.6,335.1C614.8,340.8 619.9,348.3 625.0,353.4C630.1,358.5 635.2,362.5 640.3,365.6C645.4,368.6 650.6,369.6 655.7,371.7C660.8,373.7 665.9,375.9 671.0,377.8C676.1,379.6 681.2,382.2 686.3,382.6C691.4,383.0 696.6,381.4 701.7,380.2C706.8,379.0 711.9,376.8 717.0,375.3C722.1,373.9 727.2,373.3 732.4,371.7C737.5,370.1 742.6,367.8 747.7,365.6C752.8,363.3 757.9,360.3 763.0,358.3C768.1,356.2 773.2,354.8 778.4,353.4C783.5,352.0 788.6,349.7 793.7,349.7C798.8,349.7 803.9,351.8 809.0,353.4C814.1,355.0 819.3,357.5 824.4,359.5C829.5,361.5 834.6,363.6 839.7,365.6C844.8,367.6 849.9,369.2 855.0,371.7C860.2,374.1 865.3,376.8 870.4,380.2C875.5,383.7 880.6,387.7 885.7,392.4C890.8,397.1 896.0,402.5 901.1,408.2C906.2,413.9 911.3,420.4 916.4,426.5C921.5,432.6 926.6,438.3 931.7,444.8C936.8,451.3 942.0,457.6 947.1,465.5C952.2,473.4 957.3,483.6 962.4,492.3C967.5,501.0 972.6,512.3 977.8,517.9C982.9,523.4 988.0,524.4 993.1,525.7C998.2,527.0 1003.3,526.7 1008.4,525.7C1013.5,524.7 1018.7,519.8 1023.8,519.7C1028.9,519.6 1034.0,523.5 1039.1,525.2C1044.2,526.9 1049.3,530.2 1054.4,530.1C1059.5,529.9 1064.7,522.4 1069.8,524.5C1074.9,526.5 1080.0,540.9 1085.1,542.2C1090.2,543.6 1095.3,529.9 1100.5,532.5C1105.6,535.1 1110.7,551.8 1115.8,558.1C1120.9,564.4 1126.0,568.6 1131.1,570.3C1136.2,571.9 1141.4,565.2 1146.5,567.8C1151.6,570.5 1156.7,581.8 1161.8,586.1C1166.9,590.4 1172.0,590.8 1177.1,593.4C1182.2,596.1 1187.4,603.8 1192.5,601.9C1197.6,600.1 1202.7,583.1 1207.8,582.4C1212.9,581.8 1218.0,595.4 1223.2,598.3C1228.3,601.1 1233.4,596.9 1238.5,599.5C1243.6,602.1 1248.7,611.7 1253.8,614.1C1258.9,616.6 1264.0,611.4 1269.2,614.1C1274.3,616.9 1281.9,627.8 1284.5,630.6" fill="none" stroke="#8faadc" stroke-width="0.95" stroke-dasharray="4 3" stroke-opacity="0.9"/>
<circle cx="425.6" cy="645.8" r="2.3" fill="#fff"/><path d="M423.2,645.4a2.4,2.4 0 0 0 4.8,0" fill="none" stroke="#8faadc" stroke-width="1.5" stroke-opacity="0.9"/>
<circle cx="440.9" cy="627.5" r="2.3" fill="#fff"/><path d="M438.5,627.1a2.4,2.4 0 0 0 4.8,0" fill="none" stroke="#8faadc" stroke-width="1.5" stroke-opacity="0.9"/>
<circle cx="456.3" cy="603.2" r="2.3" fill="#fff"/><path d="M453.9,602.8a2.4,2.4 0 0 0 4.8,0" fill="none" stroke="#8faadc" stroke-width="1.5" stroke-opacity="0.9"/>
<circle cx="471.6" cy="572.7" r="2.3" fill="#fff"/><path d="M469.2,572.3a2.4,2.4 0 0 0 4.8,0" fill="none" stroke="#8faadc" stroke-width="1.5" stroke-opacity="0.9"/>
<circle cx="486.9" cy="530.1" r="2.3" fill="#fff"/><path d="M484.6,529.7a2.4,2.4 0 0 0 4.8,0" fill="none" stroke="#8faadc" stroke-width="1.5" stroke-opacity="0.9"/>
<circle cx="502.3" cy="481.3" r="2.3" fill="#fff"/><path d="M499.9,480.9a2.4,2.4 0 0 0 4.8,0" fill="none" stroke="#8faadc" stroke-width="1.5" stroke-opacity="0.9"/>
<circle cx="517.6" cy="432.6" r="2.3" fill="#fff"/><path d="M515.2,432.2a2.4,2.4 0 0 0 4.8,0" fill="none" stroke="#8faadc" stroke-width="1.5" stroke-opacity="0.9"/>
<circle cx="533.0" cy="389.9" r="2.3" fill="#fff"/><path d="M530.6,389.6a2.4,2.4 0 0 0 4.8,0" fill="none" stroke="#8faadc" stroke-width="1.5" stroke-opacity="0.9"/>
<circle cx="548.3" cy="353.4" r="2.3" fill="#fff"/><path d="M545.9,353.0a2.4,2.4 0 0 0 4.8,0" fill="none" stroke="#8faadc" stroke-width="1.5" stroke-opacity="0.9"/>
<circle cx="563.6" cy="329.0" r="2.3" fill="#fff"/><path d="M561.2,328.6a2.4,2.4 0 0 0 4.8,0" fill="none" stroke="#8faadc" stroke-width="1.5" stroke-opacity="0.9"/>
<circle cx="579.0" cy="314.4" r="2.3" fill="#fff"/><path d="M576.6,314.0a2.4,2.4 0 0 0 4.8,0" fill="none" stroke="#8faadc" stroke-width="1.5" stroke-opacity="0.9"/>
<circle cx="594.3" cy="319.3" r="2.3" fill="#fff"/><path d="M591.9,318.9a2.4,2.4 0 0 0 4.8,0" fill="none" stroke="#8faadc" stroke-width="1.5" stroke-opacity="0.9"/>
<circle cx="609.6" cy="335.1" r="2.3" fill="#fff"/><path d="M607.2,334.7a2.4,2.4 0 0 0 4.8,0" fill="none" stroke="#8faadc" stroke-width="1.5" stroke-opacity="0.9"/>
<circle cx="625.0" cy="353.4" r="2.3" fill="#fff"/><path d="M622.6,353.0a2.4,2.4 0 0 0 4.8,0" fill="none" stroke="#8faadc" stroke-width="1.5" stroke-opacity="0.9"/>
<circle cx="640.3" cy="365.6" r="2.3" fill="#fff"/><path d="M637.9,365.2a2.4,2.4 0 0 0 4.8,0" fill="none" stroke="#8faadc" stroke-width="1.5" stroke-opacity="0.9"/>
<circle cx="655.7" cy="371.7" r="2.3" fill="#fff"/><path d="M653.3,371.3a2.4,2.4 0 0 0 4.8,0" fill="none" stroke="#8faadc" stroke-width="1.5" stroke-opacity="0.9"/>
<circle cx="671.0" cy="377.8" r="2.3" fill="#fff"/><path d="M668.6,377.4a2.4,2.4 0 0 0 4.8,0" fill="none" stroke="#8faadc" stroke-width="1.5" stroke-opacity="0.9"/>
<circle cx="686.3" cy="382.6" r="2.3" fill="#fff"/><path d="M683.9,382.2a2.4,2.4 0 0 0 4.8,0" fill="none" stroke="#8faadc" stroke-width="1.5" stroke-opacity="0.9"/>
<circle cx="701.7" cy="380.2" r="2.3" fill="#fff"/><path d="M699.3,379.8a2.4,2.4 0 0 0 4.8,0" fill="none" stroke="#8faadc" stroke-width="1.5" stroke-opacity="0.9"/>
<circle cx="717.0" cy="375.3" r="2.3" fill="#fff"/><path d="M714.6,374.9a2.4,2.4 0 0 0 4.8,0" fill="none" stroke="#8faadc" stroke-width="1.5" stroke-opacity="0.9"/>
<circle cx="732.4" cy="371.7" r="2.3" fill="#fff"/><path d="M730.0,371.3a2.4,2.4 0 0 0 4.8,0" fill="none" stroke="#8faadc" stroke-width="1.5" stroke-opacity="0.9"/>
<circle cx="747.7" cy="365.6" r="2.3" fill="#fff"/><path d="M745.3,365.2a2.4,2.4 0 0 0 4.8,0" fill="none" stroke="#8faadc" stroke-width="1.5" stroke-opacity="0.9"/>
<circle cx="763.0" cy="358.3" r="2.3" fill="#fff"/><path d="M760.6,357.9a2.4,2.4 0 0 0 4.8,0" fill="none" stroke="#8faadc" stroke-width="1.5" stroke-opacity="0.9"/>
<circle cx="778.4" cy="353.4" r="2.3" fill="#fff"/><path d="M776.0,353.0a2.4,2.4 0 0 0 4.8,0" fill="none" stroke="#8faadc" stroke-width="1.5" stroke-opacity="0.9"/>
<circle cx="793.7" cy="349.7" r="2.3" fill="#fff"/><path d="M791.3,349.3a2.4,2.4 0 0 0 4.8,0" fill="none" stroke="#8faadc" stroke-width="1.5" stroke-opacity="0.9"/>
<circle cx="809.0" cy="353.4" r="2.3" fill="#fff"/><path d="M806.6,353.0a2.4,2.4 0 0 0 4.8,0" fill="none" stroke="#8faadc" stroke-width="1.5" stroke-opacity="0.9"/>
<circle cx="824.4" cy="359.5" r="2.3" fill="#fff"/><path d="M822.0,359.1a2.4,2.4 0 0 0 4.8,0" fill="none" stroke="#8faadc" stroke-width="1.5" stroke-opacity="0.9"/>
<circle cx="839.7" cy="365.6" r="2.3" fill="#fff"/><path d="M837.3,365.2a2.4,2.4 0 0 0 4.8,0" fill="none" stroke="#8faadc" stroke-width="1.5" stroke-opacity="0.9"/>
<circle cx="855.0" cy="371.7" r="2.3" fill="#fff"/><path d="M852.6,371.3a2.4,2.4 0 0 0 4.8,0" fill="none" stroke="#8faadc" stroke-width="1.5" stroke-opacity="0.9"/>
<circle cx="870.4" cy="380.2" r="2.3" fill="#fff"/><path d="M868.0,379.8a2.4,2.4 0 0 0 4.8,0" fill="none" stroke="#8faadc" stroke-width="1.5" stroke-opacity="0.9"/>
<circle cx="885.7" cy="392.4" r="2.3" fill="#fff"/><path d="M883.3,392.0a2.4,2.4 0 0 0 4.8,0" fill="none" stroke="#8faadc" stroke-width="1.5" stroke-opacity="0.9"/>
<circle cx="901.1" cy="408.2" r="2.3" fill="#fff"/><path d="M898.7,407.8a2.4,2.4 0 0 0 4.8,0" fill="none" stroke="#8faadc" stroke-width="1.5" stroke-opacity="0.9"/>
<circle cx="916.4" cy="426.5" r="2.3" fill="#fff"/><path d="M914.0,426.1a2.4,2.4 0 0 0 4.8,0" fill="none" stroke="#8faadc" stroke-width="1.5" stroke-opacity="0.9"/>
<circle cx="931.7" cy="444.8" r="2.3" fill="#fff"/><path d="M929.3,444.4a2.4,2.4 0 0 0 4.8,0" fill="none" stroke="#8faadc" stroke-width="1.5" stroke-opacity="0.9"/>
<circle cx="947.1" cy="465.5" r="2.3" fill="#fff"/><path d="M944.7,465.1a2.4,2.4 0 0 0 4.8,0" fill="none" stroke="#8faadc" stroke-width="1.5" stroke-opacity="0.9"/>
<circle cx="962.4" cy="492.3" r="2.3" fill="#fff"/><path d="M960.0,491.9a2.4,2.4 0 0 0 4.8,0" fill="none" stroke="#8faadc" stroke-width="1.5" stroke-opacity="0.9"/>
<circle cx="977.8" cy="517.9" r="2.3" fill="#fff"/><path d="M975.4,517.5a2.4,2.4 0 0 0 4.8,0" fill="none" stroke="#8faadc" stroke-width="1.5" stroke-opacity="0.9"/>
<circle cx="993.1" cy="525.7" r="2.3" fill="#fff"/><path d="M990.7,525.3a2.4,2.4 0 0 0 4.8,0" fill="none" stroke="#8faadc" stroke-width="1.5" stroke-opacity="0.9"/>
<circle cx="1008.4" cy="525.7" r="2.3" fill="#fff"/><path d="M1006.0,525.3a2.4,2.4 0 0 0 4.8,0" fill="none" stroke="#8faadc" stroke-width="1.5" stroke-opacity="0.9"/>
<circle cx="1023.8" cy="519.7" r="2.3" fill="#fff"/><path d="M1021.4,519.3a2.4,2.4 0 0 0 4.8,0" fill="none" stroke="#8faadc" stroke-width="1.5" stroke-opacity="0.9"/>
<circle cx="1039.1" cy="525.2" r="2.3" fill="#fff"/><path d="M1036.7,524.8a2.4,2.4 0 0 0 4.8,0" fill="none" stroke="#8faadc" stroke-width="1.5" stroke-opacity="0.9"/>
<circle cx="1054.4" cy="530.1" r="2.3" fill="#fff"/><path d="M1052.0,529.7a2.4,2.4 0 0 0 4.8,0" fill="none" stroke="#8faadc" stroke-width="1.5" stroke-opacity="0.9"/>
<circle cx="1069.8" cy="524.5" r="2.3" fill="#fff"/><path d="M1067.4,524.1a2.4,2.4 0 0 0 4.8,0" fill="none" stroke="#8faadc" stroke-width="1.5" stroke-opacity="0.9"/>
<circle cx="1085.1" cy="542.2" r="2.3" fill="#fff"/><path d="M1082.7,541.8a2.4,2.4 0 0 0 4.8,0" fill="none" stroke="#8faadc" stroke-width="1.5" stroke-opacity="0.9"/>
<circle cx="1100.5" cy="532.5" r="2.3" fill="#fff"/><path d="M1098.0,532.1a2.4,2.4 0 0 0 4.8,0" fill="none" stroke="#8faadc" stroke-width="1.5" stroke-opacity="0.9"/>
<circle cx="1115.8" cy="558.1" r="2.3" fill="#fff"/><path d="M1113.4,557.7a2.4,2.4 0 0 0 4.8,0" fill="none" stroke="#8faadc" stroke-width="1.5" stroke-opacity="0.9"/>
<circle cx="1131.1" cy="570.3" r="2.3" fill="#fff"/><path d="M1128.7,569.9a2.4,2.4 0 0 0 4.8,0" fill="none" stroke="#8faadc" stroke-width="1.5" stroke-opacity="0.9"/>
<circle cx="1146.5" cy="567.8" r="2.3" fill="#fff"/><path d="M1144.1,567.4a2.4,2.4 0 0 0 4.8,0" fill="none" stroke="#8faadc" stroke-width="1.5" stroke-opacity="0.9"/>
<circle cx="1161.8" cy="586.1" r="2.3" fill="#fff"/><path d="M1159.4,585.7a2.4,2.4 0 0 0 4.8,0" fill="none" stroke="#8faadc" stroke-width="1.5" stroke-opacity="0.9"/>
<circle cx="1177.1" cy="593.4" r="2.3" fill="#fff"/><path d="M1174.7,593.0a2.4,2.4 0 0 0 4.8,0" fill="none" stroke="#8faadc" stroke-width="1.5" stroke-opacity="0.9"/>
<circle cx="1192.5" cy="601.9" r="2.3" fill="#fff"/><path d="M1190.1,601.5a2.4,2.4 0 0 0 4.8,0" fill="none" stroke="#8faadc" stroke-width="1.5" stroke-opacity="0.9"/>
<circle cx="1207.8" cy="582.4" r="2.3" fill="#fff"/><path d="M1205.4,582.0a2.4,2.4 0 0 0 4.8,0" fill="none" stroke="#8faadc" stroke-width="1.5" stroke-opacity="0.9"/>
<circle cx="1223.2" cy="598.3" r="2.3" fill="#fff"/><path d="M1220.8,597.9a2.4,2.4 0 0 0 4.8,0" fill="none" stroke="#8faadc" stroke-width="1.5" stroke-opacity="0.9"/>
<circle cx="1238.5" cy="599.5" r="2.3" fill="#fff"/><path d="M1236.1,599.1a2.4,2.4 0 0 0 4.8,0" fill="none" stroke="#8faadc" stroke-width="1.5" stroke-opacity="0.9"/>
<circle cx="1253.8" cy="614.1" r="2.3" fill="#fff"/><path d="M1251.4,613.7a2.4,2.4 0 0 0 4.8,0" fill="none" stroke="#8faadc" stroke-width="1.5" stroke-opacity="0.9"/>
<circle cx="1269.2" cy="614.1" r="2.3" fill="#fff"/><path d="M1266.8,613.7a2.4,2.4 0 0 0 4.8,0" fill="none" stroke="#8faadc" stroke-width="1.5" stroke-opacity="0.9"/>
<circle cx="1284.5" cy="630.6" r="2.3" fill="#fff"/><path d="M1282.1,630.2a2.4,2.4 0 0 0 4.8,0" fill="none" stroke="#8faadc" stroke-width="1.5" stroke-opacity="0.9"/>
<path d="M456.3,664.1C458.8,660.0 466.5,648.8 471.6,639.7C476.7,630.6 481.8,620.4 486.9,609.2C492.1,598.1 497.2,585.9 502.3,572.7C507.4,559.5 512.5,544.3 517.6,530.1C522.7,515.8 527.9,501.6 533.0,487.4C538.1,473.2 543.2,458.0 548.3,444.8C553.4,431.6 558.5,419.4 563.6,408.2C568.8,397.1 573.9,386.5 579.0,377.8C584.1,369.0 589.2,361.9 594.3,355.8C599.4,349.7 604.5,344.9 609.6,341.2C614.8,337.6 619.9,335.9 625.0,333.9C630.1,331.9 635.2,330.5 640.3,329.0C645.4,327.6 650.6,326.4 655.7,325.4C660.8,324.4 665.9,322.7 671.0,322.9C676.1,323.1 681.2,326.4 686.3,326.6C691.4,326.8 696.6,325.0 701.7,324.2C706.8,323.3 711.9,321.5 717.0,321.7C722.1,321.9 727.2,325.2 732.4,325.4C737.5,325.6 742.6,323.6 747.7,322.9C752.8,322.3 757.9,321.5 763.0,321.7C768.1,321.9 773.2,324.0 778.4,324.2C783.5,324.4 788.6,323.3 793.7,322.9C798.8,322.5 803.9,321.7 809.0,321.7C814.1,321.7 819.3,322.1 824.4,322.9C829.5,323.8 834.6,325.6 839.7,326.6C844.8,327.6 849.9,328.2 855.0,329.0C860.2,329.8 865.3,328.4 870.4,331.5C875.5,334.5 880.6,339.6 885.7,347.3C890.8,355.0 896.0,366.6 901.1,377.8C906.2,388.9 911.3,403.1 916.4,414.3C921.5,425.5 926.6,434.6 931.7,444.8C936.8,454.9 942.0,466.5 947.1,475.2C952.2,484.0 957.3,490.1 962.4,497.2C967.5,504.3 972.6,512.0 977.8,517.9C982.9,523.8 988.0,527.6 993.1,532.5C998.2,537.4 1003.3,544.9 1008.4,547.1C1013.5,549.3 1018.7,544.5 1023.8,545.9C1028.9,547.3 1034.0,554.0 1039.1,555.6C1044.2,557.3 1049.3,555.2 1054.4,555.6C1059.5,556.0 1064.7,556.7 1069.8,558.1C1074.9,559.5 1080.0,562.0 1085.1,564.2C1090.2,566.3 1095.3,565.8 1100.5,570.9C1105.6,575.9 1110.7,588.0 1115.8,594.6C1120.9,601.2 1128.6,607.8 1131.1,610.5" fill="none" stroke="#4472c4" stroke-width="0.95" stroke-dasharray="4 3" stroke-opacity="0.9"/>
<circle cx="456.3" cy="664.1" r="2.3" fill="#fff"/><path d="M453.9,663.7a2.4,2.4 0 0 0 4.8,0" fill="none" stroke="#4472c4" stroke-width="1.5" stroke-opacity="0.9"/>
<circle cx="471.6" cy="639.7" r="2.3" fill="#fff"/><path d="M469.2,639.3a2.4,2.4 0 0 0 4.8,0" fill="none" stroke="#4472c4" stroke-width="1.5" stroke-opacity="0.9"/>
<circle cx="486.9" cy="609.2" r="2.3" fill="#fff"/><path d="M484.6,608.9a2.4,2.4 0 0 0 4.8,0" fill="none" stroke="#4472c4" stroke-width="1.5" stroke-opacity="0.9"/>
<circle cx="502.3" cy="572.7" r="2.3" fill="#fff"/><path d="M499.9,572.3a2.4,2.4 0 0 0 4.8,0" fill="none" stroke="#4472c4" stroke-width="1.5" stroke-opacity="0.9"/>
<circle cx="517.6" cy="530.1" r="2.3" fill="#fff"/><path d="M515.2,529.7a2.4,2.4 0 0 0 4.8,0" fill="none" stroke="#4472c4" stroke-width="1.5" stroke-opacity="0.9"/>
<circle cx="533.0" cy="487.4" r="2.3" fill="#fff"/><path d="M530.6,487.0a2.4,2.4 0 0 0 4.8,0" fill="none" stroke="#4472c4" stroke-width="1.5" stroke-opacity="0.9"/>
<circle cx="548.3" cy="444.8" r="2.3" fill="#fff"/><path d="M545.9,444.4a2.4,2.4 0 0 0 4.8,0" fill="none" stroke="#4472c4" stroke-width="1.5" stroke-opacity="0.9"/>
<circle cx="563.6" cy="408.2" r="2.3" fill="#fff"/><path d="M561.2,407.8a2.4,2.4 0 0 0 4.8,0" fill="none" stroke="#4472c4" stroke-width="1.5" stroke-opacity="0.9"/>
<circle cx="579.0" cy="377.8" r="2.3" fill="#fff"/><path d="M576.6,377.4a2.4,2.4 0 0 0 4.8,0" fill="none" stroke="#4472c4" stroke-width="1.5" stroke-opacity="0.9"/>
<circle cx="594.3" cy="355.8" r="2.3" fill="#fff"/><path d="M591.9,355.4a2.4,2.4 0 0 0 4.8,0" fill="none" stroke="#4472c4" stroke-width="1.5" stroke-opacity="0.9"/>
<circle cx="609.6" cy="341.2" r="2.3" fill="#fff"/><path d="M607.2,340.8a2.4,2.4 0 0 0 4.8,0" fill="none" stroke="#4472c4" stroke-width="1.5" stroke-opacity="0.9"/>
<circle cx="625.0" cy="333.9" r="2.3" fill="#fff"/><path d="M622.6,333.5a2.4,2.4 0 0 0 4.8,0" fill="none" stroke="#4472c4" stroke-width="1.5" stroke-opacity="0.9"/>
<circle cx="640.3" cy="329.0" r="2.3" fill="#fff"/><path d="M637.9,328.6a2.4,2.4 0 0 0 4.8,0" fill="none" stroke="#4472c4" stroke-width="1.5" stroke-opacity="0.9"/>
<circle cx="655.7" cy="325.4" r="2.3" fill="#fff"/><path d="M653.3,325.0a2.4,2.4 0 0 0 4.8,0" fill="none" stroke="#4472c4" stroke-width="1.5" stroke-opacity="0.9"/>
<circle cx="671.0" cy="322.9" r="2.3" fill="#fff"/><path d="M668.6,322.5a2.4,2.4 0 0 0 4.8,0" fill="none" stroke="#4472c4" stroke-width="1.5" stroke-opacity="0.9"/>
<circle cx="686.3" cy="326.6" r="2.3" fill="#fff"/><path d="M683.9,326.2a2.4,2.4 0 0 0 4.8,0" fill="none" stroke="#4472c4" stroke-width="1.5" stroke-opacity="0.9"/>
<circle cx="701.7" cy="324.2" r="2.3" fill="#fff"/><path d="M699.3,323.8a2.4,2.4 0 0 0 4.8,0" fill="none" stroke="#4472c4" stroke-width="1.5" stroke-opacity="0.9"/>
<circle cx="717.0" cy="321.7" r="2.3" fill="#fff"/><path d="M714.6,321.3a2.4,2.4 0 0 0 4.8,0" fill="none" stroke="#4472c4" stroke-width="1.5" stroke-opacity="0.9"/>
<circle cx="732.4" cy="325.4" r="2.3" fill="#fff"/><path d="M730.0,325.0a2.4,2.4 0 0 0 4.8,0" fill="none" stroke="#4472c4" stroke-width="1.5" stroke-opacity="0.9"/>
<circle cx="747.7" cy="322.9" r="2.3" fill="#fff"/><path d="M745.3,322.5a2.4,2.4 0 0 0 4.8,0" fill="none" stroke="#4472c4" stroke-width="1.5" stroke-opacity="0.9"/>
<circle cx="763.0" cy="321.7" r="2.3" fill="#fff"/><path d="M760.6,321.3a2.4,2.4 0 0 0 4.8,0" fill="none" stroke="#4472c4" stroke-width="1.5" stroke-opacity="0.9"/>
<circle cx="778.4" cy="324.2" r="2.3" fill="#fff"/><path d="M776.0,323.8a2.4,2.4 0 0 0 4.8,0" fill="none" stroke="#4472c4" stroke-width="1.5" stroke-opacity="0.9"/>
<circle cx="793.7" cy="322.9" r="2.3" fill="#fff"/><path d="M791.3,322.5a2.4,2.4 0 0 0 4.8,0" fill="none" stroke="#4472c4" stroke-width="1.5" stroke-opacity="0.9"/>
<circle cx="809.0" cy="321.7" r="2.3" fill="#fff"/><path d="M806.6,321.3a2.4,2.4 0 0 0 4.8,0" fill="none" stroke="#4472c4" stroke-width="1.5" stroke-opacity="0.9"/>
<circle cx="824.4" cy="322.9" r="2.3" fill="#fff"/><path d="M822.0,322.5a2.4,2.4 0 0 0 4.8,0" fill="none" stroke="#4472c4" stroke-width="1.5" stroke-opacity="0.9"/>
<circle cx="839.7" cy="326.6" r="2.3" fill="#fff"/><path d="M837.3,326.2a2.4,2.4 0 0 0 4.8,0" fill="none" stroke="#4472c4" stroke-width="1.5" stroke-opacity="0.9"/>
<circle cx="855.0" cy="329.0" r="2.3" fill="#fff"/><path d="M852.6,328.6a2.4,2.4 0 0 0 4.8,0" fill="none" stroke="#4472c4" stroke-width="1.5" stroke-opacity="0.9"/>
<circle cx="870.4" cy="331.5" r="2.3" fill="#fff"/><path d="M868.0,331.1a2.4,2.4 0 0 0 4.8,0" fill="none" stroke="#4472c4" stroke-width="1.5" stroke-opacity="0.9"/>
<circle cx="885.7" cy="347.3" r="2.3" fill="#fff"/><path d="M883.3,346.9a2.4,2.4 0 0 0 4.8,0" fill="none" stroke="#4472c4" stroke-width="1.5" stroke-opacity="0.9"/>
<circle cx="901.1" cy="377.8" r="2.3" fill="#fff"/><path d="M898.7,377.4a2.4,2.4 0 0 0 4.8,0" fill="none" stroke="#4472c4" stroke-width="1.5" stroke-opacity="0.9"/>
<circle cx="916.4" cy="414.3" r="2.3" fill="#fff"/><path d="M914.0,413.9a2.4,2.4 0 0 0 4.8,0" fill="none" stroke="#4472c4" stroke-width="1.5" stroke-opacity="0.9"/>
<circle cx="931.7" cy="444.8" r="2.3" fill="#fff"/><path d="M929.3,444.4a2.4,2.4 0 0 0 4.8,0" fill="none" stroke="#4472c4" stroke-width="1.5" stroke-opacity="0.9"/>
<circle cx="947.1" cy="475.2" r="2.3" fill="#fff"/><path d="M944.7,474.8a2.4,2.4 0 0 0 4.8,0" fill="none" stroke="#4472c4" stroke-width="1.5" stroke-opacity="0.9"/>
<circle cx="962.4" cy="497.2" r="2.3" fill="#fff"/><path d="M960.0,496.8a2.4,2.4 0 0 0 4.8,0" fill="none" stroke="#4472c4" stroke-width="1.5" stroke-opacity="0.9"/>
<circle cx="977.8" cy="517.9" r="2.3" fill="#fff"/><path d="M975.4,517.5a2.4,2.4 0 0 0 4.8,0" fill="none" stroke="#4472c4" stroke-width="1.5" stroke-opacity="0.9"/>
<circle cx="993.1" cy="532.5" r="2.3" fill="#fff"/><path d="M990.7,532.1a2.4,2.4 0 0 0 4.8,0" fill="none" stroke="#4472c4" stroke-width="1.5" stroke-opacity="0.9"/>
<circle cx="1008.4" cy="547.1" r="2.3" fill="#fff"/><path d="M1006.0,546.7a2.4,2.4 0 0 0 4.8,0" fill="none" stroke="#4472c4" stroke-width="1.5" stroke-opacity="0.9"/>
<circle cx="1023.8" cy="545.9" r="2.3" fill="#fff"/><path d="M1021.4,545.5a2.4,2.4 0 0 0 4.8,0" fill="none" stroke="#4472c4" stroke-width="1.5" stroke-opacity="0.9"/>
<circle cx="1039.1" cy="555.6" r="2.3" fill="#fff"/><path d="M1036.7,555.2a2.4,2.4 0 0 0 4.8,0" fill="none" stroke="#4472c4" stroke-width="1.5" stroke-opacity="0.9"/>
<circle cx="1054.4" cy="555.6" r="2.3" fill="#fff"/><path d="M1052.0,555.2a2.4,2.4 0 0 0 4.8,0" fill="none" stroke="#4472c4" stroke-width="1.5" stroke-opacity="0.9"/>
<circle cx="1069.8" cy="558.1" r="2.3" fill="#fff"/><path d="M1067.4,557.7a2.4,2.4 0 0 0 4.8,0" fill="none" stroke="#4472c4" stroke-width="1.5" stroke-opacity="0.9"/>
<circle cx="1085.1" cy="564.2" r="2.3" fill="#fff"/><path d="M1082.7,563.8a2.4,2.4 0 0 0 4.8,0" fill="none" stroke="#4472c4" stroke-width="1.5" stroke-opacity="0.9"/>
<circle cx="1100.5" cy="570.9" r="2.3" fill="#fff"/><path d="M1098.0,570.5a2.4,2.4 0 0 0 4.8,0" fill="none" stroke="#4472c4" stroke-width="1.5" stroke-opacity="0.9"/>
<circle cx="1115.8" cy="594.6" r="2.3" fill="#fff"/><path d="M1113.4,594.2a2.4,2.4 0 0 0 4.8,0" fill="none" stroke="#4472c4" stroke-width="1.5" stroke-opacity="0.9"/>
<circle cx="1131.1" cy="610.5" r="2.3" fill="#fff"/><path d="M1128.7,610.1a2.4,2.4 0 0 0 4.8,0" fill="none" stroke="#4472c4" stroke-width="1.5" stroke-opacity="0.9"/>
<path d="M256.9,664.1C259.4,663.5 267.1,661.4 272.2,660.4C277.3,659.4 282.4,658.4 287.6,658.0C292.7,657.6 297.8,658.4 302.9,658.0C308.0,657.6 313.1,656.2 318.2,655.5C323.4,654.9 328.5,654.9 333.6,654.3C338.7,653.7 343.8,653.3 348.9,651.9C354.0,650.5 359.1,649.3 364.2,645.8C369.4,642.3 374.5,635.2 379.6,631.2C384.7,627.1 389.8,625.1 394.9,621.4C400.0,617.8 405.1,615.3 410.3,609.2C415.4,603.2 420.5,595.0 425.6,584.9C430.7,574.7 435.8,561.5 440.9,548.3C446.1,535.1 451.2,519.9 456.3,505.7C461.4,491.5 466.5,476.2 471.6,463.1C476.7,449.9 481.8,435.6 486.9,426.5C492.1,417.4 497.2,410.3 502.3,408.2C507.4,406.2 512.5,409.2 517.6,414.3C522.7,419.4 527.9,431.2 533.0,438.7C538.1,446.2 543.2,454.1 548.3,459.4C553.4,464.7 558.5,468.3 563.6,470.4C568.8,472.4 573.9,471.2 579.0,471.6C584.1,472.0 589.2,473.8 594.3,472.8C599.4,471.8 604.5,467.5 609.6,465.5C614.8,463.5 619.9,461.2 625.0,460.6C630.1,460.0 635.2,461.6 640.3,461.8C645.4,462.0 650.6,460.2 655.7,461.8C660.8,463.5 665.9,468.9 671.0,471.6C676.1,474.2 681.2,477.5 686.3,477.7C691.4,477.9 696.6,474.8 701.7,472.8C706.8,470.8 711.9,465.7 717.0,465.5C722.1,465.3 727.2,468.7 732.4,471.6C737.5,474.4 742.6,481.9 747.7,482.5C752.8,483.2 757.9,470.6 763.0,475.2C768.1,479.9 773.2,498.0 778.4,510.6C783.5,523.2 788.6,540.0 793.7,550.8C798.8,561.5 803.9,568.8 809.0,575.1C814.1,581.4 819.3,584.9 824.4,588.5C829.5,592.2 837.2,595.6 839.7,597.1" fill="none" stroke="#9dc3e6" stroke-width="0.95" stroke-dasharray="4 3" stroke-opacity="0.9"/>
<circle cx="256.9" cy="664.1" r="2.3" fill="#fff"/><path d="M254.5,663.7a2.4,2.4 0 0 0 4.8,0" fill="none" stroke="#9dc3e6" stroke-width="1.5" stroke-opacity="0.9"/>
<circle cx="272.2" cy="660.4" r="2.3" fill="#fff"/><path d="M269.8,660.0a2.4,2.4 0 0 0 4.8,0" fill="none" stroke="#9dc3e6" stroke-width="1.5" stroke-opacity="0.9"/>
<circle cx="287.6" cy="658.0" r="2.3" fill="#fff"/><path d="M285.2,657.6a2.4,2.4 0 0 0 4.8,0" fill="none" stroke="#9dc3e6" stroke-width="1.5" stroke-opacity="0.9"/>
<circle cx="302.9" cy="658.0" r="2.3" fill="#fff"/><path d="M300.5,657.6a2.4,2.4 0 0 0 4.8,0" fill="none" stroke="#9dc3e6" stroke-width="1.5" stroke-opacity="0.9"/>
<circle cx="318.2" cy="655.5" r="2.3" fill="#fff"/><path d="M315.8,655.1a2.4,2.4 0 0 0 4.8,0" fill="none" stroke="#9dc3e6" stroke-width="1.5" stroke-opacity="0.9"/>
<circle cx="333.6" cy="654.3" r="2.3" fill="#fff"/><path d="M331.2,653.9a2.4,2.4 0 0 0 4.8,0" fill="none" stroke="#9dc3e6" stroke-width="1.5" stroke-opacity="0.9"/>
<circle cx="348.9" cy="651.9" r="2.3" fill="#fff"/><path d="M346.5,651.5a2.4,2.4 0 0 0 4.8,0" fill="none" stroke="#9dc3e6" stroke-width="1.5" stroke-opacity="0.9"/>
<circle cx="364.2" cy="645.8" r="2.3" fill="#fff"/><path d="M361.9,645.4a2.4,2.4 0 0 0 4.8,0" fill="none" stroke="#9dc3e6" stroke-width="1.5" stroke-opacity="0.9"/>
<circle cx="379.6" cy="631.2" r="2.3" fill="#fff"/><path d="M377.2,630.8a2.4,2.4 0 0 0 4.8,0" fill="none" stroke="#9dc3e6" stroke-width="1.5" stroke-opacity="0.9"/>
<circle cx="394.9" cy="621.4" r="2.3" fill="#fff"/><path d="M392.5,621.0a2.4,2.4 0 0 0 4.8,0" fill="none" stroke="#9dc3e6" stroke-width="1.5" stroke-opacity="0.9"/>
<circle cx="410.3" cy="609.2" r="2.3" fill="#fff"/><path d="M407.9,608.9a2.4,2.4 0 0 0 4.8,0" fill="none" stroke="#9dc3e6" stroke-width="1.5" stroke-opacity="0.9"/>
<circle cx="425.6" cy="584.9" r="2.3" fill="#fff"/><path d="M423.2,584.5a2.4,2.4 0 0 0 4.8,0" fill="none" stroke="#9dc3e6" stroke-width="1.5" stroke-opacity="0.9"/>
<circle cx="440.9" cy="548.3" r="2.3" fill="#fff"/><path d="M438.5,547.9a2.4,2.4 0 0 0 4.8,0" fill="none" stroke="#9dc3e6" stroke-width="1.5" stroke-opacity="0.9"/>
<circle cx="456.3" cy="505.7" r="2.3" fill="#fff"/><path d="M453.9,505.3a2.4,2.4 0 0 0 4.8,0" fill="none" stroke="#9dc3e6" stroke-width="1.5" stroke-opacity="0.9"/>
<circle cx="471.6" cy="463.1" r="2.3" fill="#fff"/><path d="M469.2,462.7a2.4,2.4 0 0 0 4.8,0" fill="none" stroke="#9dc3e6" stroke-width="1.5" stroke-opacity="0.9"/>
<circle cx="486.9" cy="426.5" r="2.3" fill="#fff"/><path d="M484.6,426.1a2.4,2.4 0 0 0 4.8,0" fill="none" stroke="#9dc3e6" stroke-width="1.5" stroke-opacity="0.9"/>
<circle cx="502.3" cy="408.2" r="2.3" fill="#fff"/><path d="M499.9,407.8a2.4,2.4 0 0 0 4.8,0" fill="none" stroke="#9dc3e6" stroke-width="1.5" stroke-opacity="0.9"/>
<circle cx="517.6" cy="414.3" r="2.3" fill="#fff"/><path d="M515.2,413.9a2.4,2.4 0 0 0 4.8,0" fill="none" stroke="#9dc3e6" stroke-width="1.5" stroke-opacity="0.9"/>
<circle cx="533.0" cy="438.7" r="2.3" fill="#fff"/><path d="M530.6,438.3a2.4,2.4 0 0 0 4.8,0" fill="none" stroke="#9dc3e6" stroke-width="1.5" stroke-opacity="0.9"/>
<circle cx="548.3" cy="459.4" r="2.3" fill="#fff"/><path d="M545.9,459.0a2.4,2.4 0 0 0 4.8,0" fill="none" stroke="#9dc3e6" stroke-width="1.5" stroke-opacity="0.9"/>
<circle cx="563.6" cy="470.4" r="2.3" fill="#fff"/><path d="M561.2,470.0a2.4,2.4 0 0 0 4.8,0" fill="none" stroke="#9dc3e6" stroke-width="1.5" stroke-opacity="0.9"/>
<circle cx="579.0" cy="471.6" r="2.3" fill="#fff"/><path d="M576.6,471.2a2.4,2.4 0 0 0 4.8,0" fill="none" stroke="#9dc3e6" stroke-width="1.5" stroke-opacity="0.9"/>
<circle cx="594.3" cy="472.8" r="2.3" fill="#fff"/><path d="M591.9,472.4a2.4,2.4 0 0 0 4.8,0" fill="none" stroke="#9dc3e6" stroke-width="1.5" stroke-opacity="0.9"/>
<circle cx="609.6" cy="465.5" r="2.3" fill="#fff"/><path d="M607.2,465.1a2.4,2.4 0 0 0 4.8,0" fill="none" stroke="#9dc3e6" stroke-width="1.5" stroke-opacity="0.9"/>
<circle cx="625.0" cy="460.6" r="2.3" fill="#fff"/><path d="M622.6,460.2a2.4,2.4 0 0 0 4.8,0" fill="none" stroke="#9dc3e6" stroke-width="1.5" stroke-opacity="0.9"/>
<circle cx="640.3" cy="461.8" r="2.3" fill="#fff"/><path d="M637.9,461.4a2.4,2.4 0 0 0 4.8,0" fill="none" stroke="#9dc3e6" stroke-width="1.5" stroke-opacity="0.9"/>
<circle cx="655.7" cy="461.8" r="2.3" fill="#fff"/><path d="M653.3,461.4a2.4,2.4 0 0 0 4.8,0" fill="none" stroke="#9dc3e6" stroke-width="1.5" stroke-opacity="0.9"/>
<circle cx="671.0" cy="471.6" r="2.3" fill="#fff"/><path d="M668.6,471.2a2.4,2.4 0 0 0 4.8,0" fill="none" stroke="#9dc3e6" stroke-width="1.5" stroke-opacity="0.9"/>
<circle cx="686.3" cy="477.7" r="2.3" fill="#fff"/><path d="M683.9,477.3a2.4,2.4 0 0 0 4.8,0" fill="none" stroke="#9dc3e6" stroke-width="1.5" stroke-opacity="0.9"/>
<circle cx="701.7" cy="472.8" r="2.3" fill="#fff"/><path d="M699.3,472.4a2.4,2.4 0 0 0 4.8,0" fill="none" stroke="#9dc3e6" stroke-width="1.5" stroke-opacity="0.9"/>
<circle cx="717.0" cy="465.5" r="2.3" fill="#fff"/><path d="M714.6,465.1a2.4,2.4 0 0 0 4.8,0" fill="none" stroke="#9dc3e6" stroke-width="1.5" stroke-opacity="0.9"/>
<circle cx="732.4" cy="471.6" r="2.3" fill="#fff"/><path d="M730.0,471.2a2.4,2.4 0 0 0 4.8,0" fill="none" stroke="#9dc3e6" stroke-width="1.5" stroke-opacity="0.9"/>
<circle cx="747.7" cy="482.5" r="2.3" fill="#fff"/><path d="M745.3,482.1a2.4,2.4 0 0 0 4.8,0" fill="none" stroke="#9dc3e6" stroke-width="1.5" stroke-opacity="0.9"/>
<circle cx="763.0" cy="475.2" r="2.3" fill="#fff"/><path d="M760.6,474.8a2.4,2.4 0 0 0 4.8,0" fill="none" stroke="#9dc3e6" stroke-width="1.5" stroke-opacity="0.9"/>
<circle cx="778.4" cy="510.6" r="2.3" fill="#fff"/><path d="M776.0,510.2a2.4,2.4 0 0 0 4.8,0" fill="none" stroke="#9dc3e6" stroke-width="1.5" stroke-opacity="0.9"/>
<circle cx="793.7" cy="550.8" r="2.3" fill="#fff"/><path d="M791.3,550.4a2.4,2.4 0 0 0 4.8,0" fill="none" stroke="#9dc3e6" stroke-width="1.5" stroke-opacity="0.9"/>
<circle cx="809.0" cy="575.1" r="2.3" fill="#fff"/><path d="M806.6,574.7a2.4,2.4 0 0 0 4.8,0" fill="none" stroke="#9dc3e6" stroke-width="1.5" stroke-opacity="0.9"/>
<circle cx="824.4" cy="588.5" r="2.3" fill="#fff"/><path d="M822.0,588.1a2.4,2.4 0 0 0 4.8,0" fill="none" stroke="#9dc3e6" stroke-width="1.5" stroke-opacity="0.9"/>
<circle cx="839.7" cy="597.1" r="2.3" fill="#fff"/><path d="M837.3,596.7a2.4,2.4 0 0 0 4.8,0" fill="none" stroke="#9dc3e6" stroke-width="1.5" stroke-opacity="0.9"/>
<path d="M471.6,645.8C474.2,640.7 481.8,626.5 486.9,615.3C492.1,604.2 497.2,592.0 502.3,578.8C507.4,565.6 512.5,551.4 517.6,536.1C522.7,520.9 527.9,503.7 533.0,487.4C538.1,471.2 543.2,453.9 548.3,438.7C553.4,423.5 558.5,407.2 563.6,396.0C568.8,384.9 573.9,377.8 579.0,371.7C584.1,365.6 589.2,362.1 594.3,359.5C599.4,356.9 604.5,354.8 609.6,355.8C614.8,356.9 619.9,359.9 625.0,365.6C630.1,371.3 635.2,384.5 640.3,389.9C645.4,395.4 650.6,397.1 655.7,398.5C660.8,399.9 665.9,398.3 671.0,398.5C676.1,398.7 681.2,398.9 686.3,399.7C691.4,400.5 696.6,404.4 701.7,403.4C706.8,402.3 711.9,402.1 717.0,393.6C722.1,385.1 727.2,367.0 732.4,352.2C737.5,337.4 742.6,315.4 747.7,304.7C752.8,293.9 757.9,287.6 763.0,287.6C768.1,287.6 773.2,291.7 778.4,304.7C783.5,317.7 788.6,345.3 793.7,365.6C798.8,385.9 803.9,409.2 809.0,426.5C814.1,443.8 819.3,457.0 824.4,469.1C829.5,481.3 834.6,491.5 839.7,499.6C844.8,507.7 849.9,511.8 855.0,517.9C860.2,524.0 865.3,531.1 870.4,536.1C875.5,541.2 880.6,544.3 885.7,548.3C890.8,552.4 896.0,556.5 901.1,560.5C906.2,564.6 911.3,569.0 916.4,572.7C921.5,576.4 926.6,579.4 931.7,582.4C936.8,585.5 942.0,587.5 947.1,591.0C952.2,594.4 957.3,599.7 962.4,603.2C967.5,606.6 972.6,608.6 977.8,611.7C982.9,614.7 988.0,617.8 993.1,621.4C998.2,625.1 1003.3,632.6 1008.4,633.6C1013.5,634.6 1021.2,628.5 1023.8,627.5" fill="none" stroke="#2f5597" stroke-width="0.95" stroke-dasharray="4 3" stroke-opacity="0.9"/>
<circle cx="471.6" cy="645.8" r="2.3" fill="#fff"/><path d="M469.2,645.4a2.4,2.4 0 0 0 4.8,0" fill="none" stroke="#2f5597" stroke-width="1.5" stroke-opacity="0.9"/>
<circle cx="486.9" cy="615.3" r="2.3" fill="#fff"/><path d="M484.6,614.9a2.4,2.4 0 0 0 4.8,0" fill="none" stroke="#2f5597" stroke-width="1.5" stroke-opacity="0.9"/>
<circle cx="502.3" cy="578.8" r="2.3" fill="#fff"/><path d="M499.9,578.4a2.4,2.4 0 0 0 4.8,0" fill="none" stroke="#2f5597" stroke-width="1.5" stroke-opacity="0.9"/>
<circle cx="517.6" cy="536.1" r="2.3" fill="#fff"/><path d="M515.2,535.8a2.4,2.4 0 0 0 4.8,0" fill="none" stroke="#2f5597" stroke-width="1.5" stroke-opacity="0.9"/>
<circle cx="533.0" cy="487.4" r="2.3" fill="#fff"/><path d="M530.6,487.0a2.4,2.4 0 0 0 4.8,0" fill="none" stroke="#2f5597" stroke-width="1.5" stroke-opacity="0.9"/>
<circle cx="548.3" cy="438.7" r="2.3" fill="#fff"/><path d="M545.9,438.3a2.4,2.4 0 0 0 4.8,0" fill="none" stroke="#2f5597" stroke-width="1.5" stroke-opacity="0.9"/>
<circle cx="563.6" cy="396.0" r="2.3" fill="#fff"/><path d="M561.2,395.6a2.4,2.4 0 0 0 4.8,0" fill="none" stroke="#2f5597" stroke-width="1.5" stroke-opacity="0.9"/>
<circle cx="579.0" cy="371.7" r="2.3" fill="#fff"/><path d="M576.6,371.3a2.4,2.4 0 0 0 4.8,0" fill="none" stroke="#2f5597" stroke-width="1.5" stroke-opacity="0.9"/>
<circle cx="594.3" cy="359.5" r="2.3" fill="#fff"/><path d="M591.9,359.1a2.4,2.4 0 0 0 4.8,0" fill="none" stroke="#2f5597" stroke-width="1.5" stroke-opacity="0.9"/>
<circle cx="609.6" cy="355.8" r="2.3" fill="#fff"/><path d="M607.2,355.4a2.4,2.4 0 0 0 4.8,0" fill="none" stroke="#2f5597" stroke-width="1.5" stroke-opacity="0.9"/>
<circle cx="625.0" cy="365.6" r="2.3" fill="#fff"/><path d="M622.6,365.2a2.4,2.4 0 0 0 4.8,0" fill="none" stroke="#2f5597" stroke-width="1.5" stroke-opacity="0.9"/>
<circle cx="640.3" cy="389.9" r="2.3" fill="#fff"/><path d="M637.9,389.6a2.4,2.4 0 0 0 4.8,0" fill="none" stroke="#2f5597" stroke-width="1.5" stroke-opacity="0.9"/>
<circle cx="655.7" cy="398.5" r="2.3" fill="#fff"/><path d="M653.3,398.1a2.4,2.4 0 0 0 4.8,0" fill="none" stroke="#2f5597" stroke-width="1.5" stroke-opacity="0.9"/>
<circle cx="671.0" cy="398.5" r="2.3" fill="#fff"/><path d="M668.6,398.1a2.4,2.4 0 0 0 4.8,0" fill="none" stroke="#2f5597" stroke-width="1.5" stroke-opacity="0.9"/>
<circle cx="686.3" cy="399.7" r="2.3" fill="#fff"/><path d="M683.9,399.3a2.4,2.4 0 0 0 4.8,0" fill="none" stroke="#2f5597" stroke-width="1.5" stroke-opacity="0.9"/>
<circle cx="701.7" cy="403.4" r="2.3" fill="#fff"/><path d="M699.3,403.0a2.4,2.4 0 0 0 4.8,0" fill="none" stroke="#2f5597" stroke-width="1.5" stroke-opacity="0.9"/>
<circle cx="717.0" cy="393.6" r="2.3" fill="#fff"/><path d="M714.6,393.2a2.4,2.4 0 0 0 4.8,0" fill="none" stroke="#2f5597" stroke-width="1.5" stroke-opacity="0.9"/>
<circle cx="732.4" cy="352.2" r="2.3" fill="#fff"/><path d="M730.0,351.8a2.4,2.4 0 0 0 4.8,0" fill="none" stroke="#2f5597" stroke-width="1.5" stroke-opacity="0.9"/>
<circle cx="747.7" cy="304.7" r="2.3" fill="#fff"/><path d="M745.3,304.3a2.4,2.4 0 0 0 4.8,0" fill="none" stroke="#2f5597" stroke-width="1.5" stroke-opacity="0.9"/>
<circle cx="763.0" cy="287.6" r="2.3" fill="#fff"/><path d="M760.6,287.2a2.4,2.4 0 0 0 4.8,0" fill="none" stroke="#2f5597" stroke-width="1.5" stroke-opacity="0.9"/>
<circle cx="778.4" cy="304.7" r="2.3" fill="#fff"/><path d="M776.0,304.3a2.4,2.4 0 0 0 4.8,0" fill="none" stroke="#2f5597" stroke-width="1.5" stroke-opacity="0.9"/>
<circle cx="793.7" cy="365.6" r="2.3" fill="#fff"/><path d="M791.3,365.2a2.4,2.4 0 0 0 4.8,0" fill="none" stroke="#2f5597" stroke-width="1.5" stroke-opacity="0.9"/>
<circle cx="809.0" cy="426.5" r="2.3" fill="#fff"/><path d="M806.6,426.1a2.4,2.4 0 0 0 4.8,0" fill="none" stroke="#2f5597" stroke-width="1.5" stroke-opacity="0.9"/>
<circle cx="824.4" cy="469.1" r="2.3" fill="#fff"/><path d="M822.0,468.7a2.4,2.4 0 0 0 4.8,0" fill="none" stroke="#2f5597" stroke-width="1.5" stroke-opacity="0.9"/>
<circle cx="839.7" cy="499.6" r="2.3" fill="#fff"/><path d="M837.3,499.2a2.4,2.4 0 0 0 4.8,0" fill="none" stroke="#2f5597" stroke-width="1.5" stroke-opacity="0.9"/>
<circle cx="855.0" cy="517.9" r="2.3" fill="#fff"/><path d="M852.6,517.5a2.4,2.4 0 0 0 4.8,0" fill="none" stroke="#2f5597" stroke-width="1.5" stroke-opacity="0.9"/>
<circle cx="870.4" cy="536.1" r="2.3" fill="#fff"/><path d="M868.0,535.8a2.4,2.4 0 0 0 4.8,0" fill="none" stroke="#2f5597" stroke-width="1.5" stroke-opacity="0.9"/>
<circle cx="885.7" cy="548.3" r="2.3" fill="#fff"/><path d="M883.3,547.9a2.4,2.4 0 0 0 4.8,0" fill="none" stroke="#2f5597" stroke-width="1.5" stroke-opacity="0.9"/>
<circle cx="901.1" cy="560.5" r="2.3" fill="#fff"/><path d="M898.7,560.1a2.4,2.4 0 0 0 4.8,0" fill="none" stroke="#2f5597" stroke-width="1.5" stroke-opacity="0.9"/>
<circle cx="916.4" cy="572.7" r="2.3" fill="#fff"/><path d="M914.0,572.3a2.4,2.4 0 0 0 4.8,0" fill="none" stroke="#2f5597" stroke-width="1.5" stroke-opacity="0.9"/>
<circle cx="931.7" cy="582.4" r="2.3" fill="#fff"/><path d="M929.3,582.0a2.4,2.4 0 0 0 4.8,0" fill="none" stroke="#2f5597" stroke-width="1.5" stroke-opacity="0.9"/>
<circle cx="947.1" cy="591.0" r="2.3" fill="#fff"/><path d="M944.7,590.6a2.4,2.4 0 0 0 4.8,0" fill="none" stroke="#2f5597" stroke-width="1.5" stroke-opacity="0.9"/>
<circle cx="962.4" cy="603.2" r="2.3" fill="#fff"/><path d="M960.0,602.8a2.4,2.4 0 0 0 4.8,0" fill="none" stroke="#2f5597" stroke-width="1.5" stroke-opacity="0.9"/>
<circle cx="977.8" cy="611.7" r="2.3" fill="#fff"/><path d="M975.4,611.3a2.4,2.4 0 0 0 4.8,0" fill="none" stroke="#2f5597" stroke-width="1.5" stroke-opacity="0.9"/>
<circle cx="993.1" cy="621.4" r="2.3" fill="#fff"/><path d="M990.7,621.0a2.4,2.4 0 0 0 4.8,0" fill="none" stroke="#2f5597" stroke-width="1.5" stroke-opacity="0.9"/>
<circle cx="1008.4" cy="633.6" r="2.3" fill="#fff"/><path d="M1006.0,633.2a2.4,2.4 0 0 0 4.8,0" fill="none" stroke="#2f5597" stroke-width="1.5" stroke-opacity="0.9"/>
<circle cx="1023.8" cy="627.5" r="2.3" fill="#fff"/><path d="M1021.4,627.1a2.4,2.4 0 0 0 4.8,0" fill="none" stroke="#2f5597" stroke-width="1.5" stroke-opacity="0.9"/>
<path d="M394.9,633.6C397.5,631.6 405.1,626.5 410.3,621.4C415.4,616.4 420.5,609.2 425.6,603.2C430.7,597.1 435.8,591.0 440.9,584.9C446.1,578.8 451.2,573.7 456.3,566.6C461.4,559.5 466.5,551.4 471.6,542.2C476.7,533.1 481.8,524.0 486.9,511.8C492.1,499.6 497.2,486.4 502.3,469.1C507.4,451.9 512.5,429.5 517.6,408.2C522.7,386.9 527.9,359.5 533.0,341.2C538.1,322.9 543.2,311.8 548.3,298.6C553.4,285.4 558.5,270.1 563.6,262.0C568.8,253.9 573.9,250.7 579.0,249.8C584.1,249.0 589.2,260.4 594.3,257.2C599.4,253.9 604.5,233.0 609.6,230.3C614.8,227.7 619.9,237.7 625.0,241.3C630.1,245.0 635.2,253.1 640.3,252.3C645.4,251.5 650.6,239.5 655.7,236.4C660.8,233.4 665.9,234.0 671.0,234.0C676.1,234.0 681.2,234.6 686.3,236.4C691.4,238.3 696.6,241.3 701.7,245.0C706.8,248.6 711.9,259.6 717.0,258.4C722.1,257.2 727.2,239.9 732.4,237.7C737.5,235.4 742.6,244.4 747.7,245.0C752.8,245.6 757.9,240.7 763.0,241.3C768.1,241.9 773.2,246.2 778.4,248.6C783.5,251.1 788.6,254.3 793.7,255.9C798.8,257.6 803.9,260.0 809.0,258.4C814.1,256.7 819.3,248.6 824.4,246.2C829.5,243.8 834.6,242.1 839.7,243.8C844.8,245.4 849.9,245.2 855.0,255.9C860.2,266.7 865.3,286.0 870.4,308.3C875.5,330.7 880.6,366.2 885.7,389.9C890.8,413.7 896.0,433.6 901.1,450.9C906.2,468.1 911.3,482.3 916.4,493.5C921.5,504.7 926.6,510.8 931.7,517.9C936.8,525.0 942.0,530.1 947.1,536.1C952.2,542.2 957.3,548.9 962.4,554.4C967.5,559.9 972.6,564.4 977.8,569.0C982.9,573.7 988.0,577.8 993.1,582.4C998.2,587.1 1003.3,593.0 1008.4,597.1C1013.5,601.1 1018.7,603.4 1023.8,606.8C1028.9,610.3 1034.0,614.3 1039.1,617.8C1044.2,621.2 1051.9,625.9 1054.4,627.5" fill="none" stroke="#5f9a3c" stroke-width="0.95" stroke-dasharray="4 3" stroke-opacity="0.9"/>
<circle cx="394.9" cy="633.6" r="2.3" fill="#fff"/><path d="M392.5,633.2a2.4,2.4 0 0 0 4.8,0" fill="none" stroke="#5f9a3c" stroke-width="1.5" stroke-opacity="0.9"/>
<circle cx="410.3" cy="621.4" r="2.3" fill="#fff"/><path d="M407.9,621.0a2.4,2.4 0 0 0 4.8,0" fill="none" stroke="#5f9a3c" stroke-width="1.5" stroke-opacity="0.9"/>
<circle cx="425.6" cy="603.2" r="2.3" fill="#fff"/><path d="M423.2,602.8a2.4,2.4 0 0 0 4.8,0" fill="none" stroke="#5f9a3c" stroke-width="1.5" stroke-opacity="0.9"/>
<circle cx="440.9" cy="584.9" r="2.3" fill="#fff"/><path d="M438.5,584.5a2.4,2.4 0 0 0 4.8,0" fill="none" stroke="#5f9a3c" stroke-width="1.5" stroke-opacity="0.9"/>
<circle cx="456.3" cy="566.6" r="2.3" fill="#fff"/><path d="M453.9,566.2a2.4,2.4 0 0 0 4.8,0" fill="none" stroke="#5f9a3c" stroke-width="1.5" stroke-opacity="0.9"/>
<circle cx="471.6" cy="542.2" r="2.3" fill="#fff"/><path d="M469.2,541.8a2.4,2.4 0 0 0 4.8,0" fill="none" stroke="#5f9a3c" stroke-width="1.5" stroke-opacity="0.9"/>
<circle cx="486.9" cy="511.8" r="2.3" fill="#fff"/><path d="M484.6,511.4a2.4,2.4 0 0 0 4.8,0" fill="none" stroke="#5f9a3c" stroke-width="1.5" stroke-opacity="0.9"/>
<circle cx="502.3" cy="469.1" r="2.3" fill="#fff"/><path d="M499.9,468.7a2.4,2.4 0 0 0 4.8,0" fill="none" stroke="#5f9a3c" stroke-width="1.5" stroke-opacity="0.9"/>
<circle cx="517.6" cy="408.2" r="2.3" fill="#fff"/><path d="M515.2,407.8a2.4,2.4 0 0 0 4.8,0" fill="none" stroke="#5f9a3c" stroke-width="1.5" stroke-opacity="0.9"/>
<circle cx="533.0" cy="341.2" r="2.3" fill="#fff"/><path d="M530.6,340.8a2.4,2.4 0 0 0 4.8,0" fill="none" stroke="#5f9a3c" stroke-width="1.5" stroke-opacity="0.9"/>
<circle cx="548.3" cy="298.6" r="2.3" fill="#fff"/><path d="M545.9,298.2a2.4,2.4 0 0 0 4.8,0" fill="none" stroke="#5f9a3c" stroke-width="1.5" stroke-opacity="0.9"/>
<circle cx="563.6" cy="262.0" r="2.3" fill="#fff"/><path d="M561.2,261.6a2.4,2.4 0 0 0 4.8,0" fill="none" stroke="#5f9a3c" stroke-width="1.5" stroke-opacity="0.9"/>
<circle cx="579.0" cy="249.8" r="2.3" fill="#fff"/><path d="M576.6,249.4a2.4,2.4 0 0 0 4.8,0" fill="none" stroke="#5f9a3c" stroke-width="1.5" stroke-opacity="0.9"/>
<circle cx="594.3" cy="257.2" r="2.3" fill="#fff"/><path d="M591.9,256.8a2.4,2.4 0 0 0 4.8,0" fill="none" stroke="#5f9a3c" stroke-width="1.5" stroke-opacity="0.9"/>
<circle cx="609.6" cy="230.3" r="2.3" fill="#fff"/><path d="M607.2,229.9a2.4,2.4 0 0 0 4.8,0" fill="none" stroke="#5f9a3c" stroke-width="1.5" stroke-opacity="0.9"/>
<circle cx="625.0" cy="241.3" r="2.3" fill="#fff"/><path d="M622.6,240.9a2.4,2.4 0 0 0 4.8,0" fill="none" stroke="#5f9a3c" stroke-width="1.5" stroke-opacity="0.9"/>
<circle cx="640.3" cy="252.3" r="2.3" fill="#fff"/><path d="M637.9,251.9a2.4,2.4 0 0 0 4.8,0" fill="none" stroke="#5f9a3c" stroke-width="1.5" stroke-opacity="0.9"/>
<circle cx="655.7" cy="236.4" r="2.3" fill="#fff"/><path d="M653.3,236.0a2.4,2.4 0 0 0 4.8,0" fill="none" stroke="#5f9a3c" stroke-width="1.5" stroke-opacity="0.9"/>
<circle cx="671.0" cy="234.0" r="2.3" fill="#fff"/><path d="M668.6,233.6a2.4,2.4 0 0 0 4.8,0" fill="none" stroke="#5f9a3c" stroke-width="1.5" stroke-opacity="0.9"/>
<circle cx="686.3" cy="236.4" r="2.3" fill="#fff"/><path d="M683.9,236.0a2.4,2.4 0 0 0 4.8,0" fill="none" stroke="#5f9a3c" stroke-width="1.5" stroke-opacity="0.9"/>
<circle cx="701.7" cy="245.0" r="2.3" fill="#fff"/><path d="M699.3,244.6a2.4,2.4 0 0 0 4.8,0" fill="none" stroke="#5f9a3c" stroke-width="1.5" stroke-opacity="0.9"/>
<circle cx="717.0" cy="258.4" r="2.3" fill="#fff"/><path d="M714.6,258.0a2.4,2.4 0 0 0 4.8,0" fill="none" stroke="#5f9a3c" stroke-width="1.5" stroke-opacity="0.9"/>
<circle cx="732.4" cy="237.7" r="2.3" fill="#fff"/><path d="M730.0,237.3a2.4,2.4 0 0 0 4.8,0" fill="none" stroke="#5f9a3c" stroke-width="1.5" stroke-opacity="0.9"/>
<circle cx="747.7" cy="245.0" r="2.3" fill="#fff"/><path d="M745.3,244.6a2.4,2.4 0 0 0 4.8,0" fill="none" stroke="#5f9a3c" stroke-width="1.5" stroke-opacity="0.9"/>
<circle cx="763.0" cy="241.3" r="2.3" fill="#fff"/><path d="M760.6,240.9a2.4,2.4 0 0 0 4.8,0" fill="none" stroke="#5f9a3c" stroke-width="1.5" stroke-opacity="0.9"/>
<circle cx="778.4" cy="248.6" r="2.3" fill="#fff"/><path d="M776.0,248.2a2.4,2.4 0 0 0 4.8,0" fill="none" stroke="#5f9a3c" stroke-width="1.5" stroke-opacity="0.9"/>
<circle cx="793.7" cy="255.9" r="2.3" fill="#fff"/><path d="M791.3,255.5a2.4,2.4 0 0 0 4.8,0" fill="none" stroke="#5f9a3c" stroke-width="1.5" stroke-opacity="0.9"/>
<circle cx="809.0" cy="258.4" r="2.3" fill="#fff"/><path d="M806.6,258.0a2.4,2.4 0 0 0 4.8,0" fill="none" stroke="#5f9a3c" stroke-width="1.5" stroke-opacity="0.9"/>
<circle cx="824.4" cy="246.2" r="2.3" fill="#fff"/><path d="M822.0,245.8a2.4,2.4 0 0 0 4.8,0" fill="none" stroke="#5f9a3c" stroke-width="1.5" stroke-opacity="0.9"/>
<circle cx="839.7" cy="243.8" r="2.3" fill="#fff"/><path d="M837.3,243.3a2.4,2.4 0 0 0 4.8,0" fill="none" stroke="#5f9a3c" stroke-width="1.5" stroke-opacity="0.9"/>
<circle cx="855.0" cy="255.9" r="2.3" fill="#fff"/><path d="M852.6,255.5a2.4,2.4 0 0 0 4.8,0" fill="none" stroke="#5f9a3c" stroke-width="1.5" stroke-opacity="0.9"/>
<circle cx="870.4" cy="308.3" r="2.3" fill="#fff"/><path d="M868.0,307.9a2.4,2.4 0 0 0 4.8,0" fill="none" stroke="#5f9a3c" stroke-width="1.5" stroke-opacity="0.9"/>
<circle cx="885.7" cy="389.9" r="2.3" fill="#fff"/><path d="M883.3,389.6a2.4,2.4 0 0 0 4.8,0" fill="none" stroke="#5f9a3c" stroke-width="1.5" stroke-opacity="0.9"/>
<circle cx="901.1" cy="450.9" r="2.3" fill="#fff"/><path d="M898.7,450.5a2.4,2.4 0 0 0 4.8,0" fill="none" stroke="#5f9a3c" stroke-width="1.5" stroke-opacity="0.9"/>
<circle cx="916.4" cy="493.5" r="2.3" fill="#fff"/><path d="M914.0,493.1a2.4,2.4 0 0 0 4.8,0" fill="none" stroke="#5f9a3c" stroke-width="1.5" stroke-opacity="0.9"/>
<circle cx="931.7" cy="517.9" r="2.3" fill="#fff"/><path d="M929.3,517.5a2.4,2.4 0 0 0 4.8,0" fill="none" stroke="#5f9a3c" stroke-width="1.5" stroke-opacity="0.9"/>
<circle cx="947.1" cy="536.1" r="2.3" fill="#fff"/><path d="M944.7,535.8a2.4,2.4 0 0 0 4.8,0" fill="none" stroke="#5f9a3c" stroke-width="1.5" stroke-opacity="0.9"/>
<circle cx="962.4" cy="554.4" r="2.3" fill="#fff"/><path d="M960.0,554.0a2.4,2.4 0 0 0 4.8,0" fill="none" stroke="#5f9a3c" stroke-width="1.5" stroke-opacity="0.9"/>
<circle cx="977.8" cy="569.0" r="2.3" fill="#fff"/><path d="M975.4,568.6a2.4,2.4 0 0 0 4.8,0" fill="none" stroke="#5f9a3c" stroke-width="1.5" stroke-opacity="0.9"/>
<circle cx="993.1" cy="582.4" r="2.3" fill="#fff"/><path d="M990.7,582.0a2.4,2.4 0 0 0 4.8,0" fill="none" stroke="#5f9a3c" stroke-width="1.5" stroke-opacity="0.9"/>
<circle cx="1008.4" cy="597.1" r="2.3" fill="#fff"/><path d="M1006.0,596.7a2.4,2.4 0 0 0 4.8,0" fill="none" stroke="#5f9a3c" stroke-width="1.5" stroke-opacity="0.9"/>
<circle cx="1023.8" cy="606.8" r="2.3" fill="#fff"/><path d="M1021.4,606.4a2.4,2.4 0 0 0 4.8,0" fill="none" stroke="#5f9a3c" stroke-width="1.5" stroke-opacity="0.9"/>
<circle cx="1039.1" cy="617.8" r="2.3" fill="#fff"/><path d="M1036.7,617.4a2.4,2.4 0 0 0 4.8,0" fill="none" stroke="#5f9a3c" stroke-width="1.5" stroke-opacity="0.9"/>
<circle cx="1054.4" cy="627.5" r="2.3" fill="#fff"/><path d="M1052.0,627.1a2.4,2.4 0 0 0 4.8,0" fill="none" stroke="#5f9a3c" stroke-width="1.5" stroke-opacity="0.9"/>
<path d="M333.6,658.0C336.1,657.0 343.8,653.9 348.9,651.9C354.0,649.9 359.1,647.8 364.2,645.8C369.4,643.8 374.5,642.1 379.6,639.7C384.7,637.3 389.8,634.2 394.9,631.2C400.0,628.1 405.1,626.1 410.3,621.4C415.4,616.8 420.5,611.3 425.6,603.2C430.7,595.0 435.8,584.9 440.9,572.7C446.1,560.5 451.2,545.3 456.3,530.1C461.4,514.8 466.5,497.6 471.6,481.3C476.7,465.1 481.8,447.8 486.9,432.6C492.1,417.4 497.2,402.1 502.3,389.9C507.4,377.8 512.5,368.6 517.6,359.5C522.7,350.4 527.9,341.2 533.0,335.1C538.1,329.0 543.2,326.0 548.3,322.9C553.4,319.9 558.5,315.8 563.6,316.9C568.8,317.9 573.9,324.0 579.0,329.0C584.1,334.1 589.2,342.2 594.3,347.3C599.4,352.4 604.5,359.5 609.6,359.5C614.8,359.5 619.9,352.4 625.0,347.3C630.1,342.2 635.2,334.1 640.3,329.0C645.4,324.0 650.6,319.9 655.7,316.9C660.8,313.8 665.9,311.2 671.0,310.8C676.1,310.4 681.2,313.0 686.3,314.4C691.4,315.8 696.6,318.9 701.7,319.3C706.8,319.7 711.9,317.9 717.0,316.9C722.1,315.8 727.2,312.8 732.4,313.2C737.5,313.6 742.6,319.1 747.7,319.3C752.8,319.5 757.9,315.8 763.0,314.4C768.1,313.0 773.2,314.4 778.4,310.8C783.5,307.1 788.6,298.6 793.7,292.5C798.8,286.4 803.9,278.7 809.0,274.2C814.1,269.7 819.3,268.3 824.4,265.7C829.5,263.0 834.6,259.6 839.7,258.4C844.8,257.2 849.9,252.3 855.0,258.4C860.2,264.5 865.3,277.1 870.4,294.9C875.5,312.8 880.6,342.6 885.7,365.6C890.8,388.5 896.0,414.3 901.1,432.6C906.2,450.9 911.3,462.0 916.4,475.2C921.5,488.4 926.6,501.6 931.7,511.8C936.8,521.9 942.0,528.8 947.1,536.1C952.2,543.5 957.3,546.3 962.4,555.6C967.5,565.0 972.6,584.3 977.8,592.2C982.9,600.1 988.0,600.5 993.1,603.2C998.2,605.8 1003.3,605.0 1008.4,608.0C1013.5,611.1 1018.7,619.0 1023.8,621.4C1028.9,623.9 1034.0,620.6 1039.1,622.7C1044.2,624.7 1049.3,631.7 1054.4,633.6C1059.5,635.5 1064.7,635.2 1069.8,634.0C1074.9,632.8 1080.0,628.0 1085.1,626.3C1090.2,624.6 1095.3,622.9 1100.5,623.9C1105.6,624.9 1110.7,628.7 1115.8,632.4C1120.9,636.1 1126.0,642.6 1131.1,645.8C1136.2,649.0 1141.4,651.7 1146.5,651.9C1151.6,652.1 1156.7,648.0 1161.8,647.0C1166.9,646.0 1172.0,644.0 1177.1,645.8C1182.2,647.6 1187.4,654.7 1192.5,658.0C1197.6,661.2 1202.7,665.1 1207.8,665.3C1212.9,665.5 1218.0,660.0 1223.2,659.2C1228.3,658.4 1233.4,659.4 1238.5,660.4C1243.6,661.4 1248.7,664.9 1253.8,665.3C1258.9,665.7 1264.0,663.7 1269.2,662.9C1274.3,662.0 1281.9,660.8 1284.5,660.4" fill="none" stroke="#a9d18e" stroke-width="0.95" stroke-dasharray="4 3" stroke-opacity="0.9"/>
<circle cx="333.6" cy="658.0" r="2.3" fill="#fff"/><path d="M331.2,657.6a2.4,2.4 0 0 0 4.8,0" fill="none" stroke="#a9d18e" stroke-width="1.5" stroke-opacity="0.9"/>
<circle cx="348.9" cy="651.9" r="2.3" fill="#fff"/><path d="M346.5,651.5a2.4,2.4 0 0 0 4.8,0" fill="none" stroke="#a9d18e" stroke-width="1.5" stroke-opacity="0.9"/>
<circle cx="364.2" cy="645.8" r="2.3" fill="#fff"/><path d="M361.9,645.4a2.4,2.4 0 0 0 4.8,0" fill="none" stroke="#a9d18e" stroke-width="1.5" stroke-opacity="0.9"/>
<circle cx="379.6" cy="639.7" r="2.3" fill="#fff"/><path d="M377.2,639.3a2.4,2.4 0 0 0 4.8,0" fill="none" stroke="#a9d18e" stroke-width="1.5" stroke-opacity="0.9"/>
<circle cx="394.9" cy="631.2" r="2.3" fill="#fff"/><path d="M392.5,630.8a2.4,2.4 0 0 0 4.8,0" fill="none" stroke="#a9d18e" stroke-width="1.5" stroke-opacity="0.9"/>
<circle cx="410.3" cy="621.4" r="2.3" fill="#fff"/><path d="M407.9,621.0a2.4,2.4 0 0 0 4.8,0" fill="none" stroke="#a9d18e" stroke-width="1.5" stroke-opacity="0.9"/>
<circle cx="425.6" cy="603.2" r="2.3" fill="#fff"/><path d="M423.2,602.8a2.4,2.4 0 0 0 4.8,0" fill="none" stroke="#a9d18e" stroke-width="1.5" stroke-opacity="0.9"/>
<circle cx="440.9" cy="572.7" r="2.3" fill="#fff"/><path d="M438.5,572.3a2.4,2.4 0 0 0 4.8,0" fill="none" stroke="#a9d18e" stroke-width="1.5" stroke-opacity="0.9"/>
<circle cx="456.3" cy="530.1" r="2.3" fill="#fff"/><path d="M453.9,529.7a2.4,2.4 0 0 0 4.8,0" fill="none" stroke="#a9d18e" stroke-width="1.5" stroke-opacity="0.9"/>
<circle cx="471.6" cy="481.3" r="2.3" fill="#fff"/><path d="M469.2,480.9a2.4,2.4 0 0 0 4.8,0" fill="none" stroke="#a9d18e" stroke-width="1.5" stroke-opacity="0.9"/>
<circle cx="486.9" cy="432.6" r="2.3" fill="#fff"/><path d="M484.6,432.2a2.4,2.4 0 0 0 4.8,0" fill="none" stroke="#a9d18e" stroke-width="1.5" stroke-opacity="0.9"/>
<circle cx="502.3" cy="389.9" r="2.3" fill="#fff"/><path d="M499.9,389.6a2.4,2.4 0 0 0 4.8,0" fill="none" stroke="#a9d18e" stroke-width="1.5" stroke-opacity="0.9"/>
<circle cx="517.6" cy="359.5" r="2.3" fill="#fff"/><path d="M515.2,359.1a2.4,2.4 0 0 0 4.8,0" fill="none" stroke="#a9d18e" stroke-width="1.5" stroke-opacity="0.9"/>
<circle cx="533.0" cy="335.1" r="2.3" fill="#fff"/><path d="M530.6,334.7a2.4,2.4 0 0 0 4.8,0" fill="none" stroke="#a9d18e" stroke-width="1.5" stroke-opacity="0.9"/>
<circle cx="548.3" cy="322.9" r="2.3" fill="#fff"/><path d="M545.9,322.5a2.4,2.4 0 0 0 4.8,0" fill="none" stroke="#a9d18e" stroke-width="1.5" stroke-opacity="0.9"/>
<circle cx="563.6" cy="316.9" r="2.3" fill="#fff"/><path d="M561.2,316.5a2.4,2.4 0 0 0 4.8,0" fill="none" stroke="#a9d18e" stroke-width="1.5" stroke-opacity="0.9"/>
<circle cx="579.0" cy="329.0" r="2.3" fill="#fff"/><path d="M576.6,328.6a2.4,2.4 0 0 0 4.8,0" fill="none" stroke="#a9d18e" stroke-width="1.5" stroke-opacity="0.9"/>
<circle cx="594.3" cy="347.3" r="2.3" fill="#fff"/><path d="M591.9,346.9a2.4,2.4 0 0 0 4.8,0" fill="none" stroke="#a9d18e" stroke-width="1.5" stroke-opacity="0.9"/>
<circle cx="609.6" cy="359.5" r="2.3" fill="#fff"/><path d="M607.2,359.1a2.4,2.4 0 0 0 4.8,0" fill="none" stroke="#a9d18e" stroke-width="1.5" stroke-opacity="0.9"/>
<circle cx="625.0" cy="347.3" r="2.3" fill="#fff"/><path d="M622.6,346.9a2.4,2.4 0 0 0 4.8,0" fill="none" stroke="#a9d18e" stroke-width="1.5" stroke-opacity="0.9"/>
<circle cx="640.3" cy="329.0" r="2.3" fill="#fff"/><path d="M637.9,328.6a2.4,2.4 0 0 0 4.8,0" fill="none" stroke="#a9d18e" stroke-width="1.5" stroke-opacity="0.9"/>
<circle cx="655.7" cy="316.9" r="2.3" fill="#fff"/><path d="M653.3,316.5a2.4,2.4 0 0 0 4.8,0" fill="none" stroke="#a9d18e" stroke-width="1.5" stroke-opacity="0.9"/>
<circle cx="671.0" cy="310.8" r="2.3" fill="#fff"/><path d="M668.6,310.4a2.4,2.4 0 0 0 4.8,0" fill="none" stroke="#a9d18e" stroke-width="1.5" stroke-opacity="0.9"/>
<circle cx="686.3" cy="314.4" r="2.3" fill="#fff"/><path d="M683.9,314.0a2.4,2.4 0 0 0 4.8,0" fill="none" stroke="#a9d18e" stroke-width="1.5" stroke-opacity="0.9"/>
<circle cx="701.7" cy="319.3" r="2.3" fill="#fff"/><path d="M699.3,318.9a2.4,2.4 0 0 0 4.8,0" fill="none" stroke="#a9d18e" stroke-width="1.5" stroke-opacity="0.9"/>
<circle cx="717.0" cy="316.9" r="2.3" fill="#fff"/><path d="M714.6,316.5a2.4,2.4 0 0 0 4.8,0" fill="none" stroke="#a9d18e" stroke-width="1.5" stroke-opacity="0.9"/>
<circle cx="732.4" cy="313.2" r="2.3" fill="#fff"/><path d="M730.0,312.8a2.4,2.4 0 0 0 4.8,0" fill="none" stroke="#a9d18e" stroke-width="1.5" stroke-opacity="0.9"/>
<circle cx="747.7" cy="319.3" r="2.3" fill="#fff"/><path d="M745.3,318.9a2.4,2.4 0 0 0 4.8,0" fill="none" stroke="#a9d18e" stroke-width="1.5" stroke-opacity="0.9"/>
<circle cx="763.0" cy="314.4" r="2.3" fill="#fff"/><path d="M760.6,314.0a2.4,2.4 0 0 0 4.8,0" fill="none" stroke="#a9d18e" stroke-width="1.5" stroke-opacity="0.9"/>
<circle cx="778.4" cy="310.8" r="2.3" fill="#fff"/><path d="M776.0,310.4a2.4,2.4 0 0 0 4.8,0" fill="none" stroke="#a9d18e" stroke-width="1.5" stroke-opacity="0.9"/>
<circle cx="793.7" cy="292.5" r="2.3" fill="#fff"/><path d="M791.3,292.1a2.4,2.4 0 0 0 4.8,0" fill="none" stroke="#a9d18e" stroke-width="1.5" stroke-opacity="0.9"/>
<circle cx="809.0" cy="274.2" r="2.3" fill="#fff"/><path d="M806.6,273.8a2.4,2.4 0 0 0 4.8,0" fill="none" stroke="#a9d18e" stroke-width="1.5" stroke-opacity="0.9"/>
<circle cx="824.4" cy="265.7" r="2.3" fill="#fff"/><path d="M822.0,265.3a2.4,2.4 0 0 0 4.8,0" fill="none" stroke="#a9d18e" stroke-width="1.5" stroke-opacity="0.9"/>
<circle cx="839.7" cy="258.4" r="2.3" fill="#fff"/><path d="M837.3,258.0a2.4,2.4 0 0 0 4.8,0" fill="none" stroke="#a9d18e" stroke-width="1.5" stroke-opacity="0.9"/>
<circle cx="855.0" cy="258.4" r="2.3" fill="#fff"/><path d="M852.6,258.0a2.4,2.4 0 0 0 4.8,0" fill="none" stroke="#a9d18e" stroke-width="1.5" stroke-opacity="0.9"/>
<circle cx="870.4" cy="294.9" r="2.3" fill="#fff"/><path d="M868.0,294.5a2.4,2.4 0 0 0 4.8,0" fill="none" stroke="#a9d18e" stroke-width="1.5" stroke-opacity="0.9"/>
<circle cx="885.7" cy="365.6" r="2.3" fill="#fff"/><path d="M883.3,365.2a2.4,2.4 0 0 0 4.8,0" fill="none" stroke="#a9d18e" stroke-width="1.5" stroke-opacity="0.9"/>
<circle cx="901.1" cy="432.6" r="2.3" fill="#fff"/><path d="M898.7,432.2a2.4,2.4 0 0 0 4.8,0" fill="none" stroke="#a9d18e" stroke-width="1.5" stroke-opacity="0.9"/>
<circle cx="916.4" cy="475.2" r="2.3" fill="#fff"/><path d="M914.0,474.8a2.4,2.4 0 0 0 4.8,0" fill="none" stroke="#a9d18e" stroke-width="1.5" stroke-opacity="0.9"/>
<circle cx="931.7" cy="511.8" r="2.3" fill="#fff"/><path d="M929.3,511.4a2.4,2.4 0 0 0 4.8,0" fill="none" stroke="#a9d18e" stroke-width="1.5" stroke-opacity="0.9"/>
<circle cx="947.1" cy="536.1" r="2.3" fill="#fff"/><path d="M944.7,535.8a2.4,2.4 0 0 0 4.8,0" fill="none" stroke="#a9d18e" stroke-width="1.5" stroke-opacity="0.9"/>
<circle cx="962.4" cy="555.6" r="2.3" fill="#fff"/><path d="M960.0,555.2a2.4,2.4 0 0 0 4.8,0" fill="none" stroke="#a9d18e" stroke-width="1.5" stroke-opacity="0.9"/>
<circle cx="977.8" cy="592.2" r="2.3" fill="#fff"/><path d="M975.4,591.8a2.4,2.4 0 0 0 4.8,0" fill="none" stroke="#a9d18e" stroke-width="1.5" stroke-opacity="0.9"/>
<circle cx="993.1" cy="603.2" r="2.3" fill="#fff"/><path d="M990.7,602.8a2.4,2.4 0 0 0 4.8,0" fill="none" stroke="#a9d18e" stroke-width="1.5" stroke-opacity="0.9"/>
<circle cx="1008.4" cy="608.0" r="2.3" fill="#fff"/><path d="M1006.0,607.6a2.4,2.4 0 0 0 4.8,0" fill="none" stroke="#a9d18e" stroke-width="1.5" stroke-opacity="0.9"/>
<circle cx="1023.8" cy="621.4" r="2.3" fill="#fff"/><path d="M1021.4,621.0a2.4,2.4 0 0 0 4.8,0" fill="none" stroke="#a9d18e" stroke-width="1.5" stroke-opacity="0.9"/>
<circle cx="1039.1" cy="622.7" r="2.3" fill="#fff"/><path d="M1036.7,622.3a2.4,2.4 0 0 0 4.8,0" fill="none" stroke="#a9d18e" stroke-width="1.5" stroke-opacity="0.9"/>
<circle cx="1054.4" cy="633.6" r="2.3" fill="#fff"/><path d="M1052.0,633.2a2.4,2.4 0 0 0 4.8,0" fill="none" stroke="#a9d18e" stroke-width="1.5" stroke-opacity="0.9"/>
<circle cx="1069.8" cy="634.0" r="2.3" fill="#fff"/><path d="M1067.4,633.6a2.4,2.4 0 0 0 4.8,0" fill="none" stroke="#a9d18e" stroke-width="1.5" stroke-opacity="0.9"/>
<circle cx="1085.1" cy="626.3" r="2.3" fill="#fff"/><path d="M1082.7,625.9a2.4,2.4 0 0 0 4.8,0" fill="none" stroke="#a9d18e" stroke-width="1.5" stroke-opacity="0.9"/>
<circle cx="1100.5" cy="623.9" r="2.3" fill="#fff"/><path d="M1098.0,623.5a2.4,2.4 0 0 0 4.8,0" fill="none" stroke="#a9d18e" stroke-width="1.5" stroke-opacity="0.9"/>
<circle cx="1115.8" cy="632.4" r="2.3" fill="#fff"/><path d="M1113.4,632.0a2.4,2.4 0 0 0 4.8,0" fill="none" stroke="#a9d18e" stroke-width="1.5" stroke-opacity="0.9"/>
<circle cx="1131.1" cy="645.8" r="2.3" fill="#fff"/><path d="M1128.7,645.4a2.4,2.4 0 0 0 4.8,0" fill="none" stroke="#a9d18e" stroke-width="1.5" stroke-opacity="0.9"/>
<circle cx="1146.5" cy="651.9" r="2.3" fill="#fff"/><path d="M1144.1,651.5a2.4,2.4 0 0 0 4.8,0" fill="none" stroke="#a9d18e" stroke-width="1.5" stroke-opacity="0.9"/>
<circle cx="1161.8" cy="647.0" r="2.3" fill="#fff"/><path d="M1159.4,646.6a2.4,2.4 0 0 0 4.8,0" fill="none" stroke="#a9d18e" stroke-width="1.5" stroke-opacity="0.9"/>
<circle cx="1177.1" cy="645.8" r="2.3" fill="#fff"/><path d="M1174.7,645.4a2.4,2.4 0 0 0 4.8,0" fill="none" stroke="#a9d18e" stroke-width="1.5" stroke-opacity="0.9"/>
<circle cx="1192.5" cy="658.0" r="2.3" fill="#fff"/><path d="M1190.1,657.6a2.4,2.4 0 0 0 4.8,0" fill="none" stroke="#a9d18e" stroke-width="1.5" stroke-opacity="0.9"/>
<circle cx="1207.8" cy="665.3" r="2.3" fill="#fff"/><path d="M1205.4,664.9a2.4,2.4 0 0 0 4.8,0" fill="none" stroke="#a9d18e" stroke-width="1.5" stroke-opacity="0.9"/>
<circle cx="1223.2" cy="659.2" r="2.3" fill="#fff"/><path d="M1220.8,658.8a2.4,2.4 0 0 0 4.8,0" fill="none" stroke="#a9d18e" stroke-width="1.5" stroke-opacity="0.9"/>
<circle cx="1238.5" cy="660.4" r="2.3" fill="#fff"/><path d="M1236.1,660.0a2.4,2.4 0 0 0 4.8,0" fill="none" stroke="#a9d18e" stroke-width="1.5" stroke-opacity="0.9"/>
<circle cx="1253.8" cy="665.3" r="2.3" fill="#fff"/><path d="M1251.4,664.9a2.4,2.4 0 0 0 4.8,0" fill="none" stroke="#a9d18e" stroke-width="1.5" stroke-opacity="0.9"/>
<circle cx="1269.2" cy="662.9" r="2.3" fill="#fff"/><path d="M1266.8,662.5a2.4,2.4 0 0 0 4.8,0" fill="none" stroke="#a9d18e" stroke-width="1.5" stroke-opacity="0.9"/>
<circle cx="1284.5" cy="660.4" r="2.3" fill="#fff"/><path d="M1282.1,660.0a2.4,2.4 0 0 0 4.8,0" fill="none" stroke="#a9d18e" stroke-width="1.5" stroke-opacity="0.9"/>
<path d="M348.9,639.7C351.5,635.6 359.1,625.5 364.2,615.3C369.4,605.2 374.5,592.0 379.6,578.8C384.7,565.6 389.8,551.4 394.9,536.1C400.0,520.9 405.1,504.7 410.3,487.4C415.4,470.2 420.5,449.9 425.6,432.6C430.7,415.3 435.8,398.1 440.9,383.9C446.1,369.6 451.2,356.4 456.3,347.3C461.4,338.2 466.5,334.1 471.6,329.0C476.7,324.0 481.8,321.9 486.9,316.9C492.1,311.8 497.2,300.6 502.3,298.6C507.4,296.5 512.5,301.6 517.6,304.7C522.7,307.7 527.9,315.8 533.0,316.9C538.1,317.9 543.2,313.4 548.3,310.8C553.4,308.1 558.5,301.0 563.6,301.0C568.8,301.0 573.9,306.1 579.0,310.8C584.1,315.4 589.2,324.4 594.3,329.0C599.4,333.7 604.5,337.8 609.6,338.8C614.8,339.8 619.9,337.8 625.0,335.1C630.1,332.5 635.2,327.0 640.3,322.9C645.4,318.9 650.6,313.8 655.7,310.8C660.8,307.7 665.9,305.3 671.0,304.7C676.1,304.1 681.2,304.1 686.3,307.1C691.4,310.1 696.6,316.2 701.7,322.9C706.8,329.6 711.9,337.2 717.0,347.3C722.1,357.5 727.2,371.7 732.4,383.9C737.5,396.0 742.6,408.2 747.7,420.4C752.8,432.6 757.9,445.8 763.0,457.0C768.1,468.1 773.2,478.3 778.4,487.4C783.5,496.6 788.6,504.3 793.7,511.8C798.8,519.3 803.9,526.4 809.0,532.5C814.1,538.6 819.3,543.3 824.4,548.3C829.5,553.4 834.6,558.5 839.7,563.0C844.8,567.4 849.9,571.1 855.0,575.1C860.2,579.2 865.3,583.3 870.4,587.3C875.5,591.4 880.6,595.4 885.7,599.5C890.8,603.6 896.0,607.6 901.1,611.7C906.2,615.7 911.3,619.8 916.4,623.9C921.5,627.9 926.6,632.0 931.7,636.1C936.8,640.1 942.0,644.2 947.1,648.2C952.2,652.3 957.3,656.8 962.4,660.4C967.5,664.1 972.6,667.1 977.8,670.2C982.9,673.2 988.0,676.1 993.1,678.7C998.2,681.3 1005.9,684.8 1008.4,686.0" fill="none" stroke="#f2c040" stroke-width="0.95" stroke-dasharray="4 3" stroke-opacity="0.9"/>
<circle cx="348.9" cy="639.7" r="2.3" fill="#fff"/><path d="M346.5,639.3a2.4,2.4 0 0 0 4.8,0" fill="none" stroke="#f2c040" stroke-width="1.5" stroke-opacity="0.9"/>
<circle cx="364.2" cy="615.3" r="2.3" fill="#fff"/><path d="M361.9,614.9a2.4,2.4 0 0 0 4.8,0" fill="none" stroke="#f2c040" stroke-width="1.5" stroke-opacity="0.9"/>
<circle cx="379.6" cy="578.8" r="2.3" fill="#fff"/><path d="M377.2,578.4a2.4,2.4 0 0 0 4.8,0" fill="none" stroke="#f2c040" stroke-width="1.5" stroke-opacity="0.9"/>
<circle cx="394.9" cy="536.1" r="2.3" fill="#fff"/><path d="M392.5,535.8a2.4,2.4 0 0 0 4.8,0" fill="none" stroke="#f2c040" stroke-width="1.5" stroke-opacity="0.9"/>
<circle cx="410.3" cy="487.4" r="2.3" fill="#fff"/><path d="M407.9,487.0a2.4,2.4 0 0 0 4.8,0" fill="none" stroke="#f2c040" stroke-width="1.5" stroke-opacity="0.9"/>
<circle cx="425.6" cy="432.6" r="2.3" fill="#fff"/><path d="M423.2,432.2a2.4,2.4 0 0 0 4.8,0" fill="none" stroke="#f2c040" stroke-width="1.5" stroke-opacity="0.9"/>
<circle cx="440.9" cy="383.9" r="2.3" fill="#fff"/><path d="M438.5,383.5a2.4,2.4 0 0 0 4.8,0" fill="none" stroke="#f2c040" stroke-width="1.5" stroke-opacity="0.9"/>
<circle cx="456.3" cy="347.3" r="2.3" fill="#fff"/><path d="M453.9,346.9a2.4,2.4 0 0 0 4.8,0" fill="none" stroke="#f2c040" stroke-width="1.5" stroke-opacity="0.9"/>
<circle cx="471.6" cy="329.0" r="2.3" fill="#fff"/><path d="M469.2,328.6a2.4,2.4 0 0 0 4.8,0" fill="none" stroke="#f2c040" stroke-width="1.5" stroke-opacity="0.9"/>
<circle cx="486.9" cy="316.9" r="2.3" fill="#fff"/><path d="M484.6,316.5a2.4,2.4 0 0 0 4.8,0" fill="none" stroke="#f2c040" stroke-width="1.5" stroke-opacity="0.9"/>
<circle cx="502.3" cy="298.6" r="2.3" fill="#fff"/><path d="M499.9,298.2a2.4,2.4 0 0 0 4.8,0" fill="none" stroke="#f2c040" stroke-width="1.5" stroke-opacity="0.9"/>
<circle cx="517.6" cy="304.7" r="2.3" fill="#fff"/><path d="M515.2,304.3a2.4,2.4 0 0 0 4.8,0" fill="none" stroke="#f2c040" stroke-width="1.5" stroke-opacity="0.9"/>
<circle cx="533.0" cy="316.9" r="2.3" fill="#fff"/><path d="M530.6,316.5a2.4,2.4 0 0 0 4.8,0" fill="none" stroke="#f2c040" stroke-width="1.5" stroke-opacity="0.9"/>
<circle cx="548.3" cy="310.8" r="2.3" fill="#fff"/><path d="M545.9,310.4a2.4,2.4 0 0 0 4.8,0" fill="none" stroke="#f2c040" stroke-width="1.5" stroke-opacity="0.9"/>
<circle cx="563.6" cy="301.0" r="2.3" fill="#fff"/><path d="M561.2,300.6a2.4,2.4 0 0 0 4.8,0" fill="none" stroke="#f2c040" stroke-width="1.5" stroke-opacity="0.9"/>
<circle cx="579.0" cy="310.8" r="2.3" fill="#fff"/><path d="M576.6,310.4a2.4,2.4 0 0 0 4.8,0" fill="none" stroke="#f2c040" stroke-width="1.5" stroke-opacity="0.9"/>
<circle cx="594.3" cy="329.0" r="2.3" fill="#fff"/><path d="M591.9,328.6a2.4,2.4 0 0 0 4.8,0" fill="none" stroke="#f2c040" stroke-width="1.5" stroke-opacity="0.9"/>
<circle cx="609.6" cy="338.8" r="2.3" fill="#fff"/><path d="M607.2,338.4a2.4,2.4 0 0 0 4.8,0" fill="none" stroke="#f2c040" stroke-width="1.5" stroke-opacity="0.9"/>
<circle cx="625.0" cy="335.1" r="2.3" fill="#fff"/><path d="M622.6,334.7a2.4,2.4 0 0 0 4.8,0" fill="none" stroke="#f2c040" stroke-width="1.5" stroke-opacity="0.9"/>
<circle cx="640.3" cy="322.9" r="2.3" fill="#fff"/><path d="M637.9,322.5a2.4,2.4 0 0 0 4.8,0" fill="none" stroke="#f2c040" stroke-width="1.5" stroke-opacity="0.9"/>
<circle cx="655.7" cy="310.8" r="2.3" fill="#fff"/><path d="M653.3,310.4a2.4,2.4 0 0 0 4.8,0" fill="none" stroke="#f2c040" stroke-width="1.5" stroke-opacity="0.9"/>
<circle cx="671.0" cy="304.7" r="2.3" fill="#fff"/><path d="M668.6,304.3a2.4,2.4 0 0 0 4.8,0" fill="none" stroke="#f2c040" stroke-width="1.5" stroke-opacity="0.9"/>
<circle cx="686.3" cy="307.1" r="2.3" fill="#fff"/><path d="M683.9,306.7a2.4,2.4 0 0 0 4.8,0" fill="none" stroke="#f2c040" stroke-width="1.5" stroke-opacity="0.9"/>
<circle cx="701.7" cy="322.9" r="2.3" fill="#fff"/><path d="M699.3,322.5a2.4,2.4 0 0 0 4.8,0" fill="none" stroke="#f2c040" stroke-width="1.5" stroke-opacity="0.9"/>
<circle cx="717.0" cy="347.3" r="2.3" fill="#fff"/><path d="M714.6,346.9a2.4,2.4 0 0 0 4.8,0" fill="none" stroke="#f2c040" stroke-width="1.5" stroke-opacity="0.9"/>
<circle cx="732.4" cy="383.9" r="2.3" fill="#fff"/><path d="M730.0,383.5a2.4,2.4 0 0 0 4.8,0" fill="none" stroke="#f2c040" stroke-width="1.5" stroke-opacity="0.9"/>
<circle cx="747.7" cy="420.4" r="2.3" fill="#fff"/><path d="M745.3,420.0a2.4,2.4 0 0 0 4.8,0" fill="none" stroke="#f2c040" stroke-width="1.5" stroke-opacity="0.9"/>
<circle cx="763.0" cy="457.0" r="2.3" fill="#fff"/><path d="M760.6,456.6a2.4,2.4 0 0 0 4.8,0" fill="none" stroke="#f2c040" stroke-width="1.5" stroke-opacity="0.9"/>
<circle cx="778.4" cy="487.4" r="2.3" fill="#fff"/><path d="M776.0,487.0a2.4,2.4 0 0 0 4.8,0" fill="none" stroke="#f2c040" stroke-width="1.5" stroke-opacity="0.9"/>
<circle cx="793.7" cy="511.8" r="2.3" fill="#fff"/><path d="M791.3,511.4a2.4,2.4 0 0 0 4.8,0" fill="none" stroke="#f2c040" stroke-width="1.5" stroke-opacity="0.9"/>
<circle cx="809.0" cy="532.5" r="2.3" fill="#fff"/><path d="M806.6,532.1a2.4,2.4 0 0 0 4.8,0" fill="none" stroke="#f2c040" stroke-width="1.5" stroke-opacity="0.9"/>
<circle cx="824.4" cy="548.3" r="2.3" fill="#fff"/><path d="M822.0,547.9a2.4,2.4 0 0 0 4.8,0" fill="none" stroke="#f2c040" stroke-width="1.5" stroke-opacity="0.9"/>
<circle cx="839.7" cy="563.0" r="2.3" fill="#fff"/><path d="M837.3,562.6a2.4,2.4 0 0 0 4.8,0" fill="none" stroke="#f2c040" stroke-width="1.5" stroke-opacity="0.9"/>
<circle cx="855.0" cy="575.1" r="2.3" fill="#fff"/><path d="M852.6,574.7a2.4,2.4 0 0 0 4.8,0" fill="none" stroke="#f2c040" stroke-width="1.5" stroke-opacity="0.9"/>
<circle cx="870.4" cy="587.3" r="2.3" fill="#fff"/><path d="M868.0,586.9a2.4,2.4 0 0 0 4.8,0" fill="none" stroke="#f2c040" stroke-width="1.5" stroke-opacity="0.9"/>
<circle cx="885.7" cy="599.5" r="2.3" fill="#fff"/><path d="M883.3,599.1a2.4,2.4 0 0 0 4.8,0" fill="none" stroke="#f2c040" stroke-width="1.5" stroke-opacity="0.9"/>
<circle cx="901.1" cy="611.7" r="2.3" fill="#fff"/><path d="M898.7,611.3a2.4,2.4 0 0 0 4.8,0" fill="none" stroke="#f2c040" stroke-width="1.5" stroke-opacity="0.9"/>
<circle cx="916.4" cy="623.9" r="2.3" fill="#fff"/><path d="M914.0,623.5a2.4,2.4 0 0 0 4.8,0" fill="none" stroke="#f2c040" stroke-width="1.5" stroke-opacity="0.9"/>
<circle cx="931.7" cy="636.1" r="2.3" fill="#fff"/><path d="M929.3,635.7a2.4,2.4 0 0 0 4.8,0" fill="none" stroke="#f2c040" stroke-width="1.5" stroke-opacity="0.9"/>
<circle cx="947.1" cy="648.2" r="2.3" fill="#fff"/><path d="M944.7,647.8a2.4,2.4 0 0 0 4.8,0" fill="none" stroke="#f2c040" stroke-width="1.5" stroke-opacity="0.9"/>
<circle cx="962.4" cy="660.4" r="2.3" fill="#fff"/><path d="M960.0,660.0a2.4,2.4 0 0 0 4.8,0" fill="none" stroke="#f2c040" stroke-width="1.5" stroke-opacity="0.9"/>
<circle cx="977.8" cy="670.2" r="2.3" fill="#fff"/><path d="M975.4,669.8a2.4,2.4 0 0 0 4.8,0" fill="none" stroke="#f2c040" stroke-width="1.5" stroke-opacity="0.9"/>
<circle cx="993.1" cy="678.7" r="2.3" fill="#fff"/><path d="M990.7,678.3a2.4,2.4 0 0 0 4.8,0" fill="none" stroke="#f2c040" stroke-width="1.5" stroke-opacity="0.9"/>
<circle cx="1008.4" cy="686.0" r="2.3" fill="#fff"/><path d="M1006.0,685.6a2.4,2.4 0 0 0 4.8,0" fill="none" stroke="#f2c040" stroke-width="1.5" stroke-opacity="0.9"/>
<path d="M57.5,664.5C65.2,662.8 91.2,656.9 104.0,654.0C116.8,651.1 126.3,649.3 134.0,647.0C141.7,644.7 144.0,643.2 150.0,640.0C156.0,636.8 164.7,630.7 170.0,628.0C175.3,625.3 177.7,625.2 182.0,624.0C186.3,622.8 191.3,622.3 196.0,621.0C200.7,619.7 205.0,618.0 210.0,616.0C215.0,614.0 221.0,611.8 226.0,609.0C231.0,606.2 235.0,602.5 240.0,599.0C245.0,595.5 251.0,591.5 256.0,588.0C261.0,584.5 265.0,581.8 270.0,578.0C275.0,574.2 280.7,569.8 286.0,565.0C291.3,560.2 297.5,553.2 302.0,549.0C306.5,544.8 309.0,543.8 313.0,540.0C317.0,536.2 321.7,531.0 326.0,526.0C330.3,521.0 335.2,514.5 339.0,510.0C342.8,505.4 345.8,502.5 348.5,498.7C351.2,494.9 352.8,491.3 355.0,487.0C357.2,482.7 358.8,478.5 361.5,472.8C364.2,467.1 367.8,459.5 371.0,453.0C374.2,446.5 377.5,440.5 381.0,434.0C384.5,427.5 388.2,421.0 392.0,414.0C395.8,407.0 400.0,399.7 404.0,392.0C408.0,384.3 412.3,374.7 416.0,368.0C419.7,361.3 422.3,356.8 426.0,352.0C429.7,347.2 433.7,342.5 438.0,339.0C442.3,335.5 447.0,333.2 452.0,331.0C457.0,328.8 461.7,327.2 468.0,326.0C474.3,324.8 481.3,324.2 490.0,323.6C498.7,323.0 508.3,322.7 520.0,322.6C531.7,322.5 520.0,322.9 560.0,323.0C600.0,323.1 720.0,323.0 760.0,323.0C800.0,323.0 788.3,322.7 800.0,323.0C811.7,323.3 821.7,324.2 830.0,325.0C838.3,325.8 844.3,326.8 850.0,328.0C855.7,329.2 859.7,330.3 864.0,332.0C868.3,333.7 872.7,335.8 876.0,338.0C879.3,340.2 881.3,342.0 884.0,345.0C886.7,348.0 889.0,351.5 892.0,356.0C895.0,360.5 898.7,366.0 902.0,372.0C905.3,378.0 908.7,385.3 912.0,392.0C915.3,398.7 918.7,405.3 922.0,412.0C925.3,418.7 928.7,425.3 932.0,432.0C935.3,438.7 939.0,445.7 942.0,452.0C945.0,458.3 947.3,464.0 950.0,470.0C952.7,476.0 955.7,483.0 958.0,488.0C960.3,493.0 961.7,496.3 964.0,500.0C966.3,503.7 968.7,506.3 972.0,510.0C975.3,513.7 979.3,517.6 984.0,522.0C988.7,526.4 995.3,532.3 1000.0,536.5C1004.7,540.7 1005.7,541.8 1012.0,547.0C1018.3,552.2 1029.3,561.0 1038.0,567.5C1046.7,574.0 1056.6,580.5 1064.4,585.7C1072.2,590.9 1078.9,594.6 1085.0,598.7C1091.1,602.8 1094.0,606.4 1101.0,610.5C1108.0,614.6 1117.5,618.8 1127.0,623.5C1136.5,628.2 1147.6,634.2 1158.0,639.0C1168.4,643.8 1179.1,648.0 1189.6,652.0C1200.1,656.0 1210.6,659.0 1221.0,662.7C1231.4,666.4 1241.4,670.6 1252.0,674.4C1262.6,678.2 1279.0,683.6 1284.4,685.4" fill="none" stroke="#5bc98b" stroke-width="3.7" stroke-linecap="round" stroke-linejoin="round"/>
<path d="M57.5,631.3C60.9,630.8 68.0,629.1 77.6,628.1C87.2,627.0 106.0,624.7 115.2,625.1C124.4,625.4 127.3,629.2 132.7,630.1C138.1,631.0 142.3,630.2 147.7,630.6C153.2,631.0 158.2,633.3 165.3,632.6C172.4,631.9 182.0,628.8 190.3,626.3C198.7,623.8 207.1,620.3 215.4,617.5C223.8,614.8 231.3,612.9 240.5,610.0C249.7,607.1 263.0,602.7 270.5,600.0C278.0,597.3 280.1,597.0 285.6,594.1C291.0,591.2 297.7,586.2 303.1,582.8C308.5,579.5 311.9,577.6 318.1,574.1C324.4,570.5 332.9,567.2 340.7,561.5C348.5,555.9 358.5,546.2 364.7,540.0C370.9,533.8 373.3,529.2 377.6,524.5C381.9,519.8 387.1,515.0 390.6,511.5C394.1,508.0 396.0,507.0 398.7,503.5C401.4,500.0 404.3,494.7 406.7,490.6C409.1,486.5 411.0,482.5 413.2,479.0C415.4,475.5 416.9,474.7 420.0,469.5C423.1,464.3 428.0,456.2 432.0,448.0C436.0,439.8 440.3,429.0 444.0,420.0C447.7,411.0 450.7,402.7 454.0,394.0C457.3,385.3 461.0,376.0 464.0,368.0C467.0,360.0 469.3,353.3 472.0,346.0C474.7,338.7 477.3,330.7 480.0,324.0C482.7,317.3 485.4,311.2 488.0,306.0C490.6,300.8 492.5,296.7 495.4,292.6C498.3,288.5 501.2,284.7 505.4,281.4C509.6,278.1 514.6,274.7 520.5,273.0C526.4,271.3 533.0,271.8 540.5,271.3C548.0,270.8 539.0,270.2 565.6,270.0C592.2,269.8 667.6,269.8 700.0,270.0C732.4,270.2 746.7,270.7 760.0,271.0C773.3,271.3 774.3,271.5 780.0,272.0C785.7,272.5 790.0,273.0 794.0,274.0C798.0,275.0 800.7,276.0 804.0,278.0C807.3,280.0 811.0,282.7 814.0,286.0C817.0,289.3 819.3,293.0 822.0,298.0C824.7,303.0 827.7,310.3 830.0,316.0C832.3,321.7 833.7,326.3 836.0,332.0C838.3,337.7 841.3,343.0 844.0,350.0C846.7,357.0 849.3,365.7 852.0,374.0C854.7,382.3 857.3,392.0 860.0,400.0C862.7,408.0 865.7,415.7 868.0,422.0C870.3,428.3 872.0,433.0 874.0,438.0C876.0,443.0 877.3,447.0 880.0,452.0C882.7,457.0 886.0,462.7 890.0,468.0C894.0,473.3 899.0,478.3 904.0,484.0C909.0,489.7 914.7,496.0 920.0,502.0C925.3,508.0 930.7,514.0 936.0,520.0C941.3,526.0 946.3,532.0 952.0,538.0C957.7,544.0 963.5,550.7 970.0,556.0C976.5,561.3 984.8,565.9 991.0,570.0C997.2,574.1 1001.3,576.4 1007.0,580.5C1012.7,584.6 1018.5,590.9 1025.0,594.8C1031.5,598.7 1038.6,600.7 1046.0,604.0C1053.4,607.3 1061.3,610.7 1069.6,614.4C1077.9,618.1 1087.9,622.7 1095.7,626.0C1103.5,629.3 1108.8,630.5 1116.6,634.0C1124.4,637.5 1136.6,643.8 1142.7,647.0C1148.8,650.2 1148.7,650.2 1153.0,653.5C1157.3,656.8 1163.6,662.5 1168.8,666.6C1174.0,670.7 1177.9,673.9 1184.4,678.3C1190.9,682.6 1197.1,687.3 1208.0,692.7C1218.9,698.1 1237.2,704.8 1250.0,710.5C1262.8,716.2 1279.2,724.2 1285.0,727.0" fill="none" stroke="#5bc8f5" stroke-width="3.7" stroke-linecap="round" stroke-linejoin="round"/>
<path d="M57.5,687.7C58.8,682.7 61.7,666.8 65.1,657.6C68.4,648.4 73.4,638.4 77.6,632.6C81.8,626.7 85.5,625.7 90.1,622.6C94.7,619.4 98.1,616.0 105.2,613.7C112.3,611.3 124.8,610.4 132.7,608.4C140.6,606.4 145.2,603.3 152.8,601.6C160.3,600.0 170.7,600.2 177.8,598.4C184.9,596.5 189.5,593.9 195.4,590.3C201.2,586.8 205.4,580.0 212.9,577.3C220.4,574.6 231.7,575.3 240.5,574.1C249.2,572.8 258.0,570.6 265.5,569.8C273.0,569.0 279.3,568.6 285.6,569.5C291.8,570.5 297.7,574.1 303.1,575.3C308.5,576.5 311.9,577.8 318.1,576.6C324.4,575.3 332.9,571.8 340.7,567.8C348.5,563.8 356.8,556.9 365.1,552.8C373.3,548.6 382.6,546.5 390.1,542.7C397.6,539.0 404.3,534.8 410.2,530.2C416.0,525.6 420.2,519.1 425.2,515.2C430.2,511.2 435.6,510.2 440.2,506.4C444.8,502.6 448.5,498.2 452.8,492.6C457.1,487.0 461.5,479.6 466.0,472.8C470.5,466.0 475.7,459.5 480.0,452.0C484.3,444.5 488.3,436.0 492.0,428.0C495.7,420.0 499.0,412.0 502.0,404.0C505.0,396.0 507.3,388.3 510.0,380.0C512.7,371.7 515.7,362.3 518.0,354.0C520.3,345.7 522.0,337.7 524.0,330.0C526.0,322.3 527.3,319.2 530.0,308.0C532.7,296.8 537.3,274.2 540.2,262.9C543.2,251.6 545.2,246.4 547.7,240.3C550.3,234.3 552.3,230.3 555.3,226.5C558.2,222.8 561.1,219.8 565.3,217.8C569.5,215.8 567.8,215.4 580.3,214.5C592.9,213.6 627.5,212.3 640.5,212.3C653.4,212.2 649.7,213.9 658.0,214.0C666.4,214.1 676.8,212.8 690.6,212.8C704.4,212.8 729.1,213.3 740.7,214.0C752.3,214.7 755.4,215.7 760.0,217.0C764.6,218.3 765.3,219.7 768.0,222.0C770.7,224.3 773.7,227.3 776.0,231.0C778.3,234.7 780.0,238.5 782.0,244.0C784.0,249.5 786.0,256.7 788.0,264.0C790.0,271.3 792.0,279.7 794.0,288.0C796.0,296.3 798.2,306.0 800.0,314.0C801.8,322.0 803.5,329.5 805.0,336.0C806.5,342.5 807.5,346.5 809.0,352.8C810.5,359.1 812.2,367.1 814.0,374.0C815.8,380.9 818.0,388.0 820.0,394.0C822.0,400.0 824.0,405.3 826.0,410.0C828.0,414.7 829.3,417.3 832.0,422.0C834.7,426.7 838.3,432.3 842.0,438.0C845.7,443.7 849.7,449.7 854.0,456.0C858.3,462.3 863.7,470.0 868.0,476.0C872.3,482.0 875.3,486.0 880.0,492.0C884.7,498.0 890.7,506.3 896.0,512.0C901.3,517.7 906.3,521.0 912.0,526.0C917.7,531.0 923.7,536.7 930.0,542.0C936.3,547.3 941.7,552.5 950.0,558.0C958.3,563.5 970.5,569.1 980.0,575.0C989.5,580.9 999.9,587.2 1007.0,593.5C1014.1,599.8 1017.4,607.4 1022.6,613.0C1027.8,618.6 1033.1,622.8 1038.3,627.4C1043.5,632.0 1048.4,636.6 1054.0,640.5C1059.6,644.4 1064.3,646.6 1072.0,651.0C1079.7,655.4 1090.2,660.9 1100.0,666.8C1109.8,672.7 1120.7,679.9 1131.0,686.5C1141.3,693.1 1153.3,701.1 1162.0,706.3C1170.7,711.5 1175.3,713.2 1183.0,717.7C1190.7,722.2 1200.3,728.1 1208.0,733.3C1215.7,738.5 1221.3,743.6 1229.0,749.0C1236.7,754.4 1247.8,760.4 1254.0,765.6C1260.2,770.8 1262.2,775.5 1266.0,780.0C1269.8,784.5 1273.3,788.3 1277.0,792.6C1280.7,796.9 1286.2,803.8 1288.0,806.0" fill="none" stroke="#6d2ca3" stroke-width="3.7" stroke-linecap="round" stroke-linejoin="round"/>
</g>
<text x="649" y="22.7" text-anchor="middle" font-size="16" textLength="442" lengthAdjust="spacingAndGlyphs" style="fill:#484848">Bruit au passage FRET au point PF1 (Mesuré/Simulé)</text>
<text x="46" y="795.9" text-anchor="end" font-size="10.6">40</text>
<text x="46" y="674.1" text-anchor="end" font-size="10.6">50</text>
<text x="46" y="552.2" text-anchor="end" font-size="10.6">60</text>
<text x="46" y="430.4" text-anchor="end" font-size="10.6">70</text>
<text x="46" y="308.6" text-anchor="end" font-size="10.6">80</text>
<text x="46" y="186.7" text-anchor="end" font-size="10.6">90</text>
<text x="46" y="64.9" text-anchor="end" font-size="10.6">100</text>
<text x="57.8" y="811.9" text-anchor="middle" font-size="10.6">-40</text>
<text x="364.6" y="811.9" text-anchor="middle" font-size="10.6">-20</text>
<text x="671.3" y="811.9" text-anchor="middle" font-size="10.6">0</text>
<text x="978.0" y="811.9" text-anchor="middle" font-size="10.6">20</text>
<text x="1284.8" y="811.9" text-anchor="middle" font-size="10.6">40</text>
<text x="671.3" y="827.9" text-anchor="middle" font-size="10.3" textLength="49" lengthAdjust="spacingAndGlyphs">Temps (s)</text>
<text transform="translate(21,427.3) rotate(-90)" text-anchor="middle" font-size="10.3" textLength="40.5" lengthAdjust="spacingAndGlyphs">Lp dB(A)</text>
<path d="M167.6,848.1h4.2M182.2,848.1h3.8" stroke="#b4c7e7" stroke-width="1.2" fill="none"/>
<path d="M174.4,847.4a2.6,2.6 0 0 0 5.2,0" fill="none" stroke="#6a8fd0" stroke-width="1.5"/>
<text x="188.6" y="852.6" font-size="13.6" textLength="124.7" lengthAdjust="spacingAndGlyphs">Passages mesurés</text>
<path d="M376.6,847.9H393.4" stroke="#5bc98b" stroke-width="4.4" stroke-linecap="round"/>
<text x="396.6" y="852.6" font-size="13.6" textLength="177.6" lengthAdjust="spacingAndGlyphs">Passage calculé à 50km/h</text>
<path d="M637.9,847.9H654.7" stroke="#5bc8f5" stroke-width="4.4" stroke-linecap="round"/>
<text x="657.9" y="852.6" font-size="13.6" textLength="177.6" lengthAdjust="spacingAndGlyphs">Passage calculé à 70km/h</text>
<path d="M902.5,847.9H919.7" stroke="#7030a0" stroke-width="4.4" stroke-linecap="round"/>
<text x="923.3" y="852.6" font-size="13.6" textLength="186.2" lengthAdjust="spacingAndGlyphs">Passage calculé à 100km/h</text>
</svg>
</body></html>
